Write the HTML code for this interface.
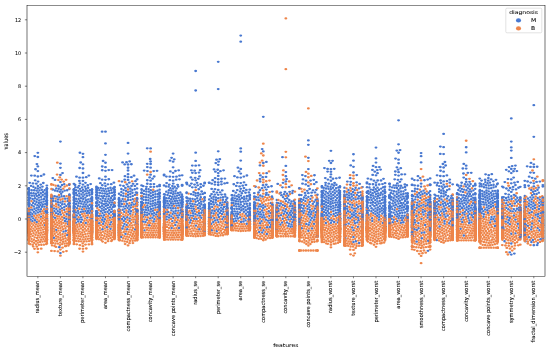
<!DOCTYPE html>
<html><head><meta charset="utf-8"><title>swarm plot</title>
<style>
html,body{margin:0;padding:0;background:#fff}
svg{display:block;filter:blur(0.3px)}
path{transform:scale(2.9,2.3)}
path.d{transform:scale(2.5,2.4)}
.m{stroke:#4878d0}
.b{stroke:#ee854a}
.t{font-family:"DejaVu Sans","Liberation Sans",sans-serif;fill:#000;stroke:#000;stroke-width:0.1}
</style></head><body>
<svg width="550" height="352" viewBox="0 0 550 352">
<rect width="550" height="352" fill="#fff"/>
<g fill="none" stroke-linecap="round" stroke-width="1">
<path class="m d" d="M11.53 83.54h.01M11.53 78.48h.01M18.75 80.21h.01M18.75 96.44h.01M18.75 79.03h.01M11.53 94.42h.01M11.53 83.03h.01M11.53 91.94h.01M11.53 93.34h.01M18.75 94.4h.01M12.89 87.41h.01M11.53 87.88h.01M17.08 81.23h.01M14.47 87.74h.01M11.53 91.9h.01M18.75 90.31h.01M18.75 90.04h.01M18.75 87.19h.01M11.53 79.97h.01"/>
<path class="b d" d="M11.53 92.28h.01M15.39 93.18h.01M11.53 100.2h.01"/>
<path class="m d" d="M11.53 88.74h.01"/>
<path class="m" d="M16.16 80.68h.01"/>
<path class="m d" d="M16.76 86.17h.01M17.14 85.21h.01M16.37 90.24h.01M15.49 82.33h.01M18.75 88.82h.01M16.48 84.37h.01M11.53 82.29h.01M11.53 95.61h.01M12.67 85.45h.01M18.75 81.03h.01M11.53 87.19h.01M13.47 86h.01M18.75 90.88h.01"/>
<path class="b d" d="M11.53 93.28h.01"/>
<path class="m d" d="M18.75 89.43h.01M11.53 92.4h.01M18.5 92.47h.01M11.53 97.36h.01M11.78 81.42h.01M18.75 92.79h.01M11.53 93h.01M18.75 82.25h.01"/>
<path class="b" d="M12.7 107.23h.01"/>
<path class="m d" d="M18.75 93h.01"/>
<path class="b d" d="M18.75 95.2h.01M18.75 92.38h.01M11.53 95.77h.01M16.93 92.08h.01M11.53 95.42h.01"/>
<path class="m d" d="M14.82 83.09h.01M11.53 89.22h.01"/>
<path class="b d" d="M18.75 96.24h.01"/>
<path class="m d" d="M11.53 81.15h.01M11.53 89.98h.01"/>
<path class="b d" d="M11.53 93.24h.01M17.51 101.94h.01M13.88 98.89h.01M13.09 101.98h.01"/>
<path class="m d" d="M11.53 90.88h.01"/>
<path class="b d" d="M16.04 100.85h.01"/>
<path class="m d" d="M11.53 93.97h.01M11.53 89.84h.01"/>
<path class="b d" d="M18.75 100.28h.01M11.53 96.65h.01M13.67 101.13h.01M18.75 93.77h.01"/>
<path class="m d" d="M14.72 81.68h.01"/>
<path class="b d" d="M18.75 101.41h.01"/>
<path class="m d" d="M11.53 85.09h.01M13.96 91.77h.01"/>
<path class="b d" d="M18.75 94.69h.01"/>
<path class="m d" d="M15.37 87.31h.01"/>
<path class="b d" d="M11.53 92.3h.01"/>
<path class="m d" d="M11.53 83.43h.01M17.83 79.25h.01"/>
<path class="b d" d="M11.53 93.61h.01M11.53 96.38h.01M18.75 92.67h.01"/>
<path class="m" d="M13.05 72.37h.01"/>
<path class="m d" d="M18.73 81.37h.01"/>
<path class="b d" d="M11.53 95.3h.01"/>
<path class="m d" d="M12.16 82.62h.01M18.75 90.43h.01M12.75 81.52h.01"/>
<path class="b d" d="M18.67 94.59h.01M18.75 90.12h.01M18.75 90.16h.01"/>
<path class="m d" d="M11.53 88.69h.01"/>
<path class="b d" d="M11.53 92.81h.01M18.75 92.45h.01"/>
<path class="m d" d="M18.75 89.29h.01M16.7 79.09h.01"/>
<path class="b d" d="M11.53 94.95h.01M11.53 99.64h.01M18.75 96.09h.01"/>
<path class="m d" d="M11.77 90.55h.01M12.97 92.14h.01"/>
<path class="b" d="M13.05 109.72h.01"/>
<path class="b d" d="M18.75 94.95h.01M11.53 99.47h.01M11.53 98.26h.01"/>
<path class="m d" d="M11.53 93.12h.01"/>
<path class="b d" d="M18.75 96.01h.01M18.75 94.59h.01"/>
<path class="m" d="M12.12 78.41h.01"/>
<path class="b d" d="M18.75 96.6h.01M18.75 99.66h.01M18.75 94.06h.01M11.53 90.86h.01M11.53 98.22h.01M12.13 101.73h.01M18.09 95.44h.01M11.53 101.29h.01"/>
<path class="m d" d="M11.53 89.67h.01M18.75 87.88h.01M18.32 83.62h.01"/>
<path class="b d" d="M11.53 96.46h.01"/>
<path class="m d" d="M11.53 82.23h.01"/>
<path class="m" d="M13.05 74.36h.01"/>
<path class="b d" d="M11.53 90.39h.01M11.53 92.61h.01M11.53 91.67h.01"/>
<path class="m d" d="M18.75 92.14h.01M13.73 81.56h.01"/>
<path class="b d" d="M18.75 89.22h.01"/>
<path class="m d" d="M17.16 80.01h.01"/>
<path class="b d" d="M18.75 94.93h.01"/>
<path class="m d" d="M12.23 88.51h.01M16.39 87.14h.01"/>
<path class="b d" d="M17.02 88.02h.01"/>
<path class="m d" d="M18.65 82.64h.01M18.04 93.79h.01"/>
<path class="b d" d="M18.75 95.87h.01M18.75 96.42h.01"/>
<path class="m d" d="M11.95 89.51h.01"/>
<path class="b d" d="M18.75 96.71h.01M11.53 99.74h.01"/>
<path class="m d" d="M18.75 87.23h.01"/>
<path class="b d" d="M11.53 96.42h.01M18.75 93.53h.01M17.14 97.75h.01M18.75 95.5h.01"/>
<path class="m d" d="M18.75 95.69h.01"/>
<path class="b d" d="M18.75 89.51h.01M11.53 90.51h.01M18.75 91.89h.01M18.75 93.34h.01"/>
<path class="b" d="M11.45 107.19h.01"/>
<path class="b d" d="M18.75 99.75h.01M16.49 96.97h.01M18.75 93.04h.01M11.53 94.81h.01"/>
<path class="m d" d="M14.6 84.15h.01"/>
<path class="b d" d="M18.7 85.8h.01M18.75 95.18h.01M18.05 97.46h.01M18.75 95.79h.01"/>
<path class="m d" d="M18.75 81.19h.01M18.75 80.4h.01"/>
<path class="b d" d="M17.46 94.63h.01"/>
<path class="m" d="M11.96 76.36h.01"/>
<path class="b d" d="M11.53 89.47h.01M18.75 97.66h.01"/>
<path class="m d" d="M11.63 85.92h.01M15.51 84.56h.01"/>
<path class="b d" d="M15.7 89.47h.01M18.75 94.67h.01"/>
<path class="m d" d="M14.67 92.49h.01M15.14 88.51h.01"/>
<path class="b d" d="M18.75 97.11h.01M11.53 97.93h.01M14.4 101.83h.01M18.75 99.41h.01"/>
<path class="m d" d="M14.7 86.55h.01"/>
<path class="b d" d="M11.53 93.32h.01M17 93.71h.01"/>
<path class="m" d="M13.05 68.27h.01"/>
<path class="m d" d="M15.14 77.46h.01M18.15 88.04h.01"/>
<path class="b d" d="M18.32 96.46h.01"/>
<path class="m d" d="M11.53 88.86h.01"/>
<path class="b d" d="M11.53 99.07h.01"/>
<path class="m d" d="M13.07 82.92h.01"/>
<path class="b d" d="M11.53 95.87h.01M17.13 95.67h.01M11.53 94.71h.01"/>
<path class="m d" d="M18.75 90.94h.01"/>
<path class="b d" d="M11.53 93.79h.01M11.53 99.78h.01"/>
<path class="m d" d="M11.53 94.63h.01M11.53 89.69h.01"/>
<path class="b d" d="M14.46 93.51h.01"/>
<path class="m d" d="M11.53 91.83h.01M18.75 83.37h.01M11.53 81.21h.01M11.53 90.49h.01"/>
<path class="b d" d="M11.54 94.85h.01"/>
<path class="m d" d="M18.75 84.43h.01"/>
<path class="m" d="M10.8 76.32h.01"/>
<path class="m d" d="M18.75 91.75h.01"/>
<path class="b d" d="M11.53 94.38h.01"/>
<path class="m d" d="M12.96 89.18h.01"/>
<path class="b d" d="M18.35 99.47h.01"/>
<path class="m d" d="M15.02 85.47h.01"/>
<path class="b d" d="M12.64 93.12h.01M17.57 88.88h.01"/>
<path class="m d" d="M18.75 78.46h.01"/>
<path class="b d" d="M11.53 95.61h.01"/>
<path class="m" d="M13.05 66.45h.01"/>
<path class="m d" d="M18.75 84.66h.01M13.3 91h.01M18.75 91.65h.01"/>
<path class="b d" d="M18.75 95.52h.01M18.75 98.83h.01"/>
<path class="m d" d="M11.53 79.99h.01M16.32 80.52h.01"/>
<path class="b d" d="M11.53 92.06h.01M18.75 92.24h.01M16.77 98.87h.01"/>
<path class="m d" d="M11.53 87.94h.01"/>
<path class="b d" d="M13.73 92.81h.01M14.3 90.71h.01M11.53 98.36h.01M18.75 89.41h.01M11.53 94.08h.01"/>
<path class="m d" d="M18.75 93.67h.01M11.53 85.39h.01"/>
<path class="b d" d="M18.75 96.63h.01M18.75 96.83h.01"/>
<path class="m d" d="M18.75 78.6h.01"/>
<path class="b d" d="M15.31 100.08h.01M18.75 91.32h.01"/>
<path class="m" d="M14.18 76.49h.01"/>
<path class="m d" d="M11.53 78.66h.01"/>
<path class="b d" d="M17.13 90.94h.01"/>
<path class="m d" d="M13.25 84.58h.01"/>
<path class="b d" d="M18.75 92.08h.01M14.08 94.48h.01M17.4 96.67h.01M18.75 91.87h.01"/>
<path class="m d" d="M11.53 80.78h.01"/>
<path class="b d" d="M13.09 98.28h.01M11.53 92.94h.01M18.75 93.55h.01M16.17 97.95h.01M12.99 96.24h.01"/>
<path class="m d" d="M16.97 77.75h.01"/>
<path class="b d" d="M18.75 96.28h.01"/>
<path class="m d" d="M18.75 80.13h.01M11.83 84.9h.01M17.92 80.68h.01M12.26 91.45h.01M11.53 80.48h.01M11.53 88.78h.01M16.05 88.12h.01M18.75 88.37h.01M18.75 78.99h.01M11.53 84.8h.01M18.75 84.92h.01M13.52 88.21h.01M14.1 85.11h.01M16.07 78.17h.01"/>
<path class="b d" d="M18.75 98.05h.01M18.75 92.18h.01M18.75 93.59h.01M14.19 97.83h.01M18.75 90.81h.01M11.53 96.69h.01"/>
<path class="m" d="M10.24 79.48h.01"/>
<path class="b d" d="M18.75 99.73h.01"/>
<path class="m d" d="M13.73 83.66h.01"/>
<path class="b d" d="M12.29 95.52h.01M11.53 96.62h.01"/>
<path class="m d" d="M17.9 81.93h.01"/>
<path class="b d" d="M15.66 92.18h.01M18.75 91.67h.01"/>
<path class="m d" d="M15.61 81.25h.01"/>
<path class="b d" d="M11.53 95.81h.01"/>
<path class="m d" d="M18.75 80.78h.01M13.8 86.98h.01"/>
<path class="b d" d="M11.53 93.55h.01M11.53 94.16h.01M11.53 95.42h.01M11.53 93.55h.01M18.75 96.75h.01M18.75 96.54h.01M18.05 90.57h.01M11.53 89.49h.01M11.53 93.44h.01M18.75 95.59h.01M18.75 93.89h.01M11.53 91.83h.01M18.75 97.44h.01"/>
<path class="m d" d="M18.75 95.77h.01"/>
<path class="b d" d="M18.75 90.86h.01M18.75 98.22h.01"/>
<path class="m d" d="M13.41 80.52h.01"/>
<path class="b d" d="M11.53 94.4h.01"/>
<path class="m d" d="M14.64 79.42h.01"/>
<path class="b d" d="M18.75 98.26h.01M18.75 96.36h.01M18.75 96.09h.01M18.75 92.94h.01M18.75 101.19h.01M18.75 92.36h.01M18.75 93.24h.01M11.53 95.89h.01M11.53 90.18h.01M11.53 93.81h.01M11.53 96.2h.01M16.52 101.98h.01M18.75 94.34h.01M11.53 94.95h.01"/>
<path class="m d" d="M16.6 83.09h.01"/>
<path class="b d" d="M15.08 101.11h.01M11.53 94.46h.01M11.53 98.73h.01"/>
<path class="m d" d="M13.66 79.28h.01"/>
<path class="b d" d="M11.53 93.61h.01"/>
<path class="m d" d="M11.53 78.93h.01"/>
<path class="b d" d="M18.75 94.91h.01M18.75 93.99h.01M18.75 91.16h.01M13.36 95.24h.01"/>
<path class="m d" d="M18.75 86.92h.01M11.53 86.94h.01M11.9 87.39h.01"/>
<path class="b d" d="M18.75 93.38h.01M11.53 96.83h.01M18.75 96.77h.01M18.75 94.71h.01"/>
<path class="m d" d="M16.14 85.37h.01"/>
<path class="b d" d="M18.75 93.36h.01"/>
<path class="m d" d="M16.43 82.01h.01"/>
<path class="b d" d="M18.75 99.13h.01"/>
<path class="m" d="M15.14 75.87h.01"/>
<path class="b d" d="M18.75 90.55h.01M18.75 100h.01M15.52 97.15h.01"/>
<path class="m d" d="M15.26 80.23h.01"/>
<path class="b d" d="M18.75 95.87h.01M18.75 98.72h.01M11.53 95.18h.01M17.29 89.88h.01M11.53 96.34h.01M18.75 95.4h.01M16.21 95.97h.01"/>
<path class="m d" d="M18.75 87.94h.01"/>
<path class="m" d="M12.73 71.32h.01"/>
<path class="m d" d="M11.53 89.26h.01"/>
<path class="b d" d="M18.75 96.99h.01M11.53 94.2h.01M18.75 93.24h.01M11.53 91.63h.01M11.53 101.43h.01M11.53 100.33h.01M18.75 94.24h.01M18.75 92.75h.01M13.35 93.81h.01M12.47 86.47h.01M18.75 92.55h.01"/>
<path class="m d" d="M11.53 78.74h.01M11.69 79.21h.01"/>
<path class="b d" d="M11.53 94.89h.01"/>
<path class="m" d="M14.93 79.56h.01M13.13 78.94h.01"/>
<path class="m d" d="M18.75 86.76h.01"/>
<path class="b d" d="M16.59 89.04h.01"/>
<path class="m" d="M14.04 80.25h.01"/>
<path class="m d" d="M14.17 78.34h.01"/>
<path class="b d" d="M11.53 91.98h.01M18.75 87.12h.01M15.14 98.11h.01M11.93 92.43h.01M18.75 92.04h.01"/>
<path class="m d" d="M11.53 97.11h.01"/>
<path class="b d" d="M18.75 96.73h.01M18.75 97.18h.01M11.53 95.2h.01M12.64 94.53h.01M11.53 92.79h.01"/>
<path class="m d" d="M12.7 90.2h.01"/>
<path class="b d" d="M18.75 94.89h.01M18.75 91.61h.01M11.53 96.73h.01"/>
<path class="m d" d="M12.43 80.48h.01"/>
<path class="b d" d="M18.75 98.72h.01M18.47 101.71h.01"/>
<path class="m d" d="M18.75 88.45h.01"/>
<path class="m" d="M11.36 79.76h.01"/>
<path class="b d" d="M18.75 95.1h.01M18.75 91.26h.01M11.53 92.34h.01M11.53 93.73h.01M11.53 97.15h.01M11.53 95.69h.01"/>
<path class="m d" d="M18.75 83.7h.01"/>
<path class="b d" d="M18.75 95.44h.01M11.53 93.42h.01M18.75 93.46h.01M18.75 94.63h.01M18.75 97.38h.01M17.59 87.17h.01M11.53 93.63h.01"/>
<path class="m d" d="M15.71 83.54h.01"/>
<path class="b d" d="M11.53 94.77h.01M12.08 96.56h.01M13.41 97.18h.01M14.38 100.41h.01M11.53 89.43h.01"/>
<path class="m d" d="M18.75 89.16h.01"/>
<path class="b d" d="M11.53 95.52h.01M11.85 100.39h.01"/>
<path class="m d" d="M18.75 88.43h.01"/>
<path class="b d" d="M16.08 93.93h.01M11.53 96.95h.01M15.25 96.14h.01M11.53 90.02h.01M13.97 96.07h.01M11.53 92.04h.01M11.53 99.73h.01M14.83 99.17h.01M18.65 98.28h.01M11.53 97.66h.01M18.75 97.01h.01M18.75 93.89h.01"/>
<path class="m d" d="M18.75 89.61h.01"/>
<path class="b d" d="M18.75 94.52h.01"/>
<path class="m d" d="M12.67 79.25h.01M18.75 81.91h.01"/>
<path class="b d" d="M11.53 89.69h.01"/>
<path class="m d" d="M18.75 91.41h.01"/>
<path class="b d" d="M11.53 93.59h.01M11.53 91.3h.01M17.83 91.67h.01M16.24 91.34h.01M11.53 97.32h.01"/>
<path class="m d" d="M18.1 84.96h.01"/>
<path class="b d" d="M11.53 91.81h.01M11.53 98.11h.01"/>
<path class="m d" d="M18.75 83.47h.01"/>
<path class="b d" d="M14.66 95.32h.01"/>
<path class="m d" d="M17.41 84.01h.01"/>
<path class="b d" d="M14.79 89.8h.01M11.53 90.33h.01"/>
<path class="m d" d="M12.4 77.44h.01"/>
<path class="b d" d="M11.53 95.56h.01"/>
<path class="m d" d="M11.53 80.4h.01"/>
<path class="b d" d="M18.75 95.3h.01M18.75 90.33h.01M18.75 94.08h.01M11.53 92.59h.01M11.53 96.03h.01M16.35 92.93h.01M18.75 93.34h.01M17.39 99.71h.01"/>
<path class="m d" d="M18.75 85.33h.01"/>
<path class="m" d="M11.98 67.86h.01"/>
<path class="b d" d="M15.44 90.59h.01M11.53 96.09h.01M18.75 93h.01M17.58 92.87h.01M18.75 93.06h.01M11.53 99.88h.01"/>
<path class="m d" d="M11.53 84.31h.01"/>
<path class="b d" d="M11.53 96.05h.01M13.53 99.88h.01M11.53 95.22h.01M18.75 89.57h.01M11.53 94.77h.01M11.53 97.5h.01M18.75 93.67h.01M11.53 90.98h.01M11.53 91.57h.01M11.53 96.3h.01"/>
<path class="m d" d="M11.53 86.96h.01"/>
<path class="b d" d="M18.75 94.99h.01M11.53 91.57h.01M18.75 92.42h.01M18.75 91.96h.01M11.53 87.98h.01M18.75 94.42h.01M18.75 90.12h.01"/>
<path class="m d" d="M14.38 80.7h.01"/>
<path class="b d" d="M18.75 95.93h.01"/>
<path class="m d" d="M17.75 86.1h.01"/>
<path class="b d" d="M11.53 94.81h.01M12.58 83.82h.01"/>
<path class="m d" d="M11.64 83.5h.01"/>
<path class="b d" d="M11.53 94.4h.01M11.53 93.02h.01M18.75 89.67h.01M11.53 94.02h.01M18.75 94.38h.01"/>
<path class="m d" d="M14 82.56h.01M11.53 78.44h.01"/>
<path class="b d" d="M18.75 89.33h.01"/>
<path class="m d" d="M11.53 91.73h.01"/>
<path class="b d" d="M15.14 94.24h.01"/>
<path class="m" d="M13.05 76.73h.01"/>
<path class="b d" d="M17.01 100.66h.01M16.35 99.86h.01M16.5 94.87h.01M18.75 97.15h.01M11.53 86.86h.01"/>
<path class="m d" d="M18.75 88.51h.01"/>
<path class="b d" d="M18.75 95.81h.01M18.7 89.79h.01"/>
<path class="m d" d="M11.53 92.55h.01"/>
<path class="b d" d="M11.53 90.24h.01"/>
<path class="m d" d="M11.53 89.31h.01"/>
<path class="b d" d="M11.53 96.6h.01"/>
<path class="m d" d="M17.57 82.92h.01M18.75 79.81h.01"/>
<path class="b d" d="M11.53 93.57h.01M11.91 93.83h.01M12.81 100.61h.01"/>
<path class="m" d="M12.24 73.58h.01"/>
<path class="b d" d="M11.53 96.75h.01M18.75 91.94h.01M12.6 99.53h.01M15.53 102.03h.01M11.53 92.43h.01M11.53 94.63h.01M14.95 91.49h.01M15.59 95.16h.01M11.53 95.79h.01M11.53 95.95h.01M18.75 92h.01"/>
<path class="m d" d="M18.75 78.68h.01"/>
<path class="b d" d="M11.53 97.34h.01"/>
<path class="m d" d="M15.14 78.52h.01M11.53 90.84h.01"/>
<path class="b d" d="M18.75 95.91h.01"/>
<path class="b" d="M11.9 108.19h.01M13.05 108.27h.01"/>
<path class="b d" d="M18.75 96.2h.01M18.75 90.45h.01M13.65 89.92h.01M11.53 92.93h.01M18.75 91.63h.01M11.53 92.12h.01M12.15 98.6h.01M11.53 98.72h.01M18.75 99.85h.01M18.75 97.62h.01M12.4 97.54h.01M11.53 97.01h.01M18.75 93.79h.01M17.99 100.53h.01M18.75 93.57h.01M17.73 98.66h.01M15.79 98.91h.01M18.75 100.36h.01M18.75 90.22h.01M11.53 96.26h.01M11.53 91.28h.01M14.57 96.87h.01"/>
<path class="m d" d="M14.19 88.98h.01M13.33 77.79h.01"/>
<path class="m" d="M12.51 79.86h.01"/>
<path class="m d" d="M15.79 79.34h.01M15.65 86.27h.01M18.75 78.42h.01"/>
<path class="b" d="M14.2 108.13h.01"/>
<path class="m" d="M20.83 110.04h.01"/>
<path class="m d" d="M27.76 93.57h.01M21.78 87.97h.01M24.28 89.37h.01M21.56 99.08h.01M20.55 96.9h.01M27.76 90.01h.01M27.76 88.65h.01M20.55 87.06h.01M27.76 83.49h.01M20.55 84.77h.01M27.22 93.38h.01M23.75 82.26h.01M20.55 83.63h.01M26.53 85.79h.01M24.16 77.86h.01M20.55 89.77h.01M20.55 88.89h.01M27.76 86.53h.01"/>
<path class="b d" d="M24.16 99.05h.01M27.76 96.88h.01M23.97 102.14h.01"/>
<path class="m d" d="M27.76 99.21h.01M27.27 85.09h.01M20.55 87.76h.01M22.48 95.77h.01M20.89 87.52h.01M20.55 89.58h.01M27.76 81.51h.01M26.89 97.94h.01M25.62 81.77h.01M25.98 92.07h.01M27.76 83.58h.01M22.97 79.58h.01M20.55 93.39h.01M27.76 87.43h.01M27.76 87.22h.01"/>
<path class="b d" d="M21.57 92.52h.01"/>
<path class="m d" d="M20.91 81.62h.01M27.76 88.66h.01M27.76 87.44h.01M27.76 87.81h.01M20.55 82.25h.01M20.55 89.53h.01M20.55 87.07h.01M20.55 93.84h.01"/>
<path class="b d" d="M20.55 95.06h.01"/>
<path class="m d" d="M27.76 92.14h.01"/>
<path class="b d" d="M25.05 98.62h.01M20.55 86.28h.01M27.76 87.41h.01M20.55 95.87h.01M27.76 92.81h.01"/>
<path class="m d" d="M20.55 92.07h.01M24.77 86.73h.01"/>
<path class="b d" d="M27.76 91.99h.01"/>
<path class="m d" d="M27.76 92.28h.01M25.71 87.43h.01"/>
<path class="b d" d="M23.05 91.09h.01"/>
<path class="b" d="M21.54 107.67h.01"/>
<path class="b d" d="M27.76 98.22h.01M20.55 88.41h.01"/>
<path class="m d" d="M27.76 86.53h.01"/>
<path class="b d" d="M27.76 99.86h.01"/>
<path class="m d" d="M27.04 83.81h.01M20.55 83.65h.01"/>
<path class="b d" d="M20.55 88.36h.01M27.76 91.53h.01M21.41 94.28h.01M20.55 95.63h.01"/>
<path class="m d" d="M27.76 87.88h.01"/>
<path class="b d" d="M20.55 98.6h.01"/>
<path class="m d" d="M21.26 82.71h.01M27.76 96.75h.01"/>
<path class="b d" d="M20.55 95.58h.01"/>
<path class="m d" d="M20.55 90.55h.01"/>
<path class="b" d="M17.72 109.1h.01"/>
<path class="m d" d="M26.34 96.17h.01M20.55 83.6h.01"/>
<path class="b d" d="M27.76 93.2h.01M25.99 88.42h.01M20.55 96.64h.01"/>
<path class="m d" d="M20.55 82.09h.01M24.99 79.87h.01"/>
<path class="b d" d="M27.26 96.98h.01"/>
<path class="m d" d="M26.93 92.36h.01M27.76 87.63h.01M20.55 82.6h.01"/>
<path class="b d" d="M26.64 87.09h.01M23.22 97.64h.01M20.55 83.52h.01"/>
<path class="m d" d="M20.55 85.54h.01"/>
<path class="b d" d="M20.55 98.41h.01M22.71 92.72h.01"/>
<path class="m d" d="M20.55 90.26h.01M24.87 85.11h.01"/>
<path class="b d" d="M24.57 93.46h.01M22.75 90.08h.01M25.83 101.5h.01"/>
<path class="m d" d="M21.11 90.35h.01M27.76 81.97h.01"/>
<path class="b d" d="M22.81 100.55h.01M20.55 89.15h.01M27.76 90.95h.01M24.16 91.12h.01"/>
<path class="m d" d="M20.55 97.12h.01"/>
<path class="b d" d="M20.55 92.67h.01M20.6 92.33h.01"/>
<path class="m d" d="M20.55 90.51h.01"/>
<path class="b d" d="M20.55 87.96h.01M27.76 94.82h.01M20.55 88.76h.01M20.55 90.55h.01M21.86 89.68h.01M27.76 96.69h.01M27.76 87.52h.01M22.63 96.8h.01"/>
<path class="m d" d="M20.55 95.34h.01M23.39 85.3h.01M20.55 89.97h.01"/>
<path class="b" d="M19.97 109.3h.01"/>
<path class="m d" d="M27.76 94.61h.01M20.55 89.66h.01"/>
<path class="b" d="M18.82 109.18h.01"/>
<path class="b d" d="M27.76 95.79h.01M27.76 94.47h.01"/>
<path class="m d" d="M27.76 82.44h.01M27.76 91.74h.01"/>
<path class="b d" d="M20.55 95.79h.01"/>
<path class="m d" d="M21.88 81.75h.01"/>
<path class="b d" d="M27.76 100.77h.01"/>
<path class="m d" d="M25.71 90.82h.01M20.55 87.51h.01"/>
<path class="b d" d="M23.44 99.74h.01"/>
<path class="m d" d="M20.55 86.91h.01M20.55 86.01h.01"/>
<path class="b d" d="M27.76 95.34h.01M21.85 97.4h.01"/>
<path class="m d" d="M27.76 93.89h.01"/>
<path class="b d" d="M27.76 100.61h.01"/>
<path class="b" d="M19.29 107.37h.01"/>
<path class="m d" d="M27.76 93.12h.01"/>
<path class="b d" d="M27.76 94.31h.01M27.76 96.54h.01M20.55 98.07h.01M27.76 98.59h.01"/>
<path class="m d" d="M27.76 95.48h.01"/>
<path class="b d" d="M20.55 91.96h.01M20.55 97.73h.01M20.97 93.34h.01M20.55 88.73h.01M21.26 88.86h.01M25.03 97.48h.01M20.55 101.11h.01M20.55 97.48h.01M27.76 93.3h.01"/>
<path class="m d" d="M22.38 88.79h.01"/>
<path class="b d" d="M20.55 90.85h.01M27.76 101.66h.01M20.55 101.3h.01M25.57 89.69h.01"/>
<path class="m d" d="M25.4 96.51h.01M20.55 92.96h.01"/>
<path class="b d" d="M27.39 86.41h.01"/>
<path class="m d" d="M27.76 86.7h.01"/>
<path class="b d" d="M24.82 90.37h.01"/>
<path class="b" d="M20.83 111.16h.01"/>
<path class="m d" d="M20.55 91.91h.01M20.55 82.46h.01"/>
<path class="b d" d="M20.55 94.89h.01M20.8 102.22h.01"/>
<path class="m d" d="M27.76 90.58h.01"/>
<path class="m" d="M20.44 107.5h.01"/>
<path class="b d" d="M27.76 98.49h.01M27.76 97.78h.01M27.76 98.91h.01M20.55 93.1h.01"/>
<path class="m d" d="M27.76 89.81h.01"/>
<path class="b d" d="M23.39 86.41h.01M27.76 101.14h.01"/>
<path class="m d" d="M27.76 86.98h.01M25.88 79.42h.01M20.55 89.48h.01"/>
<path class="b d" d="M20.55 98.15h.01"/>
<path class="m d" d="M27.76 86.11h.01"/>
<path class="b d" d="M20.55 97.85h.01"/>
<path class="m d" d="M20.55 92.27h.01"/>
<path class="b d" d="M24.92 94.5h.01M20.55 94.18h.01M27.76 96.58h.01"/>
<path class="m d" d="M20.82 84.97h.01"/>
<path class="b d" d="M20.55 87.72h.01M20.55 92.85h.01"/>
<path class="m d" d="M21.1 78.95h.01M20.55 84.82h.01"/>
<path class="b d" d="M20.83 95.88h.01"/>
<path class="m d" d="M20.76 86.3h.01M20.55 87.02h.01M27.76 85.98h.01M20.55 89.63h.01"/>
<path class="b d" d="M27.41 90.69h.01"/>
<path class="m d" d="M20.55 91.08h.01M26.86 79.26h.01M25.07 83.95h.01"/>
<path class="b d" d="M20.55 92.23h.01"/>
<path class="m d" d="M27.76 95.32h.01"/>
<path class="b d" d="M20.55 94.37h.01"/>
<path class="m d" d="M27.76 89.56h.01"/>
<path class="b d" d="M27.76 85.9h.01M20.55 101.38h.01"/>
<path class="m d" d="M20.55 86.54h.01"/>
<path class="b d" d="M20.55 91.69h.01"/>
<path class="m d" d="M20.55 92.44h.01M27.76 81.04h.01M22.26 83.86h.01M27.62 94.92h.01"/>
<path class="b d" d="M27.76 92.64h.01M20.55 94.04h.01"/>
<path class="m d" d="M27.76 87.47h.01"/>
<path class="m" d="M20.83 72.97h.01"/>
<path class="b d" d="M27.76 100.98h.01M27.76 99.79h.01M27.76 93.95h.01"/>
<path class="m d" d="M20.55 89.58h.01"/>
<path class="b d" d="M27.76 94.77h.01M20.55 100.48h.01M20.55 97.28h.01M20.55 97.2h.01M27.76 83.6h.01"/>
<path class="m d" d="M27.76 86.24h.01M20.55 91.46h.01"/>
<path class="b d" d="M25.28 78.6h.01"/>
<path class="b" d="M19.76 70.72h.01"/>
<path class="m d" d="M23.26 77.42h.01"/>
<path class="b d" d="M20.55 96.56h.01M27.76 87.97h.01"/>
<path class="m d" d="M27.73 78.77h.01M27.76 87.63h.01"/>
<path class="b d" d="M22.27 77.36h.01"/>
<path class="m" d="M20.83 61.54h.01"/>
<path class="b d" d="M27.76 97.06h.01M24.16 97.96h.01M27.76 92.89h.01M26.05 83.92h.01"/>
<path class="m d" d="M24.16 84.35h.01"/>
<path class="b d" d="M23.69 90.21h.01M23.81 94.12h.01M20.55 99.45h.01M27.58 81.59h.01M20.55 98.14h.01"/>
<path class="m d" d="M23.17 84.26h.01"/>
<path class="b d" d="M20.55 92.48h.01"/>
<path class="m d" d="M27.76 90.27h.01M27.76 94.68h.01M27.76 91.06h.01M20.55 94.73h.01"/>
<path class="m" d="M20.83 79.18h.01"/>
<path class="m d" d="M27.76 94.37h.01M27.76 84.84h.01"/>
<path class="m" d="M20.83 71.14h.01"/>
<path class="m d" d="M23.48 78.63h.01M25.82 85.06h.01M27.76 86.56h.01M27.76 90.98h.01M20.55 86.65h.01"/>
<path class="m" d="M21.56 75.23h.01"/>
<path class="b d" d="M20.55 91.67h.01M20.55 87.02h.01M23.38 96.08h.01M27.76 89.36h.01M24.14 95.1h.01M21.24 101.18h.01"/>
<path class="m d" d="M20.55 88.39h.01"/>
<path class="b d" d="M23.93 96.95h.01"/>
<path class="m d" d="M26.07 82.78h.01"/>
<path class="b d" d="M27.76 94.23h.01M22.51 99.37h.01"/>
<path class="m d" d="M20.55 90.01h.01"/>
<path class="b d" d="M22.01 93.46h.01M27.76 97.73h.01"/>
<path class="m d" d="M22 79.37h.01"/>
<path class="b d" d="M27.76 99.6h.01"/>
<path class="m d" d="M27.76 92.91h.01M27.76 91.96h.01"/>
<path class="b d" d="M27.76 96.9h.01M27.76 92.56h.01M27.76 88.76h.01M27.76 101.05h.01M27.76 90.05h.01M22.3 91.77h.01M20.55 90.42h.01M20.55 91.43h.01M20.55 96.38h.01M20.55 94.07h.01M20.92 99.99h.01M27.57 100.81h.01M27.35 102.28h.01"/>
<path class="m d" d="M27.76 92.97h.01"/>
<path class="b d" d="M20.55 92.93h.01M22.44 85.01h.01"/>
<path class="m d" d="M20.55 91.75h.01"/>
<path class="b d" d="M26.47 90.16h.01"/>
<path class="m d" d="M21.28 83.78h.01"/>
<path class="b d" d="M27.76 92.22h.01M27.76 92.94h.01M22.25 82.76h.01M20.55 96.7h.01M20.58 98.99h.01M24.87 101.71h.01M26.98 99.89h.01M27.76 91.41h.01M20.55 96.91h.01M20.55 100.64h.01"/>
<path class="b" d="M21.81 109.47h.01"/>
<path class="b d" d="M27.76 92.23h.01M20.55 95.05h.01M20.55 99.5h.01"/>
<path class="m d" d="M27.76 91.8h.01"/>
<path class="b d" d="M20.55 91.75h.01M20.55 94.81h.01M20.55 96.13h.01"/>
<path class="m d" d="M27.76 90.53h.01"/>
<path class="b d" d="M25.2 100.73h.01"/>
<path class="m d" d="M27.76 87.55h.01"/>
<path class="b d" d="M27.76 97.69h.01M26.81 94.32h.01M26.78 101.43h.01M20.55 93.31h.01"/>
<path class="m d" d="M20.55 88.84h.01M20.55 86.96h.01M27.76 97.2h.01"/>
<path class="b d" d="M20.55 91.03h.01M20.55 90.21h.01M27.76 98.38h.01M25.01 91.56h.01"/>
<path class="m d" d="M23.99 88.37h.01"/>
<path class="b d" d="M26.18 99.26h.01"/>
<path class="m d" d="M20.55 87.68h.01"/>
<path class="b d" d="M20.55 93.95h.01"/>
<path class="m d" d="M23.17 83.12h.01"/>
<path class="b d" d="M27.76 95.55h.01M27.76 95.06h.01M27.76 98.09h.01"/>
<path class="m d" d="M23.93 87.28h.01"/>
<path class="b d" d="M27.76 97.3h.01M20.55 98.49h.01M27.76 91.75h.01M20.55 98.44h.01M21.7 96.37h.01M20.55 98.09h.01M20.55 94.69h.01"/>
<path class="m d" d="M26.57 91.24h.01M27.76 94.07h.01M24.47 80.75h.01"/>
<path class="b d" d="M27.76 99.52h.01M20.55 91.48h.01M20.55 92.25h.01M24.47 96.08h.01M26.17 97.24h.01M20.55 92.68h.01M20.55 93.09h.01M20.55 87.46h.01M27.76 91.85h.01M27.76 92.73h.01M27.76 94.89h.01"/>
<path class="m d" d="M22.53 87.12h.01M24.4 79h.01"/>
<path class="b d" d="M20.55 93.17h.01"/>
<path class="m d" d="M27.76 94.41h.01M27.76 86.93h.01M27.76 84.69h.01"/>
<path class="b d" d="M27.76 100.9h.01"/>
<path class="m d" d="M27.76 97.86h.01M20.55 94.24h.01"/>
<path class="b d" d="M27.76 96.3h.01M20.55 96.3h.01M27.76 89.63h.01M20.55 76.78h.01M20.55 97.78h.01"/>
<path class="m d" d="M27.76 91.86h.01"/>
<path class="b d" d="M27.76 101.3h.01M27.76 98.14h.01M27.76 85.61h.01M20.55 94.04h.01M24.36 100.08h.01"/>
<path class="m d" d="M27.76 84.69h.01"/>
<path class="b d" d="M27.76 99.49h.01M27.76 96.16h.01M27.76 97.22h.01"/>
<path class="m d" d="M27.76 84.82h.01"/>
<path class="b d" d="M26.38 102.49h.01M20.55 95.06h.01"/>
<path class="m d" d="M27.76 90.03h.01M25.68 86.32h.01"/>
<path class="b d" d="M27.76 93.65h.01M27.76 94.52h.01M20.55 91.77h.01M25.82 94.07h.01M22.33 98.3h.01M20.55 94.39h.01"/>
<path class="m d" d="M27.76 88.34h.01"/>
<path class="b" d="M22.92 109.15h.01"/>
<path class="b d" d="M20.55 92.73h.01M27.76 96.14h.01M27.76 98.1h.01M27.76 92.25h.01M25.95 98.25h.01M24.8 87.78h.01"/>
<path class="m d" d="M20.55 88.92h.01"/>
<path class="b d" d="M20.55 93.33h.01M27.76 93.89h.01M26.16 95.08h.01M27.76 87.28h.01M20.55 86.59h.01"/>
<path class="m" d="M18.2 77.43h.01"/>
<path class="b d" d="M26.93 88.1h.01M20.55 87.25h.01"/>
<path class="m d" d="M27.76 88.25h.01"/>
<path class="b" d="M22.48 107.03h.01"/>
<path class="b d" d="M20.55 87.72h.01M21.29 91.53h.01M20.55 99.66h.01M20.55 96.38h.01M27.76 91.38h.01M27.76 91.4h.01M20.55 87.92h.01M27.76 98.06h.01M27.76 86.8h.01M20.55 95.42h.01M22.93 93.73h.01"/>
<path class="m d" d="M27.76 85.91h.01"/>
<path class="b d" d="M27.76 93.71h.01"/>
<path class="m d" d="M27.76 90.72h.01M21.62 86.81h.01"/>
<path class="b d" d="M27.76 94.9h.01"/>
<path class="m d" d="M20.55 90.59h.01"/>
<path class="b d" d="M20.55 90.72h.01M27.76 96.45h.01M27.76 90.63h.01M20.55 96.96h.01M20.55 94.49h.01"/>
<path class="m d" d="M27.76 81.27h.01"/>
<path class="b d" d="M20.55 96.75h.01M27.76 92.68h.01"/>
<path class="m d" d="M20.55 95.05h.01"/>
<path class="b d" d="M27.76 82.12h.01"/>
<path class="m d" d="M24.8 77.07h.01"/>
<path class="b d" d="M20.55 93.75h.01M27.76 91.04h.01"/>
<path class="m d" d="M23.31 89.15h.01"/>
<path class="b d" d="M27.71 87.51h.01"/>
<path class="m d" d="M22.85 81.94h.01"/>
<path class="b d" d="M27.76 76.75h.01M25.27 99.66h.01M22.35 94.57h.01"/>
<path class="b" d="M19.68 75.91h.01M20.13 78.31h.01"/>
<path class="b d" d="M20.55 81.54h.01M26.61 81.73h.01M27.76 76.8h.01"/>
<path class="m d" d="M22.52 78.48h.01M23.91 79.9h.01"/>
<path class="b d" d="M20.55 78.74h.01M20.55 92.62h.01M27.76 92.85h.01M27.76 89.77h.01M25.07 88.79h.01M23.67 93.04h.01"/>
<path class="m d" d="M20.55 84.63h.01"/>
<path class="b d" d="M20.55 92.91h.01M24.45 92.41h.01M20.55 76.89h.01M21.16 98.14h.01"/>
<path class="b" d="M20.6 77.16h.01"/>
<path class="b d" d="M20.97 97.03h.01M20.55 96.85h.01M27.76 89.13h.01M20.55 95.42h.01M23.25 98.68h.01"/>
<path class="m d" d="M22.02 90.77h.01"/>
<path class="b d" d="M26.29 93.15h.01M20.55 91.2h.01M20.55 99.54h.01M20.55 93.78h.01"/>
<path class="b" d="M20.83 108.53h.01"/>
<path class="b d" d="M27.76 95.76h.01M23.19 95.05h.01"/>
<path class="m d" d="M27.76 91.88h.01"/>
<path class="b d" d="M20.55 96.14h.01"/>
<path class="m d" d="M27.56 89.66h.01"/>
<path class="b d" d="M22.46 86.06h.01M20.55 100.87h.01"/>
<path class="m d" d="M27.76 89.08h.01"/>
<path class="b d" d="M23.18 101.51h.01M20.55 89.11h.01M27.76 89.64h.01M27.76 92.93h.01M20.55 94.31h.01"/>
<path class="m d" d="M27.76 93.97h.01M23.07 87.99h.01"/>
<path class="b d" d="M27.76 95.23h.01"/>
<path class="m d" d="M27.05 82.76h.01"/>
<path class="b d" d="M27.29 95.9h.01"/>
<path class="m d" d="M27.76 90.26h.01"/>
<path class="b d" d="M22.19 101.45h.01M20.55 101.01h.01M27.76 89.92h.01M20.55 94.61h.01M27.76 96.9h.01"/>
<path class="m d" d="M27.76 83.63h.01"/>
<path class="b d" d="M20.55 98.52h.01M27.76 98.51h.01"/>
<path class="m d" d="M26.7 89.15h.01"/>
<path class="b d" d="M21.89 100.18h.01"/>
<path class="m d" d="M27.76 91.48h.01"/>
<path class="b d" d="M20.55 92.22h.01"/>
<path class="m d" d="M27.76 89.05h.01M27.76 89.56h.01"/>
<path class="b d" d="M25.34 92.85h.01M21.64 95.29h.01M20.55 99.79h.01"/>
<path class="m d" d="M20.55 87.41h.01"/>
<path class="b d" d="M20.55 90.26h.01M27.76 92.11h.01M27.76 96.93h.01M24.08 101.08h.01M23.54 91.99h.01M21.77 102.41h.01M20.55 100.97h.01M26.2 100.53h.01M27.76 93.91h.01M20.55 89.95h.01M27.76 95.88h.01"/>
<path class="m d" d="M27.76 88.91h.01"/>
<path class="b d" d="M27.76 93.81h.01"/>
<path class="m d" d="M27.76 88.6h.01M24.21 85.88h.01"/>
<path class="b d" d="M25.08 82.84h.01M20.55 81.15h.01M23.6 81.23h.01M27.35 98.92h.01M20.55 81.96h.01M20.55 81.27h.01M21.34 77.02h.01M27.76 88.86h.01M20.55 84.79h.01M27.76 95.85h.01M25.25 95.48h.01M20.55 91.04h.01M24.16 83.21h.01M20.55 87.6h.01M20.55 86.06h.01"/>
<path class="b" d="M21.24 78.07h.01"/>
<path class="b d" d="M20.55 86.86h.01"/>
<path class="b" d="M21.95 78.93h.01"/>
<path class="b d" d="M25.84 77.74h.01M27.76 90.64h.01M26.74 77.31h.01M21.55 85.67h.01M27.76 83.66h.01M27.76 78.48h.01"/>
<path class="b" d="M22.79 78.17h.01"/>
<path class="m" d="M20.83 76.07h.01"/>
<path class="m d" d="M24.63 81.8h.01M20.55 86.14h.01M25.69 76.72h.01M27.68 76.99h.01"/>
<path class="m" d="M18.98 78.24h.01"/>
<path class="b d" d="M27.76 82.68h.01"/>
<path class="m d" d="M34.14 82.35h.01M35.01 79.47h.01M36.78 80.3h.01M36.78 95.22h.01M29.57 78.85h.01M36.78 93.8h.01M29.57 83.26h.01M36.78 91.63h.01M29.57 92.4h.01M29.57 93.4h.01M29.57 88.07h.01M31.17 87.81h.01M34.04 79.62h.01M36.19 87.79h.01M34.91 90.66h.01M36.53 89.77h.01M29.57 90.34h.01M36.78 86.53h.01M29.57 80.3h.01"/>
<path class="b d" d="M36.78 92.41h.01M29.57 92.93h.01M36.78 100.13h.01"/>
<path class="m d" d="M29.57 88.13h.01M35.25 78.25h.01M32.12 85.99h.01M33.86 84.28h.01M29.57 89.58h.01M29.57 82.55h.01M36.78 88.16h.01M29.57 84.57h.01M31.75 81.78h.01M29.57 95.12h.01M33.38 85.2h.01M29.57 80.9h.01M35.62 86.85h.01M35.09 85.96h.01M30.17 90.65h.01"/>
<path class="b d" d="M36.78 93.79h.01"/>
<path class="m d" d="M36.78 90.11h.01M36.78 92.14h.01M30.32 92.77h.01M36.78 96.84h.01M36.78 80.78h.01M32.37 92.45h.01M29.57 92.99h.01M29.57 82.09h.01"/>
<path class="b" d="M28.6 107.04h.01"/>
<path class="m d" d="M29.57 92.83h.01"/>
<path class="b d" d="M29.57 95.09h.01M36.78 92.57h.01M36.78 96.03h.01M29.57 92.48h.01M36.78 95.75h.01"/>
<path class="m d" d="M29.57 83.06h.01M36.78 89.62h.01"/>
<path class="b d" d="M36.78 96.43h.01"/>
<path class="m d" d="M34.8 81.58h.01M29.57 90.11h.01"/>
<path class="b d" d="M29.57 93.79h.01"/>
<path class="b" d="M30.63 106.26h.01"/>
<path class="b d" d="M29.57 98.93h.01"/>
<path class="b" d="M25.49 106.17h.01"/>
<path class="m d" d="M29.57 89.86h.01"/>
<path class="b d" d="M35.63 100.45h.01"/>
<path class="m d" d="M29.57 93.77h.01M29.57 89.58h.01"/>
<path class="b d" d="M36.78 100.19h.01M29.57 96.87h.01M34.65 100.57h.01M36.78 94.14h.01"/>
<path class="m d" d="M36.78 82.12h.01"/>
<path class="b d" d="M32.47 100.57h.01"/>
<path class="m d" d="M32.47 84.8h.01M36.78 91.56h.01"/>
<path class="b d" d="M36.78 94.76h.01"/>
<path class="m d" d="M36.78 87.67h.01"/>
<path class="b d" d="M36.78 92.28h.01"/>
<path class="m d" d="M36.78 83.09h.01"/>
<path class="m" d="M27.57 79.72h.01"/>
<path class="b d" d="M36.78 93.62h.01M29.57 96.29h.01M29.57 92.68h.01"/>
<path class="m" d="M28.6 71.46h.01"/>
<path class="m d" d="M29.57 80.56h.01"/>
<path class="b d" d="M29.57 95.4h.01"/>
<path class="m d" d="M30.45 82.83h.01M29.57 90.48h.01M32.38 82.58h.01"/>
<path class="b d" d="M33.17 94.59h.01M29.57 90.04h.01M36.78 90.38h.01"/>
<path class="m d" d="M34.75 88.78h.01"/>
<path class="b d" d="M29.57 93.18h.01M36.78 92.65h.01"/>
<path class="m d" d="M35.73 88.75h.01M32.38 79.62h.01"/>
<path class="b d" d="M32.36 95.16h.01M32.06 99.62h.01M29.57 96.14h.01"/>
<path class="m d" d="M36.78 90.41h.01M29.57 92.24h.01"/>
<path class="b" d="M28.6 109.4h.01"/>
<path class="b d" d="M35.29 95.32h.01M36.78 99.1h.01M29.59 98.12h.01"/>
<path class="m d" d="M36.78 92.48h.01"/>
<path class="b d" d="M29.57 95.91h.01M29.57 94.81h.01"/>
<path class="m" d="M29.74 77.02h.01"/>
<path class="b d" d="M36.78 96.67h.01M35.11 99.51h.01M36.78 93.92h.01M36.78 89.46h.01M36.78 97.77h.01M33.06 101.41h.01M29.57 95.52h.01M33.66 100.58h.01"/>
<path class="m d" d="M29.57 89.23h.01M32.7 87.22h.01M29.57 84.8h.01"/>
<path class="b d" d="M29.57 96.43h.01"/>
<path class="m d" d="M36.78 82.75h.01"/>
<path class="m" d="M27.46 73.04h.01"/>
<path class="b d" d="M36.78 90.47h.01M36.78 92.8h.01M29.57 92.13h.01"/>
<path class="m d" d="M31.28 92.32h.01M29.57 82.18h.01"/>
<path class="b d" d="M33.78 88.96h.01"/>
<path class="m d" d="M33.21 80.19h.01"/>
<path class="b d" d="M36.53 94.79h.01"/>
<path class="m d" d="M32.29 88.36h.01M29.57 87.07h.01"/>
<path class="b d" d="M29.57 88.27h.01"/>
<path class="m d" d="M35.3 83.09h.01M36.78 94.04h.01"/>
<path class="b d" d="M29.57 96.03h.01M29.57 96.51h.01"/>
<path class="m d" d="M29.57 89.74h.01"/>
<path class="b d" d="M31.87 96.52h.01M36.78 99.87h.01"/>
<path class="m d" d="M36.78 87.39h.01"/>
<path class="b d" d="M29.57 96.34h.01M29.58 93.47h.01M29.57 97.87h.01M29.57 95.07h.01"/>
<path class="m d" d="M29.57 94.82h.01"/>
<path class="b d" d="M36.78 89.45h.01M35.89 90.56h.01M29.57 92.22h.01M35.04 93.53h.01"/>
<path class="b" d="M27.55 106.58h.01"/>
<path class="b d" d="M29.57 99.15h.01M36.78 97.13h.01M29.57 93.02h.01M29.57 95.02h.01"/>
<path class="m d" d="M35.94 83.89h.01"/>
<path class="b d" d="M36.78 86.45h.01M36.78 95.43h.01M29.57 97.75h.01M36.78 95.64h.01"/>
<path class="m d" d="M35.77 81.35h.01M29.57 80.1h.01"/>
<path class="b d" d="M29.57 94.57h.01"/>
<path class="m" d="M27.44 77.23h.01"/>
<path class="b d" d="M33.33 90.12h.01M36.78 97.73h.01"/>
<path class="m d" d="M33.09 86.19h.01M35.01 84.26h.01"/>
<path class="b d" d="M29.57 89.91h.01M36.78 94.86h.01"/>
<path class="m d" d="M34.28 92.87h.01M36.78 88.13h.01"/>
<path class="b d" d="M31.23 97.32h.01M29.57 98.09h.01"/>
<path class="b" d="M26.45 106.24h.01"/>
<path class="b d" d="M36.78 98.92h.01"/>
<path class="m d" d="M29.93 86.19h.01"/>
<path class="b d" d="M36.78 93.96h.01M29.57 94.16h.01"/>
<path class="m" d="M28.6 68.32h.01M31.25 80.02h.01"/>
<path class="m d" d="M30.41 88.5h.01"/>
<path class="b d" d="M30.82 96.37h.01"/>
<path class="m d" d="M36.78 89.15h.01"/>
<path class="b d" d="M36.78 99.15h.01"/>
<path class="m d" d="M29.57 83.54h.01"/>
<path class="b d" d="M29.57 96.05h.01M29.57 95.88h.01M29.57 94.87h.01"/>
<path class="m d" d="M29.57 90.44h.01"/>
<path class="b d" d="M29.57 93.96h.01M29.57 100.02h.01"/>
<path class="m d" d="M36.78 94.2h.01M36.72 88.73h.01"/>
<path class="b d" d="M29.57 93.81h.01"/>
<path class="m d" d="M32.83 91.51h.01M32.95 83.89h.01M32.61 81.01h.01M29.57 90.41h.01"/>
<path class="b d" d="M36.78 94.95h.01"/>
<path class="m d" d="M36.78 84.54h.01"/>
<path class="m" d="M28.6 75.21h.01"/>
<path class="m d" d="M36.78 91.24h.01"/>
<path class="b d" d="M36.78 94.22h.01"/>
<path class="m d" d="M29.57 89.19h.01"/>
<path class="b d" d="M31.1 99.39h.01"/>
<path class="m d" d="M29.57 86.08h.01"/>
<path class="b d" d="M35.32 92.53h.01M29.57 89.36h.01"/>
<path class="m d" d="M36.78 78.96h.01"/>
<path class="b d" d="M29.57 95.81h.01"/>
<path class="m" d="M27.56 66.41h.01"/>
<path class="m d" d="M31.48 84.71h.01M36.78 90.87h.01M31.85 91.41h.01"/>
<path class="b d" d="M29.57 95.29h.01M33.46 98.79h.01"/>
<path class="m d" d="M36.78 80.38h.01M36.78 80.87h.01"/>
<path class="b d" d="M29.57 92.29h.01M29.57 92.09h.01M36.78 98.77h.01"/>
<path class="m d" d="M33.23 88.1h.01"/>
<path class="b d" d="M36.78 93.24h.01M33.96 90.97h.01M30.55 98.34h.01M36.78 89.56h.01M36.78 94.15h.01"/>
<path class="m d" d="M36.78 93.03h.01M36.78 85.02h.01"/>
<path class="b d" d="M29.57 96.88h.01M29.57 97.15h.01"/>
<path class="m d" d="M33.17 79.05h.01"/>
<path class="b d" d="M29.57 100.17h.01M36.78 91.75h.01"/>
<path class="m" d="M26.37 76.81h.01"/>
<path class="m d" d="M31.4 79.59h.01"/>
<path class="b d" d="M29.57 90.96h.01"/>
<path class="m d" d="M30.43 85.02h.01"/>
<path class="b d" d="M29.57 92.43h.01M36.78 94.93h.01M29.57 96.26h.01M36.78 92.1h.01"/>
<path class="m d" d="M34.61 80.56h.01"/>
<path class="b d" d="M36.38 98.31h.01M29.57 93.36h.01M29.57 93.12h.01M36.78 97.94h.01M36.78 96.28h.01"/>
<path class="m" d="M29.28 81.15h.01"/>
<path class="b d" d="M29.57 96.44h.01"/>
<path class="m d" d="M36.78 80.1h.01M34.49 85.14h.01M29.85 81.3h.01M36.64 91.28h.01M30.46 79.27h.01M34.18 87.93h.01M36.78 85.94h.01M36.78 87.79h.01M29.57 79.47h.01M31.17 85.71h.01M29.57 84.74h.01M31.34 88.84h.01M36.78 85.54h.01M31.96 78.68h.01"/>
<path class="b d" d="M34.11 97.58h.01M29.57 92.49h.01M29.57 93.85h.01M36.78 97.52h.01M35.74 91.6h.01M36.78 96.74h.01"/>
<path class="m" d="M27.36 78.65h.01"/>
<path class="b d" d="M29.57 99.8h.01"/>
<path class="m d" d="M36.78 84.51h.01"/>
<path class="b d" d="M36.78 95.61h.01M36.78 96.87h.01"/>
<path class="m d" d="M31.44 82.89h.01"/>
<path class="b d" d="M29.57 92.76h.01M29.57 91.97h.01"/>
<path class="m d" d="M30.83 81.38h.01"/>
<path class="b d" d="M36.78 96.17h.01"/>
<path class="m d" d="M33.77 81.1h.01M29.57 86.33h.01"/>
<path class="b d" d="M29.57 93.37h.01M36.78 94.58h.01M29.57 95.14h.01M36.78 93.99h.01M29.57 96.32h.01M29.57 96.76h.01M36.78 89.97h.01M35.24 89.68h.01M36.78 93.64h.01M36.28 95.8h.01M36.78 94.03h.01M29.57 92.24h.01M32.18 97.62h.01"/>
<path class="m d" d="M29.57 95.96h.01"/>
<path class="b d" d="M29.57 91.34h.01M36.78 98.28h.01"/>
<path class="m d" d="M30.42 80.44h.01"/>
<path class="b d" d="M34.5 94.41h.01"/>
<path class="m d" d="M36.78 78.96h.01"/>
<path class="b d" d="M29.57 98.27h.01M29.77 96.36h.01M29.57 96.17h.01M36.78 93.37h.01M29.57 101.26h.01M36.78 92.91h.01M33.77 93.76h.01M36.78 96.15h.01M29.57 90.92h.01M29.57 93.88h.01M36.78 96.32h.01"/>
<path class="b" d="M29.48 106.34h.01"/>
<path class="b d" d="M36.78 94.76h.01M36.78 95.31h.01"/>
<path class="m d" d="M36.78 83.52h.01"/>
<path class="b d" d="M29.57 100.21h.01M29.57 94.93h.01M35.4 98.37h.01"/>
<path class="m d" d="M29.57 79.99h.01"/>
<path class="b d" d="M29.57 93.73h.01"/>
<path class="m d" d="M34.33 78.62h.01"/>
<path class="b d" d="M36.78 95.1h.01M29.57 94.18h.01M29.57 91.68h.01M29.57 95.64h.01"/>
<path class="m d" d="M34.63 86.87h.01M30.79 86.7h.01M36.78 87.19h.01"/>
<path class="b d" d="M31.73 93.25h.01M32.81 96.83h.01M29.57 96.99h.01M36.78 95.14h.01"/>
<path class="m d" d="M36.78 85.48h.01"/>
<path class="b d" d="M29.57 93.37h.01"/>
<path class="m d" d="M36.78 82.32h.01"/>
<path class="b d" d="M36.78 98.97h.01"/>
<path class="m" d="M30.64 76.34h.01"/>
<path class="b d" d="M36.78 90.5h.01M36.78 99.76h.01M36.78 96.95h.01"/>
<path class="m d" d="M35.58 80.33h.01"/>
<path class="b d" d="M36.78 95.95h.01M31.53 98.46h.01M30.31 95.48h.01M29.57 90.3h.01M36.78 96.52h.01M29.57 95.32h.01M29.57 96.33h.01"/>
<path class="m d" d="M36.78 86.82h.01"/>
<path class="m" d="M27.82 70.66h.01"/>
<path class="m d" d="M29.78 89.41h.01"/>
<path class="b d" d="M29.57 97.03h.01M29.57 93.99h.01M36.78 93.08h.01M36.78 92.11h.01M36.78 101.15h.01M29.57 100.28h.01M30.96 94.7h.01M29.57 93.04h.01M29.57 94h.01M31.74 86.96h.01M36.78 92.97h.01"/>
<path class="m d" d="M36.78 79.22h.01M35.97 79.25h.01"/>
<path class="b d" d="M36.78 95.01h.01"/>
<path class="m" d="M30.25 80.55h.01M28.6 78.68h.01"/>
<path class="m d" d="M36.44 86.28h.01"/>
<path class="b d" d="M29.57 89.51h.01"/>
<path class="m" d="M25.88 80.43h.01"/>
<path class="m d" d="M29.57 78.93h.01"/>
<path class="b d" d="M36.78 92.3h.01M33.66 87.05h.01M35.07 97.34h.01M36.78 92.86h.01M29.57 92.18h.01"/>
<path class="m d" d="M36.78 96.44h.01"/>
<path class="b d" d="M36.78 96.48h.01M29.57 97.19h.01M36.78 94.89h.01M29.57 94.35h.01M33.23 92.88h.01"/>
<path class="m d" d="M32.43 90.56h.01"/>
<path class="b d" d="M36.78 94.88h.01M36.78 92.15h.01M35.51 96.42h.01"/>
<path class="m d" d="M31.7 80.61h.01"/>
<path class="b d" d="M34.43 98.59h.01M36.78 101.57h.01"/>
<path class="m d" d="M29.57 88.16h.01"/>
<path class="m" d="M29.47 79.51h.01"/>
<path class="b d" d="M36.78 95.08h.01M34.66 91.76h.01M36.78 92.23h.01M30.83 93.66h.01M36.05 97.29h.01M29.57 95.88h.01"/>
<path class="m d" d="M33.13 81.89h.01"/>
<path class="b d" d="M29.57 95.63h.01M36.78 93.34h.01M29.57 93.63h.01M29.57 95.02h.01M30.25 97.27h.01M29.57 87.62h.01M36.78 93.78h.01"/>
<path class="m d" d="M31.96 83.77h.01"/>
<path class="b d" d="M29.57 94.98h.01M36.78 96.67h.01M29.57 97.12h.01M29.57 100.3h.01M36.78 89.54h.01"/>
<path class="m d" d="M30.7 89.78h.01"/>
<path class="b d" d="M29.57 95.56h.01M36.61 100.34h.01"/>
<path class="m d" d="M29.57 88.01h.01"/>
<path class="b d" d="M31.83 94.28h.01M36.78 97.11h.01M29.57 96.18h.01M36.78 89.35h.01M33.11 95.82h.01M36.78 91.84h.01M34.14 99.68h.01M30.11 99.32h.01M36.78 98.09h.01M29.57 97.72h.01M29.57 97.24h.01M29.57 94.25h.01"/>
<path class="m d" d="M36.78 88.24h.01"/>
<path class="b d" d="M29.57 94.11h.01"/>
<path class="m d" d="M29.57 79.22h.01M29.57 82.09h.01"/>
<path class="b d" d="M36.78 90.29h.01"/>
<path class="m d" d="M30.88 91.37h.01"/>
<path class="b d" d="M29.57 93.77h.01M29.57 91.75h.01M29.57 92.06h.01M29.96 91.8h.01M29.57 96.89h.01"/>
<path class="m d" d="M35.86 85.31h.01"/>
<path class="b d" d="M29.57 92.15h.01M29.57 98.28h.01"/>
<path class="m d" d="M29.89 83.86h.01"/>
<path class="b d" d="M29.57 95.21h.01"/>
<path class="m d" d="M30.85 83.91h.01"/>
<path class="b d" d="M29.57 90.01h.01M36.78 90.48h.01"/>
<path class="m d" d="M30.17 77.99h.01"/>
<path class="b d" d="M29.57 95.43h.01"/>
<path class="m d" d="M36.68 80.95h.01"/>
<path class="b d" d="M36.78 95.45h.01M29.57 90.59h.01M35.66 94.36h.01M36.78 92.73h.01M36.78 95.99h.01M36.78 93.36h.01M29.57 93.79h.01M33.08 99.75h.01"/>
<path class="m d" d="M29.57 85.65h.01"/>
<path class="m" d="M28.6 66.89h.01"/>
<path class="b d" d="M29.57 91.05h.01M36.78 96.27h.01M29.57 93.31h.01M36.78 92.58h.01M29.57 92.83h.01M29.57 99.92h.01"/>
<path class="m d" d="M34.41 83.43h.01"/>
<path class="b d" d="M36.78 95.56h.01M36.78 99.8h.01M29.57 95.43h.01M36.78 89.85h.01M33.94 95.27h.01M29.57 97.26h.01M36.78 93.71h.01M36.78 91h.01M33.71 91.98h.01M36.78 96.24h.01"/>
<path class="m d" d="M34.03 86.05h.01"/>
<path class="b d" d="M36.78 95.02h.01M29.57 92.05h.01M36.78 92.45h.01M29.57 92.32h.01M36.78 88.04h.01M32.64 93.72h.01M31.41 90.49h.01"/>
<path class="m d" d="M29.57 80.84h.01"/>
<path class="b d" d="M36.78 95.82h.01"/>
<path class="m d" d="M29.57 86.82h.01"/>
<path class="b d" d="M36.78 95.05h.01M36.78 84.68h.01"/>
<path class="m d" d="M36.78 83.6h.01"/>
<path class="b d" d="M29.57 94.87h.01M35.99 93.38h.01M36.78 89.94h.01M36.78 93.77h.01M30.01 94.4h.01"/>
<path class="m d" d="M36.24 82.78h.01M32.81 78.08h.01"/>
<path class="b d" d="M32.86 89.2h.01"/>
<path class="m d" d="M36.78 91.02h.01"/>
<path class="b d" d="M36.78 94.18h.01"/>
<path class="m" d="M28.6 77.23h.01"/>
<path class="b d" d="M29.57 99.8h.01M29.57 99.05h.01M29.57 94.68h.01M29.57 97.02h.01M30.12 87.5h.01"/>
<path class="m d" d="M29.57 87.76h.01"/>
<path class="b d" d="M31.46 95.58h.01M29.57 90.36h.01"/>
<path class="m d" d="M36.78 92.07h.01"/>
<path class="b d" d="M36.78 90.46h.01"/>
<path class="m d" d="M32 89.62h.01"/>
<path class="b d" d="M33.77 96.59h.01"/>
<path class="m d" d="M33.31 82.92h.01M29.57 80.16h.01"/>
<path class="b d" d="M36.78 93.27h.01M36.78 93.82h.01M36.78 100.24h.01"/>
<path class="m" d="M28.6 73.25h.01"/>
<path class="b d" d="M36.78 97.01h.01M36.78 92.05h.01M36.09 99.37h.01"/>
<path class="b" d="M31.71 106.21h.01"/>
<path class="b d" d="M36.36 92.41h.01M29.57 94.83h.01M29.57 91.6h.01M36.78 95.15h.01M36.78 95.7h.01M36.78 95.9h.01M36.78 92.32h.01"/>
<path class="m d" d="M29.57 78.96h.01"/>
<path class="b d" d="M36.78 97.15h.01"/>
<path class="m d" d="M31.15 78.08h.01M29.57 90.61h.01"/>
<path class="b d" d="M36.78 95.57h.01"/>
<path class="b" d="M27.44 108.15h.01M29.75 108.05h.01"/>
<path class="b d" d="M34.59 96.05h.01M36.78 90.03h.01M36.78 90.35h.01M36.78 93.14h.01M36.78 91.75h.01M29.57 92.49h.01M29.57 98.71h.01M36.78 98.56h.01M36.78 99.93h.01M36.78 97.69h.01M33.14 97.8h.01M36.78 96.95h.01M29.57 94.15h.01M31.49 100.51h.01M36.78 93.82h.01M32.49 98.61h.01M29.57 98.88h.01M30.5 100.44h.01M34.27 89.87h.01M36.78 96.09h.01M29.57 91.29h.01M36.78 97.19h.01"/>
<path class="m d" d="M35.21 87.87h.01"/>
<path class="m" d="M25.49 79.93h.01M28.6 80.23h.01"/>
<path class="m d" d="M36.78 79.96h.01M29.57 86.48h.01"/>
<path class="m" d="M27.27 80.79h.01"/>
<path class="b" d="M28.6 108.17h.01"/>
<path class="m d" d="M45.8 84.32h.01M45.8 77.93h.01M39.99 80.35h.01M38.58 96.41h.01M43.22 78.5h.01M38.58 94.62h.01M39.04 83.56h.01M38.58 92.64h.01M38.58 93.78h.01M42.72 94.64h.01M44.34 88.32h.01M39.02 88.65h.01M42.61 81.92h.01M45.8 88.61h.01M45.8 92.63h.01M45.8 91.05h.01M45.8 90.54h.01M38.58 88.3h.01M44.5 79.23h.01"/>
<path class="b d" d="M45.8 92.87h.01M38.58 93.78h.01M45.8 98.61h.01"/>
<path class="m d" d="M38.58 90.15h.01"/>
<path class="m" d="M36.13 79.72h.01"/>
<path class="m d" d="M45.12 86.22h.01M45.8 86.06h.01M41.94 91.32h.01M39.36 82.49h.01M45.8 89.6h.01M45.42 85.22h.01M41.23 82.61h.01M44.2 95.34h.01M44.02 86.32h.01M38.58 81.16h.01M45.8 88.13h.01M40.68 86.91h.01M40.86 91.56h.01"/>
<path class="b d" d="M38.58 93.7h.01"/>
<path class="m d" d="M45.8 90.26h.01M38.58 93.01h.01M38.58 92.93h.01M45.8 96.7h.01M45.8 82.3h.01M41.25 93.28h.01M45.8 93.55h.01M45.8 82.85h.01"/>
<path class="b d" d="M40.55 100.03h.01"/>
<path class="m d" d="M44.07 93.49h.01"/>
<path class="b d" d="M38.58 95.17h.01M38.58 92.97h.01M45.8 95.59h.01M38.58 92.76h.01M38.58 95.4h.01"/>
<path class="m d" d="M40.96 83.69h.01M38.58 89.99h.01"/>
<path class="b d" d="M38.58 95.96h.01"/>
<path class="m d" d="M45.8 81.35h.01M45.8 91.09h.01"/>
<path class="b d" d="M45.8 93.63h.01M38.64 99.58h.01M45.8 97.87h.01M45.73 99.64h.01"/>
<path class="m d" d="M45.8 91.31h.01"/>
<path class="b d" d="M38.58 98.87h.01"/>
<path class="m d" d="M38.58 94.19h.01M38.58 90.86h.01"/>
<path class="b d" d="M39.21 98.7h.01M38.58 96.25h.01M45.8 99.07h.01M38.58 94.12h.01"/>
<path class="m d" d="M43.59 81.79h.01"/>
<path class="b d" d="M45.8 99.2h.01"/>
<path class="m d" d="M45.8 85.73h.01M45.8 92.52h.01"/>
<path class="b d" d="M38.58 94.74h.01"/>
<path class="m d" d="M38.58 87.93h.01"/>
<path class="b d" d="M45.8 93.01h.01"/>
<path class="m d" d="M39.8 84.22h.01M41.67 79.53h.01"/>
<path class="b d" d="M45.8 94.05h.01M38.58 96.11h.01M45.8 93.78h.01"/>
<path class="m" d="M35.54 70h.01"/>
<path class="m d" d="M40.68 81.75h.01"/>
<path class="b d" d="M38.58 95.28h.01"/>
<path class="m d" d="M42.19 82.87h.01M38.58 91.26h.01M38.58 82.85h.01"/>
<path class="b d" d="M38.58 94.84h.01M45.8 91.18h.01M45.8 90.97h.01"/>
<path class="m d" d="M38.63 89.68h.01"/>
<path class="b d" d="M45.8 93.15h.01M45.8 93.09h.01"/>
<path class="m d" d="M45.8 90.13h.01M38.73 79.15h.01"/>
<path class="b d" d="M38.58 95.13h.01M45.8 98.21h.01M38.58 95.89h.01"/>
<path class="m d" d="M38.58 91.37h.01M44.48 92.54h.01"/>
<path class="b" d="M36.37 105.58h.01"/>
<path class="b d" d="M38.58 94.98h.01M45.8 98.13h.01M38.58 97.39h.01"/>
<path class="m d" d="M38.58 93.58h.01"/>
<path class="b d" d="M45.8 95.89h.01M38.58 94.82h.01"/>
<path class="m" d="M34.22 77.57h.01"/>
<path class="b d" d="M45.8 96.2h.01M45.8 98.29h.01M45.8 94.55h.01M38.58 91.62h.01M38.58 97.43h.01M45.8 99.46h.01M45.8 95.38h.01M45.8 99.18h.01"/>
<path class="m d" d="M41.24 90.58h.01M45.8 88.61h.01M38.68 84.7h.01"/>
<path class="b d" d="M45.8 96.07h.01"/>
<path class="m d" d="M45.8 82.83h.01"/>
<path class="m" d="M35.25 72.4h.01"/>
<path class="b d" d="M45.8 91.4h.01M45.8 93.12h.01M38.58 92.43h.01"/>
<path class="m d" d="M38.58 92.74h.01M41.67 81.63h.01"/>
<path class="b d" d="M45.8 90.74h.01"/>
<path class="m d" d="M40.96 80.57h.01"/>
<path class="b d" d="M38.58 95.04h.01"/>
<path class="m d" d="M45.8 89.28h.01M38.58 88.08h.01"/>
<path class="b d" d="M39.94 89.03h.01"/>
<path class="m d" d="M43.39 82.87h.01M38.58 94.05h.01"/>
<path class="b d" d="M38.58 95.67h.01M38.58 96.14h.01"/>
<path class="m d" d="M44.01 90.67h.01"/>
<path class="b d" d="M38.58 96.43h.01M38.58 98.33h.01"/>
<path class="m d" d="M40.37 88.02h.01"/>
<path class="b d" d="M45.8 96.17h.01M38.58 93.93h.01M40.39 97.01h.01M45.8 95.49h.01"/>
<path class="m d" d="M38.58 95.51h.01"/>
<path class="b d" d="M38.58 90.44h.01M44.72 91.42h.01M45.8 92.5h.01M40.39 93.79h.01M44.8 99.99h.01M38.58 98.1h.01M38.58 96.49h.01M38.58 93.4h.01M38.58 94.95h.01"/>
<path class="m d" d="M41.6 85.06h.01"/>
<path class="b d" d="M38.91 86.7h.01M45.8 95.18h.01M45.8 96.79h.01M38.58 95.75h.01"/>
<path class="m d" d="M45.8 81.26h.01M45.73 80.14h.01"/>
<path class="b d" d="M45.8 94.87h.01"/>
<path class="m" d="M38.64 73.94h.01"/>
<path class="b d" d="M45.8 90.43h.01M44.66 96.97h.01"/>
<path class="m d" d="M43.09 86.58h.01M45.8 84.64h.01"/>
<path class="b d" d="M38.58 90.52h.01M38.58 94.87h.01"/>
<path class="m d" d="M45.8 92.88h.01M45.8 89.51h.01"/>
<path class="b d" d="M38.58 96.67h.01M45.8 97.13h.01M43.33 99.53h.01M44.46 98.05h.01"/>
<path class="m d" d="M41.39 87.63h.01"/>
<path class="b d" d="M43.02 93.65h.01M38.58 94h.01"/>
<path class="m" d="M36.37 62.37h.01"/>
<path class="m d" d="M44.17 78.23h.01M38.58 88.93h.01"/>
<path class="b d" d="M45.8 96.1h.01"/>
<path class="m d" d="M39.56 90.03h.01"/>
<path class="b d" d="M45.8 97.76h.01"/>
<path class="m d" d="M44.17 83.54h.01"/>
<path class="b d" d="M38.58 95.74h.01M38.58 95.57h.01M38.58 94.88h.01"/>
<path class="m d" d="M38.58 92.01h.01"/>
<path class="b d" d="M38.58 94.02h.01M41.73 98.33h.01"/>
<path class="m d" d="M38.58 94.61h.01M38.58 90.8h.01"/>
<path class="b d" d="M38.58 93.85h.01"/>
<path class="m d" d="M38.58 92.42h.01M41.93 83.87h.01M38.74 81.43h.01M38.58 91.36h.01"/>
<path class="b d" d="M45.8 94.94h.01"/>
<path class="m d" d="M39.49 85.29h.01"/>
<path class="m" d="M37.48 73.96h.01"/>
<path class="m d" d="M45.8 92.25h.01"/>
<path class="b d" d="M45.8 94.52h.01"/>
<path class="m d" d="M38.58 89.91h.01"/>
<path class="b d" d="M38.58 98.19h.01"/>
<path class="m d" d="M39.93 86.22h.01"/>
<path class="b d" d="M45.8 93.59h.01M44.45 89.74h.01"/>
<path class="m d" d="M38.58 78.64h.01"/>
<path class="b d" d="M38.58 95.58h.01"/>
<path class="m" d="M36.37 57.27h.01"/>
<path class="m d" d="M44.41 85.36h.01M45.8 91.99h.01M45.8 92.62h.01"/>
<path class="b d" d="M45.8 95.5h.01M38.86 97.68h.01"/>
<path class="m d" d="M42.61 79.82h.01M38.58 79.96h.01"/>
<path class="b d" d="M45.8 92.82h.01M45.8 92.96h.01M45.51 97.84h.01"/>
<path class="m d" d="M43.62 89.03h.01"/>
<path class="b d" d="M38.58 93.26h.01M38.58 91.39h.01M45.8 97.52h.01M45.8 90.54h.01M38.58 94.24h.01"/>
<path class="m d" d="M45.8 94.11h.01M41.56 86.41h.01"/>
<path class="b d" d="M45.8 96.22h.01M45.8 96.39h.01"/>
<path class="m d" d="M38.58 78.07h.01"/>
<path class="b d" d="M38.58 98.5h.01M45.8 92.14h.01"/>
<path class="m" d="M36.37 74.27h.01"/>
<path class="m d" d="M40.3 78.33h.01"/>
<path class="b d" d="M43.79 91.73h.01"/>
<path class="m d" d="M45.8 85.9h.01"/>
<path class="b d" d="M38.58 92.69h.01M38.58 94.63h.01M45.8 96.34h.01M45.8 92.4h.01"/>
<path class="m d" d="M38.58 81.3h.01"/>
<path class="b d" d="M43.74 97.36h.01M38.58 93.35h.01M45.8 93.93h.01M38.58 97.18h.01M40.12 96.01h.01"/>
<path class="m" d="M35.27 80.54h.01"/>
<path class="b d" d="M38.58 95.99h.01"/>
<path class="m d" d="M44.75 80.29h.01M42.33 85.75h.01M38.58 81.02h.01M45.8 92.16h.01M39.01 80.27h.01M38.58 89.98h.01M41.03 88.79h.01M38.58 89.36h.01M42.24 78.68h.01M45.8 85.66h.01M43.25 85.37h.01M45.23 89.09h.01M40.81 85.75h.01"/>
<path class="m" d="M39.27 79.42h.01"/>
<path class="b d" d="M45.8 97.19h.01M38.58 92.97h.01M38.58 93.93h.01M45.8 97.22h.01M45.8 91.56h.01M45.8 96.37h.01"/>
<path class="m" d="M37.5 77.94h.01"/>
<path class="b d" d="M38.58 98.3h.01"/>
<path class="m d" d="M44.78 84.36h.01"/>
<path class="b d" d="M45.8 95.43h.01M38.58 96.2h.01"/>
<path class="m d" d="M38.58 82.34h.01"/>
<path class="b d" d="M45.8 92.75h.01M38.58 92.45h.01"/>
<path class="m d" d="M44.92 81.63h.01"/>
<path class="b d" d="M45.8 95.6h.01"/>
<path class="m d" d="M39.73 81.49h.01M38.58 88.17h.01"/>
<path class="b d" d="M45.8 93.84h.01M44.66 94.39h.01M45.8 95.33h.01M45.8 93.86h.01M45.8 96.25h.01M38.58 96.21h.01M38.58 91.2h.01M45.8 90.49h.01M38.58 93.9h.01M38.58 95.49h.01M45.8 94.32h.01M40.55 92.54h.01M39.45 96.85h.01"/>
<path class="m d" d="M40.98 95.52h.01"/>
<path class="b d" d="M38.58 91.55h.01M45.8 97.43h.01"/>
<path class="m d" d="M45.8 80.08h.01"/>
<path class="b d" d="M45.8 94.73h.01"/>
<path class="m d" d="M43.55 79.49h.01"/>
<path class="b d" d="M45.8 97.43h.01M38.58 96.07h.01M45.8 95.8h.01M38.58 93.44h.01M44.21 99.16h.01M38.58 92.87h.01M38.58 93.57h.01M45.8 95.77h.01M45.8 90.93h.01M45.8 94.09h.01M45.8 95.96h.01M42.19 99.65h.01M38.58 94.53h.01M45.8 94.93h.01"/>
<path class="m d" d="M42.97 83.81h.01"/>
<path class="b d" d="M38.58 99.19h.01M45.8 94.62h.01M45.8 97.62h.01"/>
<path class="m d" d="M45.8 78.96h.01"/>
<path class="b d" d="M39.44 94.07h.01"/>
<path class="m d" d="M45.8 79.15h.01"/>
<path class="b d" d="M39.9 95h.01M45.8 94.37h.01M45.8 91.88h.01M45.8 95.23h.01"/>
<path class="m d" d="M45.28 88h.01M45.8 87.75h.01M42.04 88.41h.01"/>
<path class="b d" d="M38.58 93.89h.01M38.58 96.38h.01M43.9 96.33h.01M38.8 94.87h.01"/>
<path class="m d" d="M38.58 85.94h.01"/>
<path class="b d" d="M38.58 93.89h.01"/>
<path class="m d" d="M44.43 82.53h.01"/>
<path class="b d" d="M39.83 97.89h.01"/>
<path class="m" d="M36.37 72.69h.01"/>
<path class="b d" d="M45.8 91.39h.01M45.8 98.48h.01M45.8 96.65h.01"/>
<path class="m d" d="M43.79 80.53h.01"/>
<path class="b d" d="M38.58 95.74h.01M38.58 97.68h.01M45.8 95.24h.01M40.16 90.85h.01M38.58 96.08h.01M38.58 95.61h.01M38.58 95.72h.01"/>
<path class="m d" d="M38.58 89.09h.01"/>
<path class="m" d="M36.37 67.3h.01"/>
<path class="m d" d="M45.8 89.91h.01"/>
<path class="b d" d="M45.8 96.44h.01M43.68 94.45h.01M42 93.93h.01M38.98 92.33h.01M41.28 99.26h.01M38.58 98.52h.01M38.58 94.33h.01M38.58 93.26h.01M45.8 94.24h.01M39.51 87.52h.01M38.58 93.14h.01"/>
<path class="m d" d="M41.26 78.58h.01M45.8 79.74h.01"/>
<path class="b d" d="M45.8 94.99h.01"/>
<path class="m" d="M36.37 76.81h.01M35.22 78.12h.01"/>
<path class="m d" d="M43.71 87.48h.01"/>
<path class="b d" d="M43.27 90.01h.01"/>
<path class="m" d="M38.36 80.09h.01"/>
<path class="m d" d="M38.58 77.76h.01"/>
<path class="b d" d="M38.58 92.61h.01M45.8 88.5h.01M38.58 97.35h.01M42.32 92.95h.01M45.8 92.59h.01"/>
<path class="m d" d="M45.8 96.89h.01"/>
<path class="b d" d="M38.58 96.4h.01M43.01 96.67h.01M45.8 95.2h.01M45.8 94.9h.01M45.8 93.35h.01"/>
<path class="m d" d="M38.58 90.93h.01"/>
<path class="b d" d="M45.8 94.92h.01M38.58 92.27h.01M45.8 96.29h.01"/>
<path class="m d" d="M42.88 80.92h.01"/>
<path class="b d" d="M45.8 97.68h.01M38.58 99.39h.01"/>
<path class="m d" d="M45.8 89.36h.01"/>
<path class="m" d="M34.6 79.66h.01"/>
<path class="b d" d="M38.58 95.23h.01M45.8 92.02h.01M38.58 93.03h.01M45.8 94.01h.01M38.58 96.56h.01M45.8 95.51h.01"/>
<path class="m d" d="M38.58 84.46h.01"/>
<path class="b d" d="M38.58 95.3h.01M45.8 93.67h.01M45.8 94.02h.01M38.58 94.78h.01M38.58 96.72h.01M45.8 88.27h.01M45.8 93.88h.01"/>
<path class="m d" d="M43.8 84.51h.01"/>
<path class="b d" d="M45.8 94.84h.01M42.19 96.14h.01M45.8 96.66h.01M42.63 98.71h.01M42.32 90.36h.01"/>
<path class="m d" d="M40.54 89.86h.01"/>
<path class="b d" d="M45.8 95.47h.01M45.8 98.67h.01"/>
<path class="m d" d="M43.01 88.21h.01"/>
<path class="b d" d="M45.8 94.27h.01M41.26 96.52h.01M45.8 95.94h.01M39.16 91.1h.01M45.8 95.97h.01M43.4 92.69h.01M45.8 98.3h.01M40.81 97.96h.01M38.58 97.44h.01M45.8 96.92h.01M38.58 96.51h.01M45.8 94.14h.01"/>
<path class="m d" d="M45.22 90.53h.01"/>
<path class="b d" d="M38.58 94.8h.01"/>
<path class="m d" d="M40.68 79.43h.01M38.58 82.18h.01"/>
<path class="b d" d="M38.58 90.76h.01"/>
<path class="m d" d="M38.58 92.21h.01"/>
<path class="b d" d="M45.8 93.99h.01M42.69 91.98h.01M38.58 92.35h.01M38.58 92.08h.01M38.58 96.69h.01"/>
<path class="m d" d="M38.58 85.74h.01"/>
<path class="b d" d="M38.58 92.48h.01M41.9 97.3h.01"/>
<path class="m d" d="M38.58 84.54h.01"/>
<path class="b d" d="M38.58 95.32h.01"/>
<path class="m d" d="M40.67 84.7h.01"/>
<path class="b d" d="M45.8 90.73h.01M43.09 91.03h.01"/>
<path class="m" d="M37.2 80.13h.01"/>
<path class="b d" d="M38.58 95.51h.01"/>
<path class="m d" d="M41.94 80.59h.01"/>
<path class="b d" d="M45.8 95.3h.01M45.8 91.34h.01M38.58 94.31h.01M45.8 93.05h.01M45.8 95.84h.01M45.8 93.42h.01M38.58 93.77h.01M45.8 98.28h.01"/>
<path class="m d" d="M38.58 85.7h.01"/>
<path class="m" d="M35.21 57.23h.01"/>
<path class="b d" d="M45.8 91.3h.01M38.58 95.89h.01M45.8 93.44h.01M38.58 93.33h.01M45.07 93.44h.01M45.8 98.37h.01"/>
<path class="m d" d="M42.49 84.73h.01"/>
<path class="b d" d="M45.8 95.96h.01M38.58 98.31h.01M41.87 95.15h.01M38.58 90.5h.01M38.58 94.85h.01M38.58 96.94h.01M38.58 94.03h.01M39.85 91.84h.01M45.8 92.22h.01M45.8 96.04h.01"/>
<path class="m d" d="M38.58 87.96h.01"/>
<path class="b d" d="M45.42 95.05h.01M38.58 92.15h.01M45.8 93.26h.01M38.58 92.77h.01M42.53 89.31h.01M45.8 94.63h.01M38.58 90.91h.01"/>
<path class="m d" d="M45.8 81.06h.01"/>
<path class="b d" d="M45.8 95.73h.01"/>
<path class="m d" d="M42.26 87.14h.01"/>
<path class="b d" d="M45.8 94.83h.01M45.8 84.5h.01"/>
<path class="m d" d="M38.58 84.2h.01"/>
<path class="b d" d="M38.58 94.62h.01M45.8 93.41h.01M45.8 90.61h.01M41.14 94.45h.01M45.8 94.56h.01"/>
<path class="m d" d="M40.22 83.01h.01M45.8 78.05h.01"/>
<path class="b d" d="M38.58 90.45h.01"/>
<path class="m d" d="M41.56 92.28h.01"/>
<path class="b d" d="M45.8 94.64h.01"/>
<path class="m" d="M35.24 74.02h.01"/>
<path class="b d" d="M38.58 99.11h.01M38.58 98.64h.01M45.8 95.09h.01M45.8 96.79h.01M45.8 87.88h.01"/>
<path class="m d" d="M41.63 89.62h.01"/>
<path class="b d" d="M43.05 95.62h.01M38.58 90.62h.01"/>
<path class="m d" d="M39.69 93.05h.01"/>
<path class="b d" d="M38.58 91.05h.01"/>
<path class="m d" d="M45.8 90.2h.01"/>
<path class="b d" d="M38.58 96.31h.01"/>
<path class="m d" d="M45.13 83.32h.01M38.58 80.14h.01"/>
<path class="b d" d="M45.8 94.3h.01M38.58 94.29h.01M40.34 98.93h.01"/>
<path class="m" d="M36.37 70.76h.01"/>
<path class="b d" d="M38.58 96.37h.01M45.8 92.77h.01M38.58 98.23h.01M39.63 99.65h.01M38.58 93.16h.01M45.8 94.79h.01M45.8 92.32h.01M38.58 95.25h.01M45.8 95.68h.01M39.19 95.82h.01M38.58 92.69h.01"/>
<path class="m d" d="M45.17 78.47h.01"/>
<path class="b d" d="M45.64 96.81h.01"/>
<path class="m d" d="M39.28 78.29h.01M38.58 91.62h.01"/>
<path class="b d" d="M45.04 96.01h.01"/>
<path class="b" d="M37.24 104.85h.01M35.37 105.02h.01"/>
<path class="b d" d="M45.8 96.08h.01M45.8 91.1h.01M45.8 90.86h.01M45.8 93.41h.01M45.8 92.5h.01M45.8 92.73h.01M38.58 97.61h.01M42.81 97.69h.01M43.55 98.38h.01M38.58 96.89h.01M38.58 96.91h.01M45.8 96.56h.01M38.58 94.01h.01M45.14 98.81h.01M45.8 93.89h.01M38.58 97.68h.01M38.58 97.87h.01M45.8 98.66h.01M38.58 91.08h.01M38.58 96.07h.01M45.37 92.2h.01M45.8 96.41h.01"/>
<path class="m d" d="M38.58 89.91h.01M42.19 77.52h.01"/>
<path class="m" d="M36.37 78.19h.01"/>
<path class="m d" d="M39.72 79.21h.01M44.65 87.13h.01M38.58 79.13h.01"/>
<path class="b" d="M38.39 104.81h.01"/>
<path class="m" d="M45.3 71.41h.01"/>
<path class="m d" d="M54.82 94.49h.01M48.48 83.85h.01"/>
<path class="m" d="M43.62 70.55h.01"/>
<path class="m d" d="M49.07 87.4h.01M47.6 82.53h.01M50.89 90.51h.01M54.82 83.25h.01M50.4 79.49h.01"/>
<path class="m" d="M43.09 76.6h.01"/>
<path class="m d" d="M47.6 96.06h.01M47.6 87.87h.01"/>
<path class="m" d="M44.15 75.76h.01"/>
<path class="m d" d="M47.6 91.67h.01"/>
<path class="m" d="M47.26 78.01h.01"/>
<path class="m d" d="M49.46 83.9h.01M54.82 95.36h.01"/>
<path class="m" d="M43.24 81.71h.01"/>
<path class="m d" d="M54.82 91.34h.01"/>
<path class="b d" d="M54.82 94.14h.01M54.28 88.16h.01M47.6 96.29h.01"/>
<path class="m" d="M43.75 80.17h.01"/>
<path class="m d" d="M54.82 91.41h.01M51.5 85.71h.01"/>
<path class="m" d="M44.15 78.24h.01"/>
<path class="m d" d="M52.99 80.33h.01M47.6 90.83h.01M47.6 82.57h.01M54.82 89.64h.01M51.21 80.08h.01M50.84 84.94h.01M53.49 85.2h.01M51.21 82.28h.01M54.82 84.37h.01M51.72 87.29h.01M54.82 90.41h.01"/>
<path class="b d" d="M54.82 99.86h.01"/>
<path class="m d" d="M54.82 98.07h.01M47.6 88.35h.01M47.6 96.89h.01M47.6 88.84h.01"/>
<path class="m" d="M44.58 79.42h.01"/>
<path class="m d" d="M48.36 85.98h.01M47.6 91.08h.01M54.82 82.71h.01"/>
<path class="b d" d="M54.82 97.01h.01"/>
<path class="m d" d="M54.82 88.67h.01"/>
<path class="b d" d="M51.25 92.88h.01M47.6 94.71h.01M53.79 98.29h.01M54.82 96.85h.01M54.82 98.57h.01"/>
<path class="m d" d="M54.82 85.34h.01M47.6 95.52h.01"/>
<path class="b d" d="M51.11 97.62h.01"/>
<path class="m d" d="M47.6 88.2h.01M49.95 86.91h.01"/>
<path class="b d" d="M54.82 99.83h.01M48.96 97.89h.01M54.82 94.23h.01M47.92 93.05h.01"/>
<path class="m d" d="M54.82 78.49h.01"/>
<path class="b d" d="M47.6 93.33h.01"/>
<path class="m d" d="M51.37 88.26h.01M52.52 85.42h.01"/>
<path class="b d" d="M54.32 94.61h.01M54.82 98.63h.01M53.25 86.28h.01M54.82 97.94h.01"/>
<path class="m d" d="M54.82 91.31h.01"/>
<path class="b d" d="M47.6 84.74h.01"/>
<path class="m d" d="M52.12 80.82h.01M54.82 88.03h.01"/>
<path class="b d" d="M47.6 95.85h.01"/>
<path class="m d" d="M47.6 93.76h.01"/>
<path class="b d" d="M47.6 91.08h.01"/>
<path class="m" d="M47.26 80.02h.01M44.15 62.14h.01"/>
<path class="b d" d="M54.82 92.29h.01M54.82 92.53h.01M51.8 84.69h.01"/>
<path class="m" d="M44.15 72.93h.01"/>
<path class="m d" d="M48.4 81.33h.01"/>
<path class="b d" d="M54.82 95.41h.01"/>
<path class="m d" d="M54.82 91h.01M54.58 91.76h.01M47.6 89h.01"/>
<path class="b d" d="M50.37 92.42h.01M47.6 87.25h.01M47.6 93.52h.01"/>
<path class="m d" d="M48.85 91.22h.01"/>
<path class="b d" d="M54.82 98.17h.01M47.6 94.1h.01"/>
<path class="m d" d="M47.6 84.45h.01M47.6 87.59h.01"/>
<path class="b d" d="M54.82 95.55h.01M52.07 97.85h.01M48.05 94.93h.01"/>
<path class="m d" d="M47.6 89.85h.01M54.82 93.64h.01"/>
<path class="b d" d="M54.82 94.88h.01M50.24 99.5h.01M54.82 92.09h.01M47.6 93.56h.01"/>
<path class="m d" d="M49.34 81.67h.01"/>
<path class="b d" d="M47.6 91.47h.01M54.82 95.86h.01"/>
<path class="m" d="M44.15 71.52h.01"/>
<path class="b d" d="M47.6 96.18h.01M47.6 93.78h.01M54.82 88.96h.01"/>
<path class="b" d="M45.56 78.83h.01"/>
<path class="b d" d="M48.14 87.73h.01M47.6 94.05h.01M51.26 94.51h.01M53.38 88.51h.01"/>
<path class="m d" d="M47.6 83.19h.01M50.31 81.84h.01M54.82 95.99h.01"/>
<path class="b d" d="M54.82 96.04h.01"/>
<path class="m d" d="M49.44 90.38h.01"/>
<path class="m" d="M44.71 70.17h.01"/>
<path class="b d" d="M54.82 90.4h.01M47.6 95.2h.01M47.62 96.75h.01"/>
<path class="m d" d="M47.6 94.49h.01M49.37 94.28h.01"/>
<path class="b d" d="M54.82 81.12h.01"/>
<path class="m d" d="M50.45 83.98h.01"/>
<path class="b d" d="M54.82 92.34h.01"/>
<path class="m d" d="M54.82 88.77h.01M47.6 87.97h.01"/>
<path class="b d" d="M47.6 92.4h.01"/>
<path class="m d" d="M51.85 92.07h.01M54.82 97.25h.01"/>
<path class="b d" d="M54.82 96.81h.01M47.6 95.77h.01"/>
<path class="m d" d="M54.82 87.7h.01"/>
<path class="b d" d="M47.6 89.91h.01M54.82 99.42h.01"/>
<path class="m d" d="M54.82 89.9h.01"/>
<path class="b d" d="M54.82 92.37h.01M47.6 92.34h.01M47.6 98.06h.01M54.82 87.82h.01"/>
<path class="m d" d="M54.82 82.53h.01"/>
<path class="b d" d="M51.21 89.51h.01M53.67 91.42h.01M54.67 96.44h.01M47.6 94.85h.01M47.6 87.7h.01M53.63 83.85h.01M47.6 98.09h.01M53.82 93.66h.01M47.6 96.04h.01"/>
<path class="m d" d="M47.6 82.98h.01"/>
<path class="b d" d="M47.6 95.33h.01M47.6 97.93h.01M47.6 99.92h.01M54.82 89.85h.01"/>
<path class="m d" d="M47.6 89.27h.01M53.1 82.97h.01"/>
<path class="b d" d="M54.82 91.5h.01"/>
<path class="m d" d="M54.82 89.79h.01"/>
<path class="b d" d="M54.82 97.78h.01M54.82 97.28h.01"/>
<path class="m d" d="M54.3 92.76h.01M47.6 83.8h.01"/>
<path class="b d" d="M47.6 94.46h.01M49.85 95.65h.01"/>
<path class="m d" d="M47.6 96.55h.01M52.81 84.42h.01"/>
<path class="b d" d="M54.82 97.27h.01M54.82 99.16h.01M47.6 99.19h.01M47.6 87.84h.01"/>
<path class="m d" d="M54.82 84.41h.01"/>
<path class="b" d="M44.15 106.7h.01"/>
<path class="b d" d="M47.6 99.85h.01"/>
<path class="m d" d="M52.14 79.72h.01"/>
<path class="m" d="M42.26 70.64h.01"/>
<path class="m d" d="M49.74 93.27h.01"/>
<path class="b d" d="M54.82 94.11h.01"/>
<path class="m d" d="M51.83 91.01h.01"/>
<path class="b d" d="M47.6 98.64h.01"/>
<path class="m d" d="M50.64 93.7h.01"/>
<path class="b d" d="M47.6 96.75h.01M47.6 97.51h.01M47.6 95.29h.01"/>
<path class="m" d="M46.22 76.37h.01"/>
<path class="b d" d="M47.6 96.15h.01"/>
<path class="b" d="M43.15 106.14h.01"/>
<path class="m d" d="M54.14 87.07h.01M53.89 78.86h.01"/>
<path class="b d" d="M54.82 97.76h.01"/>
<path class="m d" d="M49.69 88.2h.01M54.82 93.47h.01M49.35 86.09h.01M47.6 89h.01"/>
<path class="b d" d="M54.82 94.2h.01"/>
<path class="m d" d="M47.6 89.1h.01"/>
<path class="m" d="M45.36 80.87h.01"/>
<path class="m d" d="M53.08 81.64h.01"/>
<path class="b d" d="M47.6 90.93h.01"/>
<path class="m d" d="M54.82 92.23h.01"/>
<path class="b d" d="M47.6 95.32h.01"/>
<path class="m d" d="M48.96 95.22h.01"/>
<path class="b d" d="M47.6 85.37h.01M54.82 96.63h.01"/>
<path class="m d" d="M47.6 87.14h.01"/>
<path class="b d" d="M54.82 95.75h.01"/>
<path class="m d" d="M54.44 84.94h.01M47.6 89.78h.01M54.82 87.69h.01M47.75 84.92h.01"/>
<path class="b d" d="M54.82 89.68h.01M47.6 97.05h.01"/>
<path class="m d" d="M47.6 87.69h.01M47.6 89.99h.01"/>
<path class="b d" d="M54.82 93.38h.01M54.82 89.18h.01M47.6 93.66h.01"/>
<path class="m d" d="M52.08 89.02h.01"/>
<path class="b d" d="M47.6 98.25h.01M54.82 94.81h.01M47.6 94.68h.01M54.82 90.44h.01M54.82 94.93h.01"/>
<path class="m d" d="M51.21 81.23h.01M54.82 84.2h.01"/>
<path class="b d" d="M47.6 99.8h.01M54.82 100.11h.01"/>
<path class="m d" d="M47.6 90.72h.01"/>
<path class="b d" d="M52.48 99.44h.01M51.85 95.69h.01"/>
<path class="m d" d="M47.6 82.76h.01M47.6 93.86h.01"/>
<path class="b d" d="M54.82 91.18h.01"/>
<path class="m d" d="M47.6 87.79h.01"/>
<path class="b d" d="M54.82 96.11h.01M52 100.35h.01M53.22 87.44h.01M47.6 95.88h.01"/>
<path class="m d" d="M47.6 84.39h.01"/>
<path class="b d" d="M47.6 96.97h.01M54.82 98.87h.01M54.82 87.16h.01M54.82 95.32h.01M47.6 94.56h.01"/>
<path class="m d" d="M54.6 83.76h.01"/>
<path class="b d" d="M48.55 96.94h.01"/>
<path class="m d" d="M49.36 80.57h.01M50.09 91.16h.01M54.33 89.23h.01M52.41 88.04h.01"/>
<path class="m" d="M44.24 81.15h.01M42.99 78.13h.01M44.15 66.79h.01"/>
<path class="m d" d="M51.21 83.32h.01M54.82 90.54h.01M47.6 96.55h.01M54.82 88.12h.01M50.17 97.44h.01M54.82 93.01h.01M54.82 89.82h.01"/>
<path class="b d" d="M50.2 89.77h.01M52.88 93.97h.01M49.52 96.65h.01M54.82 87.91h.01"/>
<path class="b" d="M45.82 105.69h.01"/>
<path class="b d" d="M47.6 94.83h.01"/>
<path class="m d" d="M52.93 79.11h.01"/>
<path class="b d" d="M54.82 98.65h.01"/>
<path class="m d" d="M53.98 95.59h.01"/>
<path class="b d" d="M47.6 95.35h.01M51.21 99.72h.01"/>
<path class="m d" d="M54.82 97.08h.01"/>
<path class="b d" d="M47.6 99.48h.01M52.21 94.72h.01"/>
<path class="m d" d="M54.82 85.76h.01"/>
<path class="b d" d="M54.82 99.11h.01"/>
<path class="m d" d="M47.6 85.9h.01M53.98 81.19h.01"/>
<path class="b d" d="M47.6 92.24h.01M53.46 99.27h.01M51 91.55h.01M54.82 99.91h.01M49.31 89.32h.01M47.6 98.23h.01M54.08 82.84h.01M47.6 91.93h.01M54.82 94.39h.01M47.6 97.4h.01M54.82 93.8h.01M47.6 96.64h.01M50.75 98.61h.01"/>
<path class="m d" d="M47.6 97.04h.01"/>
<path class="b d" d="M54.82 97.95h.01M54.82 95.89h.01"/>
<path class="m d" d="M52.2 83.29h.01"/>
<path class="b d" d="M54.82 91.51h.01"/>
<path class="m d" d="M47.61 80.72h.01"/>
<path class="b d" d="M54.82 96.04h.01M54.82 94.71h.01M54.2 97.34h.01M47.6 97.91h.01M50.85 100.71h.01M47.6 100.06h.01M47.6 99.9h.01M47.6 97.91h.01M54.02 100.19h.01M47.6 94.38h.01M54.82 96.97h.01M47.6 97.13h.01M54.82 99.77h.01M49.87 100.58h.01"/>
<path class="m d" d="M47.6 90.16h.01"/>
<path class="b d" d="M51.21 78.96h.01M48.93 100.27h.01M54.82 90.24h.01"/>
<path class="m d" d="M47.6 93.57h.01"/>
<path class="b d" d="M54.82 93.22h.01"/>
<path class="m d" d="M54.37 80.23h.01"/>
<path class="b d" d="M54.82 96.22h.01M54.82 94.75h.01M47.6 97.84h.01M54.82 99.69h.01"/>
<path class="m d" d="M47.6 87.52h.01M47.6 87.99h.01M47.6 86.83h.01"/>
<path class="b d" d="M52.22 90.06h.01M52.8 95.91h.01M47.6 98.95h.01M49.28 99.29h.01"/>
<path class="m d" d="M54.82 90.96h.01"/>
<path class="b d" d="M54.82 91.74h.01"/>
<path class="m d" d="M52.27 86.43h.01"/>
<path class="b d" d="M47.6 95.2h.01"/>
<path class="m d" d="M54.82 87.99h.01"/>
<path class="b d" d="M47.6 89.87h.01M47.6 92.7h.01M52.48 92.88h.01"/>
<path class="m d" d="M47.6 87.25h.01"/>
<path class="b d" d="M54.82 95.25h.01M48.87 92.79h.01M54.82 97.2h.01M54.82 94.6h.01M47.6 97.08h.01M54.82 89h.01M54.82 100.04h.01"/>
<path class="m" d="M45.3 77.04h.01M44.15 77.05h.01"/>
<path class="m d" d="M49.51 92h.01"/>
<path class="b d" d="M47.6 96.85h.01M47.6 91.2h.01M50.56 87.71h.01M54.82 97.6h.01M47.6 94.71h.01M47.6 96.99h.01"/>
<path class="b" d="M44.66 105.72h.01"/>
<path class="b d" d="M50.49 96.44h.01M47.6 94.38h.01M51.88 93.7h.01M54.82 97.33h.01"/>
<path class="m d" d="M54.82 89.98h.01M49.04 82.93h.01"/>
<path class="b d" d="M54.82 95.39h.01"/>
<path class="m d" d="M54.82 93.58h.01M49.45 79.2h.01M54.82 85.18h.01"/>
<path class="b d" d="M47.6 95.71h.01"/>
<path class="m d" d="M48.74 84.95h.01M54.82 90.7h.01"/>
<path class="b d" d="M54.82 96.44h.01M54.19 85.96h.01M54.82 83.05h.01M47.6 98.6h.01M47.6 94.9h.01"/>
<path class="m" d="M45.89 79.91h.01"/>
<path class="b d" d="M54.82 90.24h.01M54.82 95.52h.01M54.82 90.74h.01M54.82 87.8h.01M47.6 93.56h.01"/>
<path class="m d" d="M47.6 96.1h.01"/>
<path class="b d" d="M54.82 94.54h.01M52.83 98.46h.01M47.6 90.2h.01"/>
<path class="m d" d="M54.82 87.53h.01"/>
<path class="b d" d="M47.6 94.91h.01M54.82 95.06h.01"/>
<path class="m d" d="M47.6 84.33h.01"/>
<path class="m" d="M46.51 80.83h.01"/>
<path class="b d" d="M54.82 92.01h.01M47.6 97.77h.01M54.82 89.77h.01M47.6 93.14h.01M47.6 98.55h.01M47.6 96.63h.01"/>
<path class="m" d="M44.15 74.14h.01"/>
<path class="b d" d="M54.82 97.92h.01M54.82 94.45h.01M47.6 93.22h.01M51.68 98.8h.01M47.6 95.02h.01M54.82 93.66h.01M48.49 93.9h.01"/>
<path class="m d" d="M47.6 87.71h.01"/>
<path class="b d" d="M54.82 96.24h.01M54.82 97.83h.01M54.82 94.57h.01M52.39 96.86h.01M47.6 91.37h.01"/>
<path class="m d" d="M48.43 98.76h.01"/>
<path class="b d" d="M47.6 94.16h.01M54.82 96.72h.01"/>
<path class="m d" d="M54.82 84.22h.01"/>
<path class="b d" d="M47.6 97.2h.01M54.82 96.96h.01M50.26 94.68h.01M50.34 80.74h.01M53.05 89.49h.01M47.6 89.77h.01M47.6 93.88h.01M47.6 99.67h.01M52.69 91.52h.01M47.6 97.27h.01M47.6 99.77h.01M47.6 98.87h.01"/>
<path class="m" d="M42.05 78.94h.01"/>
<path class="b d" d="M47.6 87.56h.01"/>
<path class="m d" d="M47.6 85.29h.01M50.99 86.6h.01"/>
<path class="b d" d="M47.6 95.53h.01"/>
<path class="m d" d="M47.6 89.95h.01"/>
<path class="b d" d="M54.82 94.47h.01M54.82 97.07h.01M54.82 96.5h.01M53.16 97.48h.01M54.01 90.21h.01"/>
<path class="m d" d="M47.6 90.27h.01"/>
<path class="b d" d="M47.6 95.99h.01M54.82 98.95h.01"/>
<path class="m d" d="M54.82 88.66h.01"/>
<path class="b d" d="M54.82 92.72h.01"/>
<path class="m d" d="M54.82 87.58h.01"/>
<path class="b d" d="M54.82 93.15h.01M54.82 94.57h.01"/>
<path class="m d" d="M47.77 89.4h.01"/>
<path class="b d" d="M47.93 90.86h.01"/>
<path class="m d" d="M47.6 91.86h.01"/>
<path class="b d" d="M54.82 96.34h.01M54.82 92.69h.01M47.6 97.68h.01M54.82 95.06h.01M54.82 93.56h.01M54.82 97.97h.01M54.82 98.15h.01M47.6 98.73h.01"/>
<path class="m d" d="M47.6 90.25h.01M48.55 78.75h.01"/>
<path class="b d" d="M47.6 97.95h.01M54.82 97.12h.01M54.82 96.94h.01M50.51 88.77h.01M47.6 90.53h.01M54.82 97.68h.01"/>
<path class="m d" d="M52.1 78.54h.01"/>
<path class="b d" d="M54.82 85.37h.01M54.82 96.59h.01M47.6 96.93h.01M54.82 93.59h.01M53.05 100.34h.01M47.6 90.79h.01M47.6 93.96h.01M47.6 90.28h.01M47.6 97.82h.01M54.82 94.01h.01"/>
<path class="m d" d="M48.54 80h.01"/>
<path class="b d" d="M47.6 94.53h.01M48.01 97.81h.01M47.6 89.66h.01M54.82 94.37h.01M54.82 87.78h.01M49.72 85h.01M47.6 96.02h.01"/>
<path class="m d" d="M50.33 85.83h.01"/>
<path class="b d" d="M47.6 92.66h.01"/>
<path class="m d" d="M50.89 95.48h.01"/>
<path class="b d" d="M47.6 97.98h.01M51.46 96.65h.01"/>
<path class="m d" d="M54.82 87.91h.01"/>
<path class="b d" d="M54.82 99.5h.01M54.82 97.88h.01M54.82 93.86h.01M54.82 87.32h.01M47.6 94.8h.01"/>
<path class="m d" d="M47.6 87.54h.01M47.66 83.26h.01"/>
<path class="b d" d="M54.82 86.93h.01"/>
<path class="m d" d="M54.82 82.77h.01"/>
<path class="b d" d="M53.11 90.58h.01"/>
<path class="m d" d="M47.6 88.09h.01"/>
<path class="b" d="M41.04 78.75h.01M43.17 79.23h.01"/>
<path class="b d" d="M54.82 89.7h.01M54.82 90.76h.01M54.82 96h.01"/>
<path class="m d" d="M54.82 80.3h.01"/>
<path class="b d" d="M47.6 92.14h.01M54.82 98.22h.01"/>
<path class="m d" d="M47.6 85.55h.01"/>
<path class="b d" d="M54.82 93.11h.01"/>
<path class="m d" d="M54.82 93.53h.01"/>
<path class="b d" d="M54.81 93.66h.01"/>
<path class="m d" d="M47.6 88.45h.01M54.82 87.63h.01"/>
<path class="b d" d="M50.03 83.04h.01M47.6 90.16h.01M47.6 88.75h.01"/>
<path class="m" d="M41.45 80.57h.01"/>
<path class="b d" d="M54.82 99.01h.01M54.82 90.78h.01M54.82 93.76h.01M54.82 94.79h.01M54.82 89.89h.01M53.56 96.53h.01M47.6 92.01h.01M47.6 92.99h.01M47.6 92.07h.01M53.37 92.41h.01M54.82 95.29h.01"/>
<path class="m d" d="M54.82 87.59h.01"/>
<path class="b d" d="M48.22 92.02h.01"/>
<path class="m d" d="M52.16 82.02h.01M47.6 89.68h.01"/>
<path class="b d" d="M54.82 84.46h.01M49.8 98.4h.01M54.82 89.09h.01M54.82 90.12h.01M48.53 88.68h.01M54.82 95.34h.01M47.6 95.78h.01M54.82 91.46h.01M48.26 95.95h.01M54.82 98.25h.01M47.6 94.23h.01M47.6 98.2h.01M54.82 96.14h.01M54.44 99.25h.01M47.6 94.06h.01M47.6 99.25h.01M47.6 97.45h.01M47.6 97.16h.01M47.6 94.76h.01M53.19 94.96h.01M54.79 98.28h.01M47.6 87.37h.01M54.82 91.42h.01M48.55 90.04h.01M47.95 100.13h.01"/>
<path class="m" d="M42.58 80.83h.01M46.71 78.79h.01"/>
<path class="m d" d="M47.6 89.61h.01M47.6 91.25h.01M47.6 91.39h.01"/>
<path class="m" d="M42.99 71.49h.01"/>
<path class="b d" d="M47.6 99.08h.01"/>
<path class="m" d="M51.92 75.96h.01"/>
<path class="m d" d="M61.77 91.29h.01M56.62 81.7h.01"/>
<path class="m" d="M51.92 81.27h.01"/>
<path class="m d" d="M63.83 81.65h.01M62.83 85.14h.01M59.68 89.05h.01M63.83 90.7h.01M63.83 82.7h.01M56.65 79.11h.01M57.78 95.97h.01M56.62 90.19h.01M62.17 80.91h.01M63.21 90.21h.01M56.67 80.37h.01M59.31 84.61h.01M63.83 92.41h.01M60.23 83.89h.01M56.62 86h.01"/>
<path class="b d" d="M56.62 93.05h.01M56.62 94.87h.01M56.62 96.26h.01"/>
<path class="m d" d="M63.15 80.81h.01M63.83 89.31h.01M56.62 85.6h.01M57.57 79.49h.01M62.24 86.47h.01M63.83 85.9h.01M56.62 84.23h.01M57.26 90.26h.01M58.44 78.71h.01M56.67 88.26h.01"/>
<path class="m" d="M53.08 81.24h.01"/>
<path class="m d" d="M62.11 84.45h.01M60.36 87.08h.01M56.62 87.13h.01M58.4 87.39h.01"/>
<path class="b d" d="M63.83 96.61h.01"/>
<path class="m d" d="M63.83 96.75h.01M63.83 89.61h.01M56.62 96.13h.01M56.62 89.77h.01M60.23 80.55h.01M56.62 90.29h.01M63.83 91.66h.01M60.36 81.7h.01"/>
<path class="b d" d="M63.83 97.45h.01"/>
<path class="m d" d="M63.77 88.19h.01"/>
<path class="b d" d="M56.62 93.11h.01M56.62 94.71h.01M56.62 97.39h.01M56.62 97.22h.01M56.62 97.12h.01"/>
<path class="m d" d="M59.33 83.46h.01M56.62 94.27h.01"/>
<path class="b d" d="M56.62 96.2h.01"/>
<path class="m d" d="M57.41 87.35h.01M59.36 87.61h.01"/>
<path class="b d" d="M56.62 98.77h.01M56.62 97.04h.01M61.64 97.89h.01M63.83 96.23h.01"/>
<path class="m d" d="M56.62 80.31h.01"/>
<path class="b d" d="M56.62 93.63h.01"/>
<path class="m d" d="M60.76 89.04h.01M61.14 87.84h.01"/>
<path class="b d" d="M59.24 96.94h.01M56.62 95.61h.01"/>
<path class="b" d="M51.92 74.79h.01"/>
<path class="b d" d="M56.62 95.66h.01"/>
<path class="m d" d="M57.89 89.46h.01"/>
<path class="b d" d="M56.62 91.36h.01"/>
<path class="m d" d="M63.14 84.15h.01M56.62 92.07h.01"/>
<path class="b d" d="M63.83 95.9h.01"/>
<path class="m d" d="M63.83 90.35h.01"/>
<path class="b d" d="M56.62 92.86h.01"/>
<path class="m d" d="M63.83 84.22h.01"/>
<path class="m" d="M51.77 69.14h.01"/>
<path class="b d" d="M56.62 95.46h.01M63.83 94.85h.01M56.62 88.69h.01"/>
<path class="m" d="M51.92 72.9h.01"/>
<path class="m d" d="M57.39 82.02h.01"/>
<path class="b d" d="M63.83 95.23h.01"/>
<path class="m d" d="M63.83 87.25h.01M62.8 88.38h.01M60.05 86.09h.01"/>
<path class="b d" d="M56.62 93.61h.01M63.83 90.18h.01M63.83 96.14h.01"/>
<path class="m d" d="M56.62 89.09h.01"/>
<path class="b d" d="M59.67 96h.01M63.83 95.38h.01"/>
<path class="m d" d="M63.83 84.08h.01M56.62 86.12h.01"/>
<path class="b d" d="M63.83 96.67h.01M63.83 98.24h.01M63.83 95.19h.01"/>
<path class="m d" d="M60.97 90.68h.01M63.83 91.35h.01"/>
<path class="b d" d="M62.2 98.83h.01M56.62 96.76h.01M63.83 93.49h.01M63.83 96.23h.01"/>
<path class="m d" d="M57.54 80.86h.01"/>
<path class="b d" d="M63.83 92.7h.01M56.62 96.54h.01"/>
<path class="m" d="M51.92 64.52h.01"/>
<path class="b d" d="M63.83 94.38h.01M62.13 95.07h.01M56.62 89.59h.01"/>
<path class="b" d="M50.76 75.94h.01"/>
<path class="b d" d="M61.02 93.21h.01M56.62 95.24h.01M63.58 95.94h.01M63.83 90.79h.01"/>
<path class="m d" d="M63.83 84.17h.01M56.62 80.32h.01M58.18 92.5h.01"/>
<path class="b d" d="M56.62 95.78h.01"/>
<path class="m d" d="M63.83 86.19h.01"/>
<path class="m" d="M50.76 64.49h.01"/>
<path class="b d" d="M63.83 91.16h.01M56.62 91.81h.01M63.83 97.6h.01"/>
<path class="m d" d="M63.83 94.24h.01M56.62 90.79h.01"/>
<path class="b d" d="M63.83 88.96h.01"/>
<path class="m" d="M51.92 80.09h.01"/>
<path class="b d" d="M63.83 96.35h.01"/>
<path class="m d" d="M56.62 86.11h.01M61.46 89.78h.01"/>
<path class="b d" d="M56.62 92.64h.01"/>
<path class="m d" d="M63.83 88.83h.01M56.62 94.74h.01"/>
<path class="b d" d="M56.62 95.71h.01M63.83 95.79h.01"/>
<path class="m d" d="M61.93 85.48h.01"/>
<path class="b d" d="M56.62 94.81h.01M63.83 98.83h.01"/>
<path class="m d" d="M56.62 90.63h.01"/>
<path class="b d" d="M56.62 97.07h.01M56.62 94.58h.01M63.14 96.88h.01M63.83 95.61h.01"/>
<path class="m d" d="M63.83 84.44h.01"/>
<path class="b d" d="M63.83 90.98h.01M63.83 91.47h.01M56.62 96.33h.01M56.62 96.11h.01M63.02 87.37h.01"/>
<path class="b" d="M51.92 65.93h.01"/>
<path class="b d" d="M63.83 97.11h.01M56.62 90.77h.01M56.62 95.46h.01"/>
<path class="m d" d="M60.23 82.74h.01"/>
<path class="b d" d="M56.62 94.36h.01M63.83 97.12h.01M56.62 98.56h.01M63.83 92.89h.01"/>
<path class="m d" d="M63.83 88.48h.01"/>
<path class="m" d="M55.03 80.42h.01"/>
<path class="b d" d="M60.64 94.17h.01"/>
<path class="m d" d="M56.62 87.34h.01"/>
<path class="b d" d="M56.62 97.14h.01M56.62 96.63h.01"/>
<path class="m d" d="M63.83 91.52h.01M61.12 80.1h.01"/>
<path class="b d" d="M56.62 96.57h.01M56.62 95.37h.01"/>
<path class="m d" d="M63.83 93.75h.01M61.22 81.2h.01"/>
<path class="b d" d="M63.83 96.78h.01M63.83 98.83h.01M56.62 98.83h.01M62.07 87.49h.01"/>
<path class="m d" d="M62.11 83.27h.01"/>
<path class="b d" d="M63.83 98.69h.01M63.83 98.03h.01"/>
<path class="m" d="M51.59 77.13h.01M48.81 80.61h.01"/>
<path class="m d" d="M63.83 93.11h.01"/>
<path class="b d" d="M63.83 93.47h.01"/>
<path class="m d" d="M63.83 94.17h.01"/>
<path class="b d" d="M56.62 98.69h.01"/>
<path class="m d" d="M63.83 91.74h.01"/>
<path class="b d" d="M63.83 95.52h.01M56.62 96.79h.01M63.83 95.49h.01"/>
<path class="m d" d="M56.62 81.64h.01"/>
<path class="b d" d="M63.83 96.13h.01M56.62 98.83h.01"/>
<path class="m d" d="M63.83 89.42h.01M63.83 84.11h.01"/>
<path class="b d" d="M56.62 95.47h.01"/>
<path class="m d" d="M61.31 86.81h.01M56.62 89.26h.01M63.83 89.16h.01M58.83 88.59h.01"/>
<path class="b d" d="M56.62 95.2h.01"/>
<path class="m d" d="M63.83 89.84h.01"/>
<path class="m" d="M50.76 71.23h.01"/>
<path class="m d" d="M63.83 85.31h.01"/>
<path class="b d" d="M60.55 91.88h.01"/>
<path class="m d" d="M61.46 92.28h.01"/>
<path class="b d" d="M63.83 97.31h.01"/>
<path class="m d" d="M63.83 92.8h.01"/>
<path class="b d" d="M56.62 91.28h.01M63.83 93.72h.01"/>
<path class="m d" d="M57.17 84.6h.01"/>
<path class="b d" d="M63.83 96.51h.01"/>
<path class="m" d="M49.71 74.15h.01"/>
<path class="m d" d="M63.83 84.24h.01M63.83 89.16h.01M63.83 90.24h.01"/>
<path class="b d" d="M63.83 93.07h.01M56.62 93.82h.01"/>
<path class="m d" d="M63.83 87.79h.01M56.62 88.9h.01"/>
<path class="b d" d="M63.83 95.46h.01M59.6 92.01h.01M63.83 97.3h.01"/>
<path class="m d" d="M56.62 88.88h.01"/>
<path class="b d" d="M56.62 95.75h.01M58.7 93.86h.01M56.62 98.25h.01M61.98 93.19h.01M56.62 94.11h.01"/>
<path class="m d" d="M56.62 84.12h.01M59.35 82.26h.01"/>
<path class="b d" d="M56.62 97.41h.01M63.83 98.4h.01"/>
<path class="m d" d="M56.62 85.35h.01"/>
<path class="b d" d="M63.83 97.4h.01M63.83 97.56h.01"/>
<path class="m d" d="M63.83 81.91h.01M60.05 90.98h.01"/>
<path class="b d" d="M56.95 89.26h.01"/>
<path class="m d" d="M56.62 86.54h.01"/>
<path class="b d" d="M63.83 94.75h.01M59.75 97.92h.01M57.81 85.4h.01M56.62 94.75h.01"/>
<path class="m d" d="M58.51 81.05h.01"/>
<path class="b d" d="M56.62 94.64h.01M63.83 95.07h.01M56.62 86.91h.01M56.62 96.77h.01M61.18 95.07h.01"/>
<path class="m" d="M51.92 78.57h.01"/>
<path class="b d" d="M56.62 96.54h.01"/>
<path class="m" d="M50.49 81.24h.01"/>
<path class="m d" d="M56.62 87.85h.01M63.83 86.86h.01M56.62 90.34h.01M58.35 83.35h.01"/>
<path class="m" d="M49.37 80.96h.01M52.99 74.37h.01"/>
<path class="m d" d="M61.18 83.64h.01M56.62 85.65h.01M63.83 96.32h.01M56.62 90.42h.01M63.83 95.18h.01M56.62 90.97h.01M56.62 86.97h.01"/>
<path class="b d" d="M56.62 93.29h.01M56.62 95.3h.01M56.62 95.45h.01M56.62 91.5h.01M63.83 98.2h.01M61.64 96h.01"/>
<path class="m d" d="M58.51 79.79h.01"/>
<path class="b d" d="M62.59 97.87h.01"/>
<path class="m d" d="M59.69 93.88h.01"/>
<path class="b d" d="M56.62 93.69h.01M63.83 98.7h.01"/>
<path class="m d" d="M63.83 91.87h.01"/>
<path class="b d" d="M56.62 97.1h.01M56.62 94.94h.01"/>
<path class="m d" d="M58.37 82.16h.01"/>
<path class="b d" d="M58.26 96.88h.01"/>
<path class="m d" d="M61.16 84.72h.01M63.07 81.93h.01"/>
<path class="b d" d="M56.62 89.16h.01M63.83 98.67h.01M62.97 93.13h.01M57.28 96.87h.01M63.83 90.78h.01M63.83 96.75h.01M63.83 87.01h.01M63.83 93.68h.01M56.62 93.49h.01M56.62 96.5h.01M63.83 97.71h.01M58.78 97.91h.01M63.83 97.76h.01"/>
<path class="m d" d="M63.83 96.5h.01"/>
<path class="b d" d="M56.62 96.68h.01M56.62 96.66h.01"/>
<path class="m d" d="M62.05 79.77h.01"/>
<path class="b d" d="M59.09 92.9h.01"/>
<path class="m d" d="M63.83 79.02h.01"/>
<path class="b d" d="M63.83 96.84h.01M63.83 95.93h.01M63.83 97.12h.01M56.62 98.7h.01M63.83 98.51h.01M63.83 98.59h.01M56.62 98.43h.01M56.62 97.46h.01M56.62 97.57h.01M63.83 95.31h.01M56.62 97.64h.01M63.19 98.83h.01M56.62 98.44h.01M57.79 97.86h.01"/>
<path class="m d" d="M63.83 89.03h.01"/>
<path class="b d" d="M56.62 81.69h.01M56.62 97.67h.01M63.83 92.99h.01"/>
<path class="m d" d="M63.83 88.81h.01"/>
<path class="b d" d="M56.62 95.53h.01"/>
<path class="m" d="M50.78 79.9h.01"/>
<path class="b d" d="M63.83 97.1h.01M60.65 96.06h.01M56.62 97.3h.01M56.62 98.7h.01"/>
<path class="m d" d="M63.83 86.01h.01M57.37 83.22h.01M63.83 88.38h.01"/>
<path class="b d" d="M63.83 92.66h.01M63.83 98.4h.01M63.83 98.74h.01M63.83 98.16h.01"/>
<path class="m d" d="M60.98 85.75h.01"/>
<path class="b d" d="M56.62 95.59h.01"/>
<path class="m d" d="M58.86 89.63h.01"/>
<path class="b d" d="M63.83 96.65h.01"/>
<path class="m d" d="M59.42 78.8h.01"/>
<path class="b d" d="M63.83 91.88h.01M56.62 91.52h.01M62.58 94.15h.01"/>
<path class="m d" d="M56.62 82.67h.01"/>
<path class="b d" d="M56.62 95.35h.01M63.83 95.72h.01M56.62 98.18h.01M58.31 94.83h.01M63.83 96.58h.01M63.58 97.81h.01M56.62 98.11h.01"/>
<path class="m" d="M53.17 76.74h.01M50.79 72.63h.01"/>
<path class="m d" d="M60.23 88.11h.01"/>
<path class="b d" d="M63.83 94.92h.01M56.62 89.89h.01M63.83 90.5h.01M63.83 97.53h.01M63.83 94.73h.01M56.62 96.48h.01M63.83 98.73h.01M56.62 95.93h.01M63.83 96.5h.01M56.62 93.74h.01M61.21 96.94h.01"/>
<path class="m d" d="M63.83 90.33h.01M56.62 84.59h.01"/>
<path class="b d" d="M57.37 95.02h.01"/>
<path class="m d" d="M61.69 88.7h.01"/>
<path class="m" d="M55.03 80.96h.01"/>
<path class="m d" d="M63.27 83.12h.01"/>
<path class="b d" d="M56.62 95.89h.01"/>
<path class="m d" d="M62.1 82.07h.01M58.93 85.58h.01"/>
<path class="b d" d="M56.62 96.61h.01M56.62 93.06h.01M61.28 79.05h.01M56.62 97.73h.01M56.62 95.14h.01"/>
<path class="m d" d="M56.62 84.18h.01"/>
<path class="b d" d="M63.83 91.98h.01M58.75 95.75h.01M56.62 91.94h.01M56.62 93.72h.01M63.83 94.42h.01"/>
<path class="m d" d="M58.71 91.55h.01"/>
<path class="b d" d="M56.62 92.9h.01M56.62 97.06h.01M63.83 90.09h.01"/>
<path class="m d" d="M56.62 82.73h.01"/>
<path class="b d" d="M63.83 97.16h.01M63.83 98.83h.01"/>
<path class="m d" d="M61.17 82.42h.01"/>
<path class="m" d="M52.59 77.69h.01"/>
<path class="b d" d="M63.83 94.68h.01M56.62 96.5h.01M57.74 91.39h.01M56.62 92.42h.01M63.83 96.48h.01M56.62 96.35h.01"/>
<path class="m" d="M54.14 74.25h.01"/>
<path class="b d" d="M63.83 96.57h.01M63.83 95.31h.01M62.62 95.97h.01M60.23 97h.01M63.83 94.54h.01M63.56 94.06h.01M57.8 93.51h.01"/>
<path class="m d" d="M57.86 88.41h.01"/>
<path class="b d" d="M63.83 96.04h.01M56.62 96.41h.01M56.62 96.19h.01M56.62 95.59h.01M63.83 92.88h.01"/>
<path class="m d" d="M63.83 94.76h.01"/>
<path class="b d" d="M63.83 96.61h.01M63.83 97.05h.01"/>
<path class="m d" d="M56.62 85.62h.01"/>
<path class="b d" d="M63.83 96.78h.01M56.62 98.05h.01M56.97 94.07h.01M57.24 86.25h.01M56.62 92.67h.01M58.19 90.45h.01M63.83 98.05h.01M56.62 98.62h.01M63.83 93.33h.01M56.62 95.69h.01M63.83 97.64h.01M56.62 97.61h.01"/>
<path class="m" d="M50.78 78.38h.01"/>
<path class="b d" d="M63.43 92.11h.01"/>
<path class="m d" d="M63.83 80.32h.01M60.23 85h.01"/>
<path class="b d" d="M56.62 95.93h.01"/>
<path class="m d" d="M56.62 89.06h.01"/>
<path class="b d" d="M56.62 97.27h.01M63.83 95.76h.01M63.83 97.67h.01M63.83 97.02h.01M59.16 90.62h.01"/>
<path class="m d" d="M56.62 88.38h.01"/>
<path class="b d" d="M60.7 97.91h.01M56.62 97.1h.01"/>
<path class="m d" d="M62.49 89.37h.01"/>
<path class="b d" d="M63.83 94.11h.01"/>
<path class="m d" d="M56.62 84.1h.01"/>
<path class="b d" d="M63.83 95.3h.01M56.8 91.18h.01"/>
<path class="m d" d="M63.83 85.19h.01"/>
<path class="b d" d="M62.91 91.21h.01"/>
<path class="m d" d="M58.33 84.47h.01"/>
<path class="b d" d="M56.62 95.31h.01M56.62 92.85h.01M63.83 96.26h.01M63.83 96.38h.01M63.83 92.62h.01M63.83 96.42h.01M56.81 97.78h.01M56.62 97.49h.01"/>
<path class="m d" d="M56.62 90.09h.01"/>
<path class="m" d="M51.92 70.22h.01"/>
<path class="b d" d="M56.62 95.81h.01M63.83 95.91h.01M63.83 94.61h.01M56.62 90.07h.01M56.62 89.42h.01M56.62 97.55h.01"/>
<path class="m d" d="M63.83 80.3h.01"/>
<path class="b d" d="M63.83 89.98h.01M63.83 96.27h.01M56.62 96.78h.01M63.83 94.02h.01M57.27 98.83h.01M56.62 94.39h.01M56.62 93.77h.01M56.62 94.44h.01M62.2 96.9h.01M56.62 94.22h.01"/>
<path class="m d" d="M62.99 79.43h.01"/>
<path class="b d" d="M56.62 96.3h.01M56.62 96.23h.01M63.83 93.81h.01M59.29 94.88h.01M56.62 88.5h.01M63.77 85.43h.01M63.83 94.32h.01"/>
<path class="m d" d="M60.31 79.26h.01"/>
<path class="b d" d="M60.23 95.12h.01"/>
<path class="m d" d="M63.83 95.66h.01"/>
<path class="b d" d="M63.83 97.34h.01M63.83 94.97h.01"/>
<path class="m d" d="M56.62 88.68h.01"/>
<path class="b d" d="M56.62 98.21h.01M63.83 97.27h.01M60.08 92.91h.01M56.62 91.87h.01M63.83 95.7h.01"/>
<path class="m d" d="M63.83 85.89h.01M59.5 79.85h.01"/>
<path class="b d" d="M62.44 92.13h.01"/>
<path class="m d" d="M63.83 87.06h.01"/>
<path class="b d" d="M63.83 93.69h.01"/>
<path class="m d" d="M56.62 84.29h.01"/>
<path class="b d" d="M62.27 90.39h.01M63.83 88.52h.01M56.62 91.74h.01M56.62 95.3h.01M56.62 94.03h.01"/>
<path class="m d" d="M59.48 81.22h.01"/>
<path class="b d" d="M63.83 92.99h.01M63.83 95.87h.01"/>
<path class="m d" d="M63.21 86.29h.01"/>
<path class="b d" d="M63.83 91.7h.01"/>
<path class="m d" d="M57.24 92.33h.01"/>
<path class="b d" d="M56.62 95.1h.01"/>
<path class="m d" d="M63.83 85.22h.01M59.18 86.59h.01"/>
<path class="b d" d="M63.83 94.64h.01M63.83 95.46h.01M56.84 95.94h.01"/>
<path class="m d" d="M56.62 78.79h.01"/>
<path class="b d" d="M63.83 98.39h.01M61.63 94.16h.01M56.62 96.81h.01M56.62 96.6h.01M63.83 95.18h.01M56.62 96.26h.01M63.83 90.07h.01M63.83 95.55h.01M56.62 94.25h.01M56.62 95.19h.01M56.62 97.31h.01"/>
<path class="m d" d="M63.83 85.62h.01"/>
<path class="b d" d="M63.83 94.26h.01"/>
<path class="m d" d="M63.83 80.74h.01M63.83 86.14h.01"/>
<path class="b d" d="M56.62 94.91h.01M56.62 98.83h.01M56.62 90.8h.01M56.62 92.98h.01M56.62 90.08h.01M63.83 95.27h.01M63.83 96.24h.01M63.83 95.63h.01M56.62 96.25h.01M56.62 97.95h.01M63.07 95.05h.01M63.83 96.8h.01M63.83 97.49h.01M58.25 98.83h.01M56.62 94.64h.01M63.83 97.1h.01M63.83 95.36h.01M56.62 93.45h.01M63.83 93.62h.01M56.62 98.39h.01M61.21 98.83h.01M60.23 89.9h.01M63.46 89.18h.01M56.62 94.96h.01M59.24 98.83h.01"/>
<path class="m" d="M53.08 80.04h.01M50.84 74.39h.01M54.22 81.04h.01"/>
<path class="m d" d="M58.22 86.34h.01M63.83 90.8h.01"/>
<path class="m" d="M51.92 71.31h.01"/>
<path class="b d" d="M60.23 98.83h.01"/>
<path class="m" d="M58.53 76.83h.01"/>
<path class="m d" d="M72.85 87.34h.01"/>
<path class="m" d="M62.8 80.4h.01"/>
<path class="m d" d="M66.03 81.09h.01M71.76 81.25h.01M65.7 85.43h.01M68.24 86.65h.01M65.64 89.18h.01M65.64 83.17h.01M65.64 84.62h.01M65.64 93.92h.01M72.85 88.07h.01M69.36 79.92h.01M66.68 90.28h.01M67.76 85.54h.01M70.23 86.72h.01M65.64 90.47h.01M70.81 81.52h.01M72.85 82.91h.01"/>
<path class="b d" d="M65.64 91.32h.01M65.64 94.3h.01M65.64 96.14h.01"/>
<path class="m d" d="M72.85 82.45h.01M72.85 84.46h.01M71.85 83.5h.01"/>
<path class="m" d="M60.75 78.13h.01"/>
<path class="m d" d="M72.85 84.19h.01M72.85 86.06h.01M72.85 84.25h.01M65.64 85.67h.01M66.43 77.67h.01M67.62 90.61h.01M68.15 78.4h.01M72.85 86.31h.01M65.64 86.03h.01M72.85 89.12h.01M72.85 89.87h.01"/>
<path class="b d" d="M65.64 94.63h.01"/>
<path class="m d" d="M72.85 94.68h.01M68.55 90.15h.01M65.64 96.22h.01M70.71 89.74h.01M65.73 82.09h.01M65.64 88.87h.01M65.64 90.48h.01M69.87 81.86h.01"/>
<path class="b d" d="M65.64 98.79h.01"/>
<path class="m d" d="M69.24 86.76h.01"/>
<path class="b d" d="M72.53 94.94h.01M65.64 93.81h.01M66.29 97.86h.01M65.64 96.77h.01M72.85 97.44h.01"/>
<path class="m d" d="M69.24 80.95h.01M65.64 93.9h.01"/>
<path class="b d" d="M72.85 95.78h.01"/>
<path class="m d" d="M67.87 83.81h.01M72.85 85.37h.01"/>
<path class="b d" d="M72.85 99.1h.01M65.64 98.45h.01M65.64 97.55h.01M65.64 98.19h.01"/>
<path class="m d" d="M72.85 84.42h.01"/>
<path class="b d" d="M65.64 95.96h.01"/>
<path class="m d" d="M65.65 87.59h.01M69.92 83.75h.01"/>
<path class="b d" d="M72.85 97.16h.01M66.29 95.87h.01M72.85 92.05h.01M72.85 94.74h.01"/>
<path class="m d" d="M66.66 85.67h.01"/>
<path class="b d" d="M65.64 94.73h.01"/>
<path class="m d" d="M68.72 85.68h.01M69.31 90.81h.01"/>
<path class="b d" d="M65.64 95.8h.01"/>
<path class="m d" d="M72.85 88.01h.01"/>
<path class="b d" d="M65.64 88.16h.01"/>
<path class="m d" d="M70.17 80.59h.01"/>
<path class="m" d="M60.5 74.35h.01"/>
<path class="b d" d="M72.85 95.72h.01M72.85 95.86h.01M66.85 87.39h.01"/>
<path class="m" d="M58.62 69.87h.01M59.69 76.86h.01"/>
<path class="b d" d="M65.64 96.52h.01"/>
<path class="m d" d="M65.64 84.17h.01M65.71 91.04h.01M65.64 85.1h.01"/>
<path class="b d" d="M72.85 93.17h.01M72.85 87.25h.01M72.85 94.57h.01"/>
<path class="m d" d="M72.19 86.51h.01"/>
<path class="b d" d="M72.85 95.12h.01M65.64 94.89h.01"/>
<path class="m d" d="M65.64 84.13h.01M72.85 84.37h.01"/>
<path class="b d" d="M72.85 94.6h.01M65.64 98.43h.01M72.85 93.87h.01"/>
<path class="m d" d="M65.64 89.44h.01M65.64 91.84h.01"/>
<path class="b d" d="M71.22 99.84h.01M65.64 96.69h.01M72.85 94.45h.01M72.85 97.7h.01"/>
<path class="m d" d="M70.44 82.73h.01"/>
<path class="b d" d="M66.29 93.63h.01M65.64 96.42h.01"/>
<path class="m" d="M59.69 70.28h.01"/>
<path class="b d" d="M65.64 96.46h.01M72.85 96.68h.01M65.64 89.11h.01M72.85 85.94h.01M65.64 94.38h.01M65.64 96.42h.01M72.85 96.27h.01M65.64 95.73h.01"/>
<path class="m d" d="M72.85 83.94h.01M65.64 82.95h.01M72.85 89.87h.01"/>
<path class="b d" d="M65.64 95.17h.01"/>
<path class="m d" d="M65.64 84.4h.01"/>
<path class="m" d="M59.69 66.76h.01"/>
<path class="b d" d="M65.64 89.55h.01M72.85 94.85h.01M72.85 97.81h.01"/>
<path class="m d" d="M65.64 94.35h.01M72.85 89.81h.01"/>
<path class="b d" d="M65.64 84.63h.01"/>
<path class="m d" d="M68.53 79.36h.01"/>
<path class="b d" d="M65.64 94.71h.01"/>
<path class="m d" d="M72.63 85.43h.01M65.64 89.84h.01"/>
<path class="b d" d="M72.85 89.27h.01"/>
<path class="m d" d="M68.56 87.64h.01M68.64 95.02h.01"/>
<path class="b d" d="M72.85 95.21h.01M72.85 94.72h.01"/>
<path class="m d" d="M72.22 84.47h.01"/>
<path class="b d" d="M72.85 91.3h.01M72.2 99.84h.01"/>
<path class="m d" d="M72.85 89.25h.01"/>
<path class="b d" d="M72.85 96.53h.01M65.64 94.34h.01M65.64 98.44h.01M72.85 94.49h.01"/>
<path class="m d" d="M66.18 86.63h.01"/>
<path class="b d" d="M72.85 93.5h.01M72.85 89.98h.01M65.64 97.48h.01M72.85 95.13h.01M65.64 95.98h.01M69.7 85.84h.01M65.64 96.66h.01M67.36 93.64h.01M65.64 95.69h.01"/>
<path class="m d" d="M72.73 81.06h.01"/>
<path class="b d" d="M65.64 94.91h.01M65.64 96.35h.01M72.85 98.67h.01M65.64 93.18h.01"/>
<path class="m d" d="M66.58 82.61h.01"/>
<path class="m" d="M58.37 80.27h.01"/>
<path class="b d" d="M72.85 94.81h.01"/>
<path class="m d" d="M71.41 82.55h.01"/>
<path class="b d" d="M72.85 96.39h.01M65.72 96.82h.01"/>
<path class="m d" d="M72.85 88.12h.01M67 81.25h.01"/>
<path class="b d" d="M72.45 93.11h.01M65.64 93.25h.01"/>
<path class="m d" d="M70.12 93.72h.01M67.4 80.29h.01"/>
<path class="b d" d="M72.85 95.24h.01M65.64 99.84h.01M65.64 99.84h.01M65.64 93.22h.01"/>
<path class="m d" d="M65.64 84.04h.01"/>
<path class="b d" d="M65.64 99.51h.01M65.64 97.47h.01"/>
<path class="m" d="M60.08 69.25h.01M61.9 76.36h.01"/>
<path class="m d" d="M71.27 90.6h.01"/>
<path class="b d" d="M72.85 95.64h.01"/>
<path class="m d" d="M72.85 94.03h.01"/>
<path class="b d" d="M72.85 99.42h.01"/>
<path class="m d" d="M72.85 89.48h.01"/>
<path class="b d" d="M68.26 94.07h.01M72.85 97.08h.01M71.57 96.9h.01"/>
<path class="m d" d="M72.85 88.05h.01"/>
<path class="b d" d="M72.85 94.74h.01M72.85 99.84h.01"/>
<path class="m d" d="M65.64 91.71h.01M72.85 84.02h.01"/>
<path class="b d" d="M72.85 95.61h.01"/>
<path class="m d" d="M69.39 88.21h.01M67.75 89.55h.01M71.35 87.77h.01M69.04 89.19h.01"/>
<path class="b d" d="M72.85 92.52h.01"/>
<path class="m d" d="M65.64 86.5h.01"/>
<path class="m" d="M61.61 74.05h.01"/>
<path class="m d" d="M72.85 83.49h.01"/>
<path class="b d" d="M65.64 93.03h.01"/>
<path class="m d" d="M70.62 92.57h.01"/>
<path class="b d" d="M65.64 96.37h.01"/>
<path class="m d" d="M65.64 90.24h.01"/>
<path class="b d" d="M72.85 90.75h.01M72.85 94.22h.01"/>
<path class="m d" d="M69.45 82.8h.01"/>
<path class="b d" d="M72.85 97.36h.01"/>
<path class="m" d="M58.74 74.52h.01"/>
<path class="m d" d="M65.64 88.09h.01M65.64 88.33h.01M65.64 89.86h.01"/>
<path class="b d" d="M72.85 94.24h.01M68.26 97.94h.01"/>
<path class="m d" d="M65.64 84.35h.01M65.64 88.01h.01"/>
<path class="b d" d="M65.64 95.28h.01M65.64 91.91h.01M72.85 96.43h.01"/>
<path class="m d" d="M67.28 88.33h.01"/>
<path class="b d" d="M65.64 95.47h.01M71.06 91.64h.01M65.64 97.68h.01M71.47 93.11h.01M72.85 96.22h.01"/>
<path class="m d" d="M72.33 87.62h.01M71.14 80.42h.01"/>
<path class="b d" d="M72.85 99.29h.01M72.85 98.7h.01"/>
<path class="m d" d="M65.64 84.98h.01"/>
<path class="b d" d="M66.71 96.87h.01M72.85 96.47h.01"/>
<path class="m d" d="M69.89 77.8h.01M72.85 89.11h.01"/>
<path class="b d" d="M65.64 91.99h.01"/>
<path class="m d" d="M72.85 84.14h.01"/>
<path class="b d" d="M72.85 93.19h.01M71.21 97.87h.01M72.85 94.76h.01M72.85 95.67h.01"/>
<path class="m d" d="M65.64 84.01h.01"/>
<path class="b d" d="M72.85 94.37h.01M67.27 97.88h.01M67.88 92.75h.01M70.61 96.97h.01M65.64 94.62h.01"/>
<path class="m" d="M59.74 79.82h.01"/>
<path class="b d" d="M72.85 96.16h.01"/>
<path class="m d" d="M65.64 82.48h.01M72.85 84.96h.01M66.2 84.53h.01M65.64 90.49h.01M70.25 79.45h.01M67.42 77.71h.01"/>
<path class="m" d="M59.69 78.57h.01"/>
<path class="m d" d="M69.33 84.87h.01M72.8 83.21h.01M65.64 94.79h.01M67.3 86.46h.01M72.85 94.77h.01M72.85 88.21h.01M65.64 84.43h.01"/>
<path class="b d" d="M65.64 95.14h.01M70.18 96.03h.01M68.68 96.97h.01M72.85 94.73h.01M72.85 98.73h.01M65.86 94.93h.01"/>
<path class="m d" d="M68.38 80.45h.01"/>
<path class="b d" d="M65.64 97.34h.01"/>
<path class="m d" d="M66.63 91.39h.01"/>
<path class="b d" d="M71.21 86.65h.01M72.85 99.25h.01"/>
<path class="m d" d="M65.64 89.43h.01"/>
<path class="b d" d="M65.64 97.64h.01M65.64 93.23h.01"/>
<path class="m d" d="M67.57 82.62h.01"/>
<path class="b d" d="M65.64 94.92h.01"/>
<path class="m d" d="M72.85 82.98h.01M66.89 83.71h.01"/>
<path class="b d" d="M72.85 93.8h.01M72.85 99.32h.01M65.64 93.09h.01M72.85 97.76h.01M69.77 89.88h.01M72.85 95.97h.01M72.85 88.08h.01M65.64 91.25h.01M72.85 93.84h.01M72.85 95.78h.01M72.85 96.42h.01M65.64 96.43h.01M72.85 97.4h.01"/>
<path class="m d" d="M65.64 93.58h.01"/>
<path class="b d" d="M72.85 97.4h.01M72.85 96.5h.01"/>
<path class="m d" d="M65.64 80.91h.01"/>
<path class="b d" d="M72.85 94.32h.01"/>
<path class="m" d="M61.24 80.38h.01"/>
<path class="b d" d="M72.85 96.67h.01M65.64 97.17h.01M72.85 97.5h.01M65.64 99.26h.01M65.64 99.23h.01M65.64 99.06h.01M72.85 98.27h.01M65.64 97.8h.01M65.64 96.5h.01M65.64 95.3h.01M72.85 98.26h.01M72.85 99.84h.01M65.64 98.7h.01M68.75 98.94h.01"/>
<path class="m d" d="M70.67 85.67h.01"/>
<path class="b d" d="M72.85 91.1h.01M72.85 96.82h.01M69.69 92.78h.01"/>
<path class="m d" d="M65.64 86.07h.01"/>
<path class="b d" d="M72.85 93.78h.01"/>
<path class="m" d="M62.8 76.21h.01"/>
<path class="b d" d="M72.55 96.83h.01M65.64 96.09h.01M70.59 94.97h.01M71.69 98.85h.01"/>
<path class="m d" d="M68.36 84.71h.01M71.66 85.62h.01M65.64 87.29h.01"/>
<path class="b d" d="M65.64 94.59h.01M72.85 98.49h.01M65.64 99.32h.01M65.64 98.32h.01"/>
<path class="m d" d="M72.32 82.14h.01"/>
<path class="b d" d="M69.24 96.11h.01"/>
<path class="m d" d="M65.64 88.99h.01"/>
<path class="b d" d="M72.85 96.68h.01"/>
<path class="m" d="M61.89 77.96h.01"/>
<path class="b d" d="M65.64 92.32h.01M72.85 95.76h.01M72.85 93.89h.01"/>
<path class="m d" d="M72.11 80.18h.01"/>
<path class="b d" d="M71.05 94.05h.01M65.64 96.21h.01M65.64 98.33h.01M65.64 93.56h.01M72.85 95.71h.01M72.85 96.66h.01M65.64 97.77h.01"/>
<path class="m d" d="M71.28 77.71h.01"/>
<path class="m" d="M59.16 68.6h.01"/>
<path class="m d" d="M72.85 88.16h.01"/>
<path class="b d" d="M72.85 97.22h.01M72.85 92.02h.01M72.85 89.86h.01M72.85 96.12h.01M65.64 95.6h.01M72.85 97.34h.01M70.7 98.87h.01M65.64 95.52h.01M72.85 96.67h.01M68.41 91.23h.01M72.85 97.22h.01"/>
<path class="m d" d="M65.64 85.97h.01"/>
<path class="m" d="M56.58 80.66h.01"/>
<path class="b d" d="M65.64 96.23h.01"/>
<path class="m d" d="M67.13 84.76h.01"/>
<path class="m" d="M56.58 76.27h.01"/>
<path class="m d" d="M65.64 84.21h.01"/>
<path class="b d" d="M65.64 95.11h.01"/>
<path class="m d" d="M68.95 77.47h.01M68.96 83.91h.01"/>
<path class="b d" d="M72.85 96.22h.01M72.85 90.22h.01M66.83 89.25h.01M72.85 97.85h.01M72.85 95.44h.01"/>
<path class="m d" d="M72.85 88.5h.01"/>
<path class="b d" d="M65.78 89.95h.01M72.85 96.15h.01M66.77 94.54h.01M72.85 94.71h.01M65.64 94.74h.01"/>
<path class="m d" d="M72.85 90.45h.01"/>
<path class="b d" d="M65.64 95.33h.01M72.85 98.33h.01M72.85 94.93h.01"/>
<path class="m d" d="M67.92 81.65h.01"/>
<path class="b d" d="M65.64 96.34h.01M66.28 99.84h.01"/>
<path class="m d" d="M65.64 83.6h.01"/>
<path class="m" d="M59.69 75.13h.01"/>
<path class="b d" d="M72.85 93.92h.01M72.04 94.05h.01M72.67 90.25h.01M66.91 92.57h.01M65.64 98.55h.01M67.7 96.93h.01"/>
<path class="m d" d="M70.63 78.49h.01"/>
<path class="b d" d="M65.64 96.64h.01M72.85 96.49h.01M65.64 95.58h.01M72.85 96.18h.01M65.64 94.62h.01M69.95 91.77h.01M72.85 96.52h.01"/>
<path class="m d" d="M72.85 84.12h.01"/>
<path class="b d" d="M72.85 95.12h.01M72.85 96.1h.01M72.85 95.42h.01M69.72 98.93h.01M72.85 92.94h.01"/>
<path class="m d" d="M71.58 94.96h.01"/>
<path class="b d" d="M71.13 95.96h.01M65.64 97.6h.01"/>
<path class="m d" d="M70.26 84.73h.01"/>
<path class="b d" d="M65.64 95.56h.01M70.23 97.93h.01M65.64 97.3h.01M68.21 88.62h.01M72.85 91.83h.01M65.64 91.27h.01M72.85 96.34h.01M67.79 98.93h.01M72.12 95.89h.01M65.64 97.34h.01M65.64 97.4h.01M65.64 96.57h.01"/>
<path class="m d" d="M65.64 82.53h.01"/>
<path class="b d" d="M65.64 94.86h.01"/>
<path class="m" d="M62.8 80.77h.01"/>
<path class="m d" d="M72.85 84.26h.01"/>
<path class="b d" d="M65.64 94.72h.01"/>
<path class="m d" d="M65.64 88.32h.01"/>
<path class="b d" d="M65.64 96.12h.01M72.85 94.6h.01M65.64 95.76h.01M65.64 95.12h.01M65.64 93.4h.01"/>
<path class="m d" d="M71.69 89.62h.01"/>
<path class="b d" d="M65.64 98.07h.01M72.2 97.86h.01"/>
<path class="m d" d="M72.14 88.7h.01"/>
<path class="b d" d="M72.85 92.23h.01"/>
<path class="m d" d="M72.85 85.06h.01"/>
<path class="b d" d="M72.85 95.82h.01M72.85 94.63h.01"/>
<path class="m d" d="M67.55 79.26h.01"/>
<path class="b d" d="M72.85 95.59h.01"/>
<path class="m d" d="M70.88 83.69h.01"/>
<path class="b d" d="M72.85 96.38h.01M65.64 88.27h.01M65.64 95.8h.01M65.64 94.03h.01M65.64 96.25h.01M65.64 96.16h.01M65.64 96.7h.01M69.24 97.99h.01"/>
<path class="m d" d="M66.3 88.38h.01"/>
<path class="m" d="M59.69 72.77h.01"/>
<path class="b d" d="M72.85 96.75h.01M65.64 96.68h.01M72.85 94.73h.01M65.64 94.8h.01M72.85 93.59h.01M72.68 98.82h.01"/>
<path class="m d" d="M68.84 81.98h.01"/>
<path class="b d" d="M65.64 89.93h.01M72.85 97.15h.01M65.64 95.61h.01M69.24 94.1h.01M67.27 99.84h.01M69.67 97.04h.01M65.64 94.36h.01M65.64 94.39h.01M72.85 97.46h.01M72.85 96.34h.01"/>
<path class="m d" d="M65.64 83.46h.01"/>
<path class="b d" d="M65.64 97.12h.01M65.64 96.16h.01M65.64 90.46h.01M65.64 94.21h.01M71.08 88.77h.01M72.27 91.21h.01M72.85 94.87h.01"/>
<path class="m d" d="M69.24 78.56h.01"/>
<path class="b d" d="M65.64 94.26h.01"/>
<path class="m d" d="M65.64 95.73h.01"/>
<path class="b d" d="M72.85 97.6h.01M65.64 92.4h.01"/>
<path class="m d" d="M72.85 86.01h.01"/>
<path class="b d" d="M72.85 97.8h.01M72.85 97.61h.01M72.85 91.02h.01M70.3 90.8h.01M65.64 95.62h.01"/>
<path class="m d" d="M65.97 83.48h.01M66.5 79.86h.01"/>
<path class="b d" d="M72.85 88.9h.01"/>
<path class="m d" d="M70.29 87.8h.01"/>
<path class="b d" d="M65.64 94h.01"/>
<path class="m d" d="M72.85 81.97h.01"/>
<path class="b d" d="M72.85 90.48h.01M65.64 87.3h.01M67.27 95.98h.01M65.64 92.24h.01M72.85 91.71h.01"/>
<path class="m d" d="M71.25 84.66h.01"/>
<path class="b d" d="M69.62 95.14h.01M72.85 95.32h.01"/>
<path class="m d" d="M72.85 85.28h.01"/>
<path class="b d" d="M72.85 92.09h.01"/>
<path class="m d" d="M68.92 92.12h.01"/>
<path class="b d" d="M65.64 95.22h.01"/>
<path class="m d" d="M68.48 83h.01M72.85 83.03h.01"/>
<path class="b d" d="M65.64 90.39h.01M65.64 94.51h.01M65.64 95.53h.01"/>
<path class="m" d="M60.85 76.83h.01"/>
<path class="b d" d="M65.82 98.84h.01M72.85 93.1h.01M72.85 95.54h.01M65.64 97.15h.01M65.64 94.23h.01M65.64 95.13h.01M65.64 88.05h.01M65.64 94.86h.01M72.85 91.93h.01M68.26 96h.01M65.64 96.49h.01"/>
<path class="m d" d="M72.85 81.75h.01"/>
<path class="b d" d="M72.85 94.88h.01"/>
<path class="m" d="M57.45 79.6h.01"/>
<path class="m d" d="M70.1 88.9h.01"/>
<path class="b d" d="M67.55 91.77h.01M65.64 99.84h.01M65.64 97.41h.01M72.85 95.22h.01M72.85 92.91h.01M72.85 94.45h.01M72.85 94.01h.01M72.85 95.62h.01M72.85 95.49h.01M66.81 98.87h.01M72.85 95.5h.01M72.85 98.13h.01M72.85 98.39h.01M72.85 99.84h.01M65.64 95.82h.01M65.64 97.17h.01M65.64 97.56h.01M72.85 95.67h.01M67.65 94.96h.01M65.64 97.86h.01M70.23 99.84h.01M68.78 93.19h.01M65.94 92.53h.01M71.9 92.17h.01M68.26 99.84h.01"/>
<path class="m d" d="M72.85 83.04h.01"/>
<path class="m" d="M57.38 76.77h.01M58.56 78.35h.01"/>
<path class="m d" d="M65.64 82.39h.01M72.85 90.39h.01"/>
<path class="m" d="M56.58 75.91h.01"/>
<path class="b d" d="M69.24 99.84h.01"/>
<path class="m" d="M65.82 77.13h.01"/>
<path class="m d" d="M80.95 87.67h.01M78.87 82.63h.01M79.57 88.87h.01M74.65 82.34h.01M81.87 92.89h.01M81.87 90.09h.01M79.26 86.68h.01M81.87 93.59h.01M74.65 93.81h.01M76.3 91.77h.01M80.53 88.62h.01"/>
<path class="m" d="M70.14 80.76h.01"/>
<path class="m d" d="M77.66 91.17h.01M81.87 95.94h.01M81.87 92h.01M74.65 89.44h.01M77.5 87.03h.01M74.65 82.32h.01"/>
<path class="b d" d="M74.65 94.5h.01M81.87 96.61h.01M74.65 94.31h.01"/>
<path class="m d" d="M81.87 90.29h.01M81.45 83.98h.01M77.37 81.11h.01"/>
<path class="m" d="M67.47 78.41h.01"/>
<path class="m d" d="M74.65 94.88h.01M77.42 79.96h.01M74.65 90.28h.01M81.87 86.26h.01M78.26 80.51h.01M78.15 89.2h.01M74.65 86.24h.01M74.65 87.37h.01M74.65 92.9h.01M79 89.72h.01M74.65 94.1h.01"/>
<path class="b d" d="M81.87 96.64h.01"/>
<path class="m" d="M65.99 74.04h.01"/>
<path class="m d" d="M74.65 95.92h.01M74.65 95.28h.01M81.87 95.33h.01"/>
<path class="m" d="M64.49 80.1h.01"/>
<path class="m d" d="M74.65 91.99h.01M81.87 96.4h.01M81.44 85.54h.01"/>
<path class="b d" d="M74.86 97.33h.01"/>
<path class="m d" d="M81.87 94.07h.01"/>
<path class="b d" d="M81.87 94.66h.01M80.66 95.4h.01M81.87 91.1h.01M81.87 96.56h.01M76 95.56h.01"/>
<path class="m d" d="M74.65 80.44h.01M74.65 93.49h.01"/>
<path class="b d" d="M74.65 93.13h.01"/>
<path class="m d" d="M77.99 83.09h.01M74.65 90.69h.01"/>
<path class="b d" d="M81.87 91.15h.01M75.85 97.34h.01M78.74 88.37h.01M74.65 92.3h.01"/>
<path class="m d" d="M79.17 83.68h.01"/>
<path class="b d" d="M74.65 91.01h.01"/>
<path class="m d" d="M74.65 90.62h.01M74.65 92.31h.01"/>
<path class="b d" d="M81.87 95.37h.01M81.87 94.43h.01M78.72 93.06h.01M81.87 95.32h.01"/>
<path class="m d" d="M78.26 81.56h.01"/>
<path class="b d" d="M74.65 88.11h.01"/>
<path class="m d" d="M74.65 86.5h.01M81.87 94.28h.01"/>
<path class="b d" d="M81.87 94.98h.01"/>
<path class="m d" d="M75.05 82.59h.01"/>
<path class="b d" d="M81.87 91h.01"/>
<path class="m" d="M69.21 80.11h.01M69.19 81.38h.01"/>
<path class="b d" d="M79.12 94.61h.01M74.65 93.12h.01M74.65 94.1h.01"/>
<path class="m" d="M68.53 82.28h.01"/>
<path class="m d" d="M81.87 88.29h.01"/>
<path class="b d" d="M78.73 95.57h.01"/>
<path class="m d" d="M74.65 83.78h.01M75.78 90.75h.01M81.87 87.53h.01"/>
<path class="b d" d="M74.65 93.8h.01M74.65 88.47h.01M81.87 91.95h.01"/>
<path class="m d" d="M81.87 93.43h.01"/>
<path class="b d" d="M74.65 91.11h.01M74.65 93.87h.01"/>
<path class="m d" d="M74.65 89.34h.01M81.87 82.33h.01"/>
<path class="b d" d="M77.21 92.1h.01M74.65 92.88h.01M74.65 95.46h.01"/>
<path class="m d" d="M78.31 94.01h.01M76.3 89.84h.01"/>
<path class="b d" d="M74.65 95.64h.01M81.87 96.43h.01M74.65 96.73h.01M81.87 92.38h.01"/>
<path class="m d" d="M81.87 91.48h.01"/>
<path class="b d" d="M75.37 93.6h.01M81.21 98.24h.01"/>
<path class="m" d="M69.01 74.01h.01"/>
<path class="b d" d="M81.87 95.38h.01M74.65 91.18h.01M81.87 92.69h.01M78.2 92.18h.01M74.65 92.91h.01M81.87 97.08h.01M74.65 93.45h.01M81.87 93.42h.01"/>
<path class="m d" d="M81.87 90.59h.01M81.87 87.46h.01M74.65 87.5h.01"/>
<path class="b d" d="M81.87 97.72h.01"/>
<path class="m d" d="M81.87 83.45h.01"/>
<path class="m" d="M67.47 66.36h.01"/>
<path class="b d" d="M81.87 93.93h.01M81.74 97.14h.01M74.65 95.78h.01"/>
<path class="m d" d="M81.87 95.47h.01M80.46 84.03h.01"/>
<path class="b d" d="M74.82 90.48h.01"/>
<path class="m d" d="M77.19 88.88h.01"/>
<path class="b d" d="M74.65 96.23h.01"/>
<path class="m d" d="M81.87 89.4h.01M81.87 90.43h.01"/>
<path class="b d" d="M74.65 93.46h.01"/>
<path class="m d" d="M81.87 86.37h.01M74.65 95.33h.01"/>
<path class="b d" d="M74.65 90.03h.01M81.87 96.84h.01"/>
<path class="m" d="M68.62 71.9h.01"/>
<path class="b d" d="M74.65 92.79h.01M81.2 96.27h.01"/>
<path class="m d" d="M75.35 83.65h.01"/>
<path class="b d" d="M74.65 94.14h.01M74.65 95.89h.01M81.87 94.93h.01M74.65 91.35h.01"/>
<path class="m d" d="M74.65 93.26h.01"/>
<path class="b d" d="M74.65 90.71h.01M74.65 95.23h.01M74.65 95h.01M79.49 90.75h.01M81.87 96.4h.01M75.44 80.67h.01M74.65 95.62h.01M74.65 94.47h.01M81.87 95.74h.01"/>
<path class="m d" d="M80.12 81h.01"/>
<path class="b d" d="M74.65 89.29h.01M81.87 96.69h.01M81.87 94.2h.01M81.87 88.71h.01"/>
<path class="m" d="M64.36 79.61h.01"/>
<path class="m d" d="M77.01 82.86h.01"/>
<path class="b d" d="M74.65 93.88h.01"/>
<path class="m d" d="M74.89 84.66h.01"/>
<path class="b d" d="M81.87 96.64h.01M81.87 96.92h.01"/>
<path class="m d" d="M74.65 86.29h.01"/>
<path class="m" d="M67.3 77.32h.01"/>
<path class="b d" d="M74.65 94.46h.01M74.65 95.34h.01"/>
<path class="m d" d="M74.65 89.52h.01M74.65 90.73h.01"/>
<path class="b d" d="M81.87 96.06h.01M81.87 92.98h.01M81.87 95.73h.01M74.65 90.48h.01"/>
<path class="m d" d="M74.65 93.66h.01"/>
<path class="b d" d="M74.65 96.91h.01M76.44 94.03h.01"/>
<path class="m d" d="M81.87 80.38h.01M74.65 85.52h.01M74.65 92h.01"/>
<path class="b d" d="M74.65 92.89h.01"/>
<path class="m d" d="M81.87 96.11h.01"/>
<path class="b d" d="M81.87 90.64h.01"/>
<path class="m d" d="M81.87 94.8h.01"/>
<path class="b d" d="M74.65 95.12h.01M74.65 96.59h.01M81.62 95.29h.01"/>
<path class="m d" d="M81.87 94.1h.01"/>
<path class="b d" d="M80.96 83h.01M74.65 92.4h.01"/>
<path class="m d" d="M81.87 91.12h.01M74.65 94.26h.01"/>
<path class="b d" d="M74.65 96.39h.01"/>
<path class="m d" d="M76.34 85.79h.01M81.87 85.36h.01M81.87 90.36h.01M81.87 96.01h.01"/>
<path class="b d" d="M81.87 92.42h.01"/>
<path class="m d" d="M81.87 91.33h.01M81.87 87.42h.01M81.87 87.14h.01"/>
<path class="b d" d="M81.87 91.35h.01"/>
<path class="m d" d="M74.65 94.47h.01"/>
<path class="b d" d="M74.65 95.9h.01"/>
<path class="m d" d="M75.56 86.62h.01"/>
<path class="b d" d="M80.24 96.41h.01M81.87 95.91h.01"/>
<path class="m" d="M69.54 83.25h.01"/>
<path class="b d" d="M81.87 95.69h.01"/>
<path class="m" d="M67.47 30.86h.01"/>
<path class="m d" d="M77.81 88.02h.01M81.87 90.74h.01M81.87 94.84h.01"/>
<path class="b d" d="M81.87 93.84h.01M81.87 92.33h.01"/>
<path class="m" d="M65.41 80.77h.01"/>
<path class="m d" d="M76.02 82.79h.01"/>
<path class="b d" d="M81.87 95.99h.01M81.87 94.82h.01M81.87 95.08h.01"/>
<path class="m d" d="M74.65 92.57h.01"/>
<path class="b d" d="M81.87 93.93h.01M74.65 88.21h.01M74.65 96.46h.01M75.04 95.45h.01M74.65 95.12h.01"/>
<path class="m d" d="M74.65 93.6h.01M74.65 93.85h.01"/>
<path class="b d" d="M74.65 98.21h.01M74.65 95.65h.01"/>
<path class="m d" d="M74.65 88.16h.01"/>
<path class="b d" d="M74.65 95.86h.01M74.65 94.77h.01"/>
<path class="m" d="M66.36 78.1h.01"/>
<path class="m d" d="M78.26 84.09h.01"/>
<path class="b d" d="M81.87 92.87h.01"/>
<path class="m d" d="M76.84 87.85h.01"/>
<path class="b d" d="M81.87 93.14h.01M79.24 98.35h.01M81.87 95.17h.01M81.87 90.39h.01"/>
<path class="m d" d="M81.87 88.15h.01"/>
<path class="b d" d="M81.87 91.95h.01M81.87 97.17h.01M81.87 96.18h.01M74.65 95h.01M74.65 94.84h.01"/>
<path class="m" d="M67.94 79.5h.01"/>
<path class="b d" d="M74.65 91.44h.01"/>
<path class="m d" d="M81.87 82.12h.01M74.65 93.52h.01M74.65 86.37h.01M74.65 90.63h.01M74.65 80.21h.01M75.96 84.79h.01"/>
<path class="m" d="M66.31 72.01h.01"/>
<path class="m d" d="M81.87 95.2h.01M74.65 91.31h.01M78.61 91.24h.01M79.24 80.41h.01M79.71 95.5h.01M80.52 90.75h.01"/>
<path class="m" d="M66.32 75.13h.01"/>
<path class="b d" d="M81.87 89.99h.01M74.65 92.8h.01M74.65 95.38h.01M81.87 93.25h.01M74.65 97.98h.01M79.27 96.48h.01"/>
<path class="m" d="M67.47 75.26h.01"/>
<path class="b d" d="M81.87 94.54h.01"/>
<path class="m d" d="M81.87 90.73h.01"/>
<path class="b d" d="M74.65 85.24h.01M81.87 95.31h.01"/>
<path class="m d" d="M81.87 93.04h.01"/>
<path class="b d" d="M74.65 94.8h.01M74.65 95.05h.01"/>
<path class="m d" d="M78.95 85.37h.01"/>
<path class="b d" d="M78.44 87.22h.01"/>
<path class="m d" d="M81.87 89.49h.01M74.65 94.06h.01"/>
<path class="b d" d="M81.87 93.97h.01M81.06 94.45h.01M74.65 94.39h.01M78.83 97.41h.01M81.87 89.09h.01M75.62 94.61h.01"/>
<path class="b" d="M67.47 82.7h.01"/>
<path class="b d" d="M74.65 94.05h.01M74.65 96.01h.01M74.65 96.07h.01M74.65 96.72h.01M74.65 95.77h.01M74.65 96.86h.01"/>
<path class="m d" d="M77.9 85.14h.01"/>
<path class="b d" d="M74.65 95.49h.01M74.65 94.08h.01"/>
<path class="m" d="M68.79 76.72h.01"/>
<path class="b d" d="M79.19 92.15h.01"/>
<path class="m" d="M68.37 77.73h.01"/>
<path class="b d" d="M81.87 97.53h.01M76.8 93.05h.01M74.65 94.97h.01M78.26 96.48h.01M81.87 96.88h.01M74.65 95.63h.01M81.87 91.32h.01M74.65 97.24h.01M81.87 93.35h.01M81.87 93.09h.01M81.87 97.96h.01M81.87 92.83h.01M74.65 96.95h.01M74.65 95.96h.01"/>
<path class="m d" d="M74.65 91.15h.01"/>
<path class="b d" d="M80.94 89.63h.01M74.65 91.81h.01M74.65 92.06h.01"/>
<path class="m d" d="M81.87 86.45h.01"/>
<path class="b d" d="M74.65 95.71h.01"/>
<path class="m d" d="M80.19 87.01h.01"/>
<path class="b d" d="M74.65 94.81h.01M74.65 95.99h.01M74.65 94.82h.01M74.65 95.41h.01"/>
<path class="m d" d="M74.65 90.32h.01M74.65 87h.01M74.65 92.82h.01"/>
<path class="b d" d="M80.09 94.54h.01M81.87 93.81h.01M81.87 95.88h.01M74.65 96.64h.01"/>
<path class="m d" d="M76.41 80.88h.01"/>
<path class="b d" d="M74.65 96.71h.01"/>
<path class="m d" d="M81.87 85.21h.01"/>
<path class="b d" d="M74.65 94.7h.01"/>
<path class="m" d="M64.36 79.37h.01"/>
<path class="b d" d="M74.65 92.52h.01M81.87 96.63h.01M81.87 97.24h.01"/>
<path class="m d" d="M81.87 85.7h.01"/>
<path class="b d" d="M74.65 92.64h.01M81.87 92.8h.01M81.87 95.17h.01M81.87 92.68h.01M81.87 96.97h.01M81.87 92.23h.01M74.65 92.42h.01"/>
<path class="m d" d="M81.87 88.25h.01"/>
<path class="m" d="M70.54 79.74h.01"/>
<path class="m d" d="M76.93 84.93h.01"/>
<path class="b d" d="M81.87 90.7h.01M81.87 92.25h.01M81.87 93.48h.01M81.87 94.89h.01M75.85 87.81h.01M75.1 88.56h.01M80.92 92.47h.01M81.87 94.69h.01M81.87 95.71h.01M81.87 92.78h.01M80.8 97.28h.01"/>
<path class="m d" d="M76.53 86.81h.01"/>
<path class="m" d="M67.07 80.23h.01"/>
<path class="b d" d="M81.87 94.93h.01"/>
<path class="m" d="M67.13 74.22h.01M70.58 79.4h.01"/>
<path class="m d" d="M74.65 90.48h.01"/>
<path class="b d" d="M81.87 96.78h.01"/>
<path class="m d" d="M75.9 92.72h.01M79.94 85.92h.01"/>
<path class="b d" d="M74.65 96.98h.01M74.65 96.88h.01M78.26 98.45h.01M81.87 97.02h.01M81.87 97.73h.01"/>
<path class="m d" d="M81.87 95.96h.01"/>
<path class="b d" d="M74.65 94.84h.01M74.65 97.14h.01M75.31 98.25h.01M81.87 94.73h.01M74.65 96.66h.01"/>
<path class="m d" d="M74.65 90.86h.01"/>
<path class="b d" d="M74.65 94.58h.01M74.65 94.89h.01M81.87 92.99h.01"/>
<path class="m d" d="M77.28 86h.01"/>
<path class="b d" d="M76.5 96.46h.01M74.65 88.34h.01"/>
<path class="m d" d="M80.53 85.09h.01M75.17 85.66h.01"/>
<path class="b d" d="M81.87 94.14h.01M74.65 97.48h.01M81.87 95.9h.01M74.65 92.15h.01M81.87 96.6h.01M74.95 92.66h.01"/>
<path class="m d" d="M81.87 91.18h.01"/>
<path class="b d" d="M74.65 94.94h.01M81.87 95.35h.01M74.65 97.59h.01M80.06 91.67h.01M74.65 91.76h.01M74.65 95.28h.01M76.21 88.78h.01"/>
<path class="m d" d="M77.28 89.91h.01"/>
<path class="b d" d="M81.87 92.9h.01M74.65 96.45h.01M74.65 96.32h.01M76.29 98.27h.01M81.87 93.28h.01"/>
<path class="m d" d="M81.87 89.56h.01"/>
<path class="b d" d="M74.65 94.38h.01M81.51 90.5h.01"/>
<path class="m" d="M67.47 69.98h.01"/>
<path class="b d" d="M74.65 95.61h.01M81.87 94.08h.01M81.87 94.09h.01M74.65 87.61h.01M81.87 95.11h.01M81.87 95.63h.01M77.3 83.86h.01M74.65 96.61h.01M74.65 93.06h.01M81.87 93.56h.01M74.65 97.7h.01M81.87 93.86h.01"/>
<path class="m d" d="M74.65 94.92h.01"/>
<path class="b d" d="M81.87 96.82h.01"/>
<path class="m d" d="M74.65 90.43h.01M81.09 80.8h.01"/>
<path class="b d" d="M81.87 93.68h.01"/>
<path class="m d" d="M81.87 95.72h.01"/>
<path class="b d" d="M81.87 92.09h.01M81.33 91.52h.01M81.87 92.7h.01M81.87 95.89h.01M81.87 94.81h.01"/>
<path class="m d" d="M74.65 88.51h.01"/>
<path class="b d" d="M74.65 92.34h.01M74.65 96.7h.01"/>
<path class="m d" d="M81.87 93.78h.01"/>
<path class="b d" d="M81.87 94.69h.01"/>
<path class="m d" d="M81.87 91.51h.01"/>
<path class="b d" d="M81.87 95.73h.01M81.87 94.91h.01"/>
<path class="m d" d="M79.68 84.66h.01"/>
<path class="b d" d="M81.87 94.85h.01"/>
<path class="m d" d="M75.34 89.57h.01"/>
<path class="b d" d="M74.65 96.46h.01M80.52 93.6h.01M74.65 97.01h.01M79.96 92.73h.01M74.65 93.41h.01M77.39 96.03h.01M74.65 94.69h.01M74.65 96.79h.01"/>
<path class="m" d="M66.31 81.45h.01M67.47 39.34h.01"/>
<path class="b d" d="M74.65 95.46h.01M81.87 96.7h.01M74.65 96.18h.01M77.39 94.22h.01M81.46 93.37h.01M74.65 92.71h.01"/>
<path class="m" d="M67.47 81.46h.01"/>
<path class="b d" d="M74.65 91h.01M74.65 91.81h.01M78.26 86.11h.01M77.87 95.13h.01M81.87 90.12h.01M81.87 97.53h.01M77.87 97.49h.01M81.87 92.56h.01M79.81 97.35h.01M74.65 96.16h.01"/>
<path class="m d" d="M74.65 93.38h.01"/>
<path class="b d" d="M81.87 95.76h.01M74.65 92.96h.01M74.65 97.27h.01M81.87 95.17h.01M74.65 97.17h.01M74.65 91.45h.01M74.65 95.73h.01"/>
<path class="m d" d="M81.87 87.12h.01"/>
<path class="b d" d="M81.87 91.97h.01"/>
<path class="m d" d="M81.87 95.06h.01"/>
<path class="b d" d="M81.87 95.65h.01M81.87 89.17h.01"/>
<path class="m d" d="M81.77 82.4h.01"/>
<path class="b d" d="M74.65 93.06h.01M77.74 93.16h.01M81.87 95.44h.01M81.87 95.43h.01M76.91 97.41h.01"/>
<path class="m d" d="M79.24 81.47h.01M81.06 86.51h.01"/>
<path class="b d" d="M74.65 91.95h.01"/>
<path class="m d" d="M74.65 89.38h.01"/>
<path class="b d" d="M81.87 94.8h.01"/>
<path class="m" d="M67.47 72.03h.01"/>
<path class="b d" d="M81.87 91.06h.01M81.87 94.39h.01M81.87 96.71h.01M81.87 96.79h.01M81.87 96.08h.01"/>
<path class="m d" d="M81.87 92.92h.01"/>
<path class="b d" d="M75.37 96.43h.01M74.65 95.79h.01"/>
<path class="m d" d="M74.65 91.49h.01"/>
<path class="b d" d="M76.76 90.84h.01"/>
<path class="m d" d="M74.65 91.6h.01"/>
<path class="b d" d="M74.65 95.17h.01"/>
<path class="m d" d="M74.65 87.64h.01M81.51 88.56h.01"/>
<path class="b d" d="M74.65 90.19h.01M75.32 91.67h.01M81.87 92.41h.01"/>
<path class="m" d="M66 79.83h.01"/>
<path class="b d" d="M74.65 97.88h.01M74.65 93.27h.01M81.87 95h.01M81.87 98.07h.01M81.87 96.25h.01M80.23 98.32h.01M81.87 87.61h.01M74.65 94.96h.01M78.2 90.3h.01M74.65 96.08h.01M74.65 96.13h.01"/>
<path class="m d" d="M81.87 80.44h.01"/>
<path class="b d" d="M81.87 97.47h.01"/>
<path class="m d" d="M76.31 83.81h.01M81.87 96.18h.01"/>
<path class="b d" d="M81.87 93.86h.01M81.87 91.81h.01M81.87 95.75h.01M74.65 94.29h.01M81.87 94.89h.01M79.54 93.67h.01M74.65 95.37h.01M81.87 94.45h.01M81.87 92.6h.01M81.87 95.98h.01M77.28 98.38h.01M74.65 93.86h.01M81.87 88.27h.01M74.65 93.34h.01M81.87 94.25h.01M74.65 95.22h.01M74.65 93.72h.01M74.65 95.95h.01M74.65 95.75h.01M76.88 95.14h.01M79.58 87.82h.01M81.87 95.61h.01M81.87 95.27h.01M81.87 92.14h.01M81.87 93.4h.01"/>
<path class="m d" d="M74.65 94.74h.01"/>
<path class="m" d="M68.17 80.59h.01M68.6 75.03h.01"/>
<path class="m d" d="M80.3 82.14h.01M79.98 89.85h.01M79.98 83.12h.01"/>
<path class="b d" d="M81.87 91.61h.01"/>
<path class="m" d="M74.28 74.66h.01"/>
<path class="m d" d="M83.67 89.31h.01M86.81 85.24h.01M88.84 89.14h.01M88.23 82.33h.01M83.67 93.35h.01M90.89 90.05h.01M83.67 87.74h.01M90.89 92.7h.01M90.87 93.95h.01M90.89 92.49h.01M87.94 88.74h.01"/>
<path class="m" d="M75.24 65.8h.01"/>
<path class="m d" d="M90.89 91h.01M90.89 93.88h.01M90.89 91.08h.01M83.67 90h.01M83.67 87.75h.01"/>
<path class="m" d="M72.95 84.38h.01"/>
<path class="b d" d="M90.89 93.89h.01M83.67 96.2h.01M86.11 94.4h.01"/>
<path class="m d" d="M83.67 89.35h.01M84.9 86.21h.01M86.35 82.27h.01"/>
<path class="m" d="M75.24 79.34h.01"/>
<path class="m d" d="M90.89 93.71h.01M84.1 81.66h.01M85.45 88.96h.01M84.54 85.01h.01M90.15 81.86h.01M83.67 89.04h.01M86.6 87.25h.01M90.89 88.86h.01M90.89 93.46h.01M90.89 90.64h.01M86.09 91.84h.01"/>
<path class="b d" d="M83.67 96.93h.01"/>
<path class="m" d="M75.24 76.49h.01"/>
<path class="m d" d="M83.67 95.64h.01M83.67 95.55h.01M90.89 94.7h.01"/>
<path class="m" d="M75.07 73.8h.01"/>
<path class="m d" d="M90.27 92.63h.01M86.69 96.37h.01M89.58 86.24h.01"/>
<path class="b d" d="M83.67 97.19h.01"/>
<path class="m d" d="M90.89 94.44h.01"/>
<path class="b d" d="M83.67 94.61h.01M90.89 94.99h.01M83.67 91.92h.01M90.89 95.97h.01M90.89 95.73h.01"/>
<path class="m d" d="M90.89 84.25h.01M90.89 93.76h.01"/>
<path class="b d" d="M90.89 93.46h.01"/>
<path class="m d" d="M86.26 84.38h.01M87.01 91.57h.01"/>
<path class="b d" d="M83.67 92.05h.01M90.89 97.35h.01M83.67 89.6h.01M83.67 92.4h.01"/>
<path class="m d" d="M84.61 82.55h.01"/>
<path class="b d" d="M90.89 92.01h.01"/>
<path class="m d" d="M83.67 90.92h.01M87.36 92.55h.01"/>
<path class="b d" d="M90.89 95.25h.01M90.89 94.67h.01M83.67 94.48h.01M90.89 95.9h.01"/>
<path class="m d" d="M89.2 82.16h.01"/>
<path class="b d" d="M90.89 90.09h.01"/>
<path class="m d" d="M89.36 88.26h.01M83.67 94.23h.01"/>
<path class="b d" d="M90.89 94.98h.01"/>
<path class="m d" d="M84.35 83.73h.01"/>
<path class="b d" d="M90.89 91.86h.01"/>
<path class="m" d="M76.63 82.79h.01M76 74.44h.01"/>
<path class="b d" d="M83.67 94.85h.01M90.89 93.82h.01M90.89 95.68h.01"/>
<path class="m" d="M76.33 78.97h.01M76.39 84.61h.01"/>
<path class="b d" d="M90.89 96h.01"/>
<path class="m d" d="M88.07 84.57h.01M84.18 89.64h.01M83.67 90.48h.01"/>
<path class="b d" d="M90.89 93.39h.01M83.67 87.88h.01M90.89 93.13h.01"/>
<path class="m d" d="M90.89 93.83h.01"/>
<path class="b d" d="M90.89 91.69h.01M86.85 93.75h.01"/>
<path class="m d" d="M83.67 88.25h.01M90.89 85.35h.01"/>
<path class="b d" d="M83.67 92.69h.01M83.67 93.64h.01M83.67 95.88h.01"/>
<path class="m d" d="M90.89 92.8h.01M90.89 91.14h.01"/>
<path class="b d" d="M90.89 95.62h.01M90.89 96.88h.01M90.89 95.7h.01M90.89 93.05h.01"/>
<path class="m d" d="M90.89 92.69h.01"/>
<path class="b d" d="M83.67 93.56h.01M89.21 98.03h.01"/>
<path class="m" d="M74.66 69.44h.01"/>
<path class="b d" d="M83.67 95.47h.01M84.95 91.53h.01M90.89 91.66h.01M90.89 89.3h.01M83.67 93.95h.01M83.67 96.3h.01M90.89 94.09h.01M86.14 89.71h.01"/>
<path class="m d" d="M83.67 90.7h.01M90.89 88.62h.01M87.22 89.45h.01"/>
<path class="b d" d="M83.67 97.16h.01"/>
<path class="m d" d="M85.23 84.18h.01"/>
<path class="m" d="M75.36 70.31h.01"/>
<path class="b d" d="M90.89 94.33h.01M89.58 96.75h.01M90.89 95.82h.01"/>
<path class="m d" d="M83.67 94.94h.01M83.67 83.09h.01"/>
<path class="b d" d="M87.98 91.36h.01"/>
<path class="m d" d="M83.67 91.47h.01"/>
<path class="b d" d="M90.89 94.18h.01"/>
<path class="m d" d="M83.67 90.35h.01M83.67 91.2h.01"/>
<path class="b d" d="M83.67 94.18h.01"/>
<path class="m d" d="M90.89 88.05h.01M84.71 95.95h.01"/>
<path class="b d" d="M90.89 89.78h.01M90.89 97.02h.01"/>
<path class="m" d="M75.24 75.26h.01"/>
<path class="b d" d="M90.89 94.6h.01M84.06 96.76h.01"/>
<path class="m d" d="M88.73 85.42h.01"/>
<path class="b d" d="M90.89 94.3h.01M90.89 95.15h.01M83.67 94.75h.01M83.67 90.59h.01"/>
<path class="m d" d="M83.67 93.13h.01"/>
<path class="b d" d="M90.89 89.74h.01M90.89 93.68h.01M90.89 95.55h.01M83.67 91.1h.01M83.67 96.68h.01M83.67 87h.01M85.75 96.04h.01M90.89 94.71h.01M90.89 95.85h.01"/>
<path class="m d" d="M85.44 81.98h.01"/>
<path class="b d" d="M90.89 89.03h.01M90.89 96.92h.01M90.89 94.74h.01M90.89 87.5h.01"/>
<path class="m" d="M75.24 80.43h.01"/>
<path class="m d" d="M83.69 84.54h.01"/>
<path class="b d" d="M83.67 94.24h.01"/>
<path class="m d" d="M85.51 85.18h.01"/>
<path class="b d" d="M83.67 96.53h.01M90.89 97.08h.01"/>
<path class="m d" d="M90.89 86.8h.01"/>
<path class="m" d="M74.1 79.13h.01"/>
<path class="b d" d="M83.67 94.45h.01M83.67 95.22h.01"/>
<path class="m d" d="M90.89 90.18h.01M83.71 91.33h.01"/>
<path class="b d" d="M83.67 96.22h.01M90.89 93.56h.01M90.89 96.02h.01M83.67 90.22h.01"/>
<path class="m d" d="M83.67 92.44h.01"/>
<path class="b d" d="M83.67 97.16h.01M83.67 94.85h.01"/>
<path class="m" d="M77.55 84.54h.01"/>
<path class="m d" d="M90.89 85.83h.01M90.89 92.7h.01"/>
<path class="b d" d="M83.67 94.42h.01"/>
<path class="m d" d="M83.67 96.33h.01"/>
<path class="b d" d="M83.67 91.76h.01"/>
<path class="m d" d="M90.89 94.71h.01"/>
<path class="b d" d="M83.67 94.97h.01M90.89 97.47h.01M83.67 95.16h.01"/>
<path class="m d" d="M83.67 93.7h.01"/>
<path class="b d" d="M88.19 83.42h.01M90.89 93.3h.01"/>
<path class="m d" d="M90.89 91.89h.01M84.51 88.65h.01"/>
<path class="b d" d="M83.67 95.82h.01"/>
<path class="m d" d="M90 84.15h.01M83.77 86.18h.01M88.4 87.82h.01M83.67 95.98h.01"/>
<path class="b d" d="M83.67 93.03h.01"/>
<path class="m d" d="M89.4 90.37h.01M90.74 84.96h.01M90.89 87.56h.01"/>
<path class="b d" d="M83.67 92.39h.01"/>
<path class="m d" d="M83.67 94.18h.01"/>
<path class="b d" d="M83.67 95.74h.01"/>
<path class="m d" d="M83.67 86.88h.01"/>
<path class="b d" d="M83.67 95.83h.01M90.89 95.71h.01"/>
<path class="m" d="M74.1 80.23h.01"/>
<path class="b d" d="M90.89 95.99h.01"/>
<path class="m" d="M75.24 26.86h.01"/>
<path class="m d" d="M87.23 88.04h.01M83.67 88.84h.01M90.89 94.32h.01"/>
<path class="b d" d="M90.89 93.79h.01M83.67 91.53h.01"/>
<path class="m" d="M72.98 82.16h.01"/>
<path class="m d" d="M83.67 84.78h.01"/>
<path class="b d" d="M90.89 96.17h.01M83.91 94.05h.01M86.58 95.32h.01"/>
<path class="m d" d="M83.67 93.25h.01"/>
<path class="b d" d="M83.67 93.94h.01M90.33 88.06h.01M83.67 96.8h.01M83.67 93.14h.01M83.67 95.99h.01"/>
<path class="m d" d="M84.53 93.21h.01M90.89 93.56h.01"/>
<path class="b d" d="M90.89 97.31h.01M90.89 95.84h.01"/>
<path class="m d" d="M90.89 88.04h.01"/>
<path class="b d" d="M90.89 96.77h.01M90.89 95.23h.01"/>
<path class="m" d="M72.13 79.45h.01"/>
<path class="m d" d="M86.4 83.33h.01"/>
<path class="b d" d="M90.89 93.73h.01"/>
<path class="m d" d="M90.89 90.66h.01"/>
<path class="b d" d="M88.6 94.1h.01M87.28 98.34h.01M86.41 92.83h.01M89.92 91.25h.01"/>
<path class="m d" d="M87.67 87.12h.01"/>
<path class="b d" d="M84.03 92.32h.01M85.36 97.94h.01M83.67 92.74h.01M83.67 95.81h.01M90.89 95.16h.01"/>
<path class="m" d="M75.24 82.57h.01"/>
<path class="b d" d="M90.8 91.75h.01"/>
<path class="m d" d="M90.89 86.85h.01M83.67 93.43h.01M85.86 87.94h.01M83.67 92.16h.01"/>
<path class="m" d="M77.44 79.77h.01"/>
<path class="m d" d="M90.53 87.04h.01"/>
<path class="m" d="M75.79 69.19h.01"/>
<path class="m d" d="M90.89 94.42h.01M90.89 92.08h.01M90.89 92.11h.01"/>
<path class="m" d="M73.67 83.38h.01"/>
<path class="m d" d="M83.67 95.68h.01M88.93 91.29h.01"/>
<path class="m" d="M77.53 77.66h.01"/>
<path class="b d" d="M83.67 89.2h.01M90.89 92.07h.01M83.67 95.64h.01M90.89 93.3h.01M88.22 98.04h.01M87.73 96.95h.01"/>
<path class="m" d="M73.81 73.67h.01"/>
<path class="b d" d="M90.89 94.94h.01"/>
<path class="m d" d="M90.89 91.47h.01"/>
<path class="b d" d="M84.06 87.17h.01M90.89 95.58h.01"/>
<path class="m d" d="M83.67 92.85h.01"/>
<path class="b d" d="M83.67 95.17h.01M87.32 94.67h.01"/>
<path class="m d" d="M83.67 86.15h.01"/>
<path class="b d" d="M83.67 88.21h.01"/>
<path class="m d" d="M83.67 91h.01M85.31 92.5h.01"/>
<path class="b d" d="M90.89 92.9h.01M90.89 95.04h.01M85.22 89.99h.01M85.96 97.12h.01M83.67 91.09h.01M83.67 94.25h.01M86.11 86.01h.01M87.79 93.5h.01M83.67 96.72h.01M90.89 96.71h.01M90.89 96.35h.01M83.67 95.87h.01M90.89 96.6h.01"/>
<path class="m d" d="M83.67 86.77h.01"/>
<path class="b d" d="M83.67 95.25h.01M90.89 93.1h.01"/>
<path class="m" d="M72.13 79.48h.01"/>
<path class="b d" d="M83.67 92.11h.01"/>
<path class="m" d="M74.19 77.46h.01"/>
<path class="b d" d="M86.88 97.39h.01M90.89 92.46h.01M90.89 94.22h.01M90.89 96.81h.01M83.67 97.02h.01M90.89 95.77h.01M90.89 92.15h.01M88.7 97.14h.01M83.67 94.25h.01M83.67 92.9h.01M90.89 97.14h.01M83.67 93.33h.01M83.67 97.35h.01M90.89 96.01h.01"/>
<path class="m d" d="M83.67 92.22h.01"/>
<path class="b d" d="M90.89 88.04h.01M90.89 92.42h.01M90.89 95.47h.01"/>
<path class="m d" d="M84.92 87.7h.01"/>
<path class="b d" d="M83.67 95.41h.01"/>
<path class="m d" d="M89.2 87.2h.01"/>
<path class="b d" d="M83.67 94.23h.01M90.89 95.57h.01M90.89 95.6h.01M90.89 95.91h.01"/>
<path class="m d" d="M90.89 89.74h.01M90.89 90.8h.01M83.67 91.94h.01"/>
<path class="b d" d="M83.67 92.5h.01M90.89 94.23h.01M83.67 95.7h.01M83.67 96.83h.01"/>
<path class="m" d="M75.9 83.63h.01"/>
<path class="b d" d="M84.39 97.78h.01"/>
<path class="m d" d="M90.53 85.98h.01"/>
<path class="b d" d="M90.89 94.85h.01"/>
<path class="m" d="M74.13 82.25h.01"/>
<path class="b d" d="M83.67 91.77h.01M83.67 96.04h.01M90.89 96.29h.01"/>
<path class="m d" d="M90.47 83.23h.01"/>
<path class="b d" d="M83.67 92.87h.01M90.89 92.74h.01M90.89 95.6h.01M90.89 92.25h.01M90.89 97.2h.01M83.67 92.53h.01M90.89 93.32h.01"/>
<path class="m d" d="M90.89 89.04h.01"/>
<path class="m" d="M78.35 79.54h.01"/>
<path class="m d" d="M90.89 86.65h.01"/>
<path class="b d" d="M83.67 89.54h.01M83.67 89.94h.01M83.67 92.07h.01M83.67 94.99h.01M87.06 86.3h.01M83.67 89.75h.01M83.67 92.96h.01M83.67 93.99h.01M90.89 95.68h.01M90.89 92.91h.01M83.67 97.39h.01"/>
<path class="m d" d="M88.46 86.5h.01"/>
<path class="m" d="M73.01 79.87h.01"/>
<path class="b d" d="M89.47 94.52h.01"/>
<path class="m" d="M76.38 77.71h.01M73.32 78.33h.01"/>
<path class="m d" d="M83.67 90.76h.01"/>
<path class="b d" d="M83.67 96.35h.01"/>
<path class="m d" d="M83.67 92.7h.01M83.67 86.84h.01"/>
<path class="b d" d="M83.67 96.24h.01M90.89 96.31h.01M90.89 92.85h.01M88.35 96.14h.01M90.89 97.16h.01"/>
<path class="m d" d="M90.89 95.05h.01"/>
<path class="b d" d="M83.67 94.74h.01M90.89 96.55h.01M90.89 94.85h.01M90.89 93.69h.01M89.09 95.48h.01"/>
<path class="m d" d="M90.89 90.96h.01"/>
<path class="b d" d="M83.67 93.76h.01M85.36 95.08h.01M83.67 92.14h.01"/>
<path class="m d" d="M90.89 82.51h.01"/>
<path class="b d" d="M83.67 96.32h.01M88.44 90.1h.01"/>
<path class="m d" d="M83.67 84.94h.01M83.67 86.71h.01"/>
<path class="b d" d="M90.89 94.54h.01M83.67 96.7h.01M83.67 95.75h.01M90.89 91.8h.01M83.67 96.61h.01M83.67 93.32h.01"/>
<path class="m d" d="M90.37 90.25h.01"/>
<path class="b d" d="M90.89 95.29h.01M83.67 92.73h.01M83.67 97.52h.01M90.89 92.03h.01M83.67 90.61h.01M83.67 95.01h.01M89.41 92.2h.01"/>
<path class="m d" d="M90.89 90.46h.01"/>
<path class="b d" d="M83.67 93.82h.01M90.89 96.28h.01M83.67 96.34h.01M83.67 96.91h.01M90.89 93.03h.01"/>
<path class="m d" d="M83.67 90.52h.01"/>
<path class="b d" d="M83.67 94.33h.01M90.89 91.49h.01"/>
<path class="m" d="M75.24 71.68h.01"/>
<path class="b d" d="M83.67 95.71h.01M84.84 94.2h.01M90.89 93.38h.01M90.89 84.53h.01M83.67 95.23h.01M83.67 94.76h.01M89.69 85.17h.01M83.67 96.88h.01M83.67 92.16h.01M90.89 93.27h.01M90.12 97.62h.01M90.89 93.71h.01"/>
<path class="m d" d="M90.71 89.07h.01"/>
<path class="b d" d="M83.67 93.39h.01"/>
<path class="m d" d="M84.44 90.64h.01M87.75 85.56h.01"/>
<path class="b d" d="M90.89 95.42h.01"/>
<path class="m d" d="M90.89 95.45h.01"/>
<path class="b d" d="M83.67 92.05h.01M83.67 91.88h.01M90.89 92.96h.01M83.67 95.44h.01M83.67 91.33h.01"/>
<path class="m d" d="M90.89 89.7h.01"/>
<path class="b d" d="M83.67 93.28h.01M83.67 96.56h.01"/>
<path class="m d" d="M83.67 94.36h.01"/>
<path class="b d" d="M83.67 94.55h.01"/>
<path class="m d" d="M90.89 91.1h.01"/>
<path class="b d" d="M83.67 95.86h.01M90.89 94.11h.01"/>
<path class="m d" d="M83.67 85.39h.01"/>
<path class="b d" d="M90.89 94.24h.01"/>
<path class="m d" d="M90.89 90.95h.01"/>
<path class="b d" d="M87.48 95.74h.01M89.93 93.6h.01M83.67 97.11h.01M83.67 93.11h.01M83.67 93.57h.01M90.89 96.43h.01M83.67 95.26h.01M90.89 96.68h.01"/>
<path class="m" d="M74.78 83.72h.01M75.24 38.74h.01"/>
<path class="b d" d="M84.27 95.02h.01M83.67 96.47h.01M90.57 96.7h.01M89.78 89.4h.01M83.67 93.02h.01M89 93.15h.01"/>
<path class="m" d="M74.09 84.61h.01"/>
<path class="b d" d="M90.89 90.57h.01M90.89 92.14h.01M90.89 86.91h.01M83.67 94.68h.01M83.67 91.06h.01M90.89 96.48h.01M90.89 96.84h.01M83.67 91.53h.01M90.89 96.17h.01M90.89 95.57h.01"/>
<path class="m d" d="M87.55 90.43h.01"/>
<path class="b d" d="M90.89 95.19h.01M83.67 93.9h.01M90.89 97.16h.01M83.67 95.58h.01M83.67 97.02h.01M87.28 83.81h.01M83.67 95.9h.01"/>
<path class="m d" d="M90.89 88.51h.01"/>
<path class="b d" d="M83.67 92.19h.01"/>
<path class="m d" d="M90.38 94.86h.01"/>
<path class="b d" d="M83.67 95.53h.01M83.67 90.11h.01"/>
<path class="m d" d="M87.28 82.62h.01"/>
<path class="b d" d="M83.67 93.72h.01M90.89 92.97h.01M83.67 95.47h.01M83.67 95.13h.01M90.89 96.64h.01"/>
<path class="m d" d="M89.03 84.33h.01M90.89 86.54h.01"/>
<path class="b d" d="M83.67 93.05h.01"/>
<path class="m d" d="M90.89 90.76h.01"/>
<path class="b d" d="M83.67 95.57h.01"/>
<path class="m" d="M74.4 70.92h.01"/>
<path class="b d" d="M86.62 90.62h.01M90.89 94.82h.01M83.67 97.56h.01M90.89 96.42h.01M90.89 97.01h.01"/>
<path class="m d" d="M85.7 90.88h.01"/>
<path class="b d" d="M90.89 96.33h.01M90.89 95.19h.01"/>
<path class="m d" d="M83.67 90.35h.01"/>
<path class="b d" d="M90.89 92.17h.01"/>
<path class="m d" d="M90.89 91.93h.01"/>
<path class="b d" d="M90.03 95.83h.01"/>
<path class="m d" d="M90.89 89.92h.01M83.67 88.43h.01"/>
<path class="b d" d="M83.67 90.06h.01M90.89 92.39h.01M83.67 92.76h.01"/>
<path class="m" d="M76.36 80.15h.01"/>
<path class="b d" d="M90.89 97.57h.01M90.89 93.12h.01M90.89 94.17h.01M83.67 97.27h.01M83.67 95.99h.01M86.29 98.29h.01M85.6 86.93h.01M88.23 95.07h.01M90.89 90.16h.01M83.67 96.16h.01M90.89 96.23h.01"/>
<path class="m d" d="M89.17 83.25h.01"/>
<path class="b d" d="M84.99 96.94h.01"/>
<path class="m d" d="M90.89 84.83h.01M90.89 94.45h.01"/>
<path class="b d" d="M83.67 93.55h.01M88.31 92.4h.01M90.89 95.99h.01M90.89 95.36h.01M90.89 91.98h.01M85.64 93.48h.01M83.67 95.66h.01M83.67 93.83h.01M83.67 93.86h.01M83.67 96.29h.01M90.89 97.55h.01M90.89 93.9h.01M86.5 88.74h.01M83.67 93.69h.01M83.67 94.11h.01M90.89 95.88h.01M83.67 93.67h.01M90.89 95.79h.01M83.67 96.01h.01M83.67 95.29h.01M83.67 88.55h.01M83.67 93.32h.01M83.67 94.31h.01M90.89 91.05h.01M90.89 93.95h.01"/>
<path class="m d" d="M90.89 92.85h.01"/>
<path class="m" d="M77.08 74.05h.01M75.24 77.93h.01"/>
<path class="m d" d="M85.43 83.13h.01M90.89 89.21h.01"/>
<path class="m" d="M75.24 84.71h.01"/>
<path class="b d" d="M90.89 92.21h.01"/>
<path class="m" d="M81.86 77.15h.01"/>
<path class="m d" d="M95.61 85.99h.01M99.9 82.96h.01M99.9 93.12h.01M92.69 82.9h.01M92.69 93.12h.01M93.23 89.06h.01M92.69 89.51h.01M99.9 93.56h.01M99.9 93.62h.01M97.48 91.1h.01M94.3 89.02h.01"/>
<path class="m" d="M80.43 83.05h.01"/>
<path class="m d" d="M99.9 91.7h.01M99.9 94.34h.01M93.54 92.31h.01M92.69 90.36h.01M99.9 89.02h.01"/>
<path class="m" d="M85.81 83.65h.01"/>
<path class="b d" d="M99.9 93.68h.01M92.69 95.03h.01M99.9 94.87h.01"/>
<path class="m d" d="M92.69 90.43h.01M99.9 82.97h.01M99.74 81.66h.01"/>
<path class="m" d="M84.66 83.81h.01"/>
<path class="m d" d="M92.69 94.06h.01M97.64 83.04h.01M99.9 90.64h.01M99.9 87.97h.01M92.69 81.29h.01M99.9 91.02h.01M99.9 86.95h.01M92.69 86.89h.01M99.9 91.93h.01M99.87 90.39h.01M99.9 93.47h.01"/>
<path class="b d" d="M99.9 95.11h.01"/>
<path class="m d" d="M99.9 81.14h.01M92.69 94.44h.01M99.9 94.14h.01M99.9 94.68h.01M92.8 81.31h.01M92.69 92.49h.01M99.9 95.05h.01M98.11 86.38h.01"/>
<path class="b d" d="M94.33 96.01h.01"/>
<path class="m d" d="M99.9 93.57h.01"/>
<path class="b d" d="M92.69 94.24h.01M92.69 94.19h.01M99.9 92.93h.01M99.66 95.05h.01M92.69 94.6h.01"/>
<path class="m d" d="M99.9 82.23h.01M99.9 92.71h.01"/>
<path class="b d" d="M99.9 93.69h.01"/>
<path class="m d" d="M98.75 81.67h.01M92.69 91.16h.01"/>
<path class="b d" d="M99.9 92.25h.01M99.24 95.99h.01M99.9 91.99h.01M99.9 94.46h.01"/>
<path class="m d" d="M92.91 88.02h.01"/>
<path class="b d" d="M92.69 93.68h.01"/>
<path class="m d" d="M92.69 91.71h.01M99.9 91.9h.01"/>
<path class="b d" d="M92.69 95.1h.01M99.9 94.5h.01M99.9 94.57h.01M99.9 94.47h.01"/>
<path class="m d" d="M93.99 82.65h.01"/>
<path class="b d" d="M92.69 93.39h.01"/>
<path class="m d" d="M92.69 86.7h.01M99.9 93.71h.01"/>
<path class="b d" d="M92.69 94.27h.01"/>
<path class="m d" d="M96.3 85.21h.01"/>
<path class="b d" d="M99.09 92.29h.01"/>
<path class="m" d="M80.61 80.1h.01M83.9 83.02h.01"/>
<path class="b d" d="M99.9 94.16h.01M92.69 93.51h.01M99.9 95.29h.01"/>
<path class="m" d="M86.1 82.45h.01"/>
<path class="m d" d="M97.36 87.06h.01"/>
<path class="b d" d="M92.69 94.8h.01"/>
<path class="m d" d="M95.3 85h.01M93.16 91.35h.01M92.69 88.49h.01"/>
<path class="b d" d="M92.69 94.07h.01M98.41 90.76h.01M92.69 92.13h.01"/>
<path class="m d" d="M92.69 92.78h.01"/>
<path class="b d" d="M99.9 91.73h.01M99.9 93.42h.01"/>
<path class="m d" d="M94.76 90.09h.01M98.25 83.9h.01"/>
<path class="b d" d="M92.69 93.54h.01M99.9 94.21h.01M92.69 94.86h.01"/>
<path class="m d" d="M92.69 93.18h.01M99.9 90.7h.01"/>
<path class="b d" d="M99.9 95.76h.01M99.9 95.03h.01M99.9 95.47h.01M99.9 93.74h.01"/>
<path class="m d" d="M99.9 91.99h.01"/>
<path class="b d" d="M99.9 94.12h.01M92.69 95.86h.01"/>
<path class="m" d="M82.42 74.52h.01"/>
<path class="b d" d="M99.9 94.76h.01M99.9 93.78h.01M99.16 94.14h.01M92.69 92.81h.01M95.35 94.23h.01M92.69 95.89h.01M92.69 93.49h.01M99.9 94.68h.01"/>
<path class="m d" d="M92.69 91h.01M92.69 88.34h.01M98.35 89.04h.01"/>
<path class="b d" d="M99.9 95.66h.01"/>
<path class="m d" d="M93.42 83.5h.01"/>
<path class="m" d="M83.01 64.52h.01"/>
<path class="b d" d="M92.69 93.58h.01M92.89 95.03h.01M92.69 94.53h.01"/>
<path class="m d" d="M99.9 94.24h.01M94.32 84.91h.01"/>
<path class="b d" d="M92.69 91.2h.01"/>
<path class="m d" d="M96.54 87.63h.01"/>
<path class="b d" d="M92.69 94.94h.01"/>
<path class="m d" d="M93.78 89.91h.01M99.9 90.62h.01"/>
<path class="b d" d="M99.9 93.01h.01"/>
<path class="m d" d="M99.9 86.87h.01M92.69 94.24h.01"/>
<path class="b d" d="M95.47 92.03h.01M99.9 95.33h.01"/>
<path class="m d" d="M94.72 81.76h.01"/>
<path class="b d" d="M93.96 93.25h.01M99.9 95.39h.01"/>
<path class="m d" d="M94.53 85.99h.01"/>
<path class="b d" d="M99.9 94.01h.01M99.9 94.73h.01M99.9 94.56h.01M96.76 93.45h.01"/>
<path class="m d" d="M99.9 93.5h.01"/>
<path class="b d" d="M99.9 91.26h.01M92.69 94.03h.01M92.69 93.99h.01M99.9 91.97h.01M92.69 95.71h.01M99.9 89.68h.01M99.9 94.9h.01M99.9 93.79h.01M92.69 94.75h.01"/>
<path class="m d" d="M94.91 82.98h.01"/>
<path class="b d" d="M96.89 90.17h.01M99.9 95.24h.01M99.9 94.44h.01M96.54 91.43h.01"/>
<path class="m" d="M84.95 82.56h.01"/>
<path class="m d" d="M96.79 82.5h.01"/>
<path class="b d" d="M92.69 93.98h.01"/>
<path class="m d" d="M93.04 82.38h.01"/>
<path class="b d" d="M92.69 94.73h.01M92.69 95.51h.01"/>
<path class="m d" d="M94.71 87.02h.01"/>
<path class="m" d="M83.01 82.08h.01"/>
<path class="b d" d="M92.69 93.57h.01M99.9 94.61h.01"/>
<path class="m d" d="M92.69 90.66h.01M92.69 90.47h.01"/>
<path class="b d" d="M97.27 94.36h.01M99.9 93.92h.01M99.9 95.53h.01M92.69 93.08h.01"/>
<path class="m d" d="M96.37 92.45h.01"/>
<path class="b d" d="M93.91 95.08h.01M92.69 93.94h.01"/>
<path class="m" d="M82.6 81.07h.01"/>
<path class="m d" d="M98.72 84.87h.01M94.12 91.03h.01"/>
<path class="b d" d="M92.69 93.8h.01"/>
<path class="m d" d="M92.69 94.29h.01"/>
<path class="b d" d="M92.99 93.24h.01"/>
<path class="m d" d="M92.69 92.86h.01"/>
<path class="b d" d="M99.9 94.54h.01M92.69 95.06h.01M92.69 94.47h.01"/>
<path class="m d" d="M99.9 92.44h.01"/>
<path class="b d" d="M97.03 89.1h.01M92.69 93.96h.01"/>
<path class="m d" d="M94.46 92.02h.01M92.69 93.43h.01"/>
<path class="b d" d="M99.9 94.86h.01"/>
<path class="m d" d="M99.9 89.7h.01M93.6 85.65h.01M92.69 89.01h.01M99.9 94.31h.01"/>
<path class="b d" d="M99.9 93.12h.01"/>
<path class="m d" d="M95.11 91.07h.01M93.37 84.61h.01M92.69 89.24h.01"/>
<path class="b d" d="M92.69 92.65h.01"/>
<path class="m d" d="M98.67 93.24h.01"/>
<path class="b d" d="M99.9 95.38h.01"/>
<path class="m d" d="M92.69 86.85h.01"/>
<path class="b d" d="M99.9 94.96h.01M92.69 94.22h.01"/>
<path class="m" d="M81.3 83.76h.01"/>
<path class="b d" d="M92.69 94.66h.01"/>
<path class="m" d="M83.01 18.1h.01"/>
<path class="m d" d="M99.9 88.36h.01M92.69 92.54h.01M92.69 93.81h.01"/>
<path class="b d" d="M99.9 94h.01M92.69 93.79h.01"/>
<path class="m" d="M84.12 81.75h.01"/>
<path class="m d" d="M96.74 80.55h.01"/>
<path class="b d" d="M99.9 94.61h.01M92.69 94.06h.01M92.69 94.97h.01"/>
<path class="m d" d="M92.69 92.36h.01"/>
<path class="b d" d="M99.9 93.51h.01M97.83 89.92h.01M92.69 95.45h.01M99.9 94.24h.01M92.69 94.44h.01"/>
<path class="m d" d="M92.69 93.44h.01M92.69 92.4h.01"/>
<path class="b d" d="M93.35 95.95h.01M92.69 94.91h.01"/>
<path class="m d" d="M92.69 86.61h.01"/>
<path class="b d" d="M99.9 95.34h.01M99.9 93.9h.01"/>
<path class="m" d="M84.08 76.77h.01"/>
<path class="m d" d="M92.69 84.56h.01"/>
<path class="b d" d="M92.69 92.7h.01"/>
<path class="m d" d="M92.69 89.81h.01"/>
<path class="b d" d="M99.9 93.12h.01M99.9 95.89h.01M92.69 94.77h.01M99.9 91.19h.01"/>
<path class="m d" d="M93.89 88.07h.01"/>
<path class="b d" d="M92.69 93.73h.01M99.9 95.2h.01M92.69 94.77h.01M99.9 94.73h.01M99.9 94.43h.01"/>
<path class="m" d="M83.01 79.61h.01"/>
<path class="b d" d="M92.69 93.15h.01"/>
<path class="m d" d="M96.03 83.15h.01M99.9 92.14h.01M96.49 86.46h.01M98.21 91.82h.01M95.46 81.08h.01M97.55 88.22h.01"/>
<path class="m" d="M81.86 79.51h.01"/>
<path class="m d" d="M92.69 93.76h.01M99.76 89.3h.01M92.69 90.51h.01M92.69 83.43h.01M92.69 93.89h.01M99.9 90.35h.01"/>
<path class="m" d="M83.01 69.8h.01"/>
<path class="b d" d="M99.9 93.14h.01M92.69 93.19h.01M92.69 94.48h.01M92.69 94.1h.01M92.69 95.62h.01M96.78 95.26h.01"/>
<path class="m" d="M80.85 76.61h.01"/>
<path class="b d" d="M99.9 94.77h.01"/>
<path class="m d" d="M92.69 90.29h.01"/>
<path class="b d" d="M99.9 89.83h.01M92.69 94.66h.01"/>
<path class="m d" d="M92.69 91.67h.01"/>
<path class="b d" d="M99.9 93.88h.01M92.69 94.31h.01"/>
<path class="m d" d="M99.9 86.67h.01"/>
<path class="b d" d="M92.69 91.51h.01"/>
<path class="m d" d="M95.23 89.18h.01M92.69 92.99h.01"/>
<path class="b d" d="M99.9 93.72h.01M99.9 93.84h.01M92.69 93.93h.01M92.69 95.33h.01M92.69 91.99h.01M99.9 94.6h.01M92.69 85.53h.01M99.9 93.48h.01M92.69 94.57h.01M92.69 95.15h.01M99.9 95.22h.01M92.69 94.56h.01M92.69 95.57h.01"/>
<path class="m d" d="M99.9 89.79h.01"/>
<path class="b d" d="M99.9 94.13h.01M92.69 94.13h.01"/>
<path class="m" d="M84.8 80.39h.01"/>
<path class="b d" d="M99.9 92.95h.01"/>
<path class="m" d="M83.7 80.73h.01"/>
<path class="b d" d="M92.69 95.73h.01M99.9 93.77h.01M99.9 94.49h.01M92.69 94.9h.01M92.69 95.77h.01M92.69 94.16h.01M99.9 92.24h.01M99.9 95.54h.01M99.9 92.86h.01M99.9 93.43h.01M92.69 95.82h.01M92.69 94.55h.01M99.9 95.33h.01M92.69 94.85h.01"/>
<path class="m d" d="M99.9 89.82h.01"/>
<path class="b d" d="M92.69 93.58h.01M92.69 92.52h.01M99.9 93.81h.01"/>
<path class="m d" d="M98.98 85.88h.01"/>
<path class="b d" d="M99.9 94.74h.01"/>
<path class="m d" d="M99.9 86.76h.01"/>
<path class="b d" d="M96.29 94.37h.01M99.9 94.58h.01M92.69 93.62h.01M92.69 94.68h.01"/>
<path class="m d" d="M99.9 90.51h.01M95.97 88.48h.01M92.69 92.2h.01"/>
<path class="b d" d="M99.9 94.12h.01M99.9 94.27h.01M99.9 94.97h.01M92.69 95.24h.01"/>
<path class="m d" d="M97.27 84h.01"/>
<path class="b d" d="M92.69 95.07h.01"/>
<path class="m d" d="M94.35 83.84h.01"/>
<path class="b d" d="M99.9 94.7h.01"/>
<path class="m" d="M83.01 75.45h.01"/>
<path class="b d" d="M99.9 92.37h.01M99.9 95.42h.01M99.9 95.62h.01"/>
<path class="m d" d="M99.13 86.97h.01"/>
<path class="b d" d="M99.9 93.53h.01M92.69 94.32h.01M92.69 94.52h.01M92.69 92.84h.01M92.69 95.4h.01M99.9 93.21h.01M95.8 93.3h.01"/>
<path class="m d" d="M92.69 89.47h.01"/>
<path class="m" d="M83.01 77.2h.01"/>
<path class="m d" d="M98.36 87.62h.01"/>
<path class="b d" d="M99.9 92.87h.01M92.69 93.08h.01M99.9 93.98h.01M92.69 94.1h.01M92.69 92.67h.01M99.9 92.62h.01M94.9 92.96h.01M99.9 94.07h.01M99.9 94.63h.01M92.69 92.15h.01M97.76 95.25h.01"/>
<path class="m d" d="M92.69 86.24h.01M96.35 81.51h.01"/>
<path class="b d" d="M92.69 94.43h.01"/>
<path class="m" d="M83.01 65.93h.01M81.47 80.83h.01"/>
<path class="m d" d="M92.69 90.34h.01"/>
<path class="b d" d="M99.9 94.56h.01"/>
<path class="m d" d="M92.69 91.32h.01M99.9 85.55h.01"/>
<path class="b d" d="M92.69 95.13h.01M92.69 94.99h.01M95.31 96.16h.01M99.9 94.99h.01M99.9 95.53h.01"/>
<path class="m d" d="M99.9 95.13h.01"/>
<path class="b d" d="M92.69 94.82h.01M99.9 95.48h.01M99.9 95.81h.01M92.69 94.34h.01M99.9 94.94h.01"/>
<path class="m d" d="M99.9 92.24h.01"/>
<path class="b d" d="M99.9 94.22h.01M92.69 93.74h.01M99.9 93.77h.01"/>
<path class="m d" d="M99.9 86.6h.01"/>
<path class="b d" d="M99.9 95.45h.01M92.69 92.87h.01"/>
<path class="m d" d="M95.7 87.08h.01M97.77 84.94h.01"/>
<path class="b d" d="M92.69 93.88h.01M92.69 95.33h.01M99.9 94.33h.01M92.69 92.61h.01M99.9 95.28h.01M92.69 93.45h.01"/>
<path class="m d" d="M92.69 90.95h.01"/>
<path class="b d" d="M92.69 94.38h.01M92.69 94.19h.01M92.69 95.53h.01M99.9 92.67h.01M99.9 93.34h.01M99.9 93.94h.01M99.9 90.99h.01"/>
<path class="m d" d="M92.69 89.68h.01"/>
<path class="b d" d="M92.69 93.34h.01M92.69 95.18h.01M92.69 95.2h.01M96.3 96.22h.01M99.9 92.92h.01"/>
<path class="m d" d="M99.9 90.36h.01"/>
<path class="b d" d="M92.69 94.29h.01M99.9 93.43h.01"/>
<path class="m" d="M83.01 73.48h.01"/>
<path class="b d" d="M92.69 94.62h.01M99.9 94.37h.01M93.42 94.17h.01M92.69 89.74h.01M99.9 94.84h.01M99.9 94.31h.01M92.69 90.64h.01M99.9 95.49h.01M99.9 94.1h.01M99.9 94.19h.01M99.9 95.78h.01M92.69 93.72h.01"/>
<path class="m d" d="M99.9 93.58h.01"/>
<path class="b d" d="M92.69 94.91h.01"/>
<path class="m d" d="M99.9 89.28h.01M93.77 81.46h.01"/>
<path class="b d" d="M99.9 93.62h.01"/>
<path class="m d" d="M99.9 94.39h.01"/>
<path class="b d" d="M99.9 93.23h.01M92.69 92.28h.01M99.9 92.75h.01M92.69 94.33h.01M92.69 94.5h.01"/>
<path class="m d" d="M99.11 88.38h.01"/>
<path class="b d" d="M99.9 92.8h.01M99.9 95.26h.01"/>
<path class="m d" d="M92.69 91.82h.01"/>
<path class="b d" d="M99.9 94.31h.01"/>
<path class="m d" d="M95.98 90.58h.01"/>
<path class="b d" d="M99.9 94.26h.01M99.9 93.75h.01"/>
<path class="m d" d="M99.9 84.81h.01"/>
<path class="b d" d="M94.41 94.18h.01"/>
<path class="m d" d="M99.9 88.72h.01"/>
<path class="b d" d="M94.89 95.15h.01M92.69 93.35h.01M92.69 95.23h.01M99.9 92.86h.01M92.69 93.74h.01M92.69 94.59h.01M99.9 94.04h.01M92.69 95.54h.01"/>
<path class="m" d="M82.8 83.21h.01M83.01 15.46h.01"/>
<path class="b d" d="M99.9 94.14h.01M95.84 95.3h.01M92.69 94.69h.01M92.69 93.64h.01M92.69 93.09h.01M99.9 94.07h.01"/>
<path class="m d" d="M99.9 81.31h.01"/>
<path class="b d" d="M92.69 93.02h.01M99.9 93.8h.01M92.72 90.42h.01M92.69 93.71h.01M92.69 91.92h.01M92.69 95.8h.01M92.69 95.49h.01M99.9 92.54h.01M98.7 95.12h.01M99.9 95.08h.01"/>
<path class="m d" d="M99.9 92.22h.01"/>
<path class="b d" d="M99.9 94.79h.01M92.69 92.94h.01M92.69 95.31h.01M92.69 94.12h.01M99.9 95.15h.01M99.9 92.67h.01M98.21 94.22h.01"/>
<path class="m d" d="M92.74 86.96h.01"/>
<path class="b d" d="M99.9 93.07h.01"/>
<path class="m d" d="M92.69 93.77h.01"/>
<path class="b d" d="M99.9 94.52h.01M96.12 89.51h.01"/>
<path class="m d" d="M99.2 83.61h.01"/>
<path class="b d" d="M92.69 93.52h.01M97.73 93.29h.01M99.9 93.94h.01M92.69 94.46h.01M92.69 95.45h.01"/>
<path class="m d" d="M98.57 82.7h.01M97.26 85.84h.01"/>
<path class="b d" d="M92.69 91.96h.01"/>
<path class="m d" d="M99.44 91.32h.01"/>
<path class="b d" d="M99.9 94.45h.01"/>
<path class="m" d="M82.04 72.9h.01"/>
<path class="b d" d="M92.69 94.21h.01M92.69 94.57h.01M92.69 95.35h.01M92.69 95.39h.01M92.69 94.12h.01"/>
<path class="m d" d="M97.35 92.31h.01"/>
<path class="b d" d="M92.69 95.28h.01M99.9 94.11h.01"/>
<path class="m d" d="M99.9 92.14h.01"/>
<path class="b d" d="M99.9 91.62h.01"/>
<path class="m d" d="M99.9 91.41h.01"/>
<path class="b d" d="M92.69 94.49h.01"/>
<path class="m d" d="M93.72 87.02h.01M94.93 88.18h.01"/>
<path class="b d" d="M92.69 92.03h.01M92.69 92.91h.01M92.69 94.27h.01"/>
<path class="m" d="M84.12 79.29h.01"/>
<path class="b d" d="M99.9 95.84h.01M99.64 93.24h.01M92.69 94.94h.01M97.28 96.16h.01M99.9 94.81h.01M99.9 95.9h.01M99.9 90.46h.01M99.9 94.44h.01M99.9 92.6h.01M99.9 94.93h.01M92.69 94.64h.01"/>
<path class="m d" d="M97.65 81.99h.01"/>
<path class="b d" d="M99.9 95.72h.01"/>
<path class="m d" d="M95.33 83.91h.01M92.69 94.44h.01"/>
<path class="b d" d="M92.69 94.07h.01M92.69 94.35h.01M92.69 95.47h.01M99.9 94.09h.01M92.69 93.74h.01M99.9 93.09h.01M99.9 94.54h.01M99.9 93.74h.01M99.9 92.51h.01M92.69 95.29h.01M98.27 96.14h.01M99.9 94.48h.01M92.69 92.24h.01M92.69 94.12h.01M99.9 94.54h.01M92.69 94.41h.01M92.69 94.54h.01M92.69 94.7h.01M99.9 95.06h.01M92.69 94.7h.01M92.69 92.83h.01M99.9 94.29h.01M99.9 94.68h.01M92.69 92.72h.01M92.69 93.79h.01"/>
<path class="m d" d="M92.69 93.81h.01"/>
<path class="m" d="M81.81 82.64h.01M85.13 76.31h.01"/>
<path class="m d" d="M95.61 82.2h.01M98.94 89.88h.01M96.3 84.15h.01"/>
<path class="b d" d="M99.9 94.35h.01"/>
<path class="m d" d="M102.33 82.02h.01M105.39 95.91h.01M108.92 85.49h.01"/>
<path class="m" d="M91.94 75.3h.01"/>
<path class="m d" d="M108.92 91.46h.01M101.71 88.05h.01M108.92 95.63h.01M103.48 89.27h.01M101.71 87.44h.01"/>
<path class="m" d="M89.76 76.27h.01"/>
<path class="m d" d="M101.71 97.39h.01M108.92 85.28h.01"/>
<path class="m" d="M89.64 71.92h.01"/>
<path class="m d" d="M101.71 88.89h.01"/>
<path class="m" d="M91.36 81.43h.01"/>
<path class="m d" d="M108.34 84.59h.01M101.71 96.48h.01M108.92 91.31h.01M108.38 93.65h.01"/>
<path class="b d" d="M108.63 95.33h.01M101.71 93.63h.01M101.71 95.43h.01"/>
<path class="m" d="M91.89 83.88h.01"/>
<path class="m d" d="M108.92 96.1h.01M108.92 93.7h.01M108.92 86.29h.01M108.92 89.17h.01M101.71 90.45h.01M108.92 89.16h.01M101.71 89.25h.01M108.92 87.93h.01M108.92 87.78h.01M101.71 89.06h.01M103.17 88.15h.01M108.92 89.89h.01M101.71 91.31h.01M104.46 89.4h.01"/>
<path class="b d" d="M108.92 99.07h.01"/>
<path class="m d" d="M108.92 96.74h.01M108.92 92.32h.01M101.71 96.71h.01M108.92 94.15h.01"/>
<path class="m" d="M90.4 64.81h.01"/>
<path class="m d" d="M108.71 92.67h.01M101.71 95.62h.01M105.31 85.54h.01"/>
<path class="b d" d="M101.71 94.61h.01"/>
<path class="m d" d="M107.24 91.94h.01"/>
<path class="b d" d="M101.71 95.45h.01M101.71 95.63h.01M108.92 97.2h.01M108.92 96.42h.01M101.71 97.73h.01"/>
<path class="m d" d="M101.71 89.53h.01M101.75 96.99h.01"/>
<path class="b d" d="M108.92 97.6h.01"/>
<path class="m d" d="M108.92 92.06h.01M107.74 89.94h.01"/>
<path class="b d" d="M101.71 97.65h.01M108.92 96.89h.01M108.92 96.72h.01M108.92 88.75h.01"/>
<path class="m" d="M91.72 76.92h.01"/>
<path class="b d" d="M108.92 85.76h.01"/>
<path class="m d" d="M101.71 90.74h.01M101.71 92.04h.01"/>
<path class="b d" d="M101.71 94.19h.01M101.71 97.41h.01"/>
<path class="b" d="M89.65 70.67h.01"/>
<path class="b d" d="M101.71 98.8h.01"/>
<path class="m d" d="M107.93 94.58h.01"/>
<path class="b" d="M90.79 67.6h.01"/>
<path class="m" d="M89.66 82.72h.01"/>
<path class="m d" d="M101.71 92.99h.01"/>
<path class="b d" d="M104.39 93.94h.01"/>
<path class="m d" d="M101.71 92.46h.01"/>
<path class="b d" d="M101.71 90h.01"/>
<path class="m" d="M90.32 81.82h.01M89.67 77.81h.01"/>
<path class="b d" d="M108.92 94.55h.01M101.71 94.38h.01M103.98 87.16h.01"/>
<path class="m" d="M91.86 82.41h.01M93.62 80.97h.01"/>
<path class="b d" d="M108.92 93.97h.01"/>
<path class="m d" d="M108.92 94.6h.01M101.71 89.44h.01M108.92 93.85h.01"/>
<path class="b d" d="M108.92 91.34h.01M105.61 83.92h.01M101.71 93.94h.01"/>
<path class="m d" d="M106.38 91.53h.01"/>
<path class="b d" d="M101.71 96.96h.01M101.71 95.21h.01"/>
<path class="m d" d="M101.71 86.62h.01M101.71 87.52h.01"/>
<path class="b d" d="M101.71 96.41h.01M101.96 95.31h.01M108.92 95.83h.01"/>
<path class="m d" d="M101.71 89.78h.01M101.71 95.22h.01"/>
<path class="b d" d="M108.92 96.78h.01M104.02 98.61h.01M108.92 92.48h.01M101.71 92.39h.01"/>
<path class="m d" d="M101.71 89.72h.01"/>
<path class="b d" d="M101.71 92.04h.01M101.71 96.92h.01"/>
<path class="m" d="M91.84 70.42h.01"/>
<path class="b d" d="M101.71 94.95h.01M108.69 89.64h.01M101.71 85.35h.01"/>
<path class="b" d="M90.79 75.35h.01"/>
<path class="b d" d="M108.92 86.49h.01M101.71 92.42h.01M104.08 91.28h.01"/>
<path class="b" d="M90.79 78.11h.01"/>
<path class="m d" d="M101.71 91.07h.01M101.71 85.61h.01M101.71 97.71h.01"/>
<path class="b d" d="M108.92 95.06h.01"/>
<path class="m d" d="M107.75 92.85h.01"/>
<path class="m" d="M90.79 65.83h.01"/>
<path class="b d" d="M101.71 96.04h.01M101.71 88.34h.01M108.92 97.42h.01"/>
<path class="m d" d="M108.92 96.43h.01M108.92 90.42h.01"/>
<path class="b d" d="M107.38 84.8h.01"/>
<path class="m d" d="M101.71 88.69h.01"/>
<path class="b d" d="M105.31 91.48h.01"/>
<path class="m d" d="M101.71 95.23h.01M108.92 93.43h.01"/>
<path class="b d" d="M108.92 95.11h.01"/>
<path class="m d" d="M108.92 95.47h.01M108.92 96.32h.01"/>
<path class="b d" d="M101.71 95.64h.01M101.71 95.09h.01"/>
<path class="m d" d="M101.71 87.52h.01"/>
<path class="b d" d="M101.71 87.46h.01M108.92 98.78h.01"/>
<path class="m d" d="M101.71 93.48h.01"/>
<path class="b d" d="M108.92 94.26h.01M101.71 94.93h.01M105.33 94.09h.01M104.21 82.65h.01"/>
<path class="m d" d="M108.92 86.93h.01"/>
<path class="b d" d="M105.95 82.13h.01M108.92 92.09h.01M102.83 94.82h.01M107.23 96.55h.01"/>
<path class="b" d="M92.98 83.53h.01M90.1 66.72h.01"/>
<path class="b d" d="M101.71 97.5h.01M101.71 93.18h.01M108.92 94.93h.01"/>
<path class="m d" d="M108.78 81.83h.01"/>
<path class="b d" d="M108.51 90.69h.01M101.71 97.18h.01M101.71 98.6h.01M101.71 91.68h.01"/>
<path class="m d" d="M101.71 89.17h.01M104.6 92.17h.01"/>
<path class="b d" d="M101.71 88.7h.01"/>
<path class="m d" d="M103.1 91.14h.01"/>
<path class="b d" d="M101.71 97.88h.01M102.85 97.17h.01"/>
<path class="m d" d="M101.71 91.43h.01M101.71 86.93h.01"/>
<path class="b d" d="M101.71 95.67h.01M101.71 96.41h.01"/>
<path class="m d" d="M104.89 96.86h.01M108.92 92h.01"/>
<path class="b d" d="M108.92 92.77h.01M108.83 97.04h.01M108.92 97.87h.01"/>
<path class="b" d="M90.39 69.86h.01"/>
<path class="m d" d="M104.01 85.15h.01"/>
<path class="b" d="M90.79 104.45h.01"/>
<path class="b d" d="M101.71 98.51h.01"/>
<path class="m d" d="M101.71 91.17h.01M101.71 82.58h.01M101.71 92.23h.01"/>
<path class="b d" d="M108.92 86.57h.01"/>
<path class="m d" d="M101.71 95.58h.01"/>
<path class="b d" d="M108.92 96.33h.01"/>
<path class="m d" d="M108.92 97.42h.01"/>
<path class="b d" d="M101.71 97.6h.01M104.17 97.58h.01M108.92 92.42h.01"/>
<path class="m" d="M90.79 50.79h.01"/>
<path class="b d" d="M108.92 94.05h.01M106.25 98.36h.01"/>
<path class="m d" d="M106.1 86.11h.01M107.33 81.18h.01"/>
<path class="b d" d="M108.92 94.84h.01"/>
<path class="m d" d="M108.92 88.03h.01"/>
<path class="m" d="M87.68 84.01h.01"/>
<path class="m d" d="M105.28 86.68h.01M108.92 94.8h.01"/>
<path class="b d" d="M101.71 94.09h.01"/>
<path class="m d" d="M108.92 91.04h.01M106.37 81.19h.01M102.55 88.96h.01"/>
<path class="b d" d="M108.92 93.58h.01"/>
<path class="m d" d="M101.71 93.55h.01"/>
<path class="b d" d="M101.71 96.14h.01"/>
<path class="m d" d="M101.71 95.16h.01"/>
<path class="b d" d="M108.92 89.22h.01M101.71 96.19h.01"/>
<path class="m d" d="M103 87.02h.01"/>
<path class="b d" d="M108.92 94.3h.01"/>
<path class="m d" d="M103.9 90.26h.01"/>
<path class="m" d="M90.79 70.88h.01"/>
<path class="m d" d="M102.08 86.64h.01M104.83 87.69h.01"/>
<path class="b d" d="M103.09 84.77h.01M108.92 88.92h.01"/>
<path class="m d" d="M108.21 88.73h.01M108.92 90.75h.01"/>
<path class="b d" d="M108.92 94.42h.01M101.71 92.03h.01M108.92 95.56h.01"/>
<path class="m d" d="M108.17 91.8h.01"/>
<path class="b d" d="M108.92 96.7h.01M108.92 95.45h.01M108.92 97.85h.01M108.92 88.58h.01M103.47 92.11h.01"/>
<path class="m d" d="M103.49 86.06h.01M101.71 93.21h.01"/>
<path class="b d" d="M101.71 94.6h.01M108.92 98.33h.01"/>
<path class="m d" d="M103.97 93h.01"/>
<path class="b d" d="M108.92 96.95h.01M108.92 95.62h.01"/>
<path class="m d" d="M108.92 89.91h.01M101.71 88.86h.01"/>
<path class="b d" d="M108.92 89.98h.01"/>
<path class="m d" d="M108.92 90.21h.01"/>
<path class="b d" d="M108.92 96.15h.01M101.71 99.06h.01"/>
<path class="b" d="M89.21 81.52h.01"/>
<path class="b d" d="M101.71 90.66h.01"/>
<path class="m d" d="M101.71 88.41h.01"/>
<path class="b d" d="M101.71 95.61h.01M108.92 94.91h.01"/>
<path class="b" d="M90.79 82.82h.01"/>
<path class="b d" d="M108.92 96.97h.01M102.45 96.22h.01"/>
<path class="m d" d="M108.92 85.87h.01"/>
<path class="b d" d="M101.71 96.85h.01"/>
<path class="m d" d="M104.1 81.43h.01M108.92 95.16h.01M108.92 94.01h.01M101.71 90.62h.01M108.92 82.56h.01M102.53 83.25h.01"/>
<path class="m" d="M88.1 81.19h.01"/>
<path class="m d" d="M108.92 91.09h.01M103.95 94.87h.01M101.71 96.69h.01"/>
<path class="m" d="M92.5 81.25h.01"/>
<path class="m d" d="M106.72 97.45h.01M101.71 96.31h.01M108.92 95.26h.01"/>
<path class="b d" d="M106.71 87.13h.01M101.71 91.67h.01M101.71 92.55h.01M106.91 82.48h.01M104.48 99.53h.01M106.11 96.63h.01"/>
<path class="m d" d="M101.71 81.81h.01"/>
<path class="b d" d="M101.71 96.84h.01"/>
<path class="m d" d="M108.92 96.45h.01"/>
<path class="b d" d="M108.92 95.21h.01M108.92 97.49h.01"/>
<path class="m d" d="M108.92 96.66h.01"/>
<path class="b d" d="M108.92 98.93h.01M104.89 95.01h.01"/>
<path class="m d" d="M108.92 91.51h.01"/>
<path class="b d" d="M108.92 95.4h.01"/>
<path class="m d" d="M108.92 92.47h.01M108.92 87.52h.01"/>
<path class="b d" d="M102.58 85.67h.01M101.71 97.87h.01M103.18 81.05h.01M108.92 95.77h.01"/>
<path class="b" d="M90.79 72.06h.01"/>
<path class="b d" d="M101.71 95.58h.01"/>
<path class="b" d="M90.79 62.47h.01"/>
<path class="b d" d="M101.71 92.8h.01M108.92 93.23h.01M101.71 95.17h.01M108.92 96.41h.01M101.71 97.82h.01M108.17 96.25h.01"/>
<path class="m d" d="M108.92 97.08h.01"/>
<path class="b d" d="M108.92 95.65h.01M101.71 95.39h.01"/>
<path class="m d" d="M105.31 88.59h.01"/>
<path class="b d" d="M108.92 87.95h.01"/>
<path class="m d" d="M108.92 82.69h.01"/>
<path class="b d" d="M101.71 97.35h.01M108.92 90.72h.01M102.49 91.94h.01M102.17 97.93h.01M105.53 99.08h.01M103.5 99.52h.01M102.57 99.15h.01M101.71 97.45h.01M108.92 98.64h.01M106.79 90.27h.01M108.92 95.79h.01M101.71 95.55h.01M106.26 99.8h.01M108.92 98.74h.01"/>
<path class="m d" d="M101.71 94.56h.01"/>
<path class="b" d="M91.79 78.8h.01"/>
<path class="b d" d="M108.92 96.8h.01M108.92 84.49h.01"/>
<path class="m d" d="M101.71 95.65h.01"/>
<path class="b d" d="M108.92 93.18h.01"/>
<path class="m d" d="M108.92 91.58h.01"/>
<path class="b d" d="M108.92 95.49h.01M107.89 97.29h.01M101.71 96.59h.01M101.71 98.31h.01"/>
<path class="m d" d="M108.92 92.92h.01M101.71 86.46h.01M104.09 88.43h.01"/>
<path class="b d" d="M108.92 88.39h.01M108.92 96.7h.01M107.44 98.21h.01M108.92 97.71h.01"/>
<path class="m d" d="M108.92 94.02h.01"/>
<path class="b d" d="M101.71 92.06h.01"/>
<path class="m d" d="M101.71 85.91h.01"/>
<path class="b d" d="M101.71 95.37h.01"/>
<path class="m d" d="M108.92 93.35h.01"/>
<path class="b d" d="M101.71 89.17h.01M105.81 87.56h.01M107.21 93.72h.01"/>
<path class="m d" d="M101.71 87.96h.01"/>
<path class="b d" d="M101.71 96.73h.01M105.31 82.92h.01M108.92 96.73h.01M108.92 95.15h.01M108.92 97.66h.01M108.92 91.63h.01M104.91 98.27h.01"/>
<path class="m" d="M89.71 78.92h.01"/>
<path class="m d" d="M102.12 84.58h.01M101.71 91.58h.01"/>
<path class="b d" d="M102.22 87.88h.01M104.87 84.61h.01M107.04 85.78h.01M108.92 97.9h.01M108.92 89.77h.01M108.92 97.5h.01M108.03 99.15h.01M102.99 93.07h.01M108.92 94.61h.01M103.44 93.99h.01M108.92 96.14h.01"/>
<path class="m d" d="M101.71 93.6h.01M101.71 82.91h.01"/>
<path class="b d" d="M108.92 95.6h.01"/>
<path class="m d" d="M103.69 96.67h.01M101.71 90.07h.01M101.71 85.84h.01"/>
<path class="b d" d="M108.92 95.23h.01"/>
<path class="m d" d="M105.87 90.63h.01M108.92 93.65h.01"/>
<path class="b d" d="M101.71 94.84h.01M101.71 93.97h.01"/>
<path class="b" d="M92.79 74.55h.01"/>
<path class="b d" d="M108.92 96.32h.01M108.92 89.44h.01"/>
<path class="m d" d="M103.5 83.4h.01"/>
<path class="b d" d="M101.71 94.1h.01M108.92 93.62h.01M107.46 83.35h.01M107.59 86.66h.01M108.92 92.96h.01"/>
<path class="m d" d="M108.92 94.24h.01"/>
<path class="b d" d="M106.34 89.28h.01M107.48 95.5h.01"/>
<path class="b" d="M88.66 78.48h.01"/>
<path class="m d" d="M101.71 85.14h.01"/>
<path class="b d" d="M103.34 95.69h.01M101.71 93.37h.01"/>
<path class="m d" d="M105.42 89.66h.01M108.92 86.57h.01"/>
<path class="b d" d="M101.71 94.67h.01M101.71 96.05h.01M101.71 93.41h.01M108.38 87.54h.01M108.92 95.29h.01M108.92 93.38h.01"/>
<path class="m d" d="M101.71 86.61h.01"/>
<path class="b d" d="M101.71 96.32h.01M108.85 86.62h.01M108.92 96h.01M108.92 97.69h.01M101.71 92.72h.01M101.71 96.15h.01M104.46 83.66h.01"/>
<path class="m d" d="M101.71 90.26h.01"/>
<path class="b d" d="M108.92 92.04h.01M108.92 97.12h.01M108.92 97.35h.01M101.71 90.64h.01M102.9 90.12h.01"/>
<path class="m d" d="M101.71 95.45h.01"/>
<path class="b d" d="M101.71 89.17h.01M101.71 94.5h.01"/>
<path class="m d" d="M101.71 85.94h.01"/>
<path class="b d" d="M101.71 96.09h.01M108.92 97.32h.01M101.71 93.06h.01"/>
<path class="b" d="M90.79 84.22h.01"/>
<path class="b d" d="M101.71 93.22h.01M101.71 90.12h.01M101.71 93.68h.01M101.71 98.77h.01M108.92 86.03h.01M108.92 92.67h.01M108.92 98.55h.01M101.71 96.43h.01"/>
<path class="m" d="M91.83 80.32h.01"/>
<path class="b d" d="M108.92 88.24h.01"/>
<path class="m d" d="M108.92 90.48h.01M108.92 85.18h.01"/>
<path class="b d" d="M101.71 94.53h.01"/>
<path class="m d" d="M101.71 94.05h.01"/>
<path class="b d" d="M106.56 95.7h.01M104.41 95.96h.01M101.71 96.74h.01M108.92 97.4h.01M108.41 83.05h.01"/>
<path class="m d" d="M101.71 84.33h.01"/>
<path class="b d" d="M101.71 96.5h.01M101.71 95.82h.01"/>
<path class="m d" d="M108.92 94.94h.01"/>
<path class="b d" d="M108.92 93.14h.01"/>
<path class="m d" d="M108.92 93.18h.01"/>
<path class="b d" d="M108.92 96.44h.01M108.92 93.06h.01"/>
<path class="m d" d="M101.71 92.95h.01"/>
<path class="b" d="M87.68 80.92h.01"/>
<path class="m d" d="M108.92 93.52h.01"/>
<path class="b d" d="M107.58 90.97h.01M101.71 96.13h.01M101.71 97.67h.01M108.92 96.15h.01M101.71 91.63h.01M108.92 97.84h.01M101.71 97.5h.01M108.92 96.06h.01"/>
<path class="m d" d="M108.92 92.39h.01"/>
<path class="m" d="M89.14 83.7h.01"/>
<path class="b d" d="M108.92 94.48h.01M101.71 94.4h.01M108.92 95.2h.01"/>
<path class="b" d="M92.92 78.53h.01"/>
<path class="b d" d="M101.71 88.69h.01M108.92 96.11h.01"/>
<path class="m" d="M90.57 77.04h.01"/>
<path class="b d" d="M101.71 88.58h.01M101.71 93.28h.01M105.87 94.96h.01M108.92 94.13h.01M108.92 97.78h.01M107.28 89.02h.01M101.71 94.03h.01M106.57 88.27h.01M101.71 95.89h.01M106.68 92.8h.01"/>
<path class="m" d="M93.9 83.31h.01"/>
<path class="b d" d="M108.92 94.53h.01M101.71 96.79h.01M101.71 95.36h.01M101.71 97.8h.01M101.71 93.94h.01"/>
<path class="b" d="M89.37 75.25h.01"/>
<path class="b d" d="M108.92 95.59h.01"/>
<path class="m d" d="M108.92 90.02h.01"/>
<path class="b d" d="M101.71 95.98h.01"/>
<path class="m d" d="M108.92 95.38h.01"/>
<path class="b d" d="M108.92 96.31h.01M108.92 97.77h.01"/>
<path class="m d" d="M104.89 90.54h.01"/>
<path class="b d" d="M101.71 97.09h.01M108.92 93.04h.01M101.71 95.67h.01M101.71 91.3h.01M108.92 95.67h.01"/>
<path class="m d" d="M101.71 88.55h.01M101.71 90.19h.01"/>
<path class="b d" d="M108.92 93.94h.01"/>
<path class="m d" d="M104.48 86.07h.01"/>
<path class="b d" d="M101.71 94.91h.01"/>
<path class="m d" d="M107.49 88h.01"/>
<path class="b d" d="M106.48 83.42h.01M107.82 82.09h.01M101.71 92.48h.01M101.71 91.9h.01M101.71 96.32h.01"/>
<path class="m d" d="M104.99 81.89h.01"/>
<path class="b d" d="M108.2 85.84h.01M101.71 96.34h.01"/>
<path class="m d" d="M101.71 92.22h.01"/>
<path class="b d" d="M108.92 93.97h.01"/>
<path class="m d" d="M106.82 94.67h.01"/>
<path class="b d" d="M108.92 94.63h.01"/>
<path class="m d" d="M101.71 93.72h.01M108.92 92.07h.01"/>
<path class="b d" d="M108.92 91.97h.01M101.71 94.94h.01M108.92 91.16h.01"/>
<path class="m d" d="M108.92 88.56h.01"/>
<path class="b d" d="M101.71 98.69h.01M108.92 92.27h.01M105.08 93.08h.01M101.71 94.16h.01M108.92 95.39h.01M101.71 97.42h.01M108.92 88.42h.01M108.92 96.51h.01M101.71 93.96h.01M101.71 94.3h.01M103.13 98.17h.01"/>
<path class="m d" d="M108.92 89.03h.01"/>
<path class="b d" d="M101.71 87.92h.01"/>
<path class="m d" d="M102.15 90.86h.01M101.71 90.99h.01"/>
<path class="b d" d="M108.92 87.47h.01M101.71 97.22h.01"/>
<path class="b" d="M90.79 79.33h.01"/>
<path class="b d" d="M106.24 85.08h.01M108.92 82.99h.01M101.71 96.44h.01M108.92 95.67h.01M108.92 92.58h.01M102.03 92.86h.01M108.43 98.17h.01M108.92 89.05h.01M101.71 96.63h.01M106.26 93.74h.01M101.71 96.7h.01M108.92 89.18h.01M108.92 96.2h.01M102.4 93.88h.01M101.71 92.65h.01M108.92 90.4h.01M105.81 92.38h.01M108.92 96.62h.01M101.71 83.05h.01M108.92 89.45h.01M108.92 90.62h.01M105.62 97.54h.01"/>
<path class="m d" d="M103.3 82.26h.01M101.71 84.32h.01M101.96 89.8h.01M108.92 91.61h.01M101.71 86.56h.01"/>
<path class="m" d="M90.7 80.54h.01"/>
<path class="b d" d="M107.04 99.17h.01"/>
<path class="m d" d="M110.72 86.12h.01M115.36 94.17h.01M112.39 89.65h.01M113.13 85.46h.01M110.72 85.4h.01M110.72 90.02h.01M117.94 93.27h.01M112.83 92.73h.01M110.72 90.29h.01M114.78 80.69h.01M117.94 95.91h.01M117.94 92.04h.01"/>
<path class="m" d="M97.4 81.46h.01"/>
<path class="m d" d="M111.29 86.86h.01M116.92 85.83h.01M110.72 87.57h.01M117.94 93.85h.01M110.72 91.13h.01M117.94 90.66h.01"/>
<path class="b d" d="M117.94 92.96h.01M110.72 94.54h.01M117.94 93.88h.01"/>
<path class="m d" d="M117.55 83.66h.01M116.26 94.5h.01M110.72 92.15h.01M117.94 89.88h.01M110.72 92.29h.01M117.89 86.79h.01M110.72 90.24h.01M110.72 90.63h.01M117.94 86.53h.01M110.72 88.8h.01M116.92 86.88h.01M117.03 90.42h.01M117.94 92.33h.01M117.94 89.97h.01M110.72 87.4h.01"/>
<path class="b d" d="M110.72 95.36h.01"/>
<path class="m d" d="M117.94 94.27h.01M117.94 91.45h.01M110.72 95.25h.01M117.94 92.49h.01"/>
<path class="m" d="M97.59 79.47h.01"/>
<path class="m d" d="M117.94 93.43h.01M117.94 95.11h.01M117.94 85.71h.01"/>
<path class="b d" d="M110.72 94.79h.01"/>
<path class="m d" d="M117.94 91.78h.01"/>
<path class="b d" d="M117.94 93.11h.01M110.72 93.63h.01M110.72 95.76h.01M117.94 95.96h.01M117.94 95.43h.01"/>
<path class="m d" d="M110.72 91.98h.01M117.94 94.76h.01"/>
<path class="b d" d="M110.72 95.34h.01"/>
<path class="m d" d="M117.94 91.68h.01M116.92 92.54h.01"/>
<path class="b d" d="M110.72 98.27h.01M110.72 93.89h.01M110.72 96.68h.01M117.94 91.56h.01"/>
<path class="m d" d="M114.87 82.62h.01"/>
<path class="b d" d="M117.94 88.55h.01"/>
<path class="m d" d="M110.72 91.62h.01M117.94 93.13h.01"/>
<path class="b d" d="M112.51 94.51h.01M117.94 93.71h.01"/>
<path class="b" d="M98.56 30.08h.01"/>
<path class="b d" d="M110.72 94.8h.01"/>
<path class="m d" d="M117.94 93.23h.01"/>
<path class="b d" d="M117.94 85.44h.01"/>
<path class="m d" d="M116.99 88.69h.01M117.22 94.4h.01"/>
<path class="b d" d="M110.72 94.25h.01"/>
<path class="m d" d="M117.94 90.41h.01"/>
<path class="b d" d="M110.72 95.77h.01"/>
<path class="m d" d="M117.94 87.76h.01"/>
<path class="m" d="M98.56 76.63h.01"/>
<path class="b d" d="M117.94 93.69h.01M117.94 92.51h.01M110.72 89.31h.01"/>
<path class="m d" d="M117.94 85.3h.01M112.13 93.54h.01"/>
<path class="b d" d="M110.72 93.83h.01"/>
<path class="m d" d="M110.72 92h.01M117.94 86.13h.01M117.94 89.93h.01"/>
<path class="b d" d="M117.94 92.24h.01M110.72 88.27h.01M110.72 95.86h.01"/>
<path class="m d" d="M117.94 88.05h.01"/>
<path class="b d" d="M117.94 95.32h.01M110.72 94.14h.01"/>
<path class="m d" d="M117.94 87.28h.01M114.79 88.74h.01"/>
<path class="b d" d="M110.72 95.84h.01M111.98 97.22h.01M117.94 94.55h.01"/>
<path class="m d" d="M110.72 90.82h.01M117.94 92.37h.01"/>
<path class="b d" d="M117.29 98.43h.01M117.94 95.98h.01M110.72 91.49h.01M112.33 91.83h.01"/>
<path class="m d" d="M115.93 85.89h.01"/>
<path class="b d" d="M111.27 91.68h.01M110.72 95.76h.01"/>
<path class="m" d="M98.84 77.85h.01"/>
<path class="b d" d="M110.72 92.84h.01M110.72 92.2h.01M113.51 86.74h.01"/>
<path class="b" d="M98.56 68.4h.01"/>
<path class="b d" d="M110.72 87.91h.01M117.94 90.97h.01M117.94 94.23h.01"/>
<path class="b" d="M100.56 80.57h.01"/>
<path class="m d" d="M110.72 91.53h.01M112.37 84.8h.01M115.66 93.18h.01"/>
<path class="b d" d="M117.94 94.96h.01"/>
<path class="m d" d="M110.79 90.78h.01"/>
<path class="m" d="M98.56 72.16h.01"/>
<path class="b d" d="M110.72 91.83h.01M117.94 87.07h.01M115.34 96.34h.01"/>
<path class="m d" d="M117.94 94.32h.01M117.94 89.18h.01"/>
<path class="b d" d="M110.72 91.09h.01"/>
<path class="m d" d="M110.72 87.54h.01"/>
<path class="b d" d="M110.72 96.1h.01"/>
<path class="m d" d="M117.94 91.99h.01M117.94 93.35h.01"/>
<path class="b d" d="M113.68 94.59h.01"/>
<path class="m d" d="M117.94 91.89h.01M110.72 93.09h.01"/>
<path class="b d" d="M117.94 92.33h.01M117.94 95.15h.01"/>
<path class="m d" d="M115.71 83.36h.01"/>
<path class="b d" d="M117.94 93.42h.01M116.3 98.43h.01"/>
<path class="m d" d="M115.4 91.41h.01"/>
<path class="b d" d="M110.72 95.78h.01M117.94 94.97h.01M117.94 93.81h.01M113.57 92.04h.01"/>
<path class="m d" d="M110.72 87.78h.01"/>
<path class="b d" d="M114.89 86.28h.01M117.94 91.3h.01M117.94 94.35h.01M110.72 93.97h.01M111.81 80.67h.01"/>
<path class="b" d="M98.56 8.03h.01"/>
<path class="b d" d="M110.72 95.69h.01M110.72 91.45h.01M110.72 93.86h.01"/>
<path class="m d" d="M117.94 86.5h.01"/>
<path class="b d" d="M117.94 91.43h.01M117.94 96.52h.01M117.94 98.01h.01M117.94 88.88h.01"/>
<path class="m d" d="M110.72 88.48h.01M110.72 89.2h.01"/>
<path class="b d" d="M110.72 91.27h.01"/>
<path class="m d" d="M117.94 91.97h.01"/>
<path class="b d" d="M114.37 96.54h.01M110.72 95.91h.01"/>
<path class="m d" d="M117.94 92.42h.01M117.49 87.79h.01"/>
<path class="b d" d="M117.94 96.77h.01M117.94 94.58h.01"/>
<path class="m d" d="M110.72 93.5h.01M110.72 88.57h.01"/>
<path class="b d" d="M110.72 95.1h.01M110.72 98.43h.01M117.94 98.43h.01"/>
<path class="b" d="M97.71 74.09h.01"/>
<path class="m d" d="M110.72 86.13h.01"/>
<path class="b d" d="M117.94 98.07h.01M117.94 97.02h.01"/>
<path class="m d" d="M116.51 91.31h.01M115.43 89.56h.01M110.72 93.96h.01"/>
<path class="b d" d="M117.33 84.88h.01"/>
<path class="m d" d="M110.72 94.37h.01"/>
<path class="b d" d="M110.72 98.07h.01"/>
<path class="m d" d="M117.94 95.2h.01"/>
<path class="b d" d="M110.72 93.9h.01M110.72 94.87h.01M117.94 93.58h.01"/>
<path class="m" d="M98.56 74.83h.01"/>
<path class="b d" d="M117.61 93.45h.01M117.94 98.43h.01"/>
<path class="m d" d="M110.72 89.81h.01M110.82 85.71h.01"/>
<path class="b d" d="M110.72 93.11h.01"/>
<path class="m d" d="M117.94 87.74h.01M117.94 84.43h.01M110.72 92.23h.01M110.72 93.85h.01"/>
<path class="b d" d="M110.72 95.22h.01"/>
<path class="m d" d="M110.72 92.22h.01"/>
<path class="m" d="M99.7 81.29h.01"/>
<path class="m d" d="M110.72 91.3h.01"/>
<path class="b d" d="M117.94 92.24h.01"/>
<path class="m d" d="M110.72 93.76h.01"/>
<path class="b d" d="M110.72 96.61h.01"/>
<path class="m d" d="M110.72 93.97h.01"/>
<path class="b d" d="M111.65 92.65h.01M117.94 94.21h.01"/>
<path class="m d" d="M114.02 85.86h.01"/>
<path class="b d" d="M117.94 93.75h.01"/>
<path class="m d" d="M114.33 83.79h.01"/>
<path class="m" d="M97.4 68.33h.01"/>
<path class="m d" d="M111.44 89.98h.01M110.72 89.48h.01"/>
<path class="b d" d="M113.9 84.81h.01M114.79 85.2h.01"/>
<path class="m d" d="M110.72 90.54h.01M110.72 92.33h.01"/>
<path class="b d" d="M110.72 94.65h.01M117.94 92.6h.01M110.72 96.48h.01"/>
<path class="m d" d="M110.72 92.97h.01"/>
<path class="b d" d="M110.72 93.26h.01M113.89 93.03h.01M110.72 97.79h.01M113.29 90.08h.01M117.94 91.52h.01"/>
<path class="m d" d="M113.1 87.7h.01M117.94 91.43h.01"/>
<path class="b d" d="M110.72 94.69h.01M117.94 97.69h.01"/>
<path class="m d" d="M117.94 90.51h.01"/>
<path class="b d" d="M117.94 95.72h.01M110.72 96.76h.01"/>
<path class="m d" d="M110.72 88.13h.01M117.94 88.68h.01"/>
<path class="b d" d="M117.94 89.61h.01"/>
<path class="m d" d="M110.72 92.47h.01"/>
<path class="b d" d="M117.94 94.29h.01M117.94 96.95h.01"/>
<path class="b" d="M98.56 81.48h.01"/>
<path class="b d" d="M110.72 90.71h.01"/>
<path class="m d" d="M110.72 89.46h.01"/>
<path class="b d" d="M117.94 94.16h.01M110.72 91.38h.01"/>
<path class="b" d="M95.45 83.21h.01"/>
<path class="b d" d="M117.94 95.96h.01M117.94 93.61h.01"/>
<path class="m" d="M95.76 79.96h.01"/>
<path class="b d" d="M117.94 95.58h.01"/>
<path class="m d" d="M113.91 82.85h.01M110.72 93.09h.01M117.94 92.13h.01M110.72 91.29h.01M110.72 89.58h.01M110.72 87.02h.01"/>
<path class="m" d="M100.96 83.03h.01"/>
<path class="m d" d="M117.94 91.81h.01M110.72 93.58h.01M110.72 95.58h.01M116.47 87.81h.01M110.72 95.43h.01M117.94 93.74h.01M116.6 93.52h.01"/>
<path class="b d" d="M117.93 90.75h.01M117.94 91.33h.01M110.72 92.5h.01M114.33 81.62h.01M112.96 97.33h.01M110.72 95.5h.01"/>
<path class="m d" d="M116.6 83.93h.01"/>
<path class="b d" d="M110.72 96.52h.01"/>
<path class="m d" d="M110.72 94.72h.01"/>
<path class="b d" d="M117.94 95.53h.01M110.72 98.09h.01"/>
<path class="m d" d="M110.72 92.42h.01"/>
<path class="b d" d="M110.72 95.99h.01M117.94 95.09h.01"/>
<path class="m d" d="M117.94 89.3h.01"/>
<path class="b d" d="M117.94 94.96h.01"/>
<path class="m d" d="M110.72 91.42h.01M116.45 89.56h.01"/>
<path class="b" d="M95.45 83.76h.01"/>
<path class="b d" d="M110.72 98.01h.01M110.72 88.38h.01M117.94 94.65h.01"/>
<path class="b" d="M101.67 83.35h.01"/>
<path class="b d" d="M111 95.28h.01"/>
<path class="b" d="M99.72 78.9h.01"/>
<path class="b d" d="M117.94 94.91h.01M117.94 93.08h.01M110.72 95.2h.01M110.72 96.93h.01M114.93 97.45h.01M110.72 95.98h.01"/>
<path class="m d" d="M110.72 95.52h.01"/>
<path class="b d" d="M110.72 95.96h.01M110.72 94.17h.01"/>
<path class="m d" d="M110.72 85.51h.01"/>
<path class="b d" d="M117.94 87.64h.01"/>
<path class="m d" d="M113.61 80.91h.01"/>
<path class="b d" d="M110.72 94.29h.01M110.72 93.34h.01M117.94 94.78h.01M110.72 98.17h.01M117.94 97.59h.01M117.94 97.97h.01M110.72 97.78h.01M110.72 96.05h.01M116.88 97.21h.01M117.94 91.25h.01M110.72 96.13h.01M112.36 98.43h.01M117.94 97.83h.01M117.94 95.86h.01"/>
<path class="m d" d="M110.72 92.92h.01"/>
<path class="b" d="M97.73 78.16h.01"/>
<path class="b d" d="M117.94 96.15h.01M117.94 89.26h.01"/>
<path class="m d" d="M110.72 92.37h.01"/>
<path class="b d" d="M110.72 94.07h.01"/>
<path class="m d" d="M117.94 91.12h.01"/>
<path class="b d" d="M117.94 96.02h.01M116.8 95.39h.01M110.72 97.12h.01M117.94 98.16h.01"/>
<path class="m d" d="M110.72 90.99h.01M117.94 85.05h.01M110.72 89.92h.01"/>
<path class="b d" d="M117.94 88.37h.01M110.72 97.68h.01M117.94 98.21h.01M110.72 96.83h.01"/>
<path class="m d" d="M117.94 88.12h.01"/>
<path class="b d" d="M117.94 91.3h.01"/>
<path class="m d" d="M110.72 89.46h.01"/>
<path class="b d" d="M110.72 94.56h.01"/>
<path class="m d" d="M110.72 90.23h.01"/>
<path class="b d" d="M117.68 89.63h.01M115.73 86.91h.01M117.94 92.11h.01"/>
<path class="m d" d="M110.72 88.48h.01"/>
<path class="b d" d="M117.94 94.65h.01M117.94 92.45h.01M110.72 97.1h.01M110.72 94.18h.01M111.46 96.28h.01M110.72 96.64h.01M117.94 97.07h.01"/>
<path class="m" d="M98.56 78.92h.01"/>
<path class="m d" d="M115.92 88.66h.01M117.94 87.18h.01"/>
<path class="b d" d="M110.72 88.11h.01M113.21 84.06h.01M110.72 86.72h.01M115.89 97.23h.01M117.94 91.07h.01M110.72 93.05h.01M117.94 98.25h.01M110.72 94.32h.01M110.72 94.93h.01M117.94 94.24h.01M110.72 95.11h.01"/>
<path class="m d" d="M117.94 92.99h.01M116.25 84.9h.01"/>
<path class="b d" d="M117.94 93.85h.01"/>
<path class="m d" d="M110.72 93.63h.01M117.94 90.24h.01M110.72 84.52h.01"/>
<path class="b d" d="M110.72 94.88h.01"/>
<path class="m d" d="M117.94 90.56h.01M110.72 92.29h.01"/>
<path class="b d" d="M117.94 95.75h.01M117.94 93.96h.01"/>
<path class="b" d="M98.56 66.01h.01"/>
<path class="b d" d="M117.94 96.71h.01M117.94 92.84h.01"/>
<path class="m d" d="M111.39 87.92h.01"/>
<path class="b d" d="M110.72 93.62h.01M117.94 94.48h.01M117.94 88.57h.01M117.94 87.53h.01M110.72 91.95h.01"/>
<path class="m d" d="M117.94 90.67h.01"/>
<path class="b d" d="M110.72 88.48h.01M110.72 93.88h.01"/>
<path class="b" d="M98.56 80.07h.01"/>
<path class="m d" d="M112.58 81.32h.01"/>
<path class="b d" d="M117.94 96.49h.01M111.37 98.43h.01"/>
<path class="m d" d="M117.94 87.04h.01M110.72 87.62h.01"/>
<path class="b d" d="M110.72 94.21h.01M117.94 95.84h.01M111.97 90.86h.01M117.94 88.02h.01M117.94 93.99h.01M110.72 93.67h.01"/>
<path class="m d" d="M115.3 84.31h.01"/>
<path class="b d" d="M117.75 95.28h.01M110.72 90.52h.01M117.94 94.74h.01M115.83 95.44h.01M117.94 93.87h.01M110.72 94.24h.01M117.94 86.58h.01"/>
<path class="m d" d="M114.8 92.68h.01"/>
<path class="b d" d="M113.16 93.72h.01M117.94 95.77h.01M110.72 96.01h.01M110.72 89.87h.01M110.72 90.84h.01"/>
<path class="m d" d="M110.72 92.73h.01"/>
<path class="b d" d="M117.94 94.7h.01M110.72 95.3h.01"/>
<path class="m d" d="M114 88.14h.01"/>
<path class="b d" d="M113.4 96.35h.01M117.94 96.84h.01M117.94 88.24h.01M112.6 86.34h.01M110.72 92.4h.01M117.94 90.03h.01M110.72 97.05h.01M110.72 97.96h.01M110.72 86.37h.01M110.72 91.58h.01M112.41 96.28h.01M110.99 97.2h.01"/>
<path class="m" d="M96.79 83.76h.01"/>
<path class="b d" d="M112.19 87.29h.01"/>
<path class="m d" d="M111.8 85.73h.01M117.94 86.24h.01"/>
<path class="b d" d="M110.72 95.09h.01"/>
<path class="m d" d="M110.72 93.43h.01"/>
<path class="b d" d="M117.94 96.81h.01M110.72 94.75h.01M117.94 97.1h.01M116.36 96.32h.01M112.29 83.7h.01"/>
<path class="m d" d="M110.72 87.11h.01"/>
<path class="b d" d="M117.94 96.66h.01M117.94 93.87h.01"/>
<path class="m d" d="M117.94 91.62h.01"/>
<path class="b d" d="M117.94 93.08h.01"/>
<path class="m d" d="M110.72 89.96h.01"/>
<path class="b d" d="M111.55 94.4h.01M110.72 90.69h.01"/>
<path class="m d" d="M113.08 91.14h.01"/>
<path class="b d" d="M117.94 83.17h.01"/>
<path class="m d" d="M114.4 87.19h.01"/>
<path class="b d" d="M114.49 91.69h.01M110.72 94.73h.01M114.04 95.56h.01M117.94 96.61h.01M112.65 88.64h.01M110.72 94.97h.01M117.86 97.13h.01M114.94 95.11h.01"/>
<path class="m d" d="M117.94 92.2h.01"/>
<path class="m" d="M98.25 83.45h.01"/>
<path class="b d" d="M114.4 93.92h.01M110.72 93.67h.01M117.94 94.85h.01M116.01 80.83h.01M115.32 87.86h.01M117.94 96.07h.01"/>
<path class="m d" d="M110.72 83.33h.01"/>
<path class="b d" d="M110.72 87.07h.01M116.02 92.21h.01M117.94 95.08h.01M110.72 93.14h.01M115.32 98.43h.01M110.72 92.12h.01M117.94 90.83h.01M110.72 91.97h.01M110.72 96.16h.01M111.7 88.91h.01"/>
<path class="m" d="M99.87 83.4h.01"/>
<path class="b d" d="M117.94 95.23h.01M117.94 94.93h.01M117.94 95.38h.01M110.72 94.54h.01M114.01 90.79h.01"/>
<path class="b" d="M97.56 76.08h.01"/>
<path class="b d" d="M117.94 94.31h.01"/>
<path class="m d" d="M117.94 88.68h.01"/>
<path class="b d" d="M117.94 94.19h.01"/>
<path class="m d" d="M110.72 95.17h.01"/>
<path class="b d" d="M117.31 96.28h.01M117.94 95.79h.01"/>
<path class="m d" d="M117.94 89.87h.01"/>
<path class="b d" d="M110.72 96.96h.01M111.95 95.36h.01M111.08 93.5h.01M117.94 92.39h.01M117.94 95.35h.01"/>
<path class="m d" d="M110.72 88.27h.01M110.72 89.13h.01"/>
<path class="b d" d="M117.94 93.86h.01"/>
<path class="m d" d="M114.95 90.47h.01"/>
<path class="b d" d="M110.72 92.53h.01"/>
<path class="m d" d="M117.94 89.32h.01"/>
<path class="b d" d="M115.94 90.45h.01M110.72 86.54h.01M110.72 89.35h.01M110.72 94.31h.01M117.94 92.77h.01"/>
<path class="m d" d="M111.4 84.64h.01"/>
<path class="b d" d="M117.94 89.23h.01M110.72 95.04h.01"/>
<path class="m d" d="M117.94 90.52h.01"/>
<path class="b d" d="M117.94 91.48h.01"/>
<path class="m d" d="M117.41 91.63h.01"/>
<path class="b d" d="M117.94 93.62h.01"/>
<path class="m d" d="M110.72 91.76h.01M110.72 91.44h.01"/>
<path class="b d" d="M117.94 95.21h.01M117.94 93.9h.01M110.72 93.4h.01"/>
<path class="m d" d="M117.94 90.25h.01"/>
<path class="b d" d="M110.72 97.55h.01M117.94 93.65h.01M117.94 96h.01M110.72 94.31h.01M110.72 94.98h.01M117.94 96.43h.01M117.94 87.52h.01M117.94 94.31h.01M110.72 94.45h.01M110.72 94.22h.01M110.72 96.81h.01"/>
<path class="m d" d="M113.53 89.05h.01"/>
<path class="b d" d="M117.94 88.35h.01"/>
<path class="m d" d="M110.72 89.26h.01M110.72 87.79h.01"/>
<path class="b d" d="M117.94 94.16h.01M113.34 98.43h.01"/>
<path class="b" d="M96.7 80.59h.01"/>
<path class="b d" d="M117.9 85.71h.01M114.33 89.66h.01M117.94 93.97h.01M117.94 95h.01M117.94 92.44h.01M110.72 93.8h.01M117.94 96.11h.01M110.72 92.45h.01M110.72 93.08h.01M117.94 95.51h.01M110.72 98.43h.01M110.72 90.54h.01M113.02 95.39h.01M110.72 89.28h.01M117.94 89.5h.01M110.72 87.43h.01M113.94 97.48h.01M117.94 98.43h.01M111.35 83.36h.01M110.72 85.29h.01M110.72 93.69h.01M114.33 98.43h.01"/>
<path class="m d" d="M115.32 81.57h.01M116.93 80.46h.01M110.72 86.52h.01M117.94 89.38h.01M117.94 87.59h.01M113.2 82.13h.01"/>
<path class="b d" d="M110.72 98.43h.01"/>
<path class="m d" d="M119.74 86.56h.01M119.74 89.33h.01"/>
<path class="m" d="M103.89 84.81h.01"/>
<path class="m d" d="M119.74 83.42h.01M126.28 83.22h.01M119.74 91.6h.01M126.95 92.7h.01M126.95 88.12h.01M120.46 90.61h.01M119.74 88.3h.01M126.95 95.84h.01M119.74 89.98h.01"/>
<path class="m" d="M106.33 61.04h.01"/>
<path class="m d" d="M123.35 82.02h.01M119.74 86.1h.01M126.95 92.13h.01M119.74 91.92h.01M119.74 89.81h.01M119.74 87.3h.01"/>
<path class="b d" d="M126.95 89.61h.01M119.74 97.07h.01M126.95 88.42h.01"/>
<path class="m" d="M109.06 82.54h.01"/>
<path class="m d" d="M119.74 92.71h.01M126.95 91.68h.01"/>
<path class="m" d="M106.33 80.85h.01"/>
<path class="m d" d="M126.95 89.19h.01M126.95 82.93h.01M119.74 92.21h.01M126.95 89.17h.01M126.95 91.37h.01M126.95 92.65h.01M126.95 91.88h.01M119.74 93.54h.01M126.95 94.18h.01M126.95 90.95h.01M119.74 91.33h.01"/>
<path class="b d" d="M126.95 91.3h.01"/>
<path class="m d" d="M124.17 82.86h.01M123.89 90.2h.01M119.74 96.63h.01M126.95 92.72h.01"/>
<path class="m" d="M104.5 78.03h.01"/>
<path class="m d" d="M119.74 93.63h.01M119.74 96.67h.01M120.68 85.35h.01"/>
<path class="b d" d="M119.74 97.72h.01"/>
<path class="m d" d="M119.74 90.73h.01"/>
<path class="b d" d="M126.95 98h.01M119.74 91.08h.01M126.95 96h.01M126.95 95.43h.01M126.95 95.38h.01"/>
<path class="m d" d="M126.95 94.01h.01M119.74 94.01h.01"/>
<path class="b d" d="M126.95 94.63h.01"/>
<path class="m d" d="M123.03 87.11h.01M126.95 90.09h.01"/>
<path class="b d" d="M125.65 99.68h.01M119.74 97.91h.01M121.65 95.16h.01M119.74 93.97h.01"/>
<path class="m d" d="M126.95 83.63h.01"/>
<path class="b d" d="M119.74 86.86h.01"/>
<path class="m d" d="M119.74 89.89h.01M126.95 91.08h.01"/>
<path class="b d" d="M126.95 93.89h.01M124.2 94.3h.01"/>
<path class="b" d="M106.33 70.03h.01"/>
<path class="b d" d="M119.74 94.64h.01"/>
<path class="m d" d="M126.95 88.99h.01"/>
<path class="b d" d="M126.95 84.55h.01"/>
<path class="m d" d="M124.24 91.71h.01M126.95 94.03h.01"/>
<path class="b d" d="M119.74 95.42h.01"/>
<path class="m d" d="M125.71 84.07h.01"/>
<path class="b d" d="M119.74 95.11h.01"/>
<path class="m" d="M109.44 84.67h.01M105.52 78.55h.01"/>
<path class="b d" d="M123.68 95.18h.01M119.74 95.93h.01M125.37 88.85h.01"/>
<path class="m" d="M107.39 85.14h.01"/>
<path class="m d" d="M119.74 83.69h.01"/>
<path class="b d" d="M119.74 96.47h.01"/>
<path class="m d" d="M123.64 88.43h.01M119.74 84.61h.01M119.74 90.9h.01"/>
<path class="b d" d="M125.13 89.85h.01M126.95 86.15h.01M126.95 94.7h.01"/>
<path class="m d" d="M126.95 84.59h.01"/>
<path class="b d" d="M119.74 92.22h.01M119.74 93.85h.01"/>
<path class="m d" d="M119.74 83.6h.01M119.74 90.12h.01"/>
<path class="b d" d="M126.95 87.32h.01M119.74 98.46h.01M126.95 96.63h.01"/>
<path class="m d" d="M119.74 88.39h.01M126.95 93.23h.01"/>
<path class="b d" d="M120.39 104.35h.01M119.74 96.73h.01M119.74 91.88h.01M119.74 94.69h.01"/>
<path class="m d" d="M119.74 88.79h.01"/>
<path class="b d" d="M126.95 88.68h.01M122.03 98.12h.01"/>
<path class="m" d="M104.31 79.88h.01"/>
<path class="b d" d="M126.95 97.13h.01M126.95 92.88h.01"/>
<path class="b" d="M103.22 82.04h.01M103.88 82.08h.01"/>
<path class="b d" d="M119.74 87.04h.01M119.74 92.69h.01M119.74 95.7h.01"/>
<path class="b" d="M109.44 81.89h.01"/>
<path class="m d" d="M119.74 90.1h.01M126.95 88.77h.01M122.52 93.29h.01"/>
<path class="b d" d="M119.74 97.11h.01"/>
<path class="m d" d="M123.75 86.4h.01M126.95 83.92h.01"/>
<path class="b d" d="M121.41 90.9h.01M119.74 92.71h.01M121.33 98.95h.01"/>
<path class="m d" d="M126.95 96.64h.01M119.74 89.09h.01"/>
<path class="b" d="M104.96 82.47h.01"/>
<path class="m d" d="M123.82 92.66h.01"/>
<path class="b d" d="M126.95 95.27h.01"/>
<path class="m d" d="M119.74 92.1h.01M119.74 94h.01"/>
<path class="b d" d="M126.95 90.13h.01"/>
<path class="m d" d="M126.95 94.09h.01M126.95 94.35h.01"/>
<path class="b d" d="M119.74 89.7h.01M119.74 94.71h.01"/>
<path class="m" d="M104.25 76.12h.01"/>
<path class="b d" d="M125.01 82.32h.01M119.74 104.35h.01"/>
<path class="m d" d="M119.74 91.27h.01"/>
<path class="b d" d="M126.95 93.68h.01M119.74 95.85h.01M126.95 98.06h.01M126.95 91.91h.01"/>
<path class="m d" d="M126.95 83.69h.01"/>
<path class="b d" d="M119.74 87.23h.01M126.9 87.61h.01M125.5 97.82h.01M119.74 91.42h.01M119.74 92.89h.01"/>
<path class="b" d="M106.33 47.14h.01"/>
<path class="b d" d="M126.95 95.12h.01M119.74 93.66h.01M119.74 95.47h.01"/>
<path class="m d" d="M119.74 83.71h.01"/>
<path class="b d" d="M126.95 91.91h.01M126.95 97.32h.01M119.74 100.34h.01M126.52 91.43h.01"/>
<path class="m" d="M108.43 76.2h.01"/>
<path class="m d" d="M119.74 89.74h.01"/>
<path class="b d" d="M119.74 91.63h.01"/>
<path class="m d" d="M126.95 86.15h.01"/>
<path class="b d" d="M123.7 97.14h.01M126.95 98.36h.01"/>
<path class="m d" d="M126.95 86.37h.01M126.95 86.76h.01"/>
<path class="b d" d="M119.74 94.18h.01M119.74 90.44h.01"/>
<path class="m d" d="M120.18 93.76h.01M126.15 89.55h.01"/>
<path class="b d" d="M126.95 86.6h.01M119.74 104.35h.01M126.95 104.35h.01"/>
<path class="b" d="M107.19 80.11h.01"/>
<path class="m d" d="M120.63 84.02h.01"/>
<path class="b d" d="M123.35 102.27h.01M126.95 96.04h.01"/>
<path class="m d" d="M126.8 90.44h.01M119.74 86.78h.01M119.74 93.4h.01"/>
<path class="b d" d="M126.95 85.16h.01"/>
<path class="m d" d="M119.74 97.61h.01"/>
<path class="b d" d="M124.14 101.65h.01"/>
<path class="m d" d="M119.74 96.82h.01"/>
<path class="b d" d="M119.74 91.06h.01M122.77 97.35h.01M119.74 97.14h.01"/>
<path class="m d" d="M126.95 85.67h.01"/>
<path class="b d" d="M121.42 84.65h.01M126.95 104.35h.01"/>
<path class="m d" d="M126.95 89.54h.01M121.29 83.24h.01"/>
<path class="b d" d="M126.95 94.91h.01"/>
<path class="m" d="M103.22 84.79h.01"/>
<path class="m d" d="M119.74 88.16h.01M126.95 90.66h.01M123.35 96.16h.01"/>
<path class="b d" d="M126.95 91.57h.01"/>
<path class="m d" d="M124.34 89.27h.01"/>
<path class="m" d="M108.34 80.05h.01"/>
<path class="m d" d="M126.95 89.88h.01"/>
<path class="b d" d="M126.95 92.72h.01"/>
<path class="m d" d="M120.69 95.09h.01"/>
<path class="b d" d="M126.95 95.91h.01"/>
<path class="m d" d="M126.95 91.76h.01"/>
<path class="b d" d="M126.85 95.04h.01M125.3 96.08h.01"/>
<path class="m" d="M105.31 76.54h.01"/>
<path class="b d" d="M126.95 96.78h.01"/>
<path class="m d" d="M119.74 88.58h.01"/>
<path class="m" d="M106.33 62.95h.01"/>
<path class="m d" d="M119.74 86.11h.01M124.58 88.26h.01"/>
<path class="b d" d="M122.97 84.34h.01M122.11 92.34h.01"/>
<path class="m d" d="M123.58 85.16h.01M126.95 92.26h.01"/>
<path class="b d" d="M120.55 96.88h.01M126.95 94.98h.01M126.95 95.8h.01"/>
<path class="m d" d="M126.95 94.67h.01"/>
<path class="b d" d="M122.01 94.2h.01M119.74 89.93h.01M126.14 98.77h.01M126.95 91.4h.01M126.95 94.61h.01"/>
<path class="m d" d="M119.74 87.54h.01M119.74 88.83h.01"/>
<path class="b d" d="M124.76 100.85h.01M119.87 100.52h.01"/>
<path class="m d" d="M119.74 92.12h.01"/>
<path class="b d" d="M126.95 93.56h.01M126.95 93.09h.01"/>
<path class="m d" d="M119.74 85.11h.01M126.95 85.62h.01"/>
<path class="b d" d="M126.95 93.02h.01"/>
<path class="m d" d="M126.95 88.95h.01"/>
<path class="b d" d="M126.95 91.98h.01M123.77 100.13h.01M120.87 89.62h.01M126.95 93.06h.01"/>
<path class="m d" d="M125.97 86.87h.01"/>
<path class="b d" d="M120.31 91.65h.01M119.74 98.31h.01M119.74 88.99h.01M119.74 97.35h.01M119.74 93.07h.01"/>
<path class="m d" d="M126.95 83.45h.01"/>
<path class="b d" d="M126.95 94.06h.01"/>
<path class="m d" d="M121.62 82.25h.01M126.95 90.2h.01M119.74 90.15h.01M119.74 89.3h.01M126.95 87.32h.01"/>
<path class="m" d="M106.33 84.01h.01M106.33 73.51h.01"/>
<path class="m d" d="M119.74 92.89h.01M124.79 95.17h.01M126.95 95.75h.01"/>
<path class="m" d="M107.46 83.75h.01"/>
<path class="m d" d="M126.95 98.55h.01M125.61 93.28h.01M119.74 93.95h.01"/>
<path class="b d" d="M119.74 89.05h.01M121.57 93.23h.01M126.95 97.25h.01M119.74 84.79h.01M126.95 100.3h.01M119.74 94.43h.01"/>
<path class="m d" d="M126.95 86.85h.01"/>
<path class="b d" d="M126.95 93.73h.01"/>
<path class="m d" d="M126.95 94.8h.01"/>
<path class="b d" d="M119.74 82.94h.01M120.85 100.61h.01"/>
<path class="m d" d="M119.74 87.95h.01"/>
<path class="b d" d="M126.95 98.69h.01M126.95 92.66h.01"/>
<path class="m d" d="M126.95 89.85h.01"/>
<path class="b d" d="M124.8 83.66h.01"/>
<path class="m d" d="M126.95 87.54h.01M124.7 90.8h.01"/>
<path class="b d" d="M119.74 84.46h.01M123.35 101.07h.01M125.33 86.04h.01M126.95 97.73h.01"/>
<path class="b" d="M105.33 68.1h.01"/>
<path class="b d" d="M119.74 93.22h.01"/>
<path class="b" d="M107.31 76.47h.01"/>
<path class="b d" d="M119.74 91.04h.01M119.74 91.66h.01M126.95 94.73h.01M126.95 95.4h.01M119.74 96.69h.01M119.74 93.82h.01"/>
<path class="m d" d="M126.95 88.3h.01"/>
<path class="b d" d="M126.95 98.47h.01M122.7 90.34h.01"/>
<path class="m d" d="M125.14 84.92h.01"/>
<path class="b d" d="M119.74 88.62h.01"/>
<path class="m d" d="M122.53 82.65h.01"/>
<path class="b d" d="M119.74 94.04h.01M126.95 95.6h.01M122.2 96.5h.01M122.54 101.67h.01M122.56 100.46h.01M125.74 100.71h.01M120.35 98.94h.01M119.74 95.79h.01M121.47 97.26h.01M126.95 92.36h.01M122.31 99.12h.01M126.31 104.35h.01M126.72 100.55h.01M119.74 98.69h.01"/>
<path class="m d" d="M125.55 91.54h.01"/>
<path class="b" d="M106.33 79.33h.01"/>
<path class="b d" d="M119.74 91.79h.01M126.95 87.04h.01"/>
<path class="m d" d="M119.74 90.37h.01"/>
<path class="b d" d="M119.74 93.02h.01"/>
<path class="m d" d="M119.74 89h.01"/>
<path class="b d" d="M126.95 98.58h.01M126.95 97.09h.01M126 96.92h.01M126.95 99.92h.01"/>
<path class="m d" d="M121.41 88.74h.01M126.95 91.05h.01M126.95 87.99h.01"/>
<path class="b d" d="M124.6 93.35h.01M125.13 98.78h.01M121.75 101.05h.01M126.95 97.04h.01"/>
<path class="m d" d="M126.95 84.8h.01"/>
<path class="b d" d="M126.95 96.15h.01"/>
<path class="m d" d="M119.74 83.99h.01"/>
<path class="b d" d="M119.74 95.33h.01"/>
<path class="m d" d="M126.95 89.76h.01"/>
<path class="b d" d="M119.74 90.41h.01M119.74 94.81h.01M126.95 93.03h.01"/>
<path class="m d" d="M123.93 84.1h.01"/>
<path class="b d" d="M119.74 91.78h.01M119.81 89.82h.01M126.95 98.19h.01M126.12 92.39h.01M119.74 97.27h.01M126.95 92.56h.01M126.95 97.29h.01"/>
<path class="m" d="M106.75 82.18h.01"/>
<path class="m d" d="M123.96 87.44h.01M126.95 84.78h.01"/>
<path class="b d" d="M126.95 87.86h.01M126.76 82.31h.01M123.28 83.32h.01M126.95 97.58h.01M119.91 87.47h.01M124.81 96.99h.01M119.74 100.29h.01M119.74 97.17h.01M126.95 93.14h.01M119.74 92.77h.01M123.35 98.2h.01"/>
<path class="m d" d="M120.77 87.97h.01"/>
<path class="m" d="M109.09 79.22h.01"/>
<path class="b d" d="M126.95 96.4h.01"/>
<path class="m d" d="M126.95 90.93h.01M126.95 87.86h.01M121.58 85.78h.01"/>
<path class="b d" d="M119.74 94.09h.01"/>
<path class="m d" d="M119.74 89.29h.01M125.84 90.54h.01"/>
<path class="b d" d="M119.74 97.25h.01M126.95 90.94h.01"/>
<path class="b" d="M105.52 74.74h.01"/>
<path class="b d" d="M119.74 98.54h.01M119.75 94.98h.01"/>
<path class="m d" d="M126.95 89.34h.01"/>
<path class="b d" d="M119.74 91.3h.01M126.95 96.55h.01M124.45 85.66h.01M126.95 92.57h.01M119.74 94.86h.01"/>
<path class="m d" d="M119.74 86.68h.01"/>
<path class="b d" d="M126.95 92.16h.01M126.95 96.48h.01"/>
<path class="b" d="M108.83 84.94h.01"/>
<path class="m" d="M106.33 68.64h.01"/>
<path class="b d" d="M119.74 96.58h.01M126.95 104.35h.01"/>
<path class="m d" d="M119.74 85.98h.01M126.95 89.91h.01"/>
<path class="b d" d="M126.95 95.93h.01M119.74 94.09h.01M126.95 89.02h.01M120.22 88.83h.01M119.74 99.68h.01M126.95 98.3h.01"/>
<path class="m d" d="M126.95 92.57h.01"/>
<path class="b d" d="M126.52 97.81h.01M125.03 92.41h.01M121.27 96.16h.01M120.67 92.8h.01M119.74 91.4h.01M126.95 94.54h.01M126.95 89.32h.01"/>
<path class="m d" d="M125.45 87.76h.01"/>
<path class="b d" d="M126.95 92.3h.01M119.9 97.77h.01M126.39 95.96h.01M119.74 98.6h.01M119.74 90.94h.01"/>
<path class="m d" d="M126.95 94.16h.01"/>
<path class="b d" d="M126.95 93.95h.01M119.74 94.62h.01"/>
<path class="m" d="M105.18 83.87h.01"/>
<path class="b d" d="M125.78 95.12h.01M119.74 97.44h.01M119.74 94.48h.01M126.95 86.64h.01M126.95 89.73h.01M119.74 90.07h.01M119.74 92.56h.01M126.95 100.39h.01M126.95 90.18h.01M119.74 92.63h.01M126.95 97.41h.01M120.85 98.04h.01"/>
<path class="m" d="M107.93 82.75h.01"/>
<path class="b d" d="M119.74 91.27h.01"/>
<path class="m d" d="M120.35 82.94h.01M122.13 83.79h.01"/>
<path class="b d" d="M126.95 95.07h.01"/>
<path class="m d" d="M123.45 93.62h.01"/>
<path class="b d" d="M119.74 97.06h.01M125.16 94.21h.01M126.95 96.46h.01M119.74 92.29h.01M119.74 84.53h.01"/>
<path class="m d" d="M126.79 84.82h.01"/>
<path class="b d" d="M119.74 98.01h.01M126.95 91.89h.01"/>
<path class="m d" d="M126.95 93.42h.01"/>
<path class="b d" d="M119.74 85.68h.01"/>
<path class="m d" d="M119.74 91.91h.01"/>
<path class="b d" d="M119.74 96.62h.01M126.95 94.43h.01"/>
<path class="m d" d="M119.74 87.91h.01"/>
<path class="b d" d="M124.82 86.94h.01"/>
<path class="m d" d="M119.74 87.54h.01"/>
<path class="b d" d="M126.95 94.07h.01M126.95 91.61h.01M126.95 96.63h.01M119.74 94.12h.01M119.74 94.02h.01M126.95 97.12h.01M126.95 97.25h.01M119.74 97.51h.01"/>
<path class="m d" d="M119.74 88h.01"/>
<path class="m" d="M107.08 78.5h.01"/>
<path class="b d" d="M126.95 97.21h.01M120.12 95.94h.01M126.95 94.86h.01M126.95 89.01h.01M126.95 90.29h.01M121.7 99.94h.01"/>
<path class="m" d="M103.22 81.85h.01"/>
<path class="b d" d="M126.95 83.71h.01M126.68 93.27h.01M123.39 91.09h.01M119.74 94.93h.01M119.74 104.35h.01M126.95 96.85h.01M119.74 94.98h.01M126.95 89.22h.01M124.15 98.93h.01M119.74 95.34h.01"/>
<path class="m" d="M105.96 82.98h.01"/>
<path class="b d" d="M119.74 98.56h.01M119.74 97.31h.01M122.93 94.49h.01M126.95 94h.01M119.74 92.39h.01"/>
<path class="b" d="M106.33 77.06h.01"/>
<path class="b d" d="M126.95 97.46h.01"/>
<path class="m d" d="M126.95 91.17h.01"/>
<path class="b d" d="M126.95 91.27h.01"/>
<path class="m d" d="M126.95 98.41h.01"/>
<path class="b d" d="M123.25 99.25h.01M119.74 96.01h.01"/>
<path class="m d" d="M122.9 85.87h.01"/>
<path class="b d" d="M122.59 95.5h.01M119.74 98.11h.01M126.95 91.09h.01M119.74 92.78h.01M119.74 96.39h.01"/>
<path class="m d" d="M119.74 86.72h.01M121.77 87.77h.01"/>
<path class="b d" d="M119.74 93.09h.01"/>
<path class="m d" d="M126.95 86.23h.01"/>
<path class="b d" d="M126.95 91.33h.01"/>
<path class="m" d="M108.61 83.67h.01"/>
<path class="b" d="M104.2 83.29h.01"/>
<path class="b d" d="M122.71 88.09h.01M119.74 93.26h.01M121.81 89.94h.01M126.95 88.31h.01"/>
<path class="m" d="M105.35 85.01h.01"/>
<path class="b d" d="M126.95 87.22h.01M119.76 92.51h.01"/>
<path class="m d" d="M123.27 89.39h.01"/>
<path class="b d" d="M119.74 94.65h.01"/>
<path class="m d" d="M119.74 93.79h.01"/>
<path class="b d" d="M121.22 91.94h.01"/>
<path class="m d" d="M119.74 92.62h.01M119.74 91.14h.01"/>
<path class="b d" d="M126.95 90.4h.01M126.95 94.04h.01M122.15 86.64h.01"/>
<path class="m d" d="M120.34 86.45h.01"/>
<path class="b d" d="M124.71 99.79h.01M119.74 89.19h.01M126.95 96.72h.01M119.74 96.14h.01M124.32 96.09h.01M124.36 97.91h.01"/>
<path class="b" d="M106.33 75.51h.01"/>
<path class="b d" d="M119.74 95.4h.01M119.74 89.6h.01M119.74 98.41h.01M126.95 98.66h.01"/>
<path class="m d" d="M119.74 85.3h.01"/>
<path class="b d" d="M126.95 89.26h.01"/>
<path class="m d" d="M126.27 88.42h.01M126.95 90.04h.01"/>
<path class="b d" d="M119.74 84.55h.01M125.32 104.35h.01M122.33 89.06h.01M119.74 87.6h.01M122.31 91.32h.01M126.95 90.12h.01M121.07 94.13h.01M126.22 94.19h.01M119.74 94.19h.01M119.74 98.19h.01M123.01 92.05h.01M126.95 93.57h.01M126.95 97.72h.01M121.37 104.35h.01M126.95 92.87h.01M126.95 93.92h.01M126.95 89.98h.01M119.74 95.81h.01M122.29 85.06h.01M119.74 96.41h.01M122.36 104.35h.01M119.74 86.35h.01M119.74 90.15h.01M126.95 86.12h.01M123.35 104.35h.01"/>
<path class="m d" d="M119.74 86.32h.01"/>
<path class="m" d="M108.19 78.19h.01M105.42 80.18h.01"/>
<path class="m d" d="M119.74 85.54h.01M121.23 86.89h.01M126.26 85.7h.01"/>
<path class="b d" d="M124.33 104.35h.01"/>
<path class="m d" d="M128.76 78.09h.01M131.39 78.64h.01M132.36 80.68h.01M128.76 93.07h.01M128.76 82.15h.01M135.97 92.27h.01M135.97 81.66h.01M135.97 89.99h.01M135.97 92.24h.01M132.36 92.81h.01M131.43 86.95h.01M128.76 85.18h.01M133.99 84.41h.01M128.76 90.31h.01M130.32 92.9h.01M132.36 89.42h.01M129.28 87.12h.01M135.97 84.41h.01"/>
<path class="m" d="M114.11 78.58h.01"/>
<path class="b d" d="M128.76 92.78h.01M128.76 93.66h.01M129.66 99.77h.01"/>
<path class="m d" d="M135.34 88.55h.01"/>
<path class="m" d="M114.11 75.82h.01M113.36 79.87h.01"/>
<path class="m d" d="M133.31 82.57h.01M128.76 89.19h.01M135.97 83.91h.01M134.39 85.4h.01M133.29 85.77h.01M133.31 81.28h.01M135.97 90.34h.01M128.76 84.53h.01M130.35 79.85h.01M130.5 85.49h.01M135.97 85.77h.01M131.88 91.67h.01"/>
<path class="b d" d="M135.97 95.37h.01"/>
<path class="m d" d="M128.76 92.96h.01M135.97 92.18h.01M135.38 91.61h.01M135.97 96.03h.01M133.06 79.93h.01M135.03 89.54h.01M128.76 91.18h.01M128.76 81.75h.01"/>
<path class="b" d="M115.17 106h.01"/>
<path class="m d" d="M128.76 91.98h.01"/>
<path class="b d" d="M128.76 94.72h.01M128.76 92.73h.01M132.91 95.83h.01M128.76 93.41h.01M129.04 95.66h.01"/>
<path class="m d" d="M128.76 84.93h.01M135.97 88.5h.01"/>
<path class="b d" d="M128.76 96.03h.01"/>
<path class="m d" d="M134.56 77h.01M131.55 88.83h.01"/>
<path class="b d" d="M128.76 94.04h.01M135.97 100.8h.01M128.76 98.64h.01M128.76 100.72h.01"/>
<path class="m d" d="M133.47 89.12h.01"/>
<path class="b d" d="M135.97 100.08h.01"/>
<path class="m d" d="M134.15 89.95h.01M129.81 89.64h.01"/>
<path class="b d" d="M131.12 99.51h.01M135.97 96.76h.01M135.97 99.65h.01M135.97 95.15h.01"/>
<path class="m d" d="M132.36 78.83h.01"/>
<path class="b d" d="M131.48 100.48h.01"/>
<path class="m d" d="M130.05 81.03h.01M135.97 90.69h.01"/>
<path class="b d" d="M128.76 94.21h.01"/>
<path class="m d" d="M129.64 86.12h.01"/>
<path class="b d" d="M128.76 94.26h.01"/>
<path class="m d" d="M129.79 82.37h.01M135.97 80.96h.01"/>
<path class="b d" d="M135.97 94.03h.01M135.97 95.65h.01M128.76 92.18h.01"/>
<path class="m" d="M112.96 74.58h.01"/>
<path class="m d" d="M135.38 85.31h.01"/>
<path class="b d" d="M128.76 94.84h.01"/>
<path class="m d" d="M129.13 81.59h.01M129.51 91.21h.01M133.78 79.26h.01"/>
<path class="b d" d="M128.76 94.62h.01M128.76 91.02h.01M128.76 91.35h.01"/>
<path class="m d" d="M128.76 90.89h.01"/>
<path class="b d" d="M128.76 91h.01M128.76 92.8h.01"/>
<path class="m d" d="M129.56 88.32h.01M134.65 79.75h.01"/>
<path class="b d" d="M135.97 96.05h.01M135.61 98.78h.01M135.97 95.72h.01"/>
<path class="m d" d="M131.11 91.04h.01M128.76 90.09h.01"/>
<path class="b" d="M114.11 107.54h.01"/>
<path class="b d" d="M128.76 95.32h.01M128.76 99.01h.01M128.76 97.89h.01"/>
<path class="m d" d="M135.97 91.07h.01"/>
<path class="b d" d="M135.97 95.6h.01M135.97 95.39h.01"/>
<path class="m" d="M113.97 76.97h.01"/>
<path class="b d" d="M128.76 95.79h.01M132.89 98.59h.01M133.75 95.33h.01M135.97 92.51h.01M135.97 98.44h.01M135.97 100.63h.01M135.97 94.84h.01M132.36 100.94h.01"/>
<path class="m d" d="M135.23 87.49h.01M135.97 85.51h.01M129.65 84.96h.01"/>
<path class="b d" d="M128.76 96.06h.01"/>
<path class="m d" d="M134.86 82.57h.01M130.21 77.17h.01"/>
<path class="b d" d="M135.97 91.94h.01M135.97 94h.01M135.97 92.24h.01"/>
<path class="m d" d="M131.74 90.24h.01M131.46 82.47h.01"/>
<path class="b d" d="M128.76 91.35h.01"/>
<path class="m d" d="M135.7 82.02h.01"/>
<path class="b d" d="M128.76 95.32h.01"/>
<path class="m d" d="M133.28 86.84h.01M130.54 86.54h.01"/>
<path class="b d" d="M135.97 89.36h.01"/>
<path class="m d" d="M135.97 82.18h.01M135.97 93.67h.01"/>
<path class="b d" d="M128.76 95.33h.01M128.76 96.78h.01"/>
<path class="m d" d="M135.97 87.86h.01"/>
<path class="b d" d="M128.76 97.35h.01M128.76 99.21h.01"/>
<path class="m d" d="M131.4 85.9h.01"/>
<path class="b d" d="M128.76 96.12h.01M129.66 93.69h.01M135.97 97.31h.01M128.76 95.59h.01"/>
<path class="m d" d="M128.76 94.74h.01"/>
<path class="b d" d="M128.76 91.15h.01M130.37 91.72h.01M135.97 92.45h.01M135.09 94.14h.01M130.48 101.4h.01M133.96 98.64h.01M128.76 97.25h.01M135.97 93.27h.01M135.97 94.96h.01"/>
<path class="m d" d="M132.15 85.11h.01"/>
<path class="b d" d="M132.41 88.33h.01M128.76 95.6h.01M135.97 96.72h.01M135.97 95.35h.01"/>
<path class="m d" d="M132.36 82.88h.01"/>
<path class="m" d="M112.28 79.47h.01"/>
<path class="b d" d="M135.97 94.97h.01"/>
<path class="m" d="M115.95 77.55h.01"/>
<path class="b d" d="M128.76 91.54h.01M135.97 97.81h.01"/>
<path class="m d" d="M128.76 85.71h.01M134.85 81.29h.01"/>
<path class="b d" d="M135.97 91.35h.01M134.68 95.09h.01"/>
<path class="m d" d="M134.36 88.68h.01M130.19 87.52h.01"/>
<path class="b d" d="M134.81 98.16h.01M132.17 97.89h.01M135.2 101.15h.01M135.97 98.29h.01"/>
<path class="m d" d="M135.97 88.95h.01"/>
<path class="b d" d="M131.5 94.37h.01M130.41 94.9h.01"/>
<path class="m" d="M113.53 69.92h.01M115.37 79.54h.01"/>
<path class="m d" d="M128.76 85.63h.01"/>
<path class="b d" d="M135.97 96.7h.01"/>
<path class="m d" d="M135.97 88.93h.01"/>
<path class="b d" d="M130.66 97.42h.01"/>
<path class="m d" d="M128.76 83.91h.01"/>
<path class="b d" d="M128.76 95.79h.01M135.97 96.42h.01M128.76 95.3h.01"/>
<path class="m d" d="M132.81 91.88h.01"/>
<path class="b d" d="M129.49 94.73h.01M128.76 100.14h.01"/>
<path class="m d" d="M128.76 92.01h.01M135.97 91.4h.01"/>
<path class="b d" d="M128.76 94.54h.01"/>
<path class="m d" d="M135.97 90.95h.01M132.36 86.13h.01M128.76 80.98h.01M135.97 88.18h.01"/>
<path class="b d" d="M135.97 93.74h.01"/>
<path class="m d" d="M135.97 85.18h.01M134.41 78.46h.01M128.76 86.93h.01"/>
<path class="b d" d="M128.76 92.98h.01"/>
<path class="m d" d="M128.76 88.98h.01"/>
<path class="b d" d="M133.41 99.5h.01"/>
<path class="m d" d="M135.97 86.07h.01"/>
<path class="b d" d="M128.76 93.59h.01M135.97 89.54h.01"/>
<path class="m d" d="M135.97 81.15h.01"/>
<path class="b d" d="M128.76 95.37h.01"/>
<path class="m" d="M112.17 77.41h.01"/>
<path class="m d" d="M128.76 88.55h.01M129.07 90.28h.01M128.76 91.87h.01"/>
<path class="b d" d="M128.76 95.45h.01M129.86 97.98h.01"/>
<path class="m d" d="M135.97 77.59h.01"/>
<path class="m" d="M114.81 77.72h.01"/>
<path class="b d" d="M128.76 92.45h.01M135.97 92.97h.01M128.76 98.42h.01"/>
<path class="m d" d="M134.17 86.42h.01"/>
<path class="b d" d="M128.76 92.74h.01M128.76 90.41h.01M135.97 97.92h.01M128.76 90.92h.01M135.97 94.09h.01"/>
<path class="m d" d="M135.09 92.66h.01M135.16 86.37h.01"/>
<path class="b d" d="M128.76 97.12h.01M128.76 96.72h.01"/>
<path class="m d" d="M129.46 79.39h.01"/>
<path class="b d" d="M135.97 99.37h.01M135.97 92.47h.01"/>
<path class="m" d="M111.87 73.07h.01"/>
<path class="m d" d="M128.76 79.75h.01"/>
<path class="b d" d="M134.43 91.87h.01"/>
<path class="m d" d="M128.76 82.19h.01"/>
<path class="b d" d="M128.76 93.16h.01M128.76 95.52h.01M128.76 96.4h.01M128.76 92.93h.01"/>
<path class="m d" d="M134.3 83.42h.01"/>
<path class="b d" d="M128.76 97.98h.01M135.97 94.46h.01M135.97 93.81h.01M129.82 96.88h.01M135.97 96.3h.01"/>
<path class="m d" d="M132.22 77.8h.01"/>
<path class="b d" d="M130 95.85h.01"/>
<path class="m d" d="M133.17 78.23h.01M135.97 86h.01M128.76 77.63h.01M128.76 90.95h.01M130.41 78.56h.01M135.97 89.03h.01M135.97 86h.01M133.33 87.95h.01M135.97 79.59h.01M128.76 86h.01M135.97 85.23h.01M130.45 88.78h.01M135.54 83.52h.01"/>
<path class="m" d="M114.11 70.86h.01"/>
<path class="b d" d="M135.97 97.41h.01M128.76 93.23h.01M135.97 94.52h.01M128.76 97.68h.01M128.76 93.07h.01M128.76 96.78h.01"/>
<path class="m" d="M117.08 77.29h.01"/>
<path class="b d" d="M128.76 99.02h.01"/>
<path class="m d" d="M135.95 84.47h.01"/>
<path class="b d" d="M128.77 96.66h.01M132.57 96.95h.01"/>
<path class="m d" d="M128.76 85.84h.01"/>
<path class="b d" d="M128.76 92.23h.01M135.97 92.97h.01"/>
<path class="m d" d="M135.45 80.46h.01"/>
<path class="b d" d="M135.97 95.36h.01"/>
<path class="m d" d="M135.97 80.36h.01M128.76 87.86h.01"/>
<path class="b d" d="M128.76 94.52h.01M128.76 95.09h.01M135.97 95.46h.01M128.76 94.92h.01M128.76 97.43h.01M135.97 96.72h.01M128.76 91.84h.01M135.97 91.15h.01M128.76 94.74h.01M135.97 95.72h.01M132.22 95.09h.01M135.79 93.41h.01M128.76 98.14h.01"/>
<path class="m d" d="M135.97 95.29h.01"/>
<path class="b d" d="M135.97 91.2h.01M135.97 98.77h.01"/>
<path class="m d" d="M133.61 77.3h.01"/>
<path class="b d" d="M135.97 95.15h.01"/>
<path class="m d" d="M131.1 80.52h.01"/>
<path class="b d" d="M135.97 98.58h.01M128.76 96.26h.01M135.97 96.6h.01M128.76 93.79h.01M133.27 100.53h.01M135.97 92.98h.01M134.33 93.33h.01M130.86 96.36h.01M128.76 90.85h.01M128.76 94.1h.01M128.76 96.75h.01"/>
<path class="b" d="M113.03 106.01h.01"/>
<path class="b d" d="M135.97 95.32h.01M128.76 96.02h.01"/>
<path class="m d" d="M130.44 83.15h.01"/>
<path class="b d" d="M128.76 100.01h.01M135.97 95.95h.01M128.76 98.26h.01"/>
<path class="m d" d="M131.62 81.41h.01"/>
<path class="b d" d="M134.02 94.32h.01"/>
<path class="m d" d="M129.48 78.2h.01"/>
<path class="b d" d="M135.97 94.73h.01M135.97 94.79h.01M135.97 92.18h.01M128.76 95.7h.01"/>
<path class="m d" d="M135.97 86.82h.01M128.76 89.03h.01M134.25 87.56h.01"/>
<path class="b d" d="M128.76 93.77h.01M134.31 97.26h.01M134.37 96.15h.01M135.97 95.3h.01"/>
<path class="m d" d="M134.96 84.37h.01"/>
<path class="b d" d="M128.76 94.77h.01"/>
<path class="m d" d="M135.54 79.29h.01"/>
<path class="b d" d="M135.97 98.44h.01"/>
<path class="m" d="M114.11 73.58h.01"/>
<path class="b d" d="M130.28 90.55h.01M135.97 99.02h.01M135.97 97.35h.01"/>
<path class="m d" d="M132.51 81.85h.01"/>
<path class="b d" d="M128.76 95.72h.01M129.24 98.84h.01M135.78 94.89h.01M135.97 89.69h.01M135.97 96.5h.01M135.97 96.08h.01M131.26 95.4h.01"/>
<path class="m d" d="M128.76 89.56h.01"/>
<path class="m" d="M114.66 69.91h.01"/>
<path class="m d" d="M131.08 87.92h.01"/>
<path class="b d" d="M131.59 97.06h.01M128.76 95.27h.01M128.76 94.1h.01M135.97 92.78h.01M135.36 100.12h.01M128.76 97.21h.01M135.97 94.77h.01M128.76 94.09h.01M135.97 94.73h.01M128.76 88.46h.01M131.53 93.33h.01"/>
<path class="m d" d="M128.76 79.62h.01M131.85 79.79h.01"/>
<path class="b d" d="M135.97 93.96h.01"/>
<path class="m" d="M112.96 73.46h.01M113.08 78.08h.01"/>
<path class="m d" d="M128.76 86.67h.01"/>
<path class="b d" d="M133.57 91.22h.01"/>
<path class="m d" d="M134.08 81.94h.01M135.33 78.1h.01"/>
<path class="b d" d="M128.76 93.17h.01M133.2 90.12h.01M128.76 98.88h.01M135.97 93.38h.01M128.76 93.6h.01"/>
<path class="m d" d="M128.76 95.46h.01"/>
<path class="b d" d="M128.76 96.03h.01M135.97 97.11h.01M135.97 96.42h.01M135.97 94.11h.01M128.76 94.03h.01"/>
<path class="m d" d="M135.97 91.81h.01"/>
<path class="b d" d="M135.97 95.62h.01M128.76 92.21h.01M135.97 97.18h.01"/>
<path class="m d" d="M131.28 84.61h.01"/>
<path class="b d" d="M135.97 98.12h.01M132.36 99.85h.01"/>
<path class="m d" d="M132.2 84.07h.01"/>
<path class="m" d="M114.46 80.21h.01"/>
<path class="b d" d="M135.97 95h.01M135.97 93.06h.01M135.97 93.23h.01M135.97 94.74h.01M135.97 96.26h.01M128.76 95.16h.01"/>
<path class="m d" d="M133.03 84.64h.01"/>
<path class="b d" d="M135.97 94.66h.01M128.76 94.19h.01M133.08 94.57h.01M128.76 95.55h.01M135.97 96.66h.01M135.97 89.06h.01M135.97 93.8h.01"/>
<path class="m d" d="M130.36 84.24h.01"/>
<path class="b d" d="M135.97 94.23h.01M135.97 95.73h.01M128.76 96.65h.01M134.19 100.15h.01M135.97 90.42h.01"/>
<path class="m d" d="M130.89 89.71h.01"/>
<path class="b d" d="M135.97 95.73h.01M135.97 98.88h.01"/>
<path class="m d" d="M135.97 81.25h.01"/>
<path class="b d" d="M135.97 94.87h.01M135.97 96.72h.01M135.97 95.7h.01M128.76 90.85h.01M128.76 96.32h.01M135.97 92.74h.01M128.76 98.37h.01M128.76 98.51h.01M128.76 97.05h.01M128.76 96.15h.01M128.92 97.69h.01M135.97 94.63h.01"/>
<path class="m d" d="M135.97 91.01h.01"/>
<path class="b d" d="M128.76 95.98h.01"/>
<path class="m d" d="M135.97 82.88h.01M135.97 81.98h.01"/>
<path class="b d" d="M128.76 91.07h.01"/>
<path class="m d" d="M128.76 90.02h.01"/>
<path class="b d" d="M128.76 93.73h.01M135.97 92h.01M128.76 92.04h.01M128.76 93.07h.01M128.76 96.72h.01"/>
<path class="m d" d="M135.97 85.24h.01"/>
<path class="b d" d="M128.76 92.55h.01M135.97 98.75h.01"/>
<path class="m d" d="M128.76 85.24h.01"/>
<path class="b d" d="M135.97 95.83h.01"/>
<path class="m d" d="M133.08 83.6h.01"/>
<path class="b d" d="M135.97 90.89h.01M135.97 91.08h.01"/>
<path class="m d" d="M131.08 77.66h.01"/>
<path class="b d" d="M131.99 96.1h.01"/>
<path class="m d" d="M129.51 83.73h.01"/>
<path class="b d" d="M128.76 95.67h.01M128.76 91.8h.01M132.36 93.89h.01M135.97 92.87h.01M135.97 95.63h.01M128.76 93.87h.01M130.63 93.89h.01M135.97 99.14h.01"/>
<path class="m d" d="M128.76 81.55h.01"/>
<path class="m" d="M114.11 65.56h.01"/>
<path class="b d" d="M131.15 92.37h.01M135.97 96.13h.01M128.86 93.08h.01M129.52 92.31h.01M135.97 93.23h.01M135.97 98.45h.01"/>
<path class="m d" d="M131.35 83.54h.01"/>
<path class="b d" d="M128.76 95.29h.01M128.76 98.47h.01M135.97 94.94h.01M135.97 89.82h.01M128.76 95.16h.01M135.97 97.32h.01M135.97 94.24h.01M132.51 90.87h.01M128.76 92.74h.01M133.51 96.66h.01"/>
<path class="m d" d="M135.97 89.52h.01"/>
<path class="b d" d="M135.97 95.32h.01M128.76 90.92h.01M135.97 93.18h.01M135.97 93h.01M135.97 90.06h.01M128.76 94.69h.01M134.64 90.85h.01"/>
<path class="m d" d="M128.76 80.12h.01"/>
<path class="b d" d="M128.76 95.35h.01"/>
<path class="m d" d="M135.97 86.96h.01"/>
<path class="b d" d="M128.76 94.13h.01M128.76 86.04h.01"/>
<path class="m d" d="M128.76 83.6h.01"/>
<path class="b d" d="M135.97 95.53h.01M135.97 93.66h.01M135.97 91.5h.01M135.97 93.83h.01M135.97 94.29h.01"/>
<path class="m d" d="M130.66 81.85h.01M135.97 80.26h.01"/>
<path class="b d" d="M135.97 90.42h.01"/>
<path class="m d" d="M135.97 91.5h.01"/>
<path class="b d" d="M128.76 94.99h.01"/>
<path class="m" d="M115.25 73.4h.01"/>
<path class="b d" d="M128.76 99.7h.01M135.97 99.24h.01M135.97 95.57h.01M128.76 97.68h.01M128.76 89.62h.01"/>
<path class="m d" d="M128.76 89.92h.01"/>
<path class="b d" d="M128.76 96.59h.01M128.76 92.07h.01"/>
<path class="m d" d="M135.97 90.92h.01"/>
<path class="b d" d="M135.54 90.42h.01"/>
<path class="m d" d="M128.92 89.25h.01"/>
<path class="b d" d="M135.97 96.56h.01"/>
<path class="m d" d="M128.76 83.12h.01M129.23 80.45h.01"/>
<path class="b d" d="M135.97 92.87h.01M135.97 93.73h.01M134.74 99.28h.01"/>
<path class="m" d="M114.11 74.7h.01"/>
<path class="b d" d="M128.76 97.33h.01M128.76 92.78h.01M131.15 98.32h.01M128.76 100.85h.01M128.76 92.44h.01M128.76 94.93h.01M133.28 93.49h.01M128.76 95.16h.01M128.76 95.09h.01M135.97 95.3h.01M128.76 91.72h.01"/>
<path class="m d" d="M128.76 81.16h.01"/>
<path class="b d" d="M135.88 97.78h.01"/>
<path class="m d" d="M135.97 79.63h.01M133.66 92.53h.01"/>
<path class="b d" d="M135.37 95.83h.01M134.25 101.42h.01"/>
<path class="b" d="M114.11 106.42h.01"/>
<path class="b d" d="M135.23 96.86h.01M135.97 91.2h.01M128.76 90.78h.01M128.76 93.84h.01M135.97 92.87h.01M135.97 92.44h.01M135.97 98.31h.01M131.95 98.91h.01M128.76 98.77h.01M128.76 95.76h.01M133.43 97.72h.01M135.97 97.21h.01M128.76 94.56h.01M130.5 100.32h.01M135.97 94.53h.01M130.33 98.89h.01M128.76 99.17h.01M128.76 99.4h.01M135.97 92.25h.01M128.76 96.55h.01M135.97 92.51h.01M135.97 97.35h.01"/>
<path class="m d" d="M128.76 89.34h.01M128.76 79.65h.01M135.97 77.99h.01M133.97 80.51h.01M132.36 87.25h.01M128.76 77.57h.01"/>
<path class="b d" d="M129.63 100.88h.01"/>
<path class="m d" d="M142.32 100.52h.01M144.99 93.68h.01M144.99 91.29h.01M137.77 90.2h.01M143.65 101.26h.01M137.77 93.29h.01M144.78 88.89h.01M137.77 88.35h.01M141.04 85.44h.01"/>
<path class="m" d="M120.74 77.47h.01"/>
<path class="m d" d="M140.7 81.89h.01M137.77 89.32h.01M144.99 86.33h.01M144.99 88.89h.01M137.77 84h.01M142.23 78.24h.01M137.77 85.27h.01M144.99 84.59h.01M144.99 85.27h.01"/>
<path class="b d" d="M137.77 98.35h.01M137.77 96.96h.01M138.29 102.4h.01"/>
<path class="m d" d="M144.99 98.55h.01M141.19 79.97h.01M137.77 84.5h.01M144.99 95.94h.01M144.99 82.65h.01M144.99 89.34h.01M141 78.71h.01M144.99 98.05h.01M143.55 81.75h.01M140.13 88.38h.01M144.99 83.91h.01M140.07 85.25h.01M137.77 89.34h.01M144.99 87.36h.01M144.21 85.86h.01"/>
<path class="b d" d="M137.77 94.35h.01"/>
<path class="m d" d="M137.77 91.66h.01M143.22 90.74h.01M138.79 85.98h.01M143.19 80.25h.01M144.17 82.69h.01M144.99 88.51h.01M137.77 86.38h.01M137.77 96.03h.01"/>
<path class="b d" d="M144.99 95.31h.01"/>
<path class="m d" d="M141.45 88.57h.01"/>
<path class="b d" d="M144.99 96.73h.01M142.6 84.21h.01M144.99 91.08h.01M137.77 93.92h.01M144.99 96.02h.01"/>
<path class="m d" d="M144.99 92.87h.01M137.77 84.36h.01"/>
<path class="b d" d="M144.99 94.73h.01"/>
<path class="m d" d="M137.77 88.35h.01M137.93 85.47h.01"/>
<path class="b d" d="M141.84 94.98h.01M140.23 102.69h.01M144.99 100.38h.01M144.99 89.59h.01"/>
<path class="m d" d="M142.51 86.81h.01"/>
<path class="b d" d="M137.77 98.38h.01"/>
<path class="m d" d="M137.77 82.36h.01M144.99 82.45h.01"/>
<path class="b d" d="M144.99 84.5h.01M137.77 93.19h.01M139.94 94.53h.01M137.77 97.78h.01"/>
<path class="m d" d="M144.99 90.11h.01"/>
<path class="b d" d="M144.59 102.39h.01"/>
<path class="m d" d="M137.77 81.96h.01M137.77 96.55h.01"/>
<path class="b d" d="M144.99 93.9h.01"/>
<path class="m d" d="M144.99 92.38h.01"/>
<path class="b" d="M120.88 110.57h.01"/>
<path class="m d" d="M141.38 98.74h.01M137.77 84.32h.01"/>
<path class="b d" d="M144.99 92.09h.01M143.65 83.83h.01M137.77 93.92h.01"/>
<path class="m d" d="M144.99 82.19h.01M140.58 83.2h.01"/>
<path class="b d" d="M144.99 92h.01"/>
<path class="m d" d="M137.77 88.87h.01M137.77 87.1h.01M137.77 85.8h.01"/>
<path class="b d" d="M137.77 85.7h.01M137.77 99.49h.01M143.4 87.26h.01"/>
<path class="m d" d="M144.99 90.94h.01"/>
<path class="b d" d="M137.77 94.87h.01M137.77 90.83h.01"/>
<path class="m d" d="M137.77 92.75h.01M144.99 84.47h.01"/>
<path class="b d" d="M137.77 96.48h.01M144.99 90.44h.01M140.42 100.71h.01"/>
<path class="m d" d="M142.64 85.29h.01M139.65 80.33h.01"/>
<path class="b d" d="M137.77 98.03h.01M144.99 83.06h.01M138.64 89.83h.01M141.32 93.79h.01"/>
<path class="m d" d="M140.89 94.81h.01"/>
<path class="b d" d="M144.99 87.09h.01M139.33 89.08h.01"/>
<path class="m d" d="M144.99 88.5h.01"/>
<path class="b d" d="M137.77 87.22h.01M137.77 95.86h.01M137.77 91.36h.01M144.99 93.32h.01M144.99 94.42h.01M144.99 97.94h.01M144.99 90.59h.01M144.99 100.81h.01"/>
<path class="m d" d="M140.7 89.22h.01M144.99 85.7h.01M137.77 88.7h.01"/>
<path class="b d" d="M144.99 102.05h.01"/>
<path class="m d" d="M137.77 92h.01M141.99 93.02h.01"/>
<path class="b d" d="M137.77 102.04h.01M137.77 94.42h.01M144.67 93.49h.01"/>
<path class="m d" d="M137.77 79.91h.01M137.77 91.07h.01"/>
<path class="b d" d="M137.77 99.39h.01"/>
<path class="m d" d="M138.96 82.23h.01"/>
<path class="b d" d="M144.99 99.98h.01"/>
<path class="m d" d="M137.77 90.76h.01M144.99 84.37h.01"/>
<path class="b d" d="M144.99 98.36h.01"/>
<path class="m d" d="M144.99 84.7h.01M139.87 82.47h.01"/>
<path class="b d" d="M144.99 91.35h.01M137.77 95.24h.01"/>
<path class="m d" d="M141.38 95.9h.01"/>
<path class="b d" d="M137.77 102.27h.01"/>
<path class="b" d="M121.88 108.68h.01"/>
<path class="m d" d="M144.99 91.58h.01"/>
<path class="b d" d="M139.93 89.91h.01M139.24 95.47h.01M144.99 96.7h.01M138.86 101.44h.01"/>
<path class="m d" d="M137.77 90.33h.01"/>
<path class="b d" d="M137.77 91.36h.01M144.77 97.68h.01M144.99 94.75h.01M137.77 92.89h.01M144.99 86.58h.01M137.77 98.09h.01M140.79 101.68h.01M141.49 96.95h.01M137.77 91.64h.01"/>
<path class="m d" d="M143.4 91.76h.01"/>
<path class="b d" d="M137.77 88.43h.01M144.99 99.3h.01M144.99 99.54h.01M137.77 90.53h.01"/>
<path class="m d" d="M137.77 99.98h.01M142.35 90.32h.01"/>
<path class="b d" d="M144.99 87.75h.01"/>
<path class="m d" d="M144.99 88.26h.01"/>
<path class="b d" d="M141.57 90.96h.01"/>
<path class="b" d="M121.88 111.12h.01"/>
<path class="m d" d="M144.99 90.42h.01M144.8 83.64h.01"/>
<path class="b d" d="M144.99 94.14h.01M139.28 102.42h.01"/>
<path class="m d" d="M140.68 86.41h.01M141.38 100.84h.01"/>
<path class="b d" d="M144.63 101.09h.01M139.49 98.41h.01M144.99 100.84h.01M137.77 92.57h.01"/>
<path class="m d" d="M139.2 88h.01"/>
<path class="b d" d="M137.77 87.36h.01M141.76 101.85h.01"/>
<path class="m d" d="M137.77 83.05h.01M137.77 82.34h.01M138.06 83.09h.01"/>
<path class="b d" d="M144.25 100.1h.01"/>
<path class="m d" d="M144.99 88.48h.01"/>
<path class="b d" d="M144.29 96.19h.01"/>
<path class="m d" d="M144.99 90.36h.01"/>
<path class="b d" d="M144.99 95.95h.01M137.77 90.22h.01M137.77 97.98h.01"/>
<path class="m d" d="M137.77 78.18h.01"/>
<path class="b d" d="M140.35 93.58h.01M140.59 96.58h.01"/>
<path class="m" d="M120.93 79.04h.01"/>
<path class="m d" d="M144.99 88.76h.01"/>
<path class="b d" d="M137.77 95.26h.01"/>
<path class="m d" d="M144.99 81.75h.01M137.77 92.22h.01M144.99 83.94h.01M143.25 86.13h.01"/>
<path class="b d" d="M144.99 88.11h.01"/>
<path class="m d" d="M140.11 90.94h.01M139.19 83.24h.01"/>
<path class="m" d="M123 76.1h.01"/>
<path class="b d" d="M144.99 92.29h.01"/>
<path class="m d" d="M144.99 97.24h.01"/>
<path class="b d" d="M137.77 93.89h.01"/>
<path class="m d" d="M144.99 91.83h.01"/>
<path class="b d" d="M144.99 87.21h.01M137.77 102.11h.01"/>
<path class="m d" d="M137.77 88.69h.01"/>
<path class="b d" d="M144.99 91.9h.01"/>
<path class="m d" d="M138.15 99.24h.01M144.99 88.43h.01M140.53 80.8h.01M144.99 89.72h.01"/>
<path class="b d" d="M137.77 89.52h.01M138.72 92.48h.01"/>
<path class="m d" d="M142.11 87.79h.01"/>
<path class="m" d="M120.94 71.92h.01"/>
<path class="b d" d="M137.77 101.62h.01M137.77 100.74h.01M144.99 94.32h.01"/>
<path class="m d" d="M144.99 85.93h.01"/>
<path class="b d" d="M137.77 93.46h.01M144.99 101h.01M144.99 97.74h.01M144.99 98.29h.01M141.78 84.79h.01"/>
<path class="m d" d="M137.77 86.09h.01M141.72 92.01h.01"/>
<path class="b d" d="M142.19 82.04h.01"/>
<path class="b" d="M120.74 76.18h.01"/>
<path class="m" d="M124.99 81.34h.01"/>
<path class="b d" d="M144.99 98.46h.01M141.87 85.95h.01"/>
<path class="m d" d="M142.75 81.19h.01M137.77 90.57h.01"/>
<path class="b" d="M121.88 77.63h.01"/>
<path class="m" d="M121.88 72.55h.01"/>
<path class="b d" d="M137.77 98.58h.01M144.99 97.1h.01M137.77 88.56h.01M137.77 90.38h.01"/>
<path class="m d" d="M137.77 85.66h.01"/>
<path class="b d" d="M144.99 86.87h.01M137.77 88.71h.01M137.77 100.1h.01M142.08 80.42h.01M144.99 96.17h.01"/>
<path class="m d" d="M141.61 89.64h.01"/>
<path class="b d" d="M137.77 94.75h.01"/>
<path class="m d" d="M144.99 91.22h.01M144.99 91.79h.01M137.77 92.37h.01M137.77 95.18h.01M141.86 79.2h.01M143.13 94.52h.01M137.77 84.41h.01"/>
<path class="m" d="M121.88 67.07h.01M122.95 79.25h.01"/>
<path class="m d" d="M137.77 84.61h.01M144.99 89.37h.01M137.77 84.38h.01M138.9 87.01h.01"/>
<path class="m" d="M121.88 69.86h.01"/>
<path class="b d" d="M137.77 94.21h.01M139.71 86.22h.01M137.77 93.42h.01M140.83 91.65h.01M137.77 96.78h.01M144.99 101.81h.01"/>
<path class="m d" d="M137.77 88.31h.01"/>
<path class="b d" d="M144.99 96.52h.01"/>
<path class="m d" d="M137.77 80.98h.01"/>
<path class="b d" d="M142.6 98.65h.01M144.41 98.65h.01"/>
<path class="m d" d="M142.92 92.67h.01"/>
<path class="b d" d="M137.82 90.65h.01M144.99 95.56h.01"/>
<path class="m d" d="M137.77 79.62h.01"/>
<path class="b d" d="M144.99 99.47h.01"/>
<path class="m d" d="M138.06 87.78h.01M137.77 91.79h.01"/>
<path class="b d" d="M137.77 97.86h.01M142.28 94.05h.01M144.99 89.31h.01M142.62 102.53h.01M138.42 94.89h.01M144.99 90.6h.01M137.77 95.12h.01M144.99 90.55h.01M144.99 97.59h.01M137.77 91.04h.01M137.77 100.35h.01M144.99 100.97h.01"/>
<path class="b" d="M122.61 107.84h.01"/>
<path class="m d" d="M144.99 93.7h.01"/>
<path class="b d" d="M137.77 91.59h.01M141.03 92.76h.01"/>
<path class="m d" d="M137.77 90.49h.01"/>
<path class="b d" d="M144.99 94.06h.01"/>
<path class="m d" d="M137.77 86.9h.01"/>
<path class="b d" d="M140.15 92.4h.01M137.77 95.7h.01M140.77 84.44h.01M144.99 97.01h.01M140.02 97.44h.01M137.77 100.96h.01M137.77 100.44h.01M144.02 90.14h.01M137.77 95.54h.01M139.84 101.57h.01"/>
<path class="b" d="M122.34 110.13h.01"/>
<path class="b d" d="M137.77 94.77h.01M144.99 97.84h.01M142.69 101.49h.01"/>
<path class="m d" d="M137.77 91.89h.01"/>
<path class="b d" d="M137.77 93.69h.01M137.77 97.28h.01M144.99 96.83h.01"/>
<path class="m d" d="M137.77 94.1h.01"/>
<path class="b d" d="M144.99 96.3h.01"/>
<path class="m d" d="M137.77 84.17h.01"/>
<path class="b d" d="M137.77 95.96h.01M137.77 96.28h.01M140.01 99.76h.01M144.99 94.98h.01"/>
<path class="m d" d="M137.77 85.83h.01M144.99 91.65h.01M144.99 95.29h.01"/>
<path class="b d" d="M143.74 95.32h.01M144.99 91.01h.01M144.99 95.2h.01M144.27 87.99h.01"/>
<path class="m d" d="M143.18 82.72h.01"/>
<path class="b d" d="M137.77 100.99h.01"/>
<path class="m d" d="M144.45 81.34h.01"/>
<path class="b d" d="M137.77 89.82h.01"/>
<path class="m d" d="M144.99 85.44h.01"/>
<path class="b d" d="M144.99 95.81h.01M137.77 94.06h.01M137.77 97.63h.01"/>
<path class="m d" d="M138.75 81.02h.01"/>
<path class="b d" d="M137.77 99.58h.01M143.43 98.1h.01M137.77 89.57h.01M141.11 99.84h.01M137.77 96.62h.01M144.99 100.08h.01M140.94 97.81h.01"/>
<path class="m d" d="M144.99 92.82h.01M138.29 93.49h.01M141.38 82.64h.01"/>
<path class="b d" d="M144.99 102.22h.01M144.99 94.78h.01M144.75 92.06h.01M144.99 91.23h.01M137.77 100.1h.01M137.77 91.86h.01M142.33 96.41h.01M144.99 87.16h.01M144.99 90.77h.01M137.77 91.38h.01M140.25 95.6h.01"/>
<path class="m d" d="M144.99 90.35h.01M138 81.97h.01"/>
<path class="b d" d="M144.99 92.97h.01"/>
<path class="m d" d="M140.86 90.27h.01M144.99 90.99h.01M137.77 85.1h.01"/>
<path class="b d" d="M137.77 102.32h.01"/>
<path class="m d" d="M137.77 95.44h.01M144.99 93.95h.01"/>
<path class="b d" d="M138.06 97.28h.01M137.77 98.48h.01M137.77 94.34h.01M138.74 79.92h.01M137.77 97.92h.01"/>
<path class="m d" d="M142.26 83.09h.01"/>
<path class="b d" d="M144.99 96.92h.01M144.99 96.58h.01M140.89 87.71h.01M137.77 93.99h.01M137.77 100.47h.01"/>
<path class="m d" d="M144.99 84.34h.01"/>
<path class="b d" d="M137.77 98.31h.01M137.77 97.55h.01M140.4 98.72h.01"/>
<path class="m d" d="M144.99 85.77h.01"/>
<path class="b d" d="M143.6 102.41h.01M144.99 94.36h.01"/>
<path class="m d" d="M141.53 86.92h.01M137.77 87.68h.01"/>
<path class="b d" d="M137.77 90.99h.01M138.38 91.5h.01M137.77 89.41h.01M138.63 96.32h.01M137.77 97.12h.01M137.77 92.46h.01"/>
<path class="m d" d="M138.39 88.76h.01"/>
<path class="b d" d="M142.74 97.36h.01M144.99 92.33h.01M139.08 94.12h.01M137.94 101.06h.01M144.99 91.23h.01M144.99 97.99h.01M137.77 89.63h.01"/>
<path class="m d" d="M144.99 91.43h.01"/>
<path class="b d" d="M144.99 87.52h.01M142.85 79.15h.01M137.77 90.27h.01M137.77 88.52h.01M137.77 84.52h.01"/>
<path class="m d" d="M143.61 78.48h.01"/>
<path class="b d" d="M144.99 89.4h.01M143.54 84.86h.01"/>
<path class="m d" d="M143.79 88.9h.01"/>
<path class="b d" d="M144.99 100.98h.01M137.77 87.48h.01M143.11 89.66h.01M139.13 99.38h.01M141.93 97.89h.01M137.77 91.32h.01M144.99 93.95h.01M144.99 87.45h.01M137.82 95.75h.01M139.9 83.96h.01M143.9 97.19h.01M139.61 96.43h.01"/>
<path class="m d" d="M142.35 88.99h.01"/>
<path class="b d" d="M137.77 94.24h.01"/>
<path class="m d" d="M137.77 91.81h.01M137.77 85.21h.01"/>
<path class="b d" d="M137.77 96.91h.01"/>
<path class="m d" d="M137.77 85.36h.01"/>
<path class="b d" d="M144.99 92.58h.01M137.77 95.74h.01M137.77 88.5h.01M137.77 98.29h.01M144.99 89.78h.01"/>
<path class="m d" d="M144.17 80.12h.01"/>
<path class="b d" d="M144.99 100.33h.01M144.99 93.79h.01"/>
<path class="m d" d="M144.99 95.24h.01"/>
<path class="b d" d="M137.77 85.86h.01"/>
<path class="m" d="M123.99 79.98h.01"/>
<path class="b d" d="M144.25 94.43h.01M137.77 88.07h.01"/>
<path class="m d" d="M137.77 83.93h.01"/>
<path class="b d" d="M144.99 88.31h.01"/>
<path class="m d" d="M144.99 85.18h.01"/>
<path class="b" d="M121.88 80.76h.01"/>
<path class="b d" d="M137.77 100.97h.01M137.77 95.09h.01"/>
<path class="b" d="M121.88 76.38h.01M121.88 79.67h.01"/>
<path class="b d" d="M144.99 81.5h.01M144.99 84.14h.01M138.63 78.47h.01"/>
<path class="m d" d="M141.44 81.21h.01M139.22 84.72h.01"/>
<path class="b d" d="M138.48 84.03h.01M137.77 92.99h.01M144.99 93.14h.01M144.99 91.32h.01M144.99 91.37h.01M137.77 92.31h.01"/>
<path class="m d" d="M137.77 87.53h.01"/>
<path class="b d" d="M137.77 91.44h.01M144.2 91.19h.01M137.77 82.51h.01M142.05 99.52h.01"/>
<path class="b" d="M123 80.56h.01"/>
<path class="b d" d="M138.52 98.25h.01M144.99 98.25h.01M144.99 89.34h.01M142.76 95.49h.01M137.77 95.38h.01"/>
<path class="m d" d="M137.77 94.08h.01"/>
<path class="b d" d="M144.99 88.66h.01M144.99 90.29h.01M137.77 99.4h.01M143.47 93.54h.01"/>
<path class="b" d="M120.73 108.56h.01"/>
<path class="b d" d="M143.31 96.35h.01M142.47 91.39h.01"/>
<path class="m d" d="M144.99 85.82h.01"/>
<path class="b d" d="M144.99 95.72h.01"/>
<path class="m d" d="M144.99 90.13h.01"/>
<path class="b d" d="M144.99 84.02h.01M144.99 99.29h.01"/>
<path class="m d" d="M139.19 90.69h.01"/>
<path class="b d" d="M144.99 101.61h.01M137.77 87.99h.01M144.99 87.97h.01M144.99 95.09h.01M143.94 92.63h.01"/>
<path class="m d" d="M144.99 94.27h.01M144.99 85.41h.01"/>
<path class="b d" d="M137.77 97.03h.01"/>
<path class="m d" d="M144.99 82.95h.01"/>
<path class="b d" d="M137.77 95.94h.01"/>
<path class="m d" d="M139.47 93.16h.01"/>
<path class="b d" d="M137.77 101.59h.01M144.99 99.72h.01M144.99 92.82h.01M137.77 96.68h.01M137.77 100.03h.01"/>
<path class="m d" d="M139.39 79.14h.01"/>
<path class="b d" d="M138.53 100.21h.01M143.27 100.24h.01"/>
<path class="m d" d="M137.98 86.64h.01"/>
<path class="b d" d="M139.44 100.62h.01"/>
<path class="m d" d="M144.99 88.44h.01"/>
<path class="b d" d="M144.99 94.1h.01"/>
<path class="m d" d="M137.77 90.54h.01M144.99 91.63h.01"/>
<path class="b d" d="M137.78 92.6h.01M144.99 95.56h.01M144.99 99.94h.01"/>
<path class="m d" d="M137.77 89.72h.01"/>
<path class="b d" d="M137.77 90.28h.01M137.77 91.18h.01M144.99 94.15h.01M143.61 99.26h.01M139.42 91.71h.01M144.99 98.34h.01M141.22 102.71h.01M144.99 102.27h.01M144.99 88.53h.01M144.99 87.6h.01M139.05 97.29h.01"/>
<path class="m d" d="M144.99 89.47h.01"/>
<path class="b d" d="M144.99 90.19h.01"/>
<path class="m d" d="M137.77 91.35h.01M139.64 81.46h.01"/>
<path class="b d" d="M137.77 83.8h.01M144.99 85.23h.01M137.77 84.13h.01M144.99 97.87h.01M144.99 84.31h.01M141.45 83.68h.01M144.56 78.19h.01M137.77 92.17h.01M139.99 87.28h.01M144.99 95.52h.01M144.99 95.22h.01M137.77 91.22h.01M144.49 84.63h.01M144.99 92.15h.01M143.01 88.22h.01M140.31 79.51h.01M144.99 91.83h.01M144.99 79.8h.01M144.99 80.73h.01M137.77 94.27h.01M137.77 81.49h.01M137.77 89.33h.01M140.13 78.2h.01M137.77 82.69h.01"/>
<path class="b" d="M119.66 80.26h.01"/>
<path class="m" d="M121.88 74.99h.01"/>
<path class="m d" d="M144.33 86.92h.01M144.99 90.31h.01"/>
<path class="m" d="M120.82 80.32h.01"/>
<path class="m d" d="M137.77 81.62h.01"/>
<path class="m" d="M119.78 78.95h.01"/>
<path class="b d" d="M144.99 85.84h.01"/>
<path class="m" d="M131.39 78.48h.01"/>
<path class="m d" d="M153.87 80.52h.01M146.79 81.81h.01M153.12 92.85h.01M146.79 81.87h.01M146.79 91.92h.01M151.15 81.67h.01M146.79 90.44h.01M154.01 91.34h.01M154.01 93.1h.01M152.73 87.72h.01M146.79 85.11h.01M154.01 81.98h.01M154.01 90.15h.01M154.01 90.81h.01M147.63 87.66h.01M146.79 87.8h.01M154.01 85.04h.01"/>
<path class="m" d="M127.95 78h.01"/>
<path class="b d" d="M154.01 92.68h.01M154.01 93.42h.01M150.06 99.8h.01"/>
<path class="m d" d="M154.01 87.45h.01"/>
<path class="m" d="M132.24 77.75h.01M127.44 80.11h.01"/>
<path class="m d" d="M154.01 81.83h.01M148.56 88.01h.01M147.32 84.41h.01M151.8 82.47h.01M150.65 85.44h.01M154.01 80.17h.01M150.98 88.63h.01M149.03 85.19h.01M149.88 79.98h.01M149.76 85.89h.01M146.91 85.72h.01M146.79 89.29h.01"/>
<path class="b d" d="M154.01 95.82h.01"/>
<path class="m d" d="M154.01 93.54h.01M154.01 91.12h.01M146.79 92.11h.01M146.79 95.25h.01"/>
<path class="m" d="M131.89 80.02h.01"/>
<path class="m d" d="M150.87 89.92h.01M146.79 91.49h.01M147.36 82.2h.01"/>
<path class="b" d="M128 105.83h.01"/>
<path class="m d" d="M148.92 92.04h.01"/>
<path class="b d" d="M146.79 94.7h.01M146.79 92.83h.01M154.01 96.12h.01M154.01 93.43h.01M146.79 95.98h.01"/>
<path class="m d" d="M154.01 85.39h.01M152.92 88.98h.01"/>
<path class="b d" d="M154.01 96.36h.01"/>
<path class="m d" d="M151 78.19h.01M146.79 89.39h.01"/>
<path class="b d" d="M146.79 94.63h.01M149.95 100.87h.01M146.79 98.82h.01M150.84 100.43h.01"/>
<path class="m d" d="M149.31 88.69h.01"/>
<path class="b d" d="M146.79 99.7h.01"/>
<path class="m d" d="M146.79 90.19h.01M147.39 89.61h.01"/>
<path class="b d" d="M146.79 99.41h.01M154.01 97.15h.01M154.01 99.72h.01M150.65 95.57h.01"/>
<path class="m d" d="M151.6 79.05h.01"/>
<path class="b d" d="M149.11 100.33h.01"/>
<path class="m d" d="M154.01 82h.01M151.69 90.5h.01"/>
<path class="b d" d="M146.79 94.74h.01"/>
<path class="m d" d="M146.79 86.69h.01"/>
<path class="b d" d="M154.01 94.4h.01"/>
<path class="m d" d="M148.34 82.31h.01M147.76 78.15h.01"/>
<path class="b d" d="M146.79 94.29h.01M146.79 95.8h.01M154.01 93.31h.01"/>
<path class="m" d="M130.81 72.65h.01"/>
<path class="m d" d="M154.01 84.12h.01"/>
<path class="b d" d="M154.01 95.13h.01"/>
<path class="m d" d="M154.01 81.87h.01M146.79 90.89h.01M154.01 81.73h.01"/>
<path class="b d" d="M154.01 94.38h.01M154.01 90.68h.01M146.79 92.02h.01"/>
<path class="m d" d="M154.01 91.08h.01"/>
<path class="b d" d="M146.79 91.69h.01M146.79 93.12h.01"/>
<path class="m d" d="M154.01 87.78h.01M153.03 81.07h.01"/>
<path class="b d" d="M146.79 96.3h.01M146.79 99.04h.01M146.79 96.13h.01"/>
<path class="m d" d="M154.01 90.66h.01M146.79 90.85h.01"/>
<path class="b" d="M129.65 107.3h.01"/>
<path class="b d" d="M146.79 95.79h.01M149.72 98.34h.01M154.01 97.93h.01"/>
<path class="m d" d="M146.79 91.3h.01"/>
<path class="b d" d="M153.84 95.6h.01M146.79 95.59h.01"/>
<path class="m" d="M131.24 73.71h.01"/>
<path class="b d" d="M146.79 95.92h.01M147.42 98.45h.01M154.01 94.88h.01M152.47 91.18h.01M146.79 98.26h.01M154.01 99.93h.01M149.74 95.18h.01M146.79 100.17h.01"/>
<path class="m d" d="M154.01 87.04h.01M146.79 86.38h.01M146.79 86.61h.01"/>
<path class="b d" d="M146.79 95.97h.01"/>
<path class="m d" d="M152.78 83.27h.01"/>
<path class="m" d="M126.54 79.27h.01"/>
<path class="b d" d="M146.79 92.04h.01M154.01 94.27h.01M151.38 92.56h.01"/>
<path class="m d" d="M154.01 89.9h.01M150.84 82.7h.01"/>
<path class="b d" d="M146.79 91.41h.01"/>
<path class="m d" d="M149.44 82.6h.01"/>
<path class="b d" d="M147.16 94.39h.01"/>
<path class="m d" d="M150.96 87.49h.01M154.01 86.51h.01"/>
<path class="b d" d="M146.79 89.68h.01"/>
<path class="m d" d="M153.77 83.23h.01M154.01 94.26h.01"/>
<path class="b d" d="M146.79 95.47h.01M146.79 96.75h.01"/>
<path class="m d" d="M153.6 88.21h.01"/>
<path class="b d" d="M154.01 97.45h.01M147.31 99.51h.01"/>
<path class="m d" d="M146.79 86.65h.01"/>
<path class="b d" d="M149.48 96.19h.01M154.01 93.2h.01M154.01 97.19h.01M146.79 95.45h.01"/>
<path class="m d" d="M154.01 94.28h.01"/>
<path class="b d" d="M154.01 91.16h.01M146.79 90.85h.01M146.79 93.2h.01M146.79 94.51h.01M152.66 101.25h.01M153.04 98.58h.01M153.14 97.51h.01M154.01 93.1h.01M154.01 95.38h.01"/>
<path class="m d" d="M148.12 85.85h.01"/>
<path class="b d" d="M146.79 88.44h.01M152.54 95.9h.01M154.01 97.13h.01M146.79 94.9h.01"/>
<path class="m d" d="M154.01 83.03h.01M150.4 77.2h.01"/>
<path class="b d" d="M154.01 95.22h.01"/>
<path class="m" d="M128.94 78.56h.01"/>
<path class="b d" d="M154.01 92.15h.01M154.01 98.04h.01"/>
<path class="m d" d="M146.79 86.3h.01M148.32 81.24h.01"/>
<path class="b d" d="M146.79 91.67h.01M154.01 95.3h.01"/>
<path class="m d" d="M150.15 89.2h.01M146.79 87.47h.01"/>
<path class="b d" d="M154.01 98.38h.01M146.79 98.14h.01M148.03 101.19h.01M154.01 98.16h.01"/>
<path class="m d" d="M146.79 87.78h.01"/>
<path class="b d" d="M146.79 95.05h.01M154.01 95.36h.01"/>
<path class="m" d="M129.65 70.7h.01M130.75 80.22h.01"/>
<path class="m d" d="M154.01 86.59h.01"/>
<path class="b d" d="M148.71 96.92h.01"/>
<path class="m d" d="M146.79 89.78h.01"/>
<path class="b d" d="M146.79 97.69h.01"/>
<path class="m d" d="M150.13 84.55h.01"/>
<path class="b d" d="M146.79 95.83h.01M146.79 96.82h.01M154.01 95.37h.01"/>
<path class="m d" d="M154.01 91.3h.01"/>
<path class="b d" d="M146.79 94.88h.01M151.83 100.39h.01"/>
<path class="m d" d="M146.79 92.27h.01M146.79 88.79h.01"/>
<path class="b d" d="M154.01 94.51h.01"/>
<path class="m d" d="M146.79 90.23h.01M152.67 86.63h.01M153.88 78.95h.01M154.01 88.94h.01"/>
<path class="b d" d="M146.79 94.24h.01"/>
<path class="m d" d="M148.3 84.49h.01"/>
<path class="m" d="M128.6 80.11h.01"/>
<path class="m d" d="M148.61 86.75h.01"/>
<path class="b d" d="M146.79 93.43h.01"/>
<path class="m d" d="M146.79 88.98h.01"/>
<path class="b d" d="M154.01 99.4h.01"/>
<path class="m d" d="M151.14 86.44h.01"/>
<path class="b d" d="M146.79 92.73h.01M154.01 89.8h.01"/>
<path class="m d" d="M151.32 80.62h.01"/>
<path class="b d" d="M147.19 95.66h.01"/>
<path class="m" d="M126.86 77.64h.01"/>
<path class="m d" d="M154.01 88.42h.01M154.01 89.53h.01M146.79 91.71h.01"/>
<path class="b d" d="M154.01 95.46h.01M146.79 97.68h.01"/>
<path class="m d" d="M149.54 78.15h.01"/>
<path class="m" d="M129.65 79.42h.01"/>
<path class="b d" d="M146.79 92.68h.01M154.01 92.39h.01M146.79 98.4h.01"/>
<path class="m d" d="M146.79 87.29h.01"/>
<path class="b d" d="M154.01 92.86h.01M154.01 90.48h.01M148.76 98.08h.01M154.01 89.7h.01M150.5 94.54h.01"/>
<path class="m d" d="M151.54 91.53h.01M146.79 85.72h.01"/>
<path class="b d" d="M146.79 96.77h.01M154.01 97.06h.01"/>
<path class="m d" d="M150.83 79.71h.01"/>
<path class="b d" d="M154.01 99.67h.01M154.01 92.98h.01"/>
<path class="m" d="M128.42 73.88h.01"/>
<path class="m d" d="M146.79 79.92h.01"/>
<path class="b d" d="M154.01 92.11h.01"/>
<path class="m d" d="M149.23 84.14h.01"/>
<path class="b d" d="M146.79 93.83h.01M146.79 95.94h.01M154.01 95.26h.01M146.79 93.03h.01"/>
<path class="m d" d="M150.09 83.38h.01"/>
<path class="b d" d="M154.01 98.04h.01M154.01 95.03h.01M148.04 91.59h.01M146.79 97.15h.01M154.01 96.56h.01"/>
<path class="m d" d="M149.26 79.18h.01"/>
<path class="b d" d="M154.01 96.09h.01"/>
<path class="m d" d="M152.38 80.31h.01M154.01 86.26h.01M153.13 79.63h.01M148.85 90.95h.01"/>
<path class="m" d="M126.54 79.76h.01"/>
<path class="m d" d="M154.01 88.54h.01M146.79 83.62h.01M151.87 87.21h.01M154.01 79.8h.01M150.21 86.82h.01M151.45 84.82h.01M151.69 89.35h.01M154.01 84.28h.01"/>
<path class="m" d="M128.65 72.16h.01"/>
<path class="b d" d="M146.79 97.09h.01M146.79 93.1h.01M154.01 94.83h.01M154.01 97.45h.01M154.01 93.76h.01M146.79 97.09h.01"/>
<path class="m" d="M128.51 76.05h.01"/>
<path class="b d" d="M146.79 99.19h.01"/>
<path class="m d" d="M154.01 85.39h.01"/>
<path class="b d" d="M146.79 96.85h.01M149.63 97.28h.01"/>
<path class="m d" d="M154.01 86.65h.01"/>
<path class="b d" d="M146.79 92.84h.01M146.79 92.96h.01"/>
<path class="m d" d="M146.79 80.31h.01"/>
<path class="b d" d="M154.01 95.77h.01"/>
<path class="m d" d="M146.79 81.83h.01M154.01 87.08h.01"/>
<path class="b d" d="M146.79 94.24h.01M154.01 95.59h.01M154.01 94.23h.01M154.01 95.21h.01M154.01 97.09h.01M154.01 96.88h.01M154.01 92.27h.01M147.46 90.75h.01M154.01 94.92h.01M154.01 95.84h.01M153 94.98h.01M149.81 93.82h.01M153.99 98.3h.01"/>
<path class="m d" d="M154.01 95.69h.01"/>
<path class="b d" d="M149.73 91.43h.01M154.01 98.77h.01"/>
<path class="m d" d="M146.79 77.98h.01"/>
<path class="b d" d="M146.79 95.06h.01"/>
<path class="m d" d="M149.04 80.52h.01"/>
<path class="b d" d="M146.79 98.64h.01M154.01 96.18h.01M146.79 96.45h.01M146.79 94.27h.01M147.17 100.67h.01M154.01 93.55h.01M154.01 93.86h.01M146.79 96.55h.01M153.41 91.86h.01M154.01 94.26h.01M153.32 96.48h.01"/>
<path class="b" d="M130.02 105.96h.01"/>
<path class="b d" d="M154.01 95.81h.01M146.79 96.41h.01"/>
<path class="m d" d="M146.79 84.2h.01"/>
<path class="b d" d="M146.79 99.08h.01M154.01 96.37h.01M151.43 98.48h.01"/>
<path class="m d" d="M153.1 82.29h.01"/>
<path class="b d" d="M146.79 94.1h.01"/>
<path class="m d" d="M153.29 77.98h.01"/>
<path class="b d" d="M154.01 94.45h.01M146.79 94.95h.01M154.01 92.95h.01M148.02 96.17h.01"/>
<path class="m d" d="M154.01 86.49h.01M146.79 89.8h.01M154.01 87.62h.01"/>
<path class="b d" d="M146.79 92.78h.01M151.43 97.37h.01M146.79 96.31h.01M154.01 95.8h.01"/>
<path class="m d" d="M151.89 83.73h.01"/>
<path class="b d" d="M146.79 95.22h.01"/>
<path class="m d" d="M148.16 80.04h.01"/>
<path class="b d" d="M146.79 98.39h.01"/>
<path class="m" d="M129.23 74.65h.01"/>
<path class="b d" d="M149.97 90.27h.01M146.79 98.54h.01M154.01 96.79h.01"/>
<path class="m d" d="M147.45 80.76h.01"/>
<path class="b d" d="M146.79 95.88h.01M146.79 98.61h.01M154.01 95.39h.01M146.79 89.7h.01M146.79 96.8h.01M146.79 96.1h.01M146.79 95.99h.01"/>
<path class="m d" d="M147.08 88.63h.01"/>
<path class="m" d="M129.65 68.87h.01"/>
<path class="m d" d="M151.9 88.26h.01"/>
<path class="b d" d="M154.01 96.81h.01M146.79 94.88h.01M146.79 93.81h.01M149 93.29h.01M146.79 99.77h.01M154.01 97.6h.01M151.68 95.33h.01M146.79 94.07h.01M146.79 95.13h.01M148.38 89.08h.01M148.2 93.9h.01"/>
<path class="m d" d="M154.01 80.02h.01M154.01 80.27h.01"/>
<path class="b d" d="M152.99 93.89h.01"/>
<path class="m" d="M130.18 75.28h.01M129.65 76.24h.01"/>
<path class="m d" d="M146.79 86.59h.01"/>
<path class="b d" d="M154.01 91.69h.01"/>
<path class="m d" d="M146.79 81.9h.01M150.25 78.87h.01"/>
<path class="b d" d="M154.01 92.79h.01M152.51 89.92h.01M146.79 97.45h.01M146.79 93.21h.01M146.79 93.04h.01"/>
<path class="m d" d="M154.01 94.32h.01"/>
<path class="b d" d="M154.01 95.72h.01M154.01 96.79h.01M146.79 95.22h.01M154.01 93.6h.01M154.01 93.32h.01"/>
<path class="m d" d="M146.79 92.17h.01"/>
<path class="b d" d="M146.79 95.16h.01M154.01 92.69h.01M147.26 96.79h.01"/>
<path class="m d" d="M146.79 83.97h.01"/>
<path class="b d" d="M146.79 98.13h.01M148.17 100.03h.01"/>
<path class="m d" d="M154.01 83.95h.01M154.01 77.8h.01"/>
<path class="b d" d="M154.01 95.02h.01M152.09 93.36h.01M150.58 93.17h.01M153.9 94.53h.01M146.79 96.57h.01M148.77 95.5h.01"/>
<path class="m d" d="M146.79 82.41h.01"/>
<path class="b d" d="M146.79 95.16h.01M147.38 93.38h.01M154.01 94.74h.01M154.01 95.89h.01M154.01 96.17h.01M154.01 89.35h.01M146.79 94.34h.01"/>
<path class="m d" d="M152.43 84.78h.01"/>
<path class="b d" d="M154.01 94.88h.01M146.79 95.69h.01M154.01 96.75h.01M153.54 99.49h.01M146.79 90.52h.01"/>
<path class="m d" d="M154.01 90.54h.01"/>
<path class="b d" d="M146.79 95.69h.01M154.01 99.06h.01"/>
<path class="m d" d="M150.4 80.87h.01"/>
<path class="b d" d="M146.79 95.06h.01M146.79 96.89h.01M154.01 95.41h.01M149.16 89.72h.01M154.01 96.34h.01M147.31 92.33h.01M154.01 98.43h.01M154.01 98.81h.01M154.01 96.45h.01M154.01 95.98h.01M154.01 97.9h.01M154.01 94.91h.01"/>
<path class="m d" d="M149.39 87.39h.01"/>
<path class="b d" d="M154.01 94.76h.01"/>
<path class="m d" d="M146.79 83.15h.01M148.65 83.3h.01"/>
<path class="b d" d="M154.01 92.15h.01"/>
<path class="m d" d="M154.01 89.76h.01"/>
<path class="b d" d="M154.01 93.62h.01M146.79 92.37h.01M154.01 92.43h.01M146.79 93.33h.01M146.79 94.65h.01"/>
<path class="m d" d="M151.96 85.87h.01"/>
<path class="b d" d="M146.79 93.05h.01M154.01 98.93h.01"/>
<path class="m d" d="M153.22 85.77h.01"/>
<path class="b d" d="M146.79 95.81h.01"/>
<path class="m d" d="M147.67 83.27h.01"/>
<path class="b d" d="M154.01 91.41h.01M150.71 90.95h.01"/>
<path class="m d" d="M152.48 78.58h.01"/>
<path class="b d" d="M154.01 96.01h.01"/>
<path class="m d" d="M153.36 84.43h.01"/>
<path class="b d" d="M146.79 95.69h.01M150.56 91.98h.01M146.79 94.34h.01M146.79 93.3h.01M146.79 95.49h.01M152.14 94.41h.01M149.03 94.46h.01M154.01 99.2h.01"/>
<path class="m d" d="M154.01 81.9h.01"/>
<path class="m" d="M129.65 64.17h.01"/>
<path class="b d" d="M154.01 92.54h.01M146.79 96.18h.01M146.79 93.63h.01M146.79 89.53h.01M154.01 92.43h.01M154.01 98.57h.01"/>
<path class="m d" d="M154.01 83.65h.01"/>
<path class="b d" d="M154.01 95.06h.01M154.01 98.61h.01M154.01 95.25h.01M154.01 90.15h.01M154.01 95.69h.01M150.4 96.58h.01M146.79 94.02h.01M148.25 90.13h.01M154.01 92.37h.01M151.36 96.32h.01"/>
<path class="m d" d="M150.14 88.07h.01"/>
<path class="b d" d="M146.79 94.92h.01M154.01 91.71h.01M146.79 93.66h.01M153.88 93.49h.01M146.79 90.05h.01M146.79 93.07h.01M146.79 91.38h.01"/>
<path class="m d" d="M149.27 81.52h.01"/>
<path class="b d" d="M146.79 95.38h.01"/>
<path class="m d" d="M154.01 87h.01"/>
<path class="b d" d="M154.01 94.11h.01M146.79 87.04h.01"/>
<path class="m d" d="M146.79 83.69h.01"/>
<path class="b d" d="M146.79 96.07h.01M146.79 93.59h.01M154.01 91.82h.01M146.79 93.59h.01M154.01 94.1h.01"/>
<path class="m d" d="M154.01 83.07h.01M147.29 79.61h.01"/>
<path class="b d" d="M146.79 90.62h.01"/>
<path class="m d" d="M154.01 91.38h.01"/>
<path class="b d" d="M146.79 95.36h.01"/>
<path class="m" d="M129.65 72.7h.01"/>
<path class="b d" d="M148.27 98.99h.01M146.79 98.9h.01M146.79 95.68h.01M147.92 97.54h.01M153.29 90.6h.01"/>
<path class="m d" d="M154.01 88.98h.01"/>
<path class="b d" d="M154.01 96.48h.01M152.3 92.27h.01"/>
<path class="m d" d="M154.01 89.88h.01"/>
<path class="b d" d="M146.79 90.87h.01"/>
<path class="m d" d="M154.01 89.78h.01"/>
<path class="b d" d="M152.32 96.91h.01"/>
<path class="m d" d="M150.93 83.93h.01M146.79 80.17h.01"/>
<path class="b d" d="M148.17 92.76h.01M151.27 93.93h.01M149.23 99.24h.01"/>
<path class="m" d="M130.11 73.94h.01"/>
<path class="b d" d="M146.79 97.48h.01M146.79 92.74h.01M146.79 97.91h.01M152.8 100.17h.01M146.79 92.23h.01M146.79 95.25h.01M154.01 93.75h.01M154.01 95.31h.01M147.93 94.98h.01M154.01 95.3h.01M146.79 92.29h.01"/>
<path class="m d" d="M150.19 81.92h.01"/>
<path class="b d" d="M146.79 97.47h.01"/>
<path class="m d" d="M146.79 80.23h.01M154.01 91.73h.01"/>
<path class="b d" d="M154.01 95.48h.01"/>
<path class="b" d="M131.17 105.85h.01M128.97 106.42h.01"/>
<path class="b d" d="M154.01 96.99h.01M146.79 89.84h.01M146.79 91.1h.01M146.79 94.17h.01M154.01 92.79h.01M154.01 93.12h.01M154.01 98.56h.01M146.79 98.57h.01M154.01 98.98h.01M154.01 95.93h.01M152.25 97.95h.01M146.79 97.19h.01M146.79 95.07h.01M154.01 100.26h.01M146.79 94.92h.01M150.53 98.88h.01M152.27 99.23h.01M151.32 99.52h.01M154.01 91.41h.01M154.01 96.27h.01M149.77 92.58h.01M150.52 97.73h.01"/>
<path class="m d" d="M147.22 86.71h.01"/>
<path class="m" d="M132.76 79.66h.01"/>
<path class="m d" d="M148.31 79.01h.01M152.07 81.3h.01M153.54 87.12h.01"/>
<path class="m" d="M130.23 78.48h.01"/>
<path class="b d" d="M153.62 101.03h.01"/>
<path class="m d" d="M158.44 77.3h.01M156.85 78.06h.01M160.37 81.06h.01M163.02 94.93h.01M161.66 82.69h.01M160.35 92.81h.01M155.81 82.31h.01M163.02 90.93h.01M155.81 92.84h.01M155.81 93.18h.01M159.52 87.85h.01M163.02 86.04h.01M157.47 85.64h.01M156.58 91.17h.01M155.81 93.35h.01M163.02 90.36h.01M155.81 88h.01M155.81 85.85h.01"/>
<path class="m" d="M138.47 75.85h.01"/>
<path class="b d" d="M163.02 93.18h.01M155.81 94.16h.01M160.64 98h.01"/>
<path class="m d" d="M159.7 89.91h.01"/>
<path class="m" d="M138.19 73.1h.01M137.22 78.17h.01"/>
<path class="m d" d="M163.02 84.07h.01M159.42 90.93h.01M159.42 84.78h.01M155.81 86.41h.01M163.02 86.92h.01M159.49 81.54h.01M155.81 91.03h.01M160.9 85.5h.01M160.39 79.8h.01M158.03 86.5h.01M163.02 86.89h.01M158.91 92.11h.01"/>
<path class="b d" d="M155.81 95.19h.01"/>
<path class="m d" d="M163.02 93.33h.01M155.81 92.83h.01M155.81 92.25h.01M163.02 95.58h.01M163.02 81.77h.01M155.81 90.8h.01M163.02 92.82h.01M159.42 82.79h.01"/>
<path class="b d" d="M161.16 98.88h.01"/>
<path class="m d" d="M155.81 92.6h.01"/>
<path class="b d" d="M156.08 94.74h.01M163.02 93.33h.01M155.81 95.55h.01M163.02 93.84h.01M163.02 95.42h.01"/>
<path class="m d" d="M155.81 85.77h.01M155.81 89.31h.01"/>
<path class="b d" d="M155.81 95.67h.01"/>
<path class="m" d="M137.89 79.06h.01"/>
<path class="m d" d="M160.83 89.85h.01"/>
<path class="b d" d="M163.02 94.24h.01M155.81 98.48h.01M163.02 97.34h.01M163.02 98.5h.01"/>
<path class="m d" d="M158.74 90.17h.01"/>
<path class="b d" d="M158.42 98.06h.01"/>
<path class="m d" d="M155.81 91.03h.01M163.02 90.58h.01"/>
<path class="b d" d="M163.02 97.81h.01M163.02 96.15h.01M161.62 97.88h.01M155.81 95.08h.01"/>
<path class="m d" d="M159.42 79.15h.01"/>
<path class="b d" d="M155.81 98.37h.01"/>
<path class="m d" d="M155.81 81.4h.01M163.02 91.95h.01"/>
<path class="b d" d="M155.81 94.4h.01"/>
<path class="m d" d="M163.02 86.97h.01"/>
<path class="b d" d="M155.81 94.47h.01"/>
<path class="m d" d="M160.23 82.26h.01M158.67 82.11h.01"/>
<path class="b d" d="M155.81 94.27h.01M155.81 95.44h.01M158.05 94.35h.01"/>
<path class="m" d="M137.28 73.77h.01"/>
<path class="m d" d="M162.73 86.05h.01"/>
<path class="b d" d="M163.02 94.92h.01"/>
<path class="m d" d="M163.02 82.35h.01M163.02 92h.01M163.02 82.11h.01"/>
<path class="b d" d="M155.81 94.84h.01M156.06 92.06h.01M163.02 92.06h.01"/>
<path class="m d" d="M163.02 91.73h.01"/>
<path class="b d" d="M155.81 91.73h.01M155.81 93.33h.01"/>
<path class="m d" d="M156.06 89.37h.01M163.02 80.56h.01"/>
<path class="b d" d="M163.02 95.81h.01M155.81 97.38h.01M160.46 95.6h.01"/>
<path class="m d" d="M163.02 91.78h.01M161.33 90.81h.01"/>
<path class="b" d="M137.43 103.9h.01"/>
<path class="b d" d="M155.81 95.17h.01M155.81 97.43h.01M155.81 96.93h.01"/>
<path class="m d" d="M155.81 91.77h.01"/>
<path class="b d" d="M155.81 95.48h.01M163.02 95.21h.01"/>
<path class="m" d="M137.43 76.33h.01"/>
<path class="b d" d="M163.02 95.53h.01M155.81 97.36h.01M155.81 95.42h.01M155.81 93.21h.01M155.81 97.27h.01M163.02 98.37h.01M155.81 94.74h.01M155.81 98.54h.01"/>
<path class="m d" d="M161.92 88.52h.01M163.02 86.37h.01M155.81 86.5h.01"/>
<path class="b d" d="M163.02 95.62h.01"/>
<path class="m d" d="M162.65 83h.01"/>
<path class="m" d="M134.32 79.97h.01"/>
<path class="b d" d="M163.02 92.77h.01M163.02 94.14h.01M163.02 93h.01"/>
<path class="m d" d="M163.02 91.51h.01M160.77 83.14h.01"/>
<path class="b d" d="M163.02 92.56h.01"/>
<path class="m d" d="M157.45 82.52h.01"/>
<path class="b d" d="M163.02 95.2h.01"/>
<path class="m d" d="M155.81 87.78h.01M157.83 87.55h.01"/>
<path class="b d" d="M163.02 90.61h.01"/>
<path class="m d" d="M155.81 82.51h.01M155.81 93.88h.01"/>
<path class="b d" d="M155.81 95.18h.01M155.81 96.21h.01"/>
<path class="m d" d="M156.83 90.02h.01"/>
<path class="b d" d="M156.04 96.55h.01M162.58 97.66h.01"/>
<path class="m d" d="M159.77 86.84h.01"/>
<path class="b d" d="M155.81 95.71h.01M155.81 94h.01M163.02 96.46h.01M163.02 95.63h.01"/>
<path class="m d" d="M155.81 94.63h.01"/>
<path class="b d" d="M163.02 91.99h.01M155.81 92.51h.01M159.42 93h.01M163.02 94.33h.01M162.14 98.79h.01M163.02 97.2h.01M155.81 96.47h.01M161 93.59h.01M155.81 94.97h.01"/>
<path class="m d" d="M163.02 86.01h.01"/>
<path class="b d" d="M163.02 89.29h.01M155.81 95.35h.01M155.81 96.11h.01M155.81 95.22h.01"/>
<path class="m d" d="M157.28 83.66h.01"/>
<path class="m" d="M136.08 77.96h.01"/>
<path class="b d" d="M155.81 95.1h.01"/>
<path class="m" d="M139.62 75.79h.01"/>
<path class="b d" d="M163.02 92.32h.01M163.02 96.79h.01"/>
<path class="m d" d="M160.71 86.52h.01M155.81 81.66h.01"/>
<path class="b d" d="M162.76 92.18h.01M155.81 95.15h.01"/>
<path class="m d" d="M155.81 89.75h.01M156.5 88.44h.01"/>
<path class="b d" d="M163.02 97.01h.01M161.94 96.86h.01M156.61 98.67h.01M155.81 97.08h.01"/>
<path class="m d" d="M161.82 89.9h.01"/>
<path class="b d" d="M163.02 94.43h.01M157.2 94.89h.01"/>
<path class="m" d="M136.82 65.48h.01M137.01 79.77h.01"/>
<path class="m d" d="M163.02 86.41h.01"/>
<path class="b d" d="M155.81 96.15h.01"/>
<path class="m d" d="M163.02 90h.01"/>
<path class="b d" d="M155.81 96.51h.01"/>
<path class="m d" d="M162.88 84.69h.01"/>
<path class="b d" d="M163.02 95.49h.01M163.02 95.88h.01M163.02 95.18h.01"/>
<path class="m d" d="M157.06 92.56h.01"/>
<path class="b d" d="M163.02 94.78h.01M163.02 98.13h.01"/>
<path class="m d" d="M155.81 92.48h.01M163.02 92.29h.01"/>
<path class="b d" d="M163.02 94.53h.01"/>
<path class="m d" d="M155.81 92.02h.01M155.81 86.9h.01M163.02 81.32h.01M159.03 89.14h.01"/>
<path class="b d" d="M155.81 94.07h.01"/>
<path class="m d" d="M155.81 86.77h.01M155.93 77.7h.01M163.02 87.82h.01"/>
<path class="b d" d="M155.81 93.59h.01"/>
<path class="m d" d="M163.02 89.8h.01"/>
<path class="b d" d="M155.81 97.79h.01"/>
<path class="m d" d="M156.93 87.12h.01"/>
<path class="b d" d="M163.02 94.06h.01M155.81 90.49h.01"/>
<path class="m d" d="M155.81 81.71h.01"/>
<path class="b d" d="M163.02 95.19h.01"/>
<path class="m" d="M136.31 74.57h.01"/>
<path class="m d" d="M158.05 89.42h.01M155.81 91.97h.01M155.81 92.71h.01"/>
<path class="b d" d="M163.02 95.37h.01M163.02 96.92h.01"/>
<path class="m d" d="M159.42 77.42h.01"/>
<path class="m" d="M137.43 74.85h.01"/>
<path class="b d" d="M163.02 93.24h.01M155.81 93.48h.01M155.81 97.26h.01"/>
<path class="m d" d="M157.44 88.61h.01"/>
<path class="b d" d="M163.02 93.21h.01M158.41 91.21h.01M155.81 97.02h.01M163.02 92h.01M163.02 94.24h.01"/>
<path class="m d" d="M163.02 93.25h.01M161.44 87.38h.01"/>
<path class="b d" d="M155.81 96.33h.01M155.81 96.1h.01"/>
<path class="m d" d="M162.15 79.08h.01"/>
<path class="b d" d="M163.02 97.74h.01M162.36 93.13h.01"/>
<path class="m" d="M136.39 68.93h.01"/>
<path class="m d" d="M163.02 80.56h.01"/>
<path class="b d" d="M163.02 92.54h.01"/>
<path class="m d" d="M157.01 84.72h.01"/>
<path class="b d" d="M163.02 93.52h.01M158.6 95.22h.01M163.02 96.08h.01M155.81 93.25h.01"/>
<path class="m d" d="M160.39 84.61h.01"/>
<path class="b d" d="M163.02 96.93h.01M155.81 94.51h.01M161.91 94.06h.01M155.81 96.29h.01M163.02 95.85h.01"/>
<path class="m d" d="M160.4 77.4h.01"/>
<path class="b d" d="M155.81 95.64h.01"/>
<path class="m d" d="M158.8 78.34h.01M155.95 86.98h.01M162.02 77.87h.01M163.02 91.79h.01M160.12 78.43h.01M155.81 90.54h.01M155.81 86.93h.01M155.81 89.25h.01M156.64 79.42h.01M162.37 87.03h.01M159.09 86.09h.01M162.75 89.81h.01M158 84.38h.01"/>
<path class="m" d="M137.43 62.74h.01"/>
<path class="b d" d="M162.88 96.66h.01M163.02 93.79h.01M155.81 94.56h.01M156.99 96.84h.01M155.81 93.51h.01M155.81 96.26h.01"/>
<path class="m" d="M136.32 76.03h.01"/>
<path class="b d" d="M163.02 97.51h.01"/>
<path class="m d" d="M160 85.79h.01"/>
<path class="b d" d="M155.81 96.08h.01M155.81 96.26h.01"/>
<path class="m d" d="M163.02 86.81h.01"/>
<path class="b d" d="M163.02 92.84h.01M163.02 93.68h.01"/>
<path class="m d" d="M158.73 80.88h.01"/>
<path class="b d" d="M155.81 95.34h.01"/>
<path class="m d" d="M156.57 82.05h.01M163.02 89.3h.01"/>
<path class="b d" d="M160.7 94.59h.01M163.02 94.97h.01M163.02 95.19h.01M155.81 94.81h.01M155.81 96.51h.01M158.41 96.24h.01M163.02 92.5h.01M155.81 91.98h.01M155.81 94.71h.01M163.02 95.53h.01M163.02 95.1h.01M155.81 93.79h.01M163.02 97.06h.01"/>
<path class="m d" d="M155.81 95.1h.01"/>
<path class="b d" d="M155.81 91.86h.01M163.02 97.42h.01"/>
<path class="m" d="M139.59 80.22h.01"/>
<path class="b d" d="M163.02 95.13h.01"/>
<path class="m d" d="M155.81 81.22h.01"/>
<path class="b d" d="M163.02 97.26h.01M162.25 95.87h.01M163.02 96.03h.01M155.81 94.09h.01M163.02 98.35h.01M158.49 93.33h.01M155.81 93.65h.01M155.81 95.95h.01M155.81 91.61h.01M163.02 94.31h.01M163.02 96.14h.01M160.17 98.91h.01M163.02 95.21h.01M163.02 95.59h.01"/>
<path class="m d" d="M162 83.78h.01"/>
<path class="b d" d="M163.02 98.21h.01M163.02 95.56h.01M155.81 97.08h.01"/>
<path class="m d" d="M163.02 81.69h.01"/>
<path class="b d" d="M155.81 94.54h.01"/>
<path class="m d" d="M157.82 78.28h.01"/>
<path class="b d" d="M163.02 94.74h.01M162.53 94.84h.01M163.02 92.71h.01M155.81 95.46h.01"/>
<path class="m d" d="M158.6 88.2h.01M155.81 89.98h.01M159.97 88.82h.01"/>
<path class="b d" d="M163.02 94.12h.01M163.02 96.52h.01M155.81 95.84h.01M155.81 95.21h.01"/>
<path class="m d" d="M162.06 85.28h.01"/>
<path class="b d" d="M163.02 94.83h.01"/>
<path class="m d" d="M155.81 79.07h.01"/>
<path class="b d" d="M157.93 97.16h.01"/>
<path class="m" d="M137.43 69.41h.01"/>
<path class="b d" d="M155.81 91.35h.01M163.02 97.53h.01M155.81 96.48h.01"/>
<path class="m d" d="M156.44 83.11h.01"/>
<path class="b d" d="M163.02 95.55h.01M155.81 97.48h.01M163.02 94.99h.01M163.02 91.12h.01M155.81 96.04h.01M155.81 95.79h.01M163.02 95.23h.01"/>
<path class="m d" d="M155.81 90.7h.01"/>
<path class="m" d="M137.95 65.25h.01"/>
<path class="m d" d="M155.81 89.07h.01"/>
<path class="b d" d="M163.02 96.31h.01M163.02 95.17h.01M163.02 94.64h.01M155.81 93.39h.01M155.81 98.15h.01M163.02 96.48h.01M163.02 94.71h.01M155.81 94.28h.01M155.81 94.78h.01M163.02 89.56h.01M163.02 93.76h.01"/>
<path class="m d" d="M159.48 80.2h.01M157.85 81.52h.01"/>
<path class="b d" d="M155.81 94.23h.01"/>
<path class="m" d="M137.43 66.41h.01M138.37 78.02h.01"/>
<path class="m d" d="M160.5 87.67h.01"/>
<path class="b d" d="M159.87 91.87h.01"/>
<path class="m d" d="M158.21 83.18h.01M161.08 78.18h.01"/>
<path class="b d" d="M155.81 93.68h.01M155.81 91.36h.01M159.77 97.55h.01M163.02 93.55h.01M155.81 93.84h.01"/>
<path class="m d" d="M155.81 95.65h.01"/>
<path class="b d" d="M163.02 96.04h.01M155.81 96.39h.01M157.48 95.89h.01M163.02 94.53h.01M163.02 94.25h.01"/>
<path class="m d" d="M161.32 92.61h.01"/>
<path class="b d" d="M155.81 95.39h.01M155.81 92.77h.01M163.02 96.36h.01"/>
<path class="m d" d="M163.02 85.87h.01"/>
<path class="b d" d="M161 97.03h.01M155.81 97.97h.01"/>
<path class="m d" d="M158.43 85.31h.01"/>
<path class="m" d="M134.32 79.87h.01"/>
<path class="b d" d="M163.02 95.03h.01M163.02 93.51h.01M155.81 93.62h.01M163.02 94.64h.01M163.02 95.79h.01M155.81 95h.01"/>
<path class="m d" d="M155.81 85.98h.01"/>
<path class="b d" d="M155.81 94.66h.01M163.02 94.27h.01M155.81 94.77h.01M163.02 95.35h.01M163.02 96.08h.01M163.02 90.31h.01M156.73 93.98h.01"/>
<path class="m d" d="M155.9 85.43h.01"/>
<path class="b d" d="M155.81 94.41h.01M155.81 95.49h.01M163.02 96.1h.01M163.02 98.17h.01M155.81 91.29h.01"/>
<path class="m d" d="M163.02 90.51h.01"/>
<path class="b d" d="M163.02 95.47h.01M163.02 97.46h.01"/>
<path class="m d" d="M162.29 80.59h.01"/>
<path class="b d" d="M159.72 94.94h.01M163.02 96.26h.01M155.81 95.5h.01M155.81 91.99h.01M161.32 96.04h.01M155.81 93.21h.01M155.81 97.2h.01M163.02 97.25h.01M163.02 96.47h.01M155.81 95.88h.01M155.81 96.71h.01M155.81 94.69h.01"/>
<path class="m d" d="M160.83 91.71h.01"/>
<path class="b d" d="M155.81 95.56h.01"/>
<path class="m d" d="M158.96 83.86h.01M155.81 82.35h.01"/>
<path class="b d" d="M155.81 92.38h.01"/>
<path class="m d" d="M163.02 91.26h.01"/>
<path class="b d" d="M159.03 94.21h.01M163.02 92.71h.01M155.81 92.72h.01M155.81 93.45h.01M155.81 96.04h.01"/>
<path class="m d" d="M161.65 86.22h.01"/>
<path class="b d" d="M155.81 93.24h.01M163.02 97.37h.01"/>
<path class="m d" d="M156.64 86.13h.01"/>
<path class="b d" d="M155.81 95.58h.01"/>
<path class="m d" d="M155.81 84.37h.01"/>
<path class="b d" d="M155.81 91.75h.01M163.02 91.73h.01"/>
<path class="m d" d="M157.48 77.26h.01"/>
<path class="b d" d="M156.55 95.66h.01"/>
<path class="m d" d="M161.34 84.56h.01"/>
<path class="b d" d="M163.02 95.46h.01M155.81 92.71h.01M163.02 94.13h.01M155.81 93.25h.01M155.81 95.41h.01M163.02 94.13h.01M163.02 94.19h.01M155.81 97.57h.01"/>
<path class="m d" d="M155.81 81.8h.01"/>
<path class="m" d="M137.43 52.32h.01"/>
<path class="b d" d="M155.81 92.9h.01M155.81 95.81h.01M163.02 93.47h.01M155.81 92.91h.01M163.02 93.45h.01M155.81 97.2h.01"/>
<path class="m d" d="M163.02 84.37h.01"/>
<path class="b d" d="M163.02 95.41h.01M163.02 97.14h.01M155.81 94.93h.01M162.32 90.81h.01M161.56 95.03h.01M160.09 96.56h.01M163.02 94.46h.01M161.86 91.76h.01M156.21 93.09h.01M163.02 96.14h.01"/>
<path class="m d" d="M155.92 90.41h.01"/>
<path class="b d" d="M155.81 95.17h.01M163.02 91.73h.01M155.81 93.8h.01M163.02 93.48h.01M155.81 91.44h.01M163.02 94.77h.01M163.02 91.73h.01"/>
<path class="m d" d="M157.27 80.68h.01"/>
<path class="b d" d="M163.02 95.14h.01"/>
<path class="m d" d="M160.94 88.65h.01"/>
<path class="b d" d="M155.81 94.26h.01M158.82 87.12h.01"/>
<path class="m d" d="M155.81 84.5h.01"/>
<path class="b d" d="M163.02 95.34h.01M163.02 93.95h.01M155.81 92.3h.01M155.81 94.12h.01M163.02 94.44h.01"/>
<path class="m d" d="M163.02 82.39h.01M156.31 80.44h.01"/>
<path class="b d" d="M163.02 91.41h.01"/>
<path class="m d" d="M163.02 92.25h.01"/>
<path class="b d" d="M155.81 95.12h.01"/>
<path class="m" d="M137.43 70.98h.01"/>
<path class="b d" d="M155.81 98.18h.01M163.02 97.84h.01M155.81 95.56h.01M163.02 96.83h.01M157.66 90.55h.01"/>
<path class="m d" d="M160.39 90.77h.01"/>
<path class="b d" d="M155.81 96.07h.01M163.02 92.59h.01"/>
<path class="m d" d="M157.45 91.56h.01"/>
<path class="b d" d="M163.02 91.35h.01"/>
<path class="m d" d="M155.81 90.08h.01"/>
<path class="b d" d="M163.02 96.01h.01"/>
<path class="m d" d="M159.93 83.69h.01M161.11 81.83h.01"/>
<path class="b d" d="M163.02 93.63h.01M155.81 94.24h.01M157.19 97.85h.01"/>
<path class="m" d="M136.86 72.76h.01"/>
<path class="b d" d="M155.81 96.53h.01M163.02 93.3h.01M163.02 97.25h.01M159.32 98.47h.01M163.02 93.08h.01M155.81 94.96h.01M159.97 93.89h.01M155.81 95.14h.01M163.02 95.11h.01M163.02 95.13h.01M158.01 92.43h.01"/>
<path class="m d" d="M162.23 81.84h.01"/>
<path class="b d" d="M155.81 96.87h.01"/>
<path class="m d" d="M158.55 79.85h.01M155.81 92.97h.01"/>
<path class="b d" d="M159.34 95.9h.01M157.59 98.81h.01M158.53 99.11h.01M163.02 96.26h.01M155.81 92h.01M155.81 91.78h.01M155.81 94.17h.01M157.55 93.46h.01M163.02 92.96h.01M158.9 97.15h.01M155.81 97.48h.01M155.81 97.4h.01M163.02 95.68h.01M155.81 96.81h.01M163.02 96.52h.01M163.02 94.6h.01M155.81 98.23h.01M163.02 94.59h.01M163.02 97.48h.01M156.24 97.6h.01M155.81 97.81h.01M163.02 92.91h.01M163.02 96.06h.01M163.02 93.24h.01M163.02 96.48h.01"/>
<path class="m d" d="M163.02 90.71h.01M161.37 79.72h.01M162.78 77.2h.01M161.33 80.79h.01M162.85 88.17h.01M157.59 79.7h.01"/>
<path class="b d" d="M163.02 98.56h.01"/>
<path class="m d" d="M167.27 82.09h.01M170.05 93.72h.01M165.88 87.48h.01"/>
<path class="m" d="M145.2 70.61h.01"/>
<path class="m d" d="M171.09 89.6h.01"/>
<path class="m" d="M142.09 80.32h.01"/>
<path class="m d" d="M172.04 87.54h.01M166.91 81.12h.01M172.04 79.63h.01"/>
<path class="m" d="M146.36 78.36h.01"/>
<path class="m d" d="M164.83 95.45h.01M172.04 88.93h.01M164.83 99.81h.01M168.66 96.96h.01M164.83 81.21h.01M167.67 80.39h.01M164.83 86.87h.01"/>
<path class="m" d="M148.31 80.38h.01"/>
<path class="m d" d="M164.83 85.42h.01"/>
<path class="b d" d="M164.83 87.6h.01M172.04 91.48h.01M164.83 91.12h.01"/>
<path class="m d" d="M164.83 89.12h.01M172.04 88.78h.01"/>
<path class="m" d="M145.2 79.87h.01"/>
<path class="m d" d="M166.91 84.42h.01M171.96 85.03h.01M171.03 90.69h.01M164.83 81.51h.01M172.04 93.21h.01M167.61 86.06h.01M172.04 81.63h.01M165.34 81.72h.01M166.77 85.51h.01M172.04 87.42h.01M164.83 83.88h.01M164.83 87.42h.01"/>
<path class="b d" d="M169.61 101.84h.01"/>
<path class="m d" d="M164.83 102.79h.01M168.19 82.45h.01M164.83 98.08h.01"/>
<path class="m" d="M144.12 76.59h.01"/>
<path class="m d" d="M164.83 93.45h.01M172.04 84.88h.01M172.04 85.69h.01M169.88 80.36h.01"/>
<path class="b d" d="M172.04 91.93h.01"/>
<path class="m" d="M142.09 80.47h.01"/>
<path class="b d" d="M164.84 85.97h.01M164.83 96.02h.01M164.83 98.36h.01M168.43 98.23h.01M172.04 96.57h.01"/>
<path class="m d" d="M165.04 92.45h.01M172.04 89.15h.01"/>
<path class="b d" d="M172.04 93.39h.01"/>
<path class="m d" d="M166.28 82.03h.01M164.83 89.78h.01"/>
<path class="b d" d="M168.43 100.29h.01M170.15 78.73h.01M164.83 92.6h.01M169.92 81.57h.01"/>
<path class="m d" d="M164.83 81.54h.01"/>
<path class="b d" d="M165.95 101.43h.01"/>
<path class="m" d="M144.04 78.42h.01"/>
<path class="m d" d="M168.16 81.3h.01"/>
<path class="b d" d="M172.04 84.33h.01M164.83 92.15h.01M172.04 86.33h.01M172.04 91.96h.01"/>
<path class="m d" d="M172.04 95.08h.01"/>
<path class="b d" d="M164.83 94.66h.01"/>
<path class="m d" d="M171.29 83.21h.01M164.83 88.48h.01"/>
<path class="b d" d="M171.18 95.6h.01"/>
<path class="m d" d="M172.04 85.78h.01"/>
<path class="b d" d="M167.44 87.27h.01"/>
<path class="m d" d="M172.04 86.45h.01M164.83 81.57h.01"/>
<path class="b d" d="M164.83 92.18h.01M169.49 84.06h.01M172.04 84.69h.01"/>
<path class="m d" d="M170.36 83.57h.01M172.04 89.06h.01"/>
<path class="b d" d="M172.04 89.51h.01"/>
<path class="m d" d="M172.04 88.87h.01M165.86 91.66h.01M172.04 93.39h.01"/>
<path class="b d" d="M167.73 91.72h.01M164.83 92.54h.01M167.79 97.45h.01"/>
<path class="m d" d="M172.04 93.15h.01"/>
<path class="b d" d="M164.83 100.75h.01M165.58 90.66h.01"/>
<path class="m d" d="M164.83 84.24h.01M164.84 95.17h.01"/>
<path class="b d" d="M164.83 96.69h.01M172.04 91.36h.01M164.83 87.87h.01"/>
<path class="m d" d="M172.04 87.87h.01M172.04 92.9h.01"/>
<path class="b d" d="M167.08 83.24h.01M172.04 97.2h.01M172.04 84h.01M172.04 94.3h.01"/>
<path class="m" d="M147.47 78.07h.01"/>
<path class="b d" d="M166.76 80.09h.01M168.33 95.36h.01"/>
<path class="m d" d="M165.85 79.69h.01"/>
<path class="b d" d="M170.68 79.76h.01M172.04 86.78h.01M168.57 92.24h.01"/>
<path class="b" d="M142.86 108.64h.01"/>
<path class="b d" d="M169.48 91.84h.01M167.94 79h.01M172.04 85.78h.01M172.04 95.51h.01"/>
<path class="m" d="M148.31 77.56h.01M142.89 78.29h.01"/>
<path class="m d" d="M164.83 98.75h.01"/>
<path class="b d" d="M164.83 84.33h.01"/>
<path class="m d" d="M164.83 85.69h.01M168.51 79.85h.01"/>
<path class="b d" d="M171.84 91.45h.01M164.83 100.17h.01M164.83 96.17h.01"/>
<path class="m d" d="M166.64 86.66h.01M171.26 100.29h.01"/>
<path class="b d" d="M172.04 89.24h.01"/>
<path class="m d" d="M164.83 92.6h.01"/>
<path class="b d" d="M172.04 88h.01"/>
<path class="m d" d="M171.18 84.39h.01M164.83 88.96h.01"/>
<path class="b d" d="M164.83 94.18h.01"/>
<path class="m d" d="M172.04 86.84h.01M172.04 88.24h.01"/>
<path class="b d" d="M172.04 92.72h.01M164.83 95.17h.01"/>
<path class="m d" d="M172.04 88.48h.01"/>
<path class="b d" d="M172.04 89.81h.01M172.04 93.84h.01"/>
<path class="m d" d="M164.83 91.42h.01"/>
<path class="b d" d="M172.04 88.42h.01M164.83 91.48h.01M166.15 98.63h.01M164.83 88.09h.01"/>
<path class="m d" d="M164.83 89.27h.01"/>
<path class="b d" d="M172.04 101.02h.01M172.04 91.36h.01M166.87 101.81h.01M164.83 91.93h.01M169 81.85h.01M166.81 92.08h.01M172.04 90.6h.01M164.83 86.45h.01M171.33 94.36h.01"/>
<path class="m d" d="M164.83 88.27h.01"/>
<path class="b" d="M145.06 109.19h.01"/>
<path class="b d" d="M172.04 92.6h.01M164.83 95.75h.01M170.22 90.09h.01"/>
<path class="m d" d="M164.83 97.17h.01M172.04 87.66h.01"/>
<path class="b d" d="M164.83 87.24h.01"/>
<path class="m d" d="M172.04 94.02h.01"/>
<path class="b d" d="M166.57 99.57h.01M170.84 87.72h.01"/>
<path class="m d" d="M166.71 95.84h.01M172.04 89.54h.01"/>
<path class="b d" d="M164.83 94.39h.01M172.04 89.27h.01"/>
<path class="m d" d="M164.83 88.78h.01M172.04 84.84h.01"/>
<path class="b d" d="M172.04 94.39h.01M171.13 98.63h.01M169.09 96.02h.01M164.83 91.81h.01"/>
<path class="m d" d="M164.83 88.36h.01"/>
<path class="b" d="M145.2 111.25h.01"/>
<path class="b d" d="M172.04 96.02h.01"/>
<path class="m d" d="M164.83 86.63h.01M171.81 86.06h.01M164.83 88.39h.01"/>
<path class="b d" d="M172.04 97.26h.01"/>
<path class="m d" d="M172.04 91.81h.01"/>
<path class="b d" d="M164.83 85.15h.01"/>
<path class="m d" d="M164.83 93.84h.01"/>
<path class="b d" d="M172.04 91.15h.01M168.72 90.15h.01M172.04 98.02h.01"/>
<path class="m d" d="M164.83 84.78h.01"/>
<path class="b d" d="M172.04 102.78h.01"/>
<path class="b" d="M145.2 114.43h.01"/>
<path class="m" d="M148.31 80.5h.01"/>
<path class="m d" d="M164.83 91.36h.01"/>
<path class="b d" d="M172.04 97.99h.01"/>
<path class="m d" d="M166 78.6h.01"/>
<path class="m" d="M147.58 109.04h.01"/>
<path class="m d" d="M168.57 91.18h.01M164.83 84.21h.01"/>
<path class="b d" d="M172.04 87.93h.01"/>
<path class="m d" d="M164.83 89.39h.01M164.83 84.69h.01"/>
<path class="m" d="M145.2 66.56h.01"/>
<path class="b d" d="M172.04 88.03h.01"/>
<path class="m d" d="M172.04 86.06h.01"/>
<path class="b d" d="M172.04 88.36h.01"/>
<path class="m d" d="M172.04 97.57h.01"/>
<path class="b d" d="M172.04 90.36h.01M164.83 94.21h.01"/>
<path class="m d" d="M165.76 95.54h.01"/>
<path class="b d" d="M164.83 92.45h.01"/>
<path class="m d" d="M172.04 96.63h.01M164.83 93.57h.01M172.04 84h.01M164.83 87h.01"/>
<path class="b d" d="M172.04 88.66h.01M168.76 102.36h.01"/>
<path class="m d" d="M171.88 90.24h.01M167.56 88.57h.01"/>
<path class="b d" d="M164.83 91.51h.01M165.72 89.54h.01M164.83 88.63h.01"/>
<path class="m d" d="M172.04 84.21h.01"/>
<path class="b d" d="M170.36 92.57h.01M164.83 91.93h.01M164.83 90.6h.01M172.04 96.81h.01M172.04 94.05h.01"/>
<path class="m" d="M144.12 80.76h.01"/>
<path class="m d" d="M164.86 79.63h.01"/>
<path class="b d" d="M168.43 103.34h.01M172.04 100.95h.01"/>
<path class="m d" d="M172.04 94.18h.01"/>
<path class="b d" d="M172.04 85.66h.01M172.04 92.24h.01"/>
<path class="m d" d="M164.83 86.36h.01M172.04 94.02h.01"/>
<path class="b d" d="M172.04 98.48h.01"/>
<path class="m d" d="M164.83 89.87h.01"/>
<path class="b d" d="M172.04 92.51h.01M164.83 99.81h.01M164.83 90.42h.01M165.52 102.85h.01"/>
<path class="m d" d="M172.04 86.9h.01"/>
<path class="b d" d="M172.04 85.33h.01M170.29 97.87h.01M168.29 93.24h.01M164.83 85.81h.01M164.83 89.15h.01"/>
<path class="m d" d="M164.83 94.54h.01"/>
<path class="b d" d="M164.83 95.39h.01"/>
<path class="m d" d="M169.42 79.42h.01M164.83 88.33h.01M170.17 85.87h.01M171.03 85.42h.01M164.83 92.42h.01M168.43 77.76h.01M168.49 85.66h.01"/>
<path class="m" d="M144.88 77.41h.01"/>
<path class="m d" d="M164.83 85.12h.01M164.83 93.66h.01M169.73 96.87h.01M165.2 98.39h.01M172.04 84.03h.01M164.83 88.78h.01"/>
<path class="b d" d="M172.04 94.48h.01M169.34 100.78h.01M164.83 93.18h.01M169.49 90.78h.01"/>
<path class="b" d="M146.8 109.85h.01"/>
<path class="b d" d="M172.04 90.09h.01"/>
<path class="m d" d="M166 92.69h.01"/>
<path class="b d" d="M168.31 86.78h.01"/>
<path class="m d" d="M172.04 91.39h.01"/>
<path class="b d" d="M164.83 90.06h.01M171.91 93.08h.01"/>
<path class="m d" d="M164.83 93.57h.01"/>
<path class="b d" d="M171.79 99.42h.01M172.04 95.33h.01"/>
<path class="m" d="M142.97 80.6h.01"/>
<path class="b d" d="M172.04 99.84h.01"/>
<path class="m d" d="M169.39 85.24h.01M172.04 89.87h.01"/>
<path class="b d" d="M165 101.15h.01M169.61 99.78h.01M171.18 97.42h.01M167.82 102.09h.01M172.04 100.08h.01M172.04 97.36h.01M164.83 100.98h.01M164.83 91.45h.01M165.74 86.3h.01M172.04 89.75h.01M172.04 91.9h.01M172.04 95.78h.01M166.5 103.01h.01"/>
<path class="m d" d="M164.83 96.78h.01"/>
<path class="b d" d="M172.04 102.61h.01M172.04 96.6h.01"/>
<path class="m d" d="M164.83 85.94h.01"/>
<path class="b d" d="M165.44 99.42h.01"/>
<path class="m d" d="M172.04 90.42h.01"/>
<path class="b d" d="M164.83 88.42h.01M171.75 96.57h.01M164.83 102.31h.01M164.83 97.05h.01M168.51 101.35h.01"/>
<path class="b" d="M142.09 108.41h.01"/>
<path class="b d" d="M172.04 100.45h.01M164.83 94.18h.01M172.04 100.6h.01M172.04 95.05h.01M172.01 98.14h.01M164.83 90.42h.01M172.04 97.78h.01M164.83 100.9h.01"/>
<path class="m d" d="M164.83 87.78h.01"/>
<path class="b d" d="M172.04 94.24h.01"/>
<path class="b" d="M144.55 110.35h.01"/>
<path class="b d" d="M164.83 88.75h.01"/>
<path class="m d" d="M168.71 99.29h.01"/>
<path class="b d" d="M164.83 84.36h.01"/>
<path class="m d" d="M172.04 83h.01"/>
<path class="b d" d="M164.83 93.18h.01M172.04 89.3h.01M172.04 92.42h.01M170.3 100.54h.01"/>
<path class="m d" d="M166.1 83.06h.01M169.93 88.03h.01M172.04 87.75h.01"/>
<path class="b d" d="M164.83 92.21h.01M172.04 88.09h.01M164.83 95.9h.01M172.04 94.21h.01"/>
<path class="m d" d="M169.12 87.33h.01"/>
<path class="b d" d="M172.04 96.63h.01"/>
<path class="m d" d="M172.04 85.84h.01"/>
<path class="b d" d="M172.04 88.75h.01"/>
<path class="m d" d="M164.83 85.33h.01"/>
<path class="b d" d="M172.04 92.02h.01M169.07 93.87h.01M172.04 88.27h.01"/>
<path class="m d" d="M172.04 94.33h.01"/>
<path class="b d" d="M170.08 87h.01M172.04 90.02h.01M172.04 92.18h.01M164.83 94.27h.01M172.04 84.84h.01M172.04 92.05h.01M167.57 101.06h.01"/>
<path class="m d" d="M172.04 84.27h.01M164.83 84.88h.01M170.7 80.94h.01"/>
<path class="b" d="M146.17 108.91h.01"/>
<path class="b d" d="M164.83 98.02h.01M167.79 90.54h.01M165.09 96.3h.01M164.83 100.48h.01M172.04 90.84h.01M167.48 103.07h.01M172.04 96.69h.01M164.83 91.9h.01M172.04 90.69h.01M165.57 94.48h.01"/>
<path class="m d" d="M164.83 91.02h.01M172.04 92.51h.01"/>
<path class="b d" d="M164.83 89.78h.01"/>
<path class="m d" d="M164.83 89.93h.01M164.83 92.02h.01M172.04 88.36h.01"/>
<path class="b d" d="M172.04 97.11h.01"/>
<path class="m d" d="M167.41 95.11h.01M167.84 83.91h.01"/>
<path class="b d" d="M164.83 97.75h.01M164.83 93.81h.01M166.03 96.6h.01M164.83 97.66h.01M172.04 92.6h.01"/>
<path class="m" d="M145.2 67.89h.01"/>
<path class="b d" d="M170.45 82.45h.01M172.04 98.05h.01"/>
<path class="b" d="M143.9 109.12h.01"/>
<path class="b d" d="M166.73 88h.01M172.04 95.9h.01"/>
<path class="m d" d="M172.04 91.48h.01"/>
<path class="b d" d="M164.83 100.14h.01"/>
<path class="b" d="M145.68 110.11h.01"/>
<path class="b d" d="M164.83 97.84h.01"/>
<path class="m d" d="M172.04 93.33h.01"/>
<path class="b d" d="M164.83 90.54h.01M165 87h.01"/>
<path class="m d" d="M171.48 80.3h.01M164.83 85.72h.01"/>
<path class="b d" d="M168.26 87.84h.01M164.83 98.93h.01M172.04 87.96h.01M172.04 102.34h.01M164.83 97.3h.01M172.04 93.54h.01"/>
<path class="m" d="M142.09 77.72h.01"/>
<path class="b d" d="M167.36 89.6h.01M170.37 102.96h.01M172.04 95.72h.01M170.56 99.48h.01M164.83 89.93h.01M170.43 94.69h.01M164.83 102.74h.01"/>
<path class="m d" d="M172.04 86.33h.01"/>
<path class="b d" d="M166.37 93.66h.01M171.7 87.21h.01M164.83 89.75h.01M172.04 98.33h.01M164.83 98.6h.01"/>
<path class="m d" d="M164.83 96.45h.01"/>
<path class="b d" d="M164.83 88.03h.01M164.83 85h.01"/>
<path class="m d" d="M165.59 85.27h.01"/>
<path class="b d" d="M164.9 91.42h.01M164.83 92.39h.01M170.97 93.39h.01M164.83 91.48h.01M164.83 88.36h.01M170.65 96.48h.01M164.83 88.87h.01M164.83 97.11h.01M164.83 91.02h.01M172.04 91.75h.01M167.46 100.02h.01M172.04 98.87h.01"/>
<path class="m d" d="M164.83 88.24h.01"/>
<path class="b d" d="M172.04 87.3h.01"/>
<path class="m d" d="M169.01 80.79h.01M172.04 89.12h.01"/>
<path class="b d" d="M164.83 94.33h.01"/>
<path class="m d" d="M172.04 82.36h.01"/>
<path class="b d" d="M172.04 94.45h.01M164.83 95.02h.01M164.83 97.36h.01M164.83 99.9h.01M164.83 89.09h.01"/>
<path class="m d" d="M164.83 87.72h.01"/>
<path class="b d" d="M169.76 98.75h.01M170.56 101.55h.01"/>
<path class="m d" d="M167.34 92.96h.01"/>
<path class="b d" d="M170.42 91.51h.01"/>
<path class="m d" d="M164.83 88.78h.01"/>
<path class="b d" d="M167.27 94.08h.01M167.09 98.23h.01"/>
<path class="m d" d="M172.04 89.78h.01"/>
<path class="b d" d="M164.83 102.58h.01"/>
<path class="m d" d="M172.04 84.94h.01"/>
<path class="b d" d="M164.83 94.63h.01M164.83 90.42h.01M164.83 94.11h.01M164.83 95.72h.01M172.04 88.63h.01M172.04 92.18h.01M168.18 94.33h.01M166.31 97.6h.01"/>
<path class="m d" d="M164.83 82.75h.01M166.55 90.12h.01"/>
<path class="b d" d="M165.72 100.42h.01M164.83 90.57h.01M172.04 92.39h.01M172.04 94.84h.01M164.83 90.3h.01M168.36 89.18h.01"/>
<path class="m d" d="M164.83 94.66h.01"/>
<path class="b" d="M147.44 80.66h.01"/>
<path class="b d" d="M164.83 93.84h.01M172.04 99.69h.01M172.04 98.96h.01M172.04 102.68h.01M172.04 90.87h.01M166.97 91.05h.01M167.9 96.3h.01M171.35 102.8h.01M172.04 90.27h.01"/>
<path class="m d" d="M164.83 89.51h.01"/>
<path class="b d" d="M172.04 94.63h.01M167.77 98.99h.01M166.54 89.03h.01M172.04 94.9h.01M168.62 84.54h.01M170 95.63h.01M164.83 96.63h.01"/>
<path class="m d" d="M172.04 85.36h.01"/>
<path class="b d" d="M167.73 85h.01"/>
<path class="m d" d="M166.65 100.66h.01"/>
<path class="b d" d="M172.04 93.18h.01M171.53 101.35h.01"/>
<path class="m d" d="M172.04 91.57h.01"/>
<path class="b d" d="M164.83 102.63h.01M165.35 97.36h.01M164.83 94.39h.01M170.25 84.78h.01M164.83 92.57h.01"/>
<path class="m d" d="M169.07 88.45h.01M164.83 86.87h.01"/>
<path class="b d" d="M166.99 96.84h.01"/>
<path class="m" d="M148.31 80.22h.01"/>
<path class="b d" d="M168.68 83.36h.01"/>
<path class="m d" d="M172.04 94.9h.01"/>
<path class="b" d="M145.84 76.81h.01M145.2 73.52h.01"/>
<path class="b d" d="M172.04 88.75h.01M165.95 80.88h.01M164.83 90.21h.01"/>
<path class="m d" d="M166.98 78.76h.01"/>
<path class="b d" d="M164.83 98.72h.01M172.04 96.72h.01"/>
<path class="m d" d="M165.22 83.54h.01"/>
<path class="b d" d="M172.04 94.18h.01"/>
<path class="m d" d="M165.29 93.48h.01"/>
<path class="b d" d="M169.27 86.3h.01"/>
<path class="m d" d="M164.83 86.03h.01M172.04 88.3h.01"/>
<path class="b d" d="M172.04 87.12h.01M170.94 86.54h.01"/>
<path class="b" d="M145.2 78.45h.01"/>
<path class="m d" d="M172.04 90.57h.01"/>
<path class="b d" d="M172.04 97.66h.01M164.83 88.06h.01M164.83 88.24h.01M172.04 81.51h.01M171.35 82.03h.01M164.83 92.08h.01M170.29 88.99h.01M172.04 85.15h.01M172.04 90.36h.01M165.93 84.27h.01M164.83 92.93h.01"/>
<path class="m d" d="M164.83 97.99h.01"/>
<path class="b d" d="M164.83 87.96h.01"/>
<path class="m d" d="M164.83 92.81h.01M169.43 89.42h.01"/>
<path class="b" d="M146.36 81.04h.01"/>
<path class="b d" d="M164.83 93.18h.01M169.55 82.88h.01M172.04 90.48h.01M164.83 90.63h.01M164.83 99.11h.01M172.04 98.75h.01M164.83 92.93h.01M164.83 94.39h.01M171.27 92.3h.01M172.04 86.97h.01M169.22 94.9h.01M166.49 94.75h.01M172.04 100.9h.01M164.83 98.29h.01M164.83 93.84h.01M169.31 97.81h.01M172.04 94.05h.01M164.83 89.3h.01M169.43 92.9h.01M172.04 98.72h.01M172.04 100.14h.01M164.83 91.9h.01M172.04 93.63h.01M169.4 103.15h.01"/>
<path class="m d" d="M172.04 88.3h.01M171.37 88.6h.01M165.58 88.51h.01M172.04 95.9h.01M164.83 96.72h.01M172.04 81.24h.01"/>
<path class="b" d="M148.31 108.49h.01"/>
<path class="m" d="M150.71 76.22h.01"/>
<path class="m d" d="M173.84 94.1h.01M181.06 83.64h.01"/>
<path class="m" d="M152.97 67.01h.01"/>
<path class="m d" d="M173.84 93.29h.01M178.81 79.23h.01M181.06 90.98h.01M181.06 86.12h.01M177.2 78.56h.01"/>
<path class="m" d="M152.97 58.22h.01"/>
<path class="m d" d="M173.84 95.48h.01M178.88 77.65h.01M173.84 85.14h.01M173.84 93.84h.01"/>
<path class="m" d="M152.74 71.31h.01M152.97 76.58h.01"/>
<path class="m d" d="M173.84 94.08h.01M173.84 83.69h.01M181.06 88.46h.01"/>
<path class="b d" d="M173.84 94.51h.01M181.06 90.1h.01M181.06 97.26h.01"/>
<path class="m" d="M155.11 79.44h.01"/>
<path class="m d" d="M173.84 90.87h.01M181.06 86.57h.01M177.14 84.94h.01"/>
<path class="m" d="M154.09 76.28h.01"/>
<path class="m d" d="M181.06 93h.01"/>
<path class="m" d="M154.12 78.72h.01"/>
<path class="m d" d="M173.84 89.94h.01M181.06 83.59h.01M177.45 76.92h.01M173.84 86.66h.01"/>
<path class="m" d="M151.82 76.52h.01M156.08 80.13h.01"/>
<path class="m d" d="M180.52 85.44h.01M175.61 83.67h.01"/>
<path class="b d" d="M179.16 100.27h.01"/>
<path class="m d" d="M174.71 100.05h.01M180.75 83.73h.01M173.84 93.32h.01M181.06 90.44h.01"/>
<path class="m" d="M151.84 72.6h.01"/>
<path class="m d" d="M177.45 85.93h.01M181.06 85.14h.01M175.64 79.93h.01"/>
<path class="b d" d="M181.06 96.34h.01"/>
<path class="m d" d="M173.84 83.99h.01"/>
<path class="b d" d="M173.84 92.82h.01M173.84 94.78h.01M181.06 98.52h.01M173.84 95.35h.01M173.84 98.39h.01"/>
<path class="m d" d="M173.84 92.2h.01M173.84 93.26h.01"/>
<path class="b d" d="M176.17 98.47h.01"/>
<path class="m d" d="M177.93 86.87h.01M179.73 83.44h.01"/>
<path class="b d" d="M173.84 99.58h.01M181.06 96.86h.01M173.84 97.97h.01M181.06 94.84h.01"/>
<path class="m" d="M155.07 78.09h.01"/>
<path class="b d" d="M181.06 94.93h.01"/>
<path class="m d" d="M173.84 84.45h.01M177.04 87.29h.01"/>
<path class="b d" d="M175.06 94.99h.01M175.02 98.28h.01M177.86 83.11h.01M181.06 99.2h.01"/>
<path class="m d" d="M181.06 92.03h.01"/>
<path class="b d" d="M179.41 91.59h.01"/>
<path class="m" d="M152.97 72.83h.01"/>
<path class="m d" d="M173.84 86.73h.01"/>
<path class="b d" d="M173.84 94.2h.01"/>
<path class="m d" d="M181.06 93.31h.01"/>
<path class="b d" d="M181.06 96.24h.01"/>
<path class="m d" d="M175.69 77.54h.01"/>
<path class="m" d="M151.9 78.47h.01"/>
<path class="b d" d="M181.06 92.89h.01M179.03 94.93h.01M181.06 81.24h.01"/>
<path class="m" d="M152.97 78.88h.01"/>
<path class="m d" d="M173.84 89.92h.01"/>
<path class="b d" d="M178.69 93.5h.01"/>
<path class="m d" d="M177.81 93.12h.01M173.84 93.62h.01M177.5 88.21h.01"/>
<path class="b d" d="M174.62 91.48h.01M173.84 88.72h.01M173.84 94.54h.01"/>
<path class="m d" d="M180.7 93.52h.01"/>
<path class="b d" d="M181.06 96.86h.01M173.84 94.61h.01"/>
<path class="m d" d="M181.06 83.83h.01M180.48 86.74h.01"/>
<path class="b d" d="M180.85 98.19h.01M173.92 98.14h.01M181.06 94.17h.01"/>
<path class="m d" d="M180.91 89h.01M181.06 93.76h.01"/>
<path class="b d" d="M181.06 97.02h.01M181.06 98.41h.01M181.06 92.18h.01M181.06 95.77h.01"/>
<path class="m d" d="M181.06 84.28h.01"/>
<path class="b d" d="M175.17 90.61h.01M173.84 93.67h.01"/>
<path class="m" d="M152.97 74.65h.01"/>
<path class="b d" d="M176.97 92.65h.01M173.84 94.54h.01M173.84 92.41h.01M178.83 83.87h.01M181.06 93.3h.01M173.84 91.91h.01M181.06 91.76h.01M174.65 94.04h.01"/>
<path class="m d" d="M173.97 82.61h.01M177.45 80.65h.01M173.84 97.02h.01"/>
<path class="b d" d="M173.84 91.8h.01"/>
<path class="m d" d="M181.06 92.23h.01M173.84 83.65h.01"/>
<path class="b d" d="M173.84 94.44h.01M180.61 91.18h.01M179.5 96.37h.01"/>
<path class="m d" d="M181.06 89.62h.01M181.06 92.35h.01"/>
<path class="b d" d="M173.84 89.63h.01"/>
<path class="m d" d="M181.06 85.33h.01"/>
<path class="b d" d="M173.84 90.94h.01"/>
<path class="m d" d="M173.84 91.78h.01M175.52 88.87h.01"/>
<path class="b d" d="M181.06 93.73h.01"/>
<path class="m d" d="M181.06 92.3h.01M181.06 95.61h.01"/>
<path class="b d" d="M181.06 97.78h.01M181.06 95.06h.01"/>
<path class="m d" d="M173.84 92.79h.01"/>
<path class="b d" d="M173.84 94.29h.01M173.84 99.14h.01"/>
<path class="m d" d="M181.06 92.47h.01"/>
<path class="b d" d="M181.06 94.42h.01M173.84 91.1h.01M181.06 96.93h.01M181.06 91.24h.01"/>
<path class="m d" d="M181.06 84.31h.01"/>
<path class="b d" d="M173.84 91.22h.01M173.84 90.28h.01M181.06 94.28h.01M177.85 97.45h.01M181.06 83.36h.01M177.03 90.12h.01M181.06 98.36h.01M173.84 92.39h.01M173.84 94.44h.01"/>
<path class="m d" d="M174.83 86.93h.01"/>
<path class="b d" d="M181.06 94.79h.01M173.84 96.89h.01M181.06 98.66h.01M177.26 93.99h.01"/>
<path class="m d" d="M181.06 93.44h.01M181.06 85.4h.01"/>
<path class="b d" d="M181.06 92.02h.01"/>
<path class="m d" d="M181.06 86.55h.01"/>
<path class="b d" d="M181.06 97.91h.01M173.84 96.78h.01"/>
<path class="m d" d="M181.06 92.99h.01M178.33 85.47h.01"/>
<path class="b d" d="M181.06 95.11h.01M181.06 96.74h.01"/>
<path class="m d" d="M181.06 95.51h.01M173.84 86.55h.01"/>
<path class="b d" d="M173.84 98.68h.01M173.84 99.32h.01M175.49 99.2h.01M173.84 89.33h.01"/>
<path class="m d" d="M179.25 81.79h.01"/>
<path class="b d" d="M176.51 100.79h.01M173.84 99.91h.01"/>
<path class="m d" d="M173.84 84.57h.01"/>
<path class="m" d="M153.67 71.96h.01"/>
<path class="m d" d="M173.84 86.71h.01"/>
<path class="b d" d="M181.06 95.23h.01"/>
<path class="m d" d="M178.37 87.8h.01"/>
<path class="b d" d="M173.84 97.82h.01"/>
<path class="m d" d="M173.84 91.55h.01"/>
<path class="b d" d="M173.84 97.73h.01M173.84 97.91h.01M173.84 95.05h.01"/>
<path class="m" d="M152.97 63.97h.01"/>
<path class="b d" d="M173.84 98.36h.01"/>
<path class="b" d="M152.97 105.5h.01"/>
<path class="m d" d="M175.28 81.61h.01M177.45 81.87h.01"/>
<path class="b d" d="M173.84 95.68h.01"/>
<path class="m d" d="M181.06 88.58h.01M173.84 93.67h.01M176.67 77.68h.01M178.02 84.47h.01"/>
<path class="b d" d="M181.06 93.33h.01"/>
<path class="m d" d="M181.06 87.27h.01M181.06 83.98h.01M176.49 79.4h.01"/>
<path class="b d" d="M181.06 91.85h.01"/>
<path class="m d" d="M181.06 87.66h.01"/>
<path class="b d" d="M173.84 96.82h.01"/>
<path class="m d" d="M181.06 95.77h.01"/>
<path class="b d" d="M174.9 82.95h.01M181.06 92.69h.01"/>
<path class="m d" d="M173.84 89.47h.01"/>
<path class="b d" d="M179.53 94.04h.01"/>
<path class="m d" d="M173.84 95.64h.01M173.84 94.42h.01M180.05 84.46h.01M176.59 83.09h.01"/>
<path class="b d" d="M178.6 88.91h.01M173.84 96.16h.01"/>
<path class="m d" d="M176.34 88.08h.01M173.84 84.29h.01"/>
<path class="b d" d="M181.06 91.43h.01M181.06 90.44h.01M173.84 95.97h.01"/>
<path class="m d" d="M173.84 82.61h.01"/>
<path class="b d" d="M173.84 96.54h.01M173.84 95.6h.01M181.06 97.23h.01M181.06 86.36h.01M181.06 87.12h.01"/>
<path class="m d" d="M179.71 78.81h.01M174.09 85.01h.01"/>
<path class="b d" d="M181.06 96.01h.01M179.51 99.28h.01"/>
<path class="m d" d="M181.06 90.17h.01"/>
<path class="b d" d="M173.84 98.12h.01M181.06 95.65h.01"/>
<path class="m d" d="M181.06 84.16h.01M180.25 92.14h.01"/>
<path class="b d" d="M176.73 91.64h.01"/>
<path class="m d" d="M174.62 85.88h.01"/>
<path class="b d" d="M181.06 96.63h.01M181.06 98.88h.01M181.06 80.99h.01M181.06 95.96h.01"/>
<path class="m d" d="M173.84 89.26h.01"/>
<path class="b d" d="M181.06 97.79h.01M174.32 95.67h.01"/>
<path class="b" d="M154.08 79.92h.01"/>
<path class="b d" d="M173.84 96.16h.01M173.84 95.35h.01"/>
<path class="m d" d="M181.06 88.36h.01"/>
<path class="b d" d="M181.06 97.69h.01"/>
<path class="m" d="M149.87 79.43h.01"/>
<path class="m d" d="M173.84 91.73h.01M181.06 88.41h.01M175.04 87.96h.01M175.64 78.88h.01M175.79 82.51h.01M177.45 79.57h.01M177.91 77.84h.01M181.06 89.36h.01M173.84 95.77h.01M176.12 89.7h.01M181.06 94.36h.01M181.06 91.02h.01M173.84 90.68h.01"/>
<path class="b d" d="M181.06 91.25h.01M181.06 94.7h.01M181.06 94.35h.01M181.06 91.09h.01M177.23 100.09h.01M173.84 95.68h.01"/>
<path class="m d" d="M174.3 81.53h.01"/>
<path class="b d" d="M181.06 98.18h.01"/>
<path class="m d" d="M175.85 94.36h.01"/>
<path class="b d" d="M173.84 98.62h.01M177.45 99.07h.01"/>
<path class="m d" d="M173.84 97.2h.01"/>
<path class="b d" d="M181.06 98.95h.01M181.06 94.72h.01"/>
<path class="m d" d="M176.19 85.42h.01"/>
<path class="b d" d="M181.06 98.57h.01"/>
<path class="m d" d="M181.06 85.82h.01M180.6 81.61h.01"/>
<path class="b d" d="M181.06 92.12h.01M173.84 99.39h.01M181.06 89.94h.01M174.83 97.26h.01M173.84 94.2h.01M181.06 98.04h.01M181.06 91.44h.01M176.84 88.98h.01M173.84 93.21h.01M181.06 94.57h.01M178.53 95.83h.01M173.84 97.59h.01M173.84 99h.01"/>
<path class="m d" d="M173.84 98.8h.01"/>
<path class="b d" d="M181.06 92.78h.01M173.84 98.52h.01"/>
<path class="m d" d="M174.76 84.21h.01"/>
<path class="b d" d="M173.84 92.82h.01"/>
<path class="m d" d="M181.06 87.4h.01"/>
<path class="b d" d="M181.06 97.71h.01M173.84 94.44h.01M173.84 96.32h.01M177.69 96.39h.01M173.84 100h.01M173.84 99.74h.01M181.06 99.73h.01M175.75 97.52h.01M173.84 99.19h.01M181.06 92.6h.01M181.06 95.15h.01M181.06 98.89h.01M180.14 100.13h.01M181.06 99.96h.01"/>
<path class="m d" d="M173.84 90.16h.01"/>
<path class="b d" d="M173.84 85.83h.01M175.68 100.23h.01M173.84 91.93h.01"/>
<path class="m d" d="M173.84 95.55h.01"/>
<path class="b d" d="M176 92.5h.01"/>
<path class="m d" d="M181.06 82.56h.01"/>
<path class="b d" d="M181.06 93.83h.01M181.06 96.97h.01M173.84 97.43h.01M181.06 99.05h.01"/>
<path class="m d" d="M173.84 89.35h.01M181.06 93h.01M180.33 82.62h.01"/>
<path class="b d" d="M181.06 88h.01M173.84 98.05h.01M173.84 98h.01M179.89 98.32h.01"/>
<path class="m d" d="M181.06 93.28h.01"/>
<path class="b d" d="M173.84 93.62h.01"/>
<path class="m d" d="M173.84 81.08h.01"/>
<path class="b d" d="M181.06 96.14h.01"/>
<path class="m d" d="M181.06 90.53h.01"/>
<path class="b d" d="M173.84 87.48h.01M173.84 87.29h.01M173.84 92.59h.01"/>
<path class="m d" d="M173.84 87.1h.01"/>
<path class="b d" d="M181.06 97.4h.01M181.06 95.11h.01M173.84 96.36h.01M181.06 93.47h.01M173.84 97.38h.01M181.06 94.02h.01M173.84 99.46h.01"/>
<path class="m d" d="M178.3 80.12h.01"/>
<path class="m" d="M150.89 79.52h.01"/>
<path class="m d" d="M173.84 91.95h.01"/>
<path class="b d" d="M181.06 96.78h.01M176.41 93.5h.01M179.76 90.62h.01M181.06 97.87h.01M173.84 96.82h.01M173.84 97.69h.01M178.18 100.4h.01M181.06 94.97h.01M173.84 94.22h.01M173.84 94.92h.01M173.84 94.93h.01"/>
<path class="m d" d="M181.06 91.86h.01M181.06 87.29h.01"/>
<path class="b d" d="M173.84 92.76h.01"/>
<path class="m d" d="M181.06 95.15h.01M173.84 85.22h.01M176.51 81.79h.01"/>
<path class="b d" d="M181.06 94.67h.01"/>
<path class="m d" d="M179.09 89.82h.01M181.06 88.87h.01"/>
<path class="b d" d="M174.25 93.09h.01M173.84 91.09h.01M176.53 86.39h.01M176.86 95.9h.01M173.84 88.66h.01"/>
<path class="m" d="M151.84 63.73h.01"/>
<path class="b d" d="M181.06 91.62h.01M173.84 93.59h.01M179.3 88.17h.01M178.82 86.51h.01M173.84 90.5h.01"/>
<path class="m d" d="M173.84 95.35h.01"/>
<path class="b d" d="M181.06 91.62h.01M173.84 96.88h.01M180.52 89.95h.01"/>
<path class="m d" d="M181.06 91.69h.01"/>
<path class="b d" d="M181.06 95.05h.01M176.09 96.54h.01"/>
<path class="m d" d="M175.27 85.1h.01M174.77 77.17h.01"/>
<path class="b d" d="M180.37 94.51h.01M178.68 96.89h.01M181.06 91h.01M181.06 94.34h.01M173.84 94.04h.01M173.84 94.72h.01"/>
<path class="m" d="M152.05 79.61h.01"/>
<path class="b d" d="M181.06 95.38h.01M173.84 92.11h.01M173.84 93.7h.01M181.06 99.34h.01M173.84 95.08h.01M173.89 94.73h.01M173.84 93.79h.01"/>
<path class="m d" d="M173.84 85.88h.01"/>
<path class="b d" d="M181.06 94.41h.01M173.84 95.17h.01M173.84 95.79h.01M181.06 94.01h.01M173.84 87.6h.01"/>
<path class="m d" d="M181.06 97.97h.01"/>
<path class="b d" d="M181.06 92.69h.01M176.94 97.06h.01"/>
<path class="m d" d="M181.06 84.71h.01"/>
<path class="b d" d="M177.62 95.24h.01M173.84 97.43h.01M181.06 93.79h.01M173.84 86.32h.01M181.06 92.76h.01M173.84 88.38h.01M181.06 96.36h.01M181.06 99.18h.01M179.84 89.13h.01M176.71 94.85h.01M181.06 99.57h.01M181.06 98.08h.01"/>
<path class="m" d="M151.91 74.23h.01"/>
<path class="b d" d="M176.23 90.75h.01"/>
<path class="m d" d="M177.71 89.37h.01M181.06 87.08h.01"/>
<path class="b d" d="M181.06 95.49h.01"/>
<path class="m d" d="M173.84 86.62h.01"/>
<path class="b d" d="M173.84 95.04h.01M181.06 96.8h.01M179.99 97.29h.01M173.84 97.83h.01M176.32 84.36h.01"/>
<path class="m d" d="M173.84 84.18h.01"/>
<path class="b d" d="M181.06 97.59h.01M178.53 99.43h.01"/>
<path class="m d" d="M174.11 90.58h.01"/>
<path class="b d" d="M181.06 94.29h.01"/>
<path class="m d" d="M181.06 85.76h.01"/>
<path class="b d" d="M173.84 94.03h.01M181.06 90.66h.01"/>
<path class="m d" d="M181.06 88.67h.01"/>
<path class="b d" d="M173.84 87.36h.01"/>
<path class="m d" d="M181.06 94.19h.01"/>
<path class="b d" d="M181.06 94.14h.01M181.06 95.81h.01M181.06 95.63h.01M181.06 96.06h.01M175.43 93.37h.01M173.84 97.63h.01M181.06 97.5h.01M181.06 97.43h.01"/>
<path class="m d" d="M175.56 91.56h.01M173.84 83.59h.01"/>
<path class="b d" d="M173.84 95.88h.01M181.06 94.35h.01M181.06 93.66h.01M179.86 77.48h.01M181.06 86.7h.01M173.84 96.79h.01"/>
<path class="m d" d="M178.26 81.27h.01"/>
<path class="b d" d="M174.78 89.65h.01M175.88 95.52h.01M181.06 98.03h.01M181.06 90.03h.01M181.06 100.01h.01M181.06 85.17h.01M181.06 90.83h.01M175.78 87.23h.01M173.84 93.48h.01M181.06 93.47h.01"/>
<path class="m d" d="M178.76 82.69h.01"/>
<path class="b d" d="M173.84 92.28h.01M173.84 96.08h.01M178.46 91.32h.01M180.49 96.39h.01M181.06 89.21h.01M181.06 84.45h.01M173.84 93.2h.01"/>
<path class="m d" d="M179.64 85.93h.01"/>
<path class="b d" d="M181.06 95.81h.01"/>
<path class="m d" d="M181.06 89.47h.01"/>
<path class="b d" d="M178.17 94.37h.01M173.84 97.92h.01"/>
<path class="m d" d="M177.79 92.07h.01"/>
<path class="b d" d="M181.06 99.46h.01M173.84 95.07h.01M181.06 96.2h.01M173.84 85.41h.01M173.84 91.29h.01"/>
<path class="m d" d="M174.33 88.72h.01M173.84 86.49h.01"/>
<path class="b d" d="M173.84 92.74h.01"/>
<path class="m d" d="M179.14 84.87h.01"/>
<path class="b d" d="M181.06 94.61h.01"/>
<path class="m d" d="M181.06 86.37h.01"/>
<path class="b d" d="M179.58 87.18h.01M175.56 86.2h.01M173.87 92.13h.01M173.84 93.37h.01M173.84 96.32h.01"/>
<path class="m d" d="M176.48 80.47h.01"/>
<path class="b d" d="M173.84 90.02h.01M179.05 97.86h.01"/>
<path class="m d" d="M173.84 85.35h.01"/>
<path class="b d" d="M173.84 93.83h.01"/>
<path class="m d" d="M173.84 93.07h.01"/>
<path class="b d" d="M180.91 95.38h.01"/>
<path class="m d" d="M173.84 91.15h.01M173.96 87.76h.01"/>
<path class="b d" d="M181.06 89.29h.01M181.06 93.6h.01M173.84 93.08h.01"/>
<path class="m d" d="M173.84 83.89h.01"/>
<path class="b d" d="M173.84 98.91h.01M177.51 91.02h.01M181.06 92.44h.01M178.89 92.48h.01M181.06 88.57h.01M181.06 93.19h.01M181.06 96.31h.01M181.06 95.13h.01M181.06 94.15h.01M181.06 89.27h.01M179.92 95.43h.01"/>
<path class="m d" d="M181.06 91.16h.01"/>
<path class="b d" d="M173.84 91.27h.01"/>
<path class="m d" d="M173.84 88.52h.01M178.21 90.29h.01"/>
<path class="b d" d="M180.27 88.01h.01M173.84 98.64h.01M173.84 88.83h.01M181.06 92.99h.01M173.89 83.83h.01M175.14 96.25h.01M173.84 96.23h.01M181.06 93.35h.01M173.84 95.63h.01M178.22 98.42h.01M175.01 92.43h.01M177.09 98.11h.01M173.84 95.12h.01M174.36 99.07h.01M181.06 94.47h.01M173.84 97.63h.01M181.06 98.65h.01M173.84 95.18h.01M173.84 94.79h.01M173.86 97.03h.01M180.49 99.16h.01M173.84 88.36h.01M173.84 91.24h.01M173.84 92.35h.01M181.06 99.89h.01"/>
<path class="m" d="M153.42 70.43h.01"/>
<path class="m d" d="M177.21 83.9h.01M179.71 93.01h.01M181.06 93.85h.01M173.84 88.7h.01"/>
<path class="m" d="M151.82 66.93h.01"/>
<path class="b d" d="M176.44 99.47h.01"/>
<path class="m d" d="M190.08 76.55h.01M182.86 92.14h.01M186.47 85.22h.01M184.47 77.38h.01M190.08 86.89h.01M182.86 82.4h.01M182.86 87.6h.01M182.86 91.27h.01M185.09 82.28h.01"/>
<path class="m" d="M160.75 66.28h.01"/>
<path class="m d" d="M184.22 95.31h.01M190.08 87h.01M182.86 88.08h.01M190.08 92.45h.01M182.86 77.13h.01M187.03 76.86h.01M190.08 90.49h.01M182.86 84.29h.01M190.08 82.34h.01"/>
<path class="b d" d="M189.48 92.23h.01M182.86 93.88h.01M185.02 97.21h.01"/>
<path class="m d" d="M186.59 79.25h.01M182.86 89.69h.01M182.86 84.58h.01M182.86 87.37h.01M187.51 81.79h.01M190.08 88.72h.01M183.34 79.15h.01M187.79 91.9h.01M188.5 79.82h.01M190.08 77.09h.01M186.47 81.62h.01M185.15 79.96h.01M186.98 82.66h.01M182.86 82.22h.01M184.34 82.96h.01"/>
<path class="b d" d="M190.08 98.55h.01"/>
<path class="m d" d="M190.08 99.35h.01M182.86 83.47h.01M182.86 93.24h.01M185.8 86.81h.01"/>
<path class="m" d="M159.19 79.45h.01"/>
<path class="m d" d="M190.08 88h.01M190.08 87.79h.01"/>
<path class="m" d="M160.75 79.09h.01"/>
<path class="b d" d="M182.86 97.87h.01"/>
<path class="m d" d="M186.47 83.55h.01"/>
<path class="b d" d="M182.86 90.04h.01M182.86 92.58h.01M186.47 98.32h.01M190.08 96.67h.01M189.82 97.1h.01"/>
<path class="m d" d="M182.86 91.45h.01M182.86 91.16h.01"/>
<path class="b d" d="M188.83 97.14h.01"/>
<path class="m d" d="M189.01 87.29h.01M182.86 88.26h.01"/>
<path class="b d" d="M182.86 100.09h.01M182.86 96.28h.01M182.86 99.43h.01M187.84 97.16h.01"/>
<path class="m d" d="M190.08 77.2h.01"/>
<path class="b d" d="M182.86 95.52h.01"/>
<path class="m d" d="M190.08 86.81h.01M190.08 90.12h.01"/>
<path class="b d" d="M182.86 97.03h.01M190.08 95.36h.01"/>
<path class="b" d="M160.75 61.19h.01"/>
<path class="b d" d="M186.96 96.7h.01"/>
<path class="m d" d="M182.86 91.24h.01"/>
<path class="b d" d="M182.86 95.39h.01"/>
<path class="m d" d="M187.13 78.38h.01M187.35 90.94h.01"/>
<path class="b d" d="M190.08 94.5h.01"/>
<path class="m d" d="M190.08 90.77h.01"/>
<path class="b d" d="M186.19 97.32h.01"/>
<path class="m d" d="M190.08 87.6h.01"/>
<path class="m" d="M160.75 77.93h.01"/>
<path class="b d" d="M190.08 94.41h.01M189.09 94.33h.01M188.48 84.04h.01"/>
<path class="m d" d="M190.08 78.68h.01M190.08 92.09h.01"/>
<path class="b d" d="M185.89 92.63h.01"/>
<path class="m d" d="M190.08 89.68h.01M190.08 89.05h.01M183.56 81.07h.01"/>
<path class="b d" d="M182.86 92.08h.01M182.86 91.52h.01M184.04 97.1h.01"/>
<path class="m d" d="M182.86 90.71h.01"/>
<path class="b d" d="M190.08 95.67h.01M182.86 95.57h.01"/>
<path class="m d" d="M190.08 82.9h.01M183.23 86.56h.01"/>
<path class="b d" d="M190.08 98.5h.01M182.86 99.47h.01M182.86 93.78h.01"/>
<path class="m d" d="M190.08 89.56h.01M182.86 89.64h.01"/>
<path class="b d" d="M189.43 100.15h.01M190.08 96.35h.01M190.08 91.38h.01M190.08 97.5h.01"/>
<path class="m d" d="M185.63 79.01h.01"/>
<path class="b d" d="M188.25 90.62h.01M182.86 93.73h.01"/>
<path class="m" d="M159.92 71.26h.01"/>
<path class="b d" d="M190.08 89.81h.01M190.08 95.84h.01M182.86 92.8h.01M185.42 77.66h.01M182.86 95.86h.01M182.86 92.01h.01M183.25 95.17h.01M182.86 95.03h.01"/>
<path class="m d" d="M182.86 84.55h.01"/>
<path class="m" d="M161.91 79.06h.01"/>
<path class="m d" d="M182.86 92.69h.01"/>
<path class="b d" d="M190.08 93.18h.01"/>
<path class="m d" d="M183.96 89.3h.01M190.08 80.91h.01"/>
<path class="b d" d="M185.54 91.66h.01M182.98 89.18h.01M182.86 97.46h.01"/>
<path class="m d" d="M190.08 87.56h.01M182.86 89.52h.01"/>
<path class="b d" d="M182.86 93.65h.01"/>
<path class="m d" d="M185.52 81.34h.01"/>
<path class="b d" d="M190.08 96.86h.01"/>
<path class="m d" d="M190.08 87.58h.01M183.2 90.23h.01"/>
<path class="b d" d="M182.86 94.48h.01"/>
<path class="m d" d="M187.45 87h.01M187.67 92.93h.01"/>
<path class="b d" d="M182.86 96.68h.01M190.08 95.51h.01"/>
<path class="m d" d="M182.86 89.03h.01"/>
<path class="b d" d="M182.86 97.27h.01M190.08 100.15h.01"/>
<path class="m d" d="M182.86 90.86h.01"/>
<path class="b d" d="M190.08 97.59h.01M190.08 93.22h.01M190.08 96.91h.01M190.08 97.03h.01"/>
<path class="m d" d="M190.08 85.22h.01"/>
<path class="b d" d="M190.08 91.86h.01M190.08 89.86h.01M190.08 94.96h.01M182.86 97.46h.01M182.86 82.31h.01"/>
<path class="b" d="M160.75 76.08h.01"/>
<path class="b d" d="M182.86 97.79h.01M190.08 90.17h.01M190.08 93.71h.01"/>
<path class="m d" d="M185.95 88.27h.01"/>
<path class="b d" d="M182.86 93.91h.01M182.86 97.29h.01M182.86 99.53h.01M190.08 93.66h.01"/>
<path class="m d" d="M188.58 92.64h.01M187.76 77.57h.01"/>
<path class="b d" d="M185.91 94.55h.01"/>
<path class="m d" d="M182.86 87.06h.01"/>
<path class="b d" d="M182.86 97.58h.01M182.86 96.68h.01"/>
<path class="m d" d="M182.86 92.46h.01M184.67 83.94h.01"/>
<path class="b d" d="M182.86 97.94h.01M182.86 96.03h.01"/>
<path class="m d" d="M190.08 91.38h.01M190.08 80.82h.01"/>
<path class="b d" d="M182.86 98.84h.01M190.08 100.15h.01M182.86 100.15h.01M182.86 88.59h.01"/>
<path class="m d" d="M186.95 80.71h.01"/>
<path class="b d" d="M190.08 99.88h.01M186 99.23h.01"/>
<path class="m d" d="M189.28 82.44h.01M186.41 77.67h.01M189.22 90.53h.01"/>
<path class="b d" d="M182.86 94.69h.01"/>
<path class="m d" d="M183.2 88.11h.01"/>
<path class="b d" d="M190.08 99.92h.01"/>
<path class="m d" d="M190.08 88.42h.01"/>
<path class="b d" d="M182.86 95.11h.01M190.08 97.23h.01M190.08 95.43h.01"/>
<path class="m" d="M161.33 75.14h.01"/>
<path class="b d" d="M182.86 98.43h.01M182.86 100.15h.01"/>
<path class="m d" d="M183.21 85.48h.01M184.96 84.93h.01"/>
<path class="b d" d="M182.86 94.3h.01"/>
<path class="m d" d="M190.08 87.52h.01M182.86 91.74h.01M182.86 87.34h.01M190.08 83.68h.01"/>
<path class="b d" d="M190.08 95.58h.01"/>
<path class="m d" d="M182.86 88.52h.01"/>
<path class="m" d="M159.89 77.2h.01"/>
<path class="m d" d="M190.08 84.75h.01"/>
<path class="b d" d="M183.54 91.29h.01"/>
<path class="m d" d="M187.8 89.12h.01"/>
<path class="b d" d="M188.42 98.09h.01"/>
<path class="m d" d="M182.86 93.74h.01"/>
<path class="b d" d="M190.08 89.67h.01M186.25 90.33h.01"/>
<path class="m d" d="M182.86 87.35h.01"/>
<path class="b d" d="M188.67 95.27h.01"/>
<path class="m d" d="M182.86 89.54h.01M190.08 90.86h.01M188.16 87.74h.01M190.08 84.78h.01"/>
<path class="b d" d="M182.86 90.85h.01M190.08 93.77h.01"/>
<path class="m d" d="M189.55 88.16h.01M182.86 86.9h.01"/>
<path class="b d" d="M190.08 94.32h.01M190.08 91.61h.01M190.08 97.97h.01"/>
<path class="m d" d="M182.86 86.97h.01"/>
<path class="b d" d="M182.86 94.23h.01M190.08 94.74h.01M190.08 99.27h.01M182.86 88.87h.01M190.08 87.18h.01"/>
<path class="m d" d="M189.37 79.32h.01M187.6 83.51h.01"/>
<path class="b d" d="M190.08 96.54h.01M182.86 99.38h.01"/>
<path class="m d" d="M189.53 86.4h.01"/>
<path class="b d" d="M190.08 97.77h.01M183.58 98.08h.01"/>
<path class="m d" d="M187.96 80.85h.01M188.67 89.68h.01"/>
<path class="b d" d="M190.08 89.99h.01"/>
<path class="m d" d="M185.8 89.4h.01"/>
<path class="b d" d="M190.08 95.07h.01M190.08 98.08h.01"/>
<path class="b" d="M163.03 78.78h.01"/>
<path class="b d" d="M182.86 95.64h.01"/>
<path class="m d" d="M185.09 88.68h.01"/>
<path class="b d" d="M184.67 96.23h.01M182.86 92.53h.01"/>
<path class="b" d="M161.89 77.77h.01"/>
<path class="b d" d="M185.69 96.42h.01M182.86 94.17h.01"/>
<path class="m d" d="M182.86 76.97h.01"/>
<path class="b d" d="M190.08 97.46h.01"/>
<path class="m" d="M162.49 75.14h.01"/>
<path class="m d" d="M190.08 88.95h.01M187.53 85.84h.01M190.08 89.51h.01M182.86 86.06h.01M182.86 85.47h.01M184.2 79.66h.01M184.54 81.24h.01M182.86 87.59h.01M190.08 96.13h.01M184.91 92.53h.01M190.08 92.66h.01M183.97 87.26h.01M190.08 88.74h.01"/>
<path class="b d" d="M188.24 93.8h.01M190.08 95.33h.01M186.36 93.54h.01M190.08 91.75h.01M190.08 98.87h.01M182.86 95.92h.01"/>
<path class="m d" d="M182.86 80.9h.01"/>
<path class="b d" d="M182.86 98.81h.01"/>
<path class="m d" d="M190.08 93.25h.01"/>
<path class="b d" d="M182.86 97.78h.01M190.08 99.98h.01"/>
<path class="m d" d="M190.08 92.82h.01"/>
<path class="b d" d="M182.86 96.63h.01M182.86 95.32h.01"/>
<path class="m d" d="M189.26 81.07h.01"/>
<path class="b d" d="M190.08 97.92h.01"/>
<path class="m d" d="M185.44 85.84h.01M189.32 83.49h.01"/>
<path class="b d" d="M190.08 89.06h.01M182.86 99.96h.01M186.83 92.31h.01M188.25 96.22h.01M190.08 95.02h.01M190.08 97.65h.01M190.08 92.79h.01M190.08 94.17h.01M182.86 92.72h.01M186.47 95.79h.01M190.08 98.41h.01M182.86 98.91h.01M186.98 99.19h.01"/>
<path class="m d" d="M185.5 98.12h.01"/>
<path class="b d" d="M190.08 94.96h.01M182.86 98.77h.01"/>
<path class="m d" d="M187.51 79.86h.01"/>
<path class="b d" d="M182.86 93.84h.01"/>
<path class="m d" d="M183.67 83.8h.01"/>
<path class="b d" d="M182.86 97.36h.01M190.08 96.08h.01M182.86 97.75h.01M190.08 99.78h.01M182.86 99.66h.01M190.08 99.69h.01M182.86 99.54h.01M190.08 97.52h.01M190.08 98.58h.01M190.08 94.28h.01M190.08 97.39h.01M183.51 100.15h.01M190.08 99.51h.01M190.08 98.78h.01"/>
<path class="m d" d="M190.08 87.37h.01"/>
<path class="b d" d="M187.89 84.87h.01M190.08 99.41h.01M190.08 93.86h.01"/>
<path class="m d" d="M190.08 91.51h.01"/>
<path class="b d" d="M182.86 94.21h.01"/>
<path class="m d" d="M183.49 82.43h.01"/>
<path class="b d" d="M190.08 96.28h.01M190.08 96.77h.01M190.08 98.39h.01M182.86 99.89h.01"/>
<path class="m d" d="M187.3 88.22h.01M182.86 89.06h.01M190.08 83.72h.01"/>
<path class="b d" d="M182.86 88.75h.01M190.08 99.71h.01M182.86 99.97h.01M189.93 98.95h.01"/>
<path class="m d" d="M190.08 87.15h.01"/>
<path class="b d" d="M182.86 95.34h.01"/>
<path class="m d" d="M183.98 84.79h.01"/>
<path class="b d" d="M190.08 96.65h.01"/>
<path class="m d" d="M190.08 84.17h.01"/>
<path class="b d" d="M182.86 87.7h.01M190.08 85.76h.01M190.08 92.53h.01"/>
<path class="m d" d="M185.8 84.45h.01"/>
<path class="b d" d="M182.86 96.55h.01M182.86 97.77h.01M190.08 98.66h.01M182.86 93.02h.01M182.86 96.89h.01M187.97 99.11h.01M185.01 99.14h.01"/>
<path class="m d" d="M183.39 77.37h.01M184.71 78.76h.01M190.08 86.79h.01"/>
<path class="b d" d="M189.24 96.17h.01M183.97 92.23h.01M182.86 91.62h.01M182.86 98.4h.01M182.86 97.02h.01M182.86 96.36h.01M190.08 100.03h.01M182.86 96.13h.01M190.08 95.99h.01M190.08 94.64h.01M182.86 95.63h.01"/>
<path class="m d" d="M190.08 91.19h.01M182.86 87.87h.01"/>
<path class="b d" d="M190.08 92.15h.01"/>
<path class="m d" d="M185.26 90.66h.01M187.06 84.38h.01M188.22 76.65h.01"/>
<path class="b d" d="M190.08 95.63h.01"/>
<path class="m d" d="M190.08 86.81h.01M186.68 86.36h.01"/>
<path class="b d" d="M187.4 95.69h.01M190.08 93.14h.01M186.12 80.16h.01M182.86 97.52h.01M182.86 91.63h.01"/>
<path class="m" d="M159.81 75.44h.01"/>
<path class="b d" d="M190.08 92.7h.01M182.86 95h.01M190.08 90.49h.01M190.08 89.52h.01M190.08 90.65h.01"/>
<path class="m d" d="M189.9 91.28h.01"/>
<path class="b d" d="M182.86 89.95h.01M182.86 96.53h.01M182.86 90.13h.01"/>
<path class="m d" d="M186.56 87.45h.01"/>
<path class="b d" d="M190.08 97.29h.01M182.86 100.15h.01"/>
<path class="m d" d="M188.5 81.74h.01M185.93 76.77h.01"/>
<path class="b d" d="M182.86 94.83h.01M182.86 97.34h.01M190.08 88.75h.01M190.08 93.85h.01M183.42 93.26h.01M182.86 95.35h.01"/>
<path class="m" d="M159.59 73.25h.01"/>
<path class="b d" d="M190.08 95.13h.01M186.86 94.83h.01M190.08 94.15h.01M182.86 98.52h.01M182.86 95.47h.01M190.08 92.49h.01M190.08 94.06h.01"/>
<path class="m d" d="M189.54 89.21h.01"/>
<path class="b d" d="M182.86 95.58h.01M182.86 94.14h.01M190.08 96.61h.01M190.08 93.96h.01M182.86 89.82h.01"/>
<path class="m d" d="M190.08 95.02h.01"/>
<path class="b d" d="M182.86 96.29h.01M187.44 98.11h.01"/>
<path class="m d" d="M182.86 86.19h.01"/>
<path class="b d" d="M190.08 97.04h.01M183.05 98.96h.01M190.08 91.66h.01M182.86 89.48h.01M182.86 92.52h.01M190.08 88.01h.01M190.08 99.46h.01M182.86 99.74h.01M182.86 90.41h.01M190.08 93.76h.01M182.86 98.63h.01M184.03 99h.01"/>
<path class="m" d="M160.75 73.3h.01"/>
<path class="b d" d="M182.98 92.18h.01"/>
<path class="m d" d="M186.02 82.55h.01M182.86 87.18h.01"/>
<path class="b d" d="M190.08 96.1h.01"/>
<path class="m d" d="M184.8 86.66h.01"/>
<path class="b d" d="M190.08 97.79h.01M190.08 96.45h.01M182.86 98.57h.01M189.41 98.07h.01M190.08 84.3h.01"/>
<path class="m d" d="M185.52 83.45h.01"/>
<path class="b d" d="M188.94 98.98h.01M190.08 98.83h.01"/>
<path class="m d" d="M184.1 85.93h.01"/>
<path class="b d" d="M190.08 94.81h.01"/>
<path class="m d" d="M187.97 78.93h.01"/>
<path class="b d" d="M189.33 93.32h.01M185.18 87.62h.01"/>
<path class="m d" d="M188.7 85.56h.01"/>
<path class="b d" d="M190.08 89.48h.01"/>
<path class="m d" d="M190.08 86.96h.01"/>
<path class="b d" d="M190.08 94.14h.01M182.86 95.6h.01M187.29 93.89h.01M190.08 97.83h.01M184.16 90.46h.01M182.86 95.54h.01M182.86 98.67h.01M190.08 97.77h.01"/>
<path class="m d" d="M184.58 91.4h.01M189.29 77.5h.01"/>
<path class="b d" d="M190.08 95.27h.01M190.08 93.98h.01M182.86 93.93h.01M188.82 78.41h.01M182.86 85.22h.01M182.86 98.02h.01"/>
<path class="m d" d="M190.08 83.03h.01"/>
<path class="b d" d="M182.86 89.59h.01M190.08 95.92h.01M182.86 98.32h.01M184.88 89.7h.01M188.44 100.15h.01M186.66 88.99h.01M188.67 88.62h.01M182.86 91.82h.01M182.86 95.56h.01M188.72 91.54h.01"/>
<path class="m d" d="M182.86 80.6h.01"/>
<path class="b d" d="M182.86 94.78h.01M182.86 94.6h.01M182.86 94.02h.01M182.86 94.37h.01M182.86 86.87h.01M182.86 83.92h.01M190.08 92.07h.01"/>
<path class="m d" d="M182.86 80.47h.01"/>
<path class="b d" d="M189.63 95.21h.01"/>
<path class="m d" d="M190.08 91.94h.01"/>
<path class="b d" d="M190.08 96.07h.01M190.08 96.67h.01"/>
<path class="m d" d="M182.86 91.71h.01"/>
<path class="b d" d="M190.08 99.59h.01M182.86 97.6h.01M184.93 94.51h.01M184.18 88.27h.01M184.39 93.43h.01"/>
<path class="m d" d="M190.08 88.44h.01M188.45 82.98h.01"/>
<path class="b d" d="M182.86 94h.01"/>
<path class="m d" d="M182.86 88.94h.01"/>
<path class="b d" d="M190.08 93.89h.01"/>
<path class="m d" d="M182.86 87.57h.01"/>
<path class="b d" d="M182.86 93.19h.01M182.86 90.49h.01M182.86 88.43h.01M190.08 95.98h.01M190.08 93.69h.01"/>
<path class="m d" d="M190.08 80.55h.01"/>
<path class="b d" d="M182.86 91.23h.01M182.86 96.5h.01"/>
<path class="m d" d="M182.86 83.22h.01"/>
<path class="b d" d="M182.86 91.89h.01"/>
<path class="m d" d="M182.86 90.65h.01"/>
<path class="b d" d="M187.85 94.76h.01"/>
<path class="m d" d="M190.08 87.69h.01M190.08 86.27h.01"/>
<path class="b d" d="M182.86 96.02h.01M185.38 95.43h.01M182.86 96.84h.01"/>
<path class="m d" d="M189.24 84.71h.01"/>
<path class="b d" d="M182.86 99.31h.01M182.86 93.73h.01M190.08 97.35h.01M183.88 94.33h.01M186.45 91.35h.01M182.86 94.21h.01M190.08 94.98h.01M190.08 94.77h.01M190.08 95.62h.01M190.08 91.01h.01M183.64 96.15h.01"/>
<path class="m d" d="M187.15 89.9h.01"/>
<path class="b d" d="M182.86 93.11h.01"/>
<path class="m d" d="M189.93 85.45h.01M190.08 86.11h.01"/>
<path class="b d" d="M190.08 95.52h.01M190.08 100.15h.01M190.08 88.9h.01M190.08 94.19h.01M182.86 86.75h.01M182.86 94.81h.01M182.86 96.63h.01M190.08 95.58h.01M182.86 96.67h.01M190.08 98.7h.01M190.07 94.24h.01M183.05 97.05h.01M184.53 98.1h.01M187.46 100.15h.01M182.86 94.96h.01M190.08 97.28h.01M182.86 97.5h.01M190.08 92.06h.01M185.37 93.52h.01M182.86 99.82h.01M184.49 100.15h.01M182.86 88.01h.01M190.08 88.11h.01M182.86 95.75h.01M185.48 100.15h.01"/>
<path class="m" d="M160.75 64.03h.01"/>
<path class="m d" d="M183.88 78.27h.01M188.33 86.53h.01M182.86 89.49h.01M190.08 88.87h.01"/>
<path class="m" d="M160.75 72.03h.01"/>
<path class="b d" d="M186.47 100.15h.01"/>
<path class="m" d="M166.04 78.53h.01"/>
<path class="m d" d="M191.88 83.61h.01M192.66 77.61h.01M195.99 76.09h.01M191.88 86.09h.01M199.09 84.86h.01M197.9 82.85h.01M199.09 86.81h.01M194.76 81.51h.01M199.09 79.93h.01M196.03 92.69h.01M193.27 84.14h.01M197.11 84.59h.01M196.39 91.41h.01M193.76 79.95h.01M192.63 85.17h.01M198.36 86.25h.01M196.64 81.37h.01M197.4 78.06h.01"/>
<path class="b d" d="M191.88 89.63h.01M191.88 95.52h.01M191.88 96.63h.01"/>
<path class="m d" d="M193.58 78h.01M199.09 82.04h.01M199.09 81.14h.01M195.03 76.35h.01"/>
<path class="m" d="M169.35 78.01h.01"/>
<path class="m d" d="M191.88 87.51h.01M195.78 81.89h.01M191.88 87.86h.01M191.88 83.74h.01M191.88 86.92h.01M199.09 83.75h.01M191.88 84.4h.01M199.09 83.57h.01M197.98 84.11h.01M192.18 87.96h.01"/>
<path class="b d" d="M194.31 97.91h.01"/>
<path class="m d" d="M199.09 100.13h.01M199.09 79.42h.01M199.09 91.48h.01M191.88 88.2h.01M197.43 76.95h.01M199.09 87.48h.01M196.41 86.27h.01M194.55 78.16h.01"/>
<path class="b d" d="M199.09 100.49h.01"/>
<path class="m d" d="M199.09 81.21h.01"/>
<path class="b d" d="M191.88 96.29h.01M195.49 89.69h.01M191.88 99.28h.01M199.09 94.15h.01M199.09 96.56h.01"/>
<path class="m d" d="M193.56 89.24h.01M191.88 87.09h.01"/>
<path class="b d" d="M191.88 96.54h.01"/>
<path class="m d" d="M199.09 81.18h.01M191.88 83.89h.01"/>
<path class="b d" d="M196.98 102.02h.01M199.09 98.53h.01M199.09 100.47h.01M195.82 100.26h.01"/>
<path class="m d" d="M199.09 84.4h.01"/>
<path class="b d" d="M191.88 97.83h.01"/>
<path class="m d" d="M199.09 85.13h.01M191.88 86.2h.01"/>
<path class="b d" d="M191.88 96.33h.01M191.88 95.86h.01M191.88 84.77h.01M199.09 97h.01"/>
<path class="m d" d="M194.23 84.36h.01"/>
<path class="b d" d="M191.88 98.15h.01"/>
<path class="m d" d="M194.23 83.2h.01M195.18 88.63h.01"/>
<path class="b d" d="M191.88 94.07h.01"/>
<path class="m d" d="M191.88 87.19h.01"/>
<path class="b d" d="M191.88 95.39h.01"/>
<path class="m d" d="M193.86 81.07h.01M198.82 76.79h.01"/>
<path class="b d" d="M191.88 94.84h.01M191.88 96.74h.01M198.11 85.21h.01"/>
<path class="m" d="M168.52 76.19h.01"/>
<path class="m d" d="M191.88 83.81h.01"/>
<path class="b d" d="M199.09 95.15h.01"/>
<path class="m d" d="M199.09 85.91h.01M193.4 90.29h.01M191.88 82.6h.01"/>
<path class="b d" d="M199.09 90.5h.01M191.88 88.48h.01M199.09 95.88h.01"/>
<path class="m d" d="M199.09 87.65h.01"/>
<path class="b d" d="M191.88 92.65h.01M191.88 94.86h.01"/>
<path class="m d" d="M199.09 80.93h.01M191.88 86.63h.01"/>
<path class="b d" d="M191.88 97h.01M191.88 100.68h.01M191.88 94.29h.01"/>
<path class="m d" d="M191.88 86.72h.01M191.88 90.73h.01"/>
<path class="b d" d="M192.52 103.18h.01M191.88 95.37h.01M199.09 92.93h.01M199.01 99.81h.01"/>
<path class="m d" d="M199.09 82.29h.01"/>
<path class="b d" d="M191.88 90.37h.01M193.63 94.3h.01"/>
<path class="m" d="M169.57 75.72h.01"/>
<path class="b d" d="M199.09 94.47h.01M199.09 97.57h.01M191.88 91.56h.01M196.69 87.35h.01M199.09 96.73h.01M199.09 92.14h.01M191.88 95.56h.01M199.09 99.14h.01"/>
<path class="m d" d="M197.53 81.86h.01M193.12 81.78h.01M191.88 90.72h.01"/>
<path class="b d" d="M191.88 93.76h.01"/>
<path class="m d" d="M199.09 85.57h.01M192.86 79.53h.01"/>
<path class="b d" d="M199.09 90.34h.01M199.09 93.74h.01M191.88 97.81h.01"/>
<path class="m d" d="M199.09 89.2h.01M199.09 90.37h.01"/>
<path class="b d" d="M199.09 88.21h.01"/>
<path class="m d" d="M199.09 84.96h.01"/>
<path class="b d" d="M191.88 94.57h.01"/>
<path class="m d" d="M194.02 87.25h.01M191.88 89.38h.01"/>
<path class="b d" d="M191.88 88.73h.01"/>
<path class="m d" d="M191.88 88.67h.01M191.88 93.37h.01"/>
<path class="b d" d="M199.09 95.85h.01M199.09 94.27h.01"/>
<path class="m d" d="M191.88 85.64h.01"/>
<path class="b d" d="M191.88 94.12h.01M191.88 103.18h.01"/>
<path class="m d" d="M196.59 90.39h.01"/>
<path class="b d" d="M191.88 96.45h.01M191.88 92.54h.01M199.09 99.59h.01M199.09 96.83h.01"/>
<path class="m d" d="M191.88 83.56h.01"/>
<path class="b d" d="M191.88 94.34h.01M193.51 86.36h.01M191.88 96.85h.01M191.88 96.56h.01M199.09 94.89h.01M191.88 86.65h.01M195.81 97.39h.01M199.09 92.95h.01M191.88 94.54h.01"/>
<path class="m d" d="M199.09 87.24h.01"/>
<path class="b d" d="M199.09 94.31h.01M191.88 95.79h.01M194.56 99.02h.01M199.09 94.86h.01"/>
<path class="m d" d="M199.09 84.49h.01M197.03 79.54h.01"/>
<path class="b d" d="M191.88 94.56h.01"/>
<path class="m d" d="M195.49 78.5h.01"/>
<path class="b d" d="M199.09 97.13h.01M191.88 98.34h.01"/>
<path class="m d" d="M191.88 87.67h.01M191.88 85.08h.01"/>
<path class="b d" d="M191.88 94.26h.01M197.38 93.3h.01"/>
<path class="m d" d="M191.88 90.98h.01M199.09 83.96h.01"/>
<path class="b d" d="M192.38 98.65h.01M199.09 103.18h.01M198.45 103.18h.01M191.88 92.76h.01"/>
<path class="m d" d="M198.52 81.77h.01"/>
<path class="b d" d="M196.01 102.21h.01M191.88 98.99h.01"/>
<path class="m" d="M167.29 78.16h.01M167.44 75.8h.01"/>
<path class="m d" d="M199.09 86.97h.01"/>
<path class="b d" d="M191.88 96.56h.01"/>
<path class="m d" d="M197.78 90.28h.01"/>
<path class="b d" d="M194.05 102.09h.01"/>
<path class="m d" d="M199.09 86.65h.01"/>
<path class="b d" d="M191.88 91.62h.01M191.88 98.65h.01M199.09 98.12h.01"/>
<path class="m d" d="M191.88 84.54h.01"/>
<path class="b d" d="M199.09 98.16h.01M191.88 103.18h.01"/>
<path class="m d" d="M191.88 87.83h.01M199.09 85.01h.01"/>
<path class="b d" d="M199.09 94.52h.01"/>
<path class="m d" d="M191.88 85.58h.01M191.88 93.52h.01M196.31 85.21h.01M191.88 83.84h.01"/>
<path class="b d" d="M195.49 91.82h.01"/>
<path class="m d" d="M192.3 82.78h.01"/>
<path class="m" d="M165.41 77.66h.01"/>
<path class="m d" d="M191.88 82h.01"/>
<path class="b d" d="M199.09 92.5h.01"/>
<path class="m d" d="M199.09 90.01h.01"/>
<path class="b d" d="M199.09 97.3h.01"/>
<path class="m d" d="M199.09 91.65h.01"/>
<path class="b d" d="M191.88 91.34h.01M196.94 92.29h.01"/>
<path class="m d" d="M195.88 82.98h.01"/>
<path class="b d" d="M199.09 95.91h.01"/>
<path class="m d" d="M194.67 86.4h.01M191.88 91.62h.01M199.09 84.54h.01M195.49 85.78h.01"/>
<path class="b d" d="M198.31 91.21h.01M191.88 99.43h.01"/>
<path class="m d" d="M192.29 84.03h.01M199.09 86.09h.01"/>
<path class="b d" d="M191.88 94.71h.01M191.88 93.62h.01M199.09 97.32h.01"/>
<path class="m d" d="M194.94 87.62h.01"/>
<path class="b d" d="M199.09 93h.01M199.09 91.75h.01M196.22 98.49h.01M199.09 88.67h.01M195.49 90.77h.01"/>
<path class="m d" d="M199.09 82.38h.01M199.09 76.43h.01"/>
<path class="b d" d="M194.53 100.99h.01M194.89 100.03h.01"/>
<path class="m d" d="M199.09 86.74h.01"/>
<path class="b d" d="M199.09 95.59h.01M199.09 94.81h.01"/>
<path class="m d" d="M194.14 75.9h.01M193.31 87.98h.01"/>
<path class="b d" d="M199.09 94.54h.01"/>
<path class="m d" d="M191.88 81.44h.01"/>
<path class="b d" d="M191.88 93.48h.01M199.09 98.92h.01M191.88 90.37h.01M196.6 96.76h.01"/>
<path class="m d" d="M191.88 86.73h.01"/>
<path class="b d" d="M191.88 96.1h.01M198.75 97.95h.01M197.5 86.76h.01M191.88 96.73h.01M199.09 93.07h.01"/>
<path class="m d" d="M191.88 81.03h.01"/>
<path class="b d" d="M199.09 96.3h.01"/>
<path class="m d" d="M193.42 76.8h.01M195.12 83.64h.01M191.88 82.15h.01M199.09 88.73h.01M198.88 82.76h.01M195.49 79.73h.01M195.49 77.28h.01M199.09 81.99h.01M194.6 85.33h.01M191.88 94.52h.01M192.77 87.11h.01M197.95 94.17h.01M191.88 82.31h.01M197.25 85.73h.01"/>
<path class="b d" d="M199.09 94.84h.01M191.88 96.67h.01M191.88 97.1h.01M199.09 94.14h.01M191.88 99.68h.01M199.09 93.98h.01"/>
<path class="m d" d="M199.09 83.81h.01"/>
<path class="b d" d="M196.92 97.76h.01"/>
<path class="m d" d="M197.36 91.23h.01"/>
<path class="b d" d="M195.46 93.77h.01M193.07 102.02h.01"/>
<path class="m d" d="M191.88 89.57h.01"/>
<path class="b d" d="M191.93 97.73h.01M199.09 92.67h.01"/>
<path class="m d" d="M197.11 83.49h.01"/>
<path class="b d" d="M199.09 94.46h.01"/>
<path class="m d" d="M199.09 79.49h.01M191.88 84.96h.01"/>
<path class="b d" d="M199.09 92.48h.01M195.03 102.26h.01M199.09 91.03h.01M199.09 97.54h.01M199.09 93.38h.01M199.09 96.66h.01M191.88 92.44h.01M199.09 87.52h.01M191.88 92.07h.01M194.35 93.57h.01M199.09 96.51h.01M194.9 97.08h.01M193.92 99.82h.01"/>
<path class="m d" d="M191.88 95.65h.01"/>
<path class="b d" d="M199.09 95.26h.01M196.74 99.9h.01"/>
<path class="m d" d="M191.88 82.35h.01"/>
<path class="b d" d="M197.65 95.16h.01"/>
<path class="m d" d="M193.27 82.95h.01"/>
<path class="b d" d="M199.09 96.32h.01M191.88 97.39h.01M199.09 98.12h.01M198.34 100.55h.01M197.93 101.72h.01M193.55 100.86h.01M193 99.47h.01M197.93 97.14h.01M193.73 97.07h.01M191.88 94.33h.01M195.22 98.22h.01M197.46 103.18h.01M199.09 100.25h.01M195.49 101.24h.01"/>
<path class="m d" d="M191.88 84.5h.01"/>
<path class="b d" d="M199.09 91.14h.01M191.88 100.2h.01M191.88 92.93h.01"/>
<path class="m d" d="M199.09 88.19h.01"/>
<path class="b d" d="M192.68 91.03h.01"/>
<path class="m" d="M171.03 78.19h.01"/>
<path class="b d" d="M199.09 97.34h.01M199.09 97.29h.01M191.88 96.99h.01M191.88 100.24h.01"/>
<path class="m d" d="M199.09 86.53h.01M197.92 92.17h.01M199.09 82.34h.01"/>
<path class="b d" d="M191.88 92.81h.01M196.46 101.06h.01M198.88 101.43h.01M198.4 98.99h.01"/>
<path class="m d" d="M199.09 83.96h.01"/>
<path class="b d" d="M199.09 97.03h.01"/>
<path class="m d" d="M192.14 81.63h.01"/>
<path class="b d" d="M191.88 96.35h.01"/>
<path class="m d" d="M191.88 81.2h.01"/>
<path class="b d" d="M198.62 88.31h.01M199.09 94.64h.01M199.09 91.87h.01"/>
<path class="m d" d="M191.88 79.46h.01"/>
<path class="b d" d="M199.09 94.91h.01M199.09 98.9h.01M199.09 97.83h.01M192.45 90.02h.01M191.88 96.29h.01M199.09 98.17h.01M193.66 98.7h.01"/>
<path class="m d" d="M192.93 80.72h.01"/>
<path class="m" d="M168.39 77.41h.01"/>
<path class="m d" d="M199.09 87.13h.01"/>
<path class="b d" d="M191.88 99.06h.01M191.88 93.44h.01M199.09 89.95h.01M191.88 97.34h.01M197.79 98.17h.01M193.07 97.87h.01M192.23 101.46h.01M191.88 97.28h.01M199.09 94.44h.01M199.09 93.58h.01M191.88 95.83h.01"/>
<path class="m d" d="M195.49 84.61h.01M191.96 80.54h.01"/>
<path class="b d" d="M191.88 93.89h.01"/>
<path class="m d" d="M196.27 84.03h.01M191.88 77.59h.01M198.02 79.53h.01"/>
<path class="b d" d="M194.58 94.58h.01"/>
<path class="m d" d="M196.76 82.5h.01M199.09 80.96h.01"/>
<path class="b d" d="M199.09 95.83h.01M199.09 90.02h.01M197.76 87.77h.01M199.09 97.1h.01M191.88 92.09h.01"/>
<path class="m d" d="M192.35 76.63h.01"/>
<path class="b d" d="M191.88 89.32h.01M199.09 96.08h.01M191.88 91.69h.01M191.88 92.87h.01M199.09 93.53h.01"/>
<path class="m d" d="M192.63 88.88h.01"/>
<path class="b d" d="M191.88 93.57h.01M191.88 98.41h.01M191.88 94.48h.01"/>
<path class="m d" d="M198.96 83.98h.01"/>
<path class="b d" d="M193.28 96.14h.01M199.09 103.18h.01"/>
<path class="m d" d="M195.53 80.87h.01M198.33 77.7h.01"/>
<path class="b d" d="M199.09 96.59h.01M191.88 94.86h.01M199.09 87.9h.01M191.88 94.45h.01M191.88 97.34h.01M191.88 97.55h.01"/>
<path class="m d" d="M195 82.52h.01"/>
<path class="b d" d="M192.34 95.95h.01M194.33 96.23h.01M199.09 94.36h.01M191.88 98.14h.01M191.88 94.89h.01M193.64 91.3h.01M191.88 97.29h.01"/>
<path class="m d" d="M191.88 82.41h.01"/>
<path class="b d" d="M198.36 93.15h.01M192.6 94.03h.01M199.09 95.37h.01M192.63 100.49h.01M194.53 89.42h.01"/>
<path class="m d" d="M199.09 96.27h.01"/>
<path class="b d" d="M191.88 94.49h.01M195.52 99.22h.01"/>
<path class="m d" d="M197.42 80.73h.01"/>
<path class="b d" d="M191.88 94.53h.01M191.88 98.65h.01M197.42 96.17h.01M194.56 91.53h.01M199.09 91.56h.01M196.96 88.38h.01M199.09 98.36h.01M191.88 100.47h.01M199.09 93.39h.01M193.87 95.31h.01M197.11 98.93h.01M199.09 99.38h.01"/>
<path class="m d" d="M196.46 77.14h.01"/>
<path class="b d" d="M195.15 95.43h.01"/>
<path class="m d" d="M196.37 80.32h.01M193.62 85.21h.01"/>
<path class="b d" d="M199.09 94.8h.01"/>
<path class="m d" d="M191.88 83.96h.01"/>
<path class="b d" d="M199.09 96.47h.01M191.88 95.34h.01M199.09 96.99h.01M199.09 94.54h.01M199.09 86.82h.01"/>
<path class="m d" d="M191.88 84.89h.01"/>
<path class="b d" d="M191.98 99.7h.01M197.4 100.85h.01"/>
<path class="m d" d="M191.88 87.03h.01"/>
<path class="b d" d="M191.88 90.54h.01"/>
<path class="m d" d="M199.09 82.46h.01"/>
<path class="b d" d="M199.09 94.44h.01M199.09 93.09h.01"/>
<path class="m d" d="M191.96 79.19h.01"/>
<path class="b d" d="M191.88 93.98h.01"/>
<path class="m d" d="M199.09 87.76h.01"/>
<path class="b d" d="M196.38 95.7h.01M192.16 91.94h.01M195.06 92.82h.01M192.93 95.02h.01M198.35 95.99h.01M198.88 96.87h.01M192.6 96.95h.01M191.88 98.06h.01"/>
<path class="m d" d="M195.57 86.82h.01"/>
<path class="m" d="M170.11 78.85h.01"/>
<path class="b d" d="M191.88 97.33h.01M191.88 94.46h.01M193.11 92.19h.01M196.13 88.91h.01M199.09 90.76h.01M199.09 100.55h.01"/>
<path class="m d" d="M194.03 82.18h.01"/>
<path class="b d" d="M191.88 88.28h.01M199.09 96.28h.01M199.09 97.35h.01M199.09 91.12h.01M193.51 103.18h.01M191.88 94.8h.01M191.88 92.89h.01M199.09 89.09h.01M199.09 96.64h.01M191.88 95.37h.01"/>
<path class="m d" d="M199.09 84.51h.01"/>
<path class="b d" d="M191.88 97.2h.01M196.82 94.61h.01M191.88 89.14h.01M196.44 93.63h.01M195.85 87.91h.01M199.09 89.06h.01M198.62 94.95h.01"/>
<path class="m d" d="M199.09 81.51h.01"/>
<path class="b d" d="M199.09 92.86h.01"/>
<path class="m d" d="M199.09 93.99h.01"/>
<path class="b d" d="M199.09 96.52h.01M199.09 94.41h.01"/>
<path class="m d" d="M191.88 87.52h.01"/>
<path class="b d" d="M191.88 100.36h.01M199.09 98.77h.01M194.17 92.48h.01M194.22 88.38h.01M199.09 92.1h.01"/>
<path class="m d" d="M199.09 85.69h.01M191.88 80.95h.01"/>
<path class="b d" d="M199.09 92.47h.01"/>
<path class="m d" d="M191.88 87.18h.01"/>
<path class="b d" d="M199.09 94.33h.01"/>
<path class="m d" d="M194.58 79.36h.01"/>
<path class="b d" d="M191.88 92.4h.01M191.88 91.87h.01M199.09 94.67h.01M193.43 93.17h.01M197.81 88.91h.01"/>
<path class="m d" d="M194.64 80.42h.01"/>
<path class="b d" d="M198.88 92.07h.01M191.98 94.81h.01"/>
<path class="m d" d="M191.88 81.6h.01"/>
<path class="b d" d="M199.09 93.52h.01"/>
<path class="m d" d="M191.88 91.4h.01"/>
<path class="b d" d="M191.88 94.2h.01"/>
<path class="m d" d="M198.86 87.3h.01M192.26 86.21h.01"/>
<path class="b d" d="M191.88 91.65h.01M195.87 94.72h.01M199.09 95.54h.01"/>
<path class="m d" d="M194.35 77.14h.01"/>
<path class="b d" d="M199.09 100.2h.01M198.58 89.67h.01M191.88 96.32h.01M199.09 94.23h.01M199.09 88.17h.01M199.09 91.93h.01M191.88 92.5h.01M199.09 95.41h.01M191.88 92.56h.01M191.88 94.64h.01M199.08 94.03h.01"/>
<path class="m d" d="M199.09 86.21h.01"/>
<path class="b d" d="M199.09 92.81h.01"/>
<path class="m d" d="M198.4 80.58h.01M199.09 88.85h.01"/>
<path class="b d" d="M196.95 89.42h.01M191.88 103.18h.01M199.09 97.92h.01M191.88 95.9h.01M194.37 90.5h.01M191.88 91.66h.01M199.09 94.81h.01M199.09 95.98h.01M199.09 95.64h.01M199.09 100.68h.01M191.88 94.42h.01M199.09 99.14h.01M197.72 99.75h.01M199.09 103.18h.01M199.09 96.44h.01M191.88 96.35h.01M191.88 100.49h.01M195.61 96.35h.01M191.88 93.58h.01M191.88 100.84h.01M196.47 103.18h.01M199.09 91.56h.01M192.35 93.03h.01M199.09 92.16h.01M194.5 103.18h.01"/>
<path class="m d" d="M196.47 78.39h.01M191.88 76.44h.01M191.88 79.87h.01M191.88 86.05h.01M191.88 88.26h.01"/>
<path class="m" d="M168.36 78.57h.01"/>
<path class="b d" d="M195.49 103.18h.01"/>
<path class="m" d="M176.3 75.25h.01"/>
<path class="m d" d="M208.11 92.81h.01M203.75 83.16h.01"/>
<path class="m" d="M176.3 51.49h.01"/>
<path class="m d" d="M208.11 97.13h.01"/>
<path class="m" d="M176.77 82.44h.01"/>
<path class="m d" d="M208.11 89.31h.01M208.11 87.82h.01"/>
<path class="m" d="M175.15 77.85h.01M176.3 77.99h.01"/>
<path class="m d" d="M200.9 90.6h.01"/>
<path class="m" d="M177.25 84.69h.01"/>
<path class="m d" d="M200.9 88.05h.01M208.11 92.15h.01M200.9 83.35h.01"/>
<path class="m" d="M176.3 79.72h.01"/>
<path class="m d" d="M208.11 89.69h.01M201.47 82.12h.01M200.9 92.61h.01"/>
<path class="b d" d="M200.9 90.27h.01M200.9 87.96h.01M204.5 96.16h.01"/>
<path class="m" d="M175.48 74.48h.01"/>
<path class="m d" d="M208.11 92.01h.01M206.24 83.16h.01"/>
<path class="m" d="M173.57 81.49h.01M174.07 79.18h.01"/>
<path class="m d" d="M204.5 97.38h.01"/>
<path class="m" d="M174.62 81.95h.01"/>
<path class="m d" d="M203.16 92.74h.01M204.02 85.05h.01"/>
<path class="m" d="M177.45 73.39h.01"/>
<path class="m d" d="M206.69 84.09h.01M202.39 82.5h.01"/>
<path class="m" d="M178.52 79.11h.01M176.6 72.2h.01"/>
<path class="m d" d="M208.11 83.41h.01"/>
<path class="b d" d="M203.52 101.34h.01"/>
<path class="m" d="M176.3 110.67h.01"/>
<path class="m d" d="M200.9 92.17h.01M200.9 90.08h.01M203 90.42h.01"/>
<path class="m" d="M177.07 74.45h.01"/>
<path class="m d" d="M204.5 81.75h.01M200.9 82.27h.01"/>
<path class="m" d="M175.41 84.61h.01"/>
<path class="b d" d="M200.9 88.84h.01"/>
<path class="m" d="M176.3 83.43h.01"/>
<path class="b d" d="M208.02 92.84h.01M200.9 91.46h.01M208.11 96.35h.01M208.11 97.33h.01M204.3 92.42h.01"/>
<path class="m d" d="M208.11 89.78h.01M208.11 93.65h.01"/>
<path class="b d" d="M200.9 86.59h.01"/>
<path class="m d" d="M208.11 84.01h.01M203.35 82.21h.01"/>
<path class="b d" d="M200.9 96.29h.01M200.9 87.56h.01M205.45 83.79h.01M208.11 90.33h.01"/>
<path class="m d" d="M200.9 91.76h.01"/>
<path class="b d" d="M204.57 86.86h.01"/>
<path class="m d" d="M200.9 85.73h.01M200.9 86.43h.01"/>
<path class="b d" d="M202.62 91.38h.01M201.25 96.72h.01"/>
<path class="b" d="M175.14 79.6h.01"/>
<path class="b d" d="M208.11 96.91h.01"/>
<path class="m d" d="M200.9 95.04h.01"/>
<path class="b d" d="M200.9 98.36h.01"/>
<path class="m d" d="M207.61 86.52h.01M208.11 94.61h.01"/>
<path class="b d" d="M208.11 94.29h.01"/>
<path class="m d" d="M208.11 93.93h.01"/>
<path class="b d" d="M200.9 93.26h.01"/>
<path class="m d" d="M206.21 81.62h.01"/>
<path class="m" d="M176.3 65.46h.01"/>
<path class="b d" d="M208.11 92.49h.01M208.11 92.68h.01M200.9 84.12h.01"/>
<path class="m d" d="M206.17 97.23h.01M208.11 97.72h.01"/>
<path class="b d" d="M205.72 85.78h.01"/>
<path class="m d" d="M208.11 82.25h.01M208.11 89.79h.01"/>
<path class="m" d="M175.37 82.78h.01"/>
<path class="b d" d="M200.9 90.33h.01M208.11 88.33h.01M200.9 95.36h.01"/>
<path class="m d" d="M200.9 94.98h.01"/>
<path class="b d" d="M206.83 100.89h.01M200.9 93.62h.01"/>
<path class="m d" d="M208.11 91.87h.01M200.9 82.31h.01"/>
<path class="b d" d="M208.11 98.66h.01"/>
<path class="b" d="M179.4 106.37h.01"/>
<path class="b d" d="M208.11 92.56h.01"/>
<path class="m d" d="M208.11 93.17h.01M200.9 93.92h.01"/>
<path class="b d" d="M208.11 90.78h.01M208.11 93.44h.01M200.9 94.24h.01M201.33 91.96h.01"/>
<path class="m d" d="M200.9 88.37h.01"/>
<path class="b d" d="M205.44 92.18h.01M208.11 90.21h.01"/>
<path class="m" d="M178.79 81.62h.01"/>
<path class="b d" d="M200.9 91.93h.01M208.11 95.24h.01M200.9 98.67h.01M205.28 96.75h.01M208.11 96.91h.01M205.44 90.84h.01M208.11 96.3h.01"/>
<path class="b" d="M174.61 109.65h.01"/>
<path class="m d" d="M201.75 83.48h.01M200.9 86.95h.01"/>
<path class="m" d="M177.73 71.97h.01"/>
<path class="b d" d="M208.11 89.84h.01"/>
<path class="m d" d="M208.11 91.2h.01M208.11 87.53h.01"/>
<path class="b d" d="M200.9 91.26h.01M205.15 100.66h.01M200.9 97.13h.01"/>
<path class="m d" d="M205.93 84.76h.01M208.11 91.79h.01"/>
<path class="b d" d="M200.9 94.6h.01"/>
<path class="m d" d="M202.53 86.61h.01"/>
<path class="b d" d="M204.98 84.77h.01"/>
<path class="m d" d="M200.9 91.84h.01M202.49 84.65h.01"/>
<path class="b d" d="M200.9 93.11h.01"/>
<path class="m d" d="M200.9 88.8h.01M208.11 91.93h.01"/>
<path class="b" d="M176.61 108.95h.01"/>
<path class="b d" d="M200.9 93.64h.01"/>
<path class="m d" d="M200.9 85.39h.01"/>
<path class="b d" d="M205.96 100.05h.01M200.9 88.84h.01"/>
<path class="m d" d="M202.24 92.34h.01"/>
<path class="b d" d="M208.11 94.67h.01M204.47 83.88h.01M200.9 97.84h.01M200.9 93.07h.01"/>
<path class="m" d="M176.3 61.57h.01"/>
<path class="b d" d="M208.11 91.67h.01M200.9 93.47h.01M208.11 97.28h.01M208.11 87.82h.01M208.11 86.42h.01M202.03 88.81h.01M208.11 91.59h.01"/>
<path class="b" d="M178.16 84.02h.01"/>
<path class="b d" d="M208.11 88.75h.01"/>
<path class="m d" d="M208.11 96.02h.01"/>
<path class="b d" d="M200.9 95.3h.01M200.9 95.45h.01M200.9 92.94h.01M208.11 88.14h.01"/>
<path class="m d" d="M208.11 96.24h.01M204.69 82.83h.01"/>
<path class="b d" d="M200.9 98.2h.01"/>
<path class="m d" d="M207.45 83.43h.01"/>
<path class="b d" d="M208.11 93.97h.01M204.27 100.19h.01"/>
<path class="m d" d="M200.9 92.14h.01M208.11 99.41h.01"/>
<path class="b d" d="M208.11 96.68h.01M208.11 91.95h.01"/>
<path class="m d" d="M200.9 91.31h.01M200.9 87.6h.01"/>
<path class="b" d="M174.29 106.74h.01"/>
<path class="b d" d="M200.9 93.26h.01M208.11 94.58h.01M208.11 94.33h.01"/>
<path class="m d" d="M200.9 89.41h.01"/>
<path class="b d" d="M200.9 97.9h.01"/>
<path class="b" d="M175.86 108.13h.01"/>
<path class="m d" d="M200.9 91.63h.01"/>
<path class="m" d="M173.19 81.12h.01"/>
<path class="m d" d="M200.9 85.13h.01"/>
<path class="b" d="M174.76 107.8h.01"/>
<path class="m d" d="M205.07 88.06h.01"/>
<path class="b d" d="M208.11 90.76h.01"/>
<path class="m d" d="M208.11 87.71h.01"/>
<path class="b d" d="M208.11 94.8h.01M208.11 87.78h.01M200.9 95.81h.01"/>
<path class="m" d="M176.3 68.66h.01"/>
<path class="b d" d="M200.9 99.19h.01"/>
<path class="b" d="M178.72 106.66h.01"/>
<path class="m d" d="M207.54 87.61h.01M200.9 90.02h.01"/>
<path class="b d" d="M200.9 89.75h.01"/>
<path class="m d" d="M200.9 89.12h.01M200.9 97.07h.01M206.23 87.86h.01"/>
<path class="m" d="M176.3 73.48h.01"/>
<path class="b d" d="M208.11 93.73h.01"/>
<path class="m d" d="M203.91 90.82h.01M204.15 87.8h.01"/>
<path class="m" d="M177.11 77.22h.01"/>
<path class="b d" d="M200.9 89.86h.01"/>
<path class="m d" d="M208.11 85.38h.01"/>
<path class="b d" d="M204.66 90.14h.01"/>
<path class="m d" d="M208.11 86.94h.01"/>
<path class="b" d="M175.36 80.77h.01"/>
<path class="b d" d="M203 97.62h.01"/>
<path class="m d" d="M208.11 91.03h.01"/>
<path class="b d" d="M208.11 95.21h.01"/>
<path class="m" d="M175.77 109.7h.01M177.35 110.23h.01M174.56 73.82h.01"/>
<path class="m d" d="M200.9 82.97h.01"/>
<path class="b d" d="M200.9 85.58h.01M200.9 91.49h.01"/>
<path class="m d" d="M207.89 89.23h.01M207.1 93.22h.01"/>
<path class="b d" d="M208.11 96.95h.01M200.9 89.29h.01M208.11 89.4h.01"/>
<path class="m" d="M177.92 82.34h.01"/>
<path class="b d" d="M208.11 95.54h.01M208.11 89.32h.01M200.9 94.32h.01M200.9 90.53h.01M200.9 91.96h.01"/>
<path class="m d" d="M203.1 85.47h.01M208.11 88.8h.01"/>
<path class="b d" d="M208.11 91.7h.01M201.73 91.01h.01"/>
<path class="m d" d="M208.11 96.31h.01"/>
<path class="b d" d="M208.11 92.73h.01M208.11 98.67h.01"/>
<path class="m d" d="M200.9 88.86h.01M208.11 98.53h.01"/>
<path class="b" d="M175.44 106.88h.01"/>
<path class="m d" d="M200.9 91.66h.01"/>
<path class="b d" d="M200.9 95.27h.01M207.11 91.12h.01M208.11 86.57h.01M208.11 93.78h.01"/>
<path class="m d" d="M200.9 90.91h.01"/>
<path class="b d" d="M208.11 91.32h.01M206.33 92.62h.01M203.13 94.05h.01M208.11 85.44h.01M200.9 93.77h.01"/>
<path class="m d" d="M200.9 88.61h.01"/>
<path class="b d" d="M200.9 92.92h.01"/>
<path class="m d" d="M200.9 92.82h.01M208.11 88.47h.01M204.73 85.78h.01M200.9 89.26h.01M200.9 92.05h.01M208.11 87.13h.01M200.9 86.92h.01M208.07 84.29h.01M200.9 88.33h.01M200.9 96.14h.01M208.11 89.27h.01M208.11 93.56h.01M208.11 87.6h.01M208.11 91.49h.01"/>
<path class="b d" d="M208.11 90.69h.01M200.9 96.21h.01M208.11 83.26h.01M200.9 94.43h.01M208.11 96.07h.01M208.11 93h.01"/>
<path class="m d" d="M208.11 91.88h.01"/>
<path class="b d" d="M208.11 91.79h.01"/>
<path class="m d" d="M200.9 95.56h.01"/>
<path class="b d" d="M200.9 98.74h.01M200.9 92.72h.01"/>
<path class="m d" d="M207.52 94.86h.01"/>
<path class="b d" d="M200.9 97.45h.01M200.9 90.52h.01"/>
<path class="m d" d="M205.52 87.13h.01"/>
<path class="b d" d="M208.11 88.89h.01"/>
<path class="m d" d="M200.9 83.42h.01M200.9 92.59h.01"/>
<path class="b d" d="M202.54 101.21h.01M200.9 95.55h.01M200.9 96h.01M200.9 97.74h.01M208.11 90.52h.01M200.9 87.03h.01M203.81 98.15h.01M206.35 90.44h.01M206.71 85.77h.01M200.9 88.89h.01M208.11 97.07h.01M208.11 91.99h.01M205.07 99.6h.01"/>
<path class="m d" d="M204.5 101.44h.01"/>
<path class="b d" d="M204.64 94.08h.01M200.9 98.66h.01"/>
<path class="m d" d="M200.9 90.37h.01"/>
<path class="b d" d="M200.9 93.54h.01"/>
<path class="m d" d="M200.9 86.73h.01"/>
<path class="b d" d="M205.72 98.81h.01M203.01 98.87h.01M200.9 87.29h.01M208.11 93.92h.01M207.36 90.12h.01M206.53 98.21h.01M207.34 100h.01M201.51 84.57h.01M208.11 95.27h.01M200.9 94.89h.01M208.11 85.66h.01M208.11 88.43h.01"/>
<path class="b" d="M173.19 106.56h.01"/>
<path class="b d" d="M200.9 97.92h.01"/>
<path class="m d" d="M200.9 92.12h.01"/>
<path class="b d" d="M207.03 88.51h.01"/>
<path class="b" d="M177.57 106.75h.01"/>
<path class="b d" d="M208.11 94.4h.01"/>
<path class="m d" d="M200.9 89.4h.01"/>
<path class="b d" d="M200.9 96.92h.01"/>
<path class="m" d="M176.3 64.09h.01"/>
<path class="b d" d="M200.9 93.81h.01M208.11 93.5h.01M203.29 100.08h.01M206.62 99.28h.01"/>
<path class="m d" d="M208.11 88.86h.01M200.9 92.97h.01M205.57 89.8h.01"/>
<path class="b d" d="M208.11 83.35h.01M208.11 86.75h.01M208.11 92.08h.01M208.11 95h.01"/>
<path class="m d" d="M208.11 94.23h.01"/>
<path class="b d" d="M202.8 96.37h.01"/>
<path class="m d" d="M206.93 82.42h.01"/>
<path class="b d" d="M200.9 91.2h.01"/>
<path class="m d" d="M200.9 94.57h.01"/>
<path class="b d" d="M206.56 89.42h.01M208.11 90.22h.01M208.11 86.65h.01"/>
<path class="m" d="M175.88 81.74h.01"/>
<path class="b d" d="M208.11 92.64h.01M208.11 96.34h.01M200.9 91.36h.01M208.11 88.8h.01M200.9 91.68h.01M203.55 88.63h.01M201.46 93.02h.01"/>
<path class="m" d="M177.4 79.41h.01"/>
<path class="m d" d="M208.11 82.3h.01M207.87 93.88h.01"/>
<path class="b d" d="M200.9 94.76h.01M208.11 99.84h.01M200.9 88.75h.01M202.15 97.15h.01M200.9 96.34h.01M208.11 96.12h.01M204.71 98.59h.01M200.9 94.07h.01M208.11 92.88h.01M203.69 96.79h.01M200.9 92.91h.01"/>
<path class="m d" d="M200.9 94.39h.01M206.75 86.99h.01"/>
<path class="b d" d="M200.9 87.58h.01"/>
<path class="m d" d="M200.9 95.49h.01M208.11 92.91h.01"/>
<path class="m" d="M175.55 72.65h.01"/>
<path class="b d" d="M203.63 95.75h.01"/>
<path class="m d" d="M208.11 93.03h.01M200.9 93.49h.01"/>
<path class="b d" d="M200.9 86.4h.01M208.11 88.3h.01M205.54 94.52h.01M208.11 93.44h.01M202.09 85.69h.01"/>
<path class="m" d="M177.72 80.47h.01"/>
<path class="b d" d="M203.82 86.18h.01M200.9 87.76h.01M201.58 99.06h.01M200.9 92.04h.01M208.11 92.97h.01"/>
<path class="m d" d="M208.11 95.86h.01"/>
<path class="b d" d="M200.9 93.63h.01M206.34 95.14h.01M200.9 99.44h.01"/>
<path class="m d" d="M200.9 94.76h.01"/>
<path class="b d" d="M208.11 90.72h.01M200.9 96.22h.01"/>
<path class="m d" d="M208.11 87.92h.01"/>
<path class="m" d="M174.31 84.27h.01"/>
<path class="b d" d="M201.26 89.47h.01M208.11 95.35h.01M208.11 93.75h.01M205.94 101.33h.01M208.11 94.6h.01M200.9 92.49h.01"/>
<path class="m d" d="M208.11 87.28h.01"/>
<path class="b d" d="M200.9 96.05h.01M200.9 87.7h.01M200.9 86.7h.01M208.11 97.86h.01M200.9 98.39h.01M200.9 92.5h.01M205.54 95.74h.01"/>
<path class="m d" d="M200.9 89.34h.01"/>
<path class="b d" d="M207.29 84.93h.01M200.9 90.32h.01M202.09 90.04h.01M207.13 96.99h.01M201.24 88.19h.01"/>
<path class="m d" d="M200.9 87.41h.01"/>
<path class="b d" d="M200.9 89.18h.01M208.11 91.45h.01"/>
<path class="m d" d="M200.9 89.98h.01"/>
<path class="b d" d="M208.11 92.53h.01M208.11 90.28h.01M208.11 89.62h.01M200.9 91.95h.01M200.9 92.4h.01M200.9 92.88h.01M208.11 87.82h.01M200.9 97.29h.01M203.76 89.79h.01M200.9 90.41h.01M200.9 96.91h.01M208.11 99.35h.01"/>
<path class="m d" d="M206.19 91.51h.01"/>
<path class="b d" d="M208.11 94.98h.01"/>
<path class="m d" d="M200.9 89.66h.01M200.9 89.94h.01"/>
<path class="b d" d="M202.74 95.33h.01"/>
<path class="m d" d="M200.9 88.01h.01"/>
<path class="b d" d="M201.49 86.52h.01M208.11 93.09h.01M208.11 95.46h.01M202.38 99.67h.01M204.76 95.16h.01"/>
<path class="m d" d="M208.11 95.61h.01"/>
<path class="b" d="M176.53 107.24h.01"/>
<path class="b d" d="M202.37 93.38h.01"/>
<path class="m d" d="M203.53 91.78h.01"/>
<path class="b d" d="M200.9 94.5h.01"/>
<path class="m d" d="M208.11 90.33h.01"/>
<path class="b d" d="M200.9 83.31h.01M201.9 95.93h.01"/>
<path class="m d" d="M208.11 98.2h.01"/>
<path class="b d" d="M201.37 97.79h.01"/>
<path class="m d" d="M208.11 97.92h.01"/>
<path class="b d" d="M208.11 96.2h.01M208.11 94.42h.01M208.11 87h.01M207.63 99h.01M208.11 91.31h.01M206.45 96.23h.01M208.11 97.77h.01M208.11 97.61h.01"/>
<path class="m d" d="M208.11 89.9h.01M201.21 94.03h.01"/>
<path class="b d" d="M208.11 97.34h.01M208.11 87.67h.01M200.9 98.57h.01M208.11 91.75h.01M208.11 94.9h.01M202.85 89.38h.01"/>
<path class="m d" d="M208.11 97.83h.01"/>
<path class="b d" d="M200.9 93.82h.01M202.72 88.07h.01M200.9 96.68h.01M208.11 93.5h.01M200.9 96.62h.01M203.87 94.7h.01M208.11 89.95h.01M200.9 95.23h.01M208.11 93.6h.01M208.11 90.68h.01"/>
<path class="m d" d="M208.11 86.46h.01"/>
<path class="b d" d="M200.9 96.66h.01M200.9 97.22h.01M200.9 87.48h.01M208.11 95.4h.01M200.9 94.97h.01M208.11 87.43h.01M200.9 96.11h.01"/>
<path class="m d" d="M200.9 87.04h.01"/>
<path class="b d" d="M208.11 92.21h.01"/>
<path class="m" d="M178.23 74.37h.01"/>
<path class="b d" d="M204.5 88.9h.01"/>
<path class="b" d="M177.36 108.13h.01"/>
<path class="m d" d="M203.34 87.21h.01"/>
<path class="b d" d="M200.9 98.06h.01M200.9 93.51h.01M208.11 97.07h.01M201.93 87.44h.01M200.9 89.62h.01"/>
<path class="m d" d="M200.9 95.49h.01M208.11 95.83h.01"/>
<path class="b d" d="M203.92 99.22h.01"/>
<path class="m d" d="M208.11 82.74h.01"/>
<path class="b d" d="M208.11 88.28h.01"/>
<path class="m d" d="M200.9 91.04h.01"/>
<path class="b d" d="M208.11 89.59h.01M200.9 91.71h.01M200.9 93.27h.01M200.9 92.48h.01M205.37 97.84h.01"/>
<path class="m d" d="M200.9 89.87h.01"/>
<path class="b d" d="M202.21 94.44h.01M200.9 97.46h.01"/>
<path class="m d" d="M202.74 83.48h.01"/>
<path class="b d" d="M206.75 94.2h.01"/>
<path class="m d" d="M208.11 98.04h.01"/>
<path class="b d" d="M208.11 89.34h.01"/>
<path class="m d" d="M208.11 89.19h.01M201.36 95.06h.01"/>
<path class="b d" d="M208.11 94.69h.01M208.11 89.22h.01M205.56 82.4h.01"/>
<path class="m d" d="M200.9 88.26h.01"/>
<path class="b d" d="M208.11 94.97h.01M200.9 91.7h.01M208.11 95.58h.01M208.11 90.21h.01M203.42 84.22h.01M205.78 88.79h.01M200.9 99.41h.01M208.11 92.46h.01M200.9 95.85h.01M200.9 87.71h.01M207.23 92.18h.01"/>
<path class="m d" d="M208.11 87.56h.01"/>
<path class="b d" d="M207.49 97.96h.01"/>
<path class="m d" d="M200.9 89.15h.01M203.91 93.39h.01"/>
<path class="b d" d="M200.9 92.22h.01M200.9 89.37h.01M208.11 92.36h.01M200.9 97.52h.01M200.9 87.92h.01M205.02 93.12h.01M200.9 95.91h.01M200.9 98.41h.01M200.9 94.02h.01M205.95 93.58h.01M208.11 93.47h.01M200.9 95.02h.01M208.11 89.36h.01M208.11 96.07h.01M200.9 88.13h.01M208.03 96.65h.01M200.9 96.33h.01M200.9 97.04h.01M208.11 98.67h.01M202.22 98.27h.01M207.36 95.88h.01M208.11 98.31h.01M200.98 99.94h.01M208.11 98.4h.01"/>
<path class="b" d="M175.14 110.66h.01"/>
<path class="m" d="M179.4 81.23h.01"/>
<path class="m d" d="M200.9 90.81h.01M201.8 100.52h.01M200.9 94.8h.01M208.11 98.76h.01"/>
<path class="m" d="M176.92 81.25h.01"/>
<path class="b d" d="M204.67 91.46h.01"/>
<path class="m" d="M187.18 81.12h.01"/>
<path class="m d" d="M215.23 89.18h.01M209.91 89.73h.01"/>
<path class="m" d="M184.07 59.5h.01"/>
<path class="m d" d="M217.13 93.87h.01"/>
<path class="m" d="M181.92 78.92h.01"/>
<path class="m d" d="M217.13 91.23h.01M212.5 79.19h.01M212.14 82.22h.01"/>
<path class="m" d="M184.07 45.71h.01"/>
<path class="m d" d="M213.02 90.91h.01M215.86 83.14h.01M212.58 84.1h.01M217.13 99.2h.01"/>
<path class="m" d="M184.07 71.45h.01M182.91 75.05h.01"/>
<path class="m d" d="M209.91 91.81h.01M214.12 79.54h.01M211.15 94.11h.01"/>
<path class="b d" d="M209.91 95.47h.01M217.13 91.94h.01M217.13 93.51h.01"/>
<path class="m d" d="M216.5 85.18h.01M212.64 94.45h.01M213.93 86.65h.01M211.13 82.72h.01"/>
<path class="m" d="M184.58 77.68h.01"/>
<path class="m d" d="M217.13 94.85h.01M209.91 85.45h.01M217.13 92.95h.01M215.72 85.81h.01"/>
<path class="m" d="M184.07 72.61h.01"/>
<path class="m d" d="M209.91 90.79h.01M215.5 80.27h.01"/>
<path class="m" d="M182.98 79.36h.01"/>
<path class="m d" d="M209.91 90.21h.01M217.13 84.44h.01"/>
<path class="b d" d="M217.13 99.65h.01"/>
<path class="m" d="M184.07 106.64h.01"/>
<path class="m d" d="M213.35 82.26h.01M215.77 95.91h.01M212.28 86.49h.01M211.75 83.52h.01M217.13 83.94h.01M217.13 86.44h.01M217.13 88.1h.01"/>
<path class="b d" d="M217.13 94.9h.01"/>
<path class="m d" d="M215.45 78.12h.01"/>
<path class="b d" d="M209.91 91.48h.01M209.91 96.78h.01M209.91 98.14h.01M212.09 92.54h.01M209.91 94.9h.01"/>
<path class="m d" d="M216.51 92.69h.01M217.13 93.12h.01"/>
<path class="b d" d="M217.13 96.33h.01"/>
<path class="m d" d="M209.91 91.51h.01M212.82 81.38h.01"/>
<path class="b d" d="M217.13 99.19h.01M217.13 88.71h.01M217.13 92.56h.01M217.13 93.74h.01"/>
<path class="m d" d="M213.2 79.92h.01"/>
<path class="b d" d="M209.91 90.76h.01"/>
<path class="m d" d="M209.91 83.79h.01M217.13 89.15h.01"/>
<path class="b d" d="M217.13 88h.01M211.22 97.84h.01M214.32 78.28h.01M213.44 98.73h.01"/>
<path class="m d" d="M209.91 98.04h.01"/>
<path class="b d" d="M216.89 81.76h.01"/>
<path class="m" d="M184.07 75.12h.01"/>
<path class="m d" d="M209.91 83.83h.01"/>
<path class="b d" d="M217.13 94.13h.01"/>
<path class="m d" d="M217.13 98.81h.01"/>
<path class="b d" d="M209.91 95.73h.01"/>
<path class="m d" d="M213.67 80.84h.01M209.91 85.11h.01"/>
<path class="b d" d="M215.25 92.95h.01M209.91 89.38h.01M214.31 84.36h.01"/>
<path class="m d" d="M209.91 83.02h.01M217.13 88.03h.01"/>
<path class="b d" d="M209.91 92.93h.01"/>
<path class="m d" d="M209.91 90.42h.01M217.13 97.06h.01M209.91 87.7h.01"/>
<path class="b d" d="M217.13 87.81h.01M209.91 90.82h.01M209.91 95.52h.01"/>
<path class="m d" d="M217.13 97.12h.01"/>
<path class="b d" d="M209.91 99.51h.01M214.13 97.99h.01"/>
<path class="m d" d="M209.91 91.74h.01M209.91 91.23h.01"/>
<path class="b d" d="M211.62 95.03h.01M213.52 88.85h.01M217.13 89.74h.01"/>
<path class="m d" d="M209.91 87.45h.01M209.91 94.95h.01"/>
<path class="b d" d="M217.13 87.34h.01M217.13 96.93h.01M217.13 90.76h.01M209.91 94.35h.01"/>
<path class="m" d="M185.22 72.49h.01"/>
<path class="b d" d="M217.13 88.44h.01M209.91 95.76h.01"/>
<path class="m d" d="M209.91 85.78h.01"/>
<path class="b d" d="M209.91 89.45h.01M209.91 90.84h.01M211.09 90.77h.01M214.27 81.84h.01M209.91 88.71h.01M209.91 84.33h.01M214.11 90.56h.01M209.91 93.7h.01"/>
<path class="m d" d="M217.13 82.49h.01"/>
<path class="m" d="M180.96 78.6h.01"/>
<path class="m d" d="M209.91 99.87h.01"/>
<path class="b d" d="M216.88 90.63h.01"/>
<path class="m d" d="M215.92 90.89h.01M209.91 92.6h.01"/>
<path class="b d" d="M217.13 92.61h.01M217.13 94.06h.01M210.84 95.77h.01"/>
<path class="m d" d="M209.91 93.02h.01M217.13 98.22h.01"/>
<path class="b d" d="M214.4 93.48h.01"/>
<path class="m d" d="M217.13 90.86h.01"/>
<path class="b d" d="M209.91 87.88h.01"/>
<path class="m d" d="M209.91 92.56h.01M209.91 94.1h.01"/>
<path class="b d" d="M213.63 96.19h.01"/>
<path class="m d" d="M209.91 94.13h.01M209.91 92.38h.01"/>
<path class="b d" d="M209.91 95.15h.01M213.37 97.37h.01"/>
<path class="m d" d="M217.13 95.9h.01"/>
<path class="b d" d="M212.02 97.29h.01M210.85 92.06h.01"/>
<path class="m d" d="M215.72 92.03h.01"/>
<path class="b d" d="M217.13 92.27h.01M217.13 92.18h.01M209.91 97.35h.01M214.98 83.6h.01"/>
<path class="m d" d="M217.13 83.83h.01"/>
<path class="b d" d="M217.13 87.97h.01M209.91 93.85h.01M209.91 96.41h.01M209.91 98.63h.01"/>
<path class="b" d="M184.07 69.25h.01M187.18 78.32h.01"/>
<path class="b d" d="M209.91 97.34h.01M217.13 90.21h.01M217.13 92.13h.01"/>
<path class="m d" d="M209.91 93.64h.01"/>
<path class="b d" d="M216.9 100.4h.01M211.22 93.03h.01M217.13 93.84h.01M213.74 92.69h.01"/>
<path class="m d" d="M217.13 99.33h.01M217.13 87.95h.01"/>
<path class="b d" d="M217.13 88.49h.01"/>
<path class="m d" d="M209.91 88.09h.01"/>
<path class="b d" d="M215.25 99.97h.01M217.13 93.79h.01"/>
<path class="m d" d="M212.44 95.59h.01M210.19 87.66h.01"/>
<path class="b d" d="M215.7 98.66h.01M217.13 97.34h.01"/>
<path class="m d" d="M215.06 95.04h.01M217.13 84.59h.01"/>
<path class="b d" d="M217.13 95.27h.01M210.85 99.67h.01M209.91 93.22h.01M213.45 78.77h.01"/>
<path class="m d" d="M209.91 86.82h.01"/>
<path class="b d" d="M213.52 100.9h.01M217.13 95.24h.01"/>
<path class="m d" d="M217.13 92.32h.01"/>
<path class="m" d="M183.49 77.32h.01"/>
<path class="m d" d="M215.14 90.22h.01"/>
<path class="b d" d="M217.13 94.83h.01"/>
<path class="m d" d="M211.5 85.85h.01"/>
<path class="b d" d="M217.13 93.8h.01"/>
<path class="m d" d="M209.91 96.7h.01"/>
<path class="b d" d="M217.13 96.09h.01M212.66 98.09h.01M212.51 99.12h.01"/>
<path class="m" d="M183.1 70.85h.01"/>
<path class="b d" d="M214.3 96.96h.01M217.13 98.15h.01"/>
<path class="m" d="M187.18 80.48h.01"/>
<path class="m d" d="M209.91 89.95h.01"/>
<path class="b d" d="M209.91 96.66h.01"/>
<path class="m d" d="M217.13 87.53h.01M209.91 98.16h.01M209.91 87.96h.01M215.69 84.48h.01"/>
<path class="b d" d="M209.91 91.97h.01"/>
<path class="m d" d="M212.85 93.15h.01M209.91 89.72h.01M209.91 81.68h.01"/>
<path class="b d" d="M211.44 89.76h.01"/>
<path class="m d" d="M213.18 85.97h.01"/>
<path class="b d" d="M217.13 95.01h.01"/>
<path class="m d" d="M209.91 98.5h.01"/>
<path class="b d" d="M215.95 82.07h.01M217.13 94.65h.01"/>
<path class="m d" d="M212.55 100.81h.01"/>
<path class="b d" d="M209.96 92.66h.01"/>
<path class="m" d="M185.22 106.55h.01"/>
<path class="m d" d="M217.13 97.16h.01M216.52 83.98h.01M217.13 82.72h.01"/>
<path class="b d" d="M210.24 91.24h.01M209.91 93.37h.01"/>
<path class="m d" d="M217.13 91.66h.01M209.91 94.29h.01"/>
<path class="b d" d="M213.36 89.89h.01M209.91 91.96h.01M217 89.58h.01"/>
<path class="m d" d="M215.06 82.53h.01"/>
<path class="b d" d="M217.13 94.08h.01M211.93 100.02h.01M217.13 91.61h.01M215 91.25h.01M217.13 86.57h.01"/>
<path class="m" d="M186.16 78.96h.01"/>
<path class="m d" d="M217.13 88.57h.01"/>
<path class="b d" d="M209.91 96.13h.01M209.91 95.29h.01"/>
<path class="m d" d="M217.13 91.38h.01"/>
<path class="b d" d="M217.13 91.95h.01M217.13 94.1h.01"/>
<path class="m d" d="M217.13 90.04h.01M209.91 95.98h.01"/>
<path class="b d" d="M217.13 93.42h.01"/>
<path class="m d" d="M209.91 90.74h.01"/>
<path class="b d" d="M217.13 98.34h.01M217.13 97.3h.01"/>
<path class="b" d="M185.27 76.8h.01"/>
<path class="b d" d="M209.91 99.07h.01"/>
<path class="m d" d="M209.91 94.11h.01"/>
<path class="b d" d="M209.91 93.6h.01M217.13 95.71h.01M212.65 78.16h.01M212.97 92.07h.01M217.13 93.37h.01"/>
<path class="m d" d="M217.13 93.21h.01"/>
<path class="b d" d="M217.13 98.43h.01"/>
<path class="m" d="M182.47 76.8h.01"/>
<path class="m d" d="M209.91 92.2h.01M217.13 89h.01M209.91 92.8h.01M211.61 84.79h.01"/>
<path class="m" d="M184.07 81.04h.01"/>
<path class="m d" d="M209.91 84.25h.01"/>
<path class="m" d="M180.96 80.52h.01"/>
<path class="m d" d="M217.13 92.64h.01M209.91 98.32h.01M217.13 94.61h.01M209.91 97.12h.01M217.13 94.28h.01M209.91 91.8h.01"/>
<path class="b d" d="M217.13 94.22h.01M209.91 96.37h.01M209.91 96.23h.01M209.91 89.95h.01M217.13 99.84h.01M209.91 92.55h.01"/>
<path class="m d" d="M217.13 89.35h.01"/>
<path class="b d" d="M217.13 91.97h.01"/>
<path class="m d" d="M209.91 92.84h.01"/>
<path class="b d" d="M209.91 100.17h.01M214.72 98.82h.01"/>
<path class="m d" d="M215.12 101.3h.01"/>
<path class="b d" d="M209.91 99.29h.01M217.13 96.8h.01"/>
<path class="m d" d="M209.91 86.05h.01"/>
<path class="b d" d="M210.27 97.66h.01"/>
<path class="m d" d="M217.13 93.45h.01M209.91 82.56h.01"/>
<path class="b d" d="M217.13 95.98h.01M210.59 98.64h.01M217.13 85.05h.01M217.13 96.79h.01M209.91 96.43h.01M209.91 96.49h.01M209.91 89.58h.01M217.13 90.83h.01M216.42 86.57h.01M217.13 96.44h.01M217.13 96.76h.01M217.13 97.25h.01M217.13 97.83h.01"/>
<path class="m d" d="M209.91 96.79h.01"/>
<path class="b d" d="M209.91 93.88h.01M209.91 97.32h.01"/>
<path class="m d" d="M212.47 85.25h.01"/>
<path class="b d" d="M209.91 93.54h.01"/>
<path class="m d" d="M209.91 87.01h.01"/>
<path class="b d" d="M217.13 93.24h.01M215.25 94.02h.01M209.91 97.44h.01M217.13 91.16h.01M209.91 93.39h.01M214.03 99.56h.01M217.13 98.07h.01M217.13 96.63h.01"/>
<path class="b" d="M182.02 105.87h.01"/>
<path class="b d" d="M217.13 91.67h.01M209.91 94.8h.01M214.58 92.19h.01M209.91 99.63h.01M217.13 100.15h.01"/>
<path class="m d" d="M217.13 91.88h.01"/>
<path class="b d" d="M214.15 82.87h.01M214.43 100.56h.01M217.13 86.12h.01"/>
<path class="m d" d="M210.17 100.55h.01"/>
<path class="b d" d="M209.91 90.52h.01"/>
<path class="m d" d="M209.91 84.06h.01"/>
<path class="b d" d="M209.91 92.79h.01M209.91 96.89h.01M217.13 96.15h.01M209.91 96.32h.01"/>
<path class="m d" d="M209.91 91.87h.01M217.13 92.82h.01M212.67 88.33h.01"/>
<path class="b d" d="M215.47 88.17h.01M209.91 98.3h.01M209.91 94.86h.01M209.91 95.67h.01"/>
<path class="m d" d="M209.91 94.17h.01"/>
<path class="b d" d="M209.91 84.63h.01"/>
<path class="m d" d="M214.04 85.47h.01"/>
<path class="b d" d="M209.91 93.92h.01"/>
<path class="m d" d="M210.3 93.64h.01"/>
<path class="b d" d="M217.13 89.71h.01M217.13 85.65h.01M214.5 88.5h.01"/>
<path class="m d" d="M217.13 92.95h.01"/>
<path class="b d" d="M209.91 93.38h.01M209.91 90.77h.01M209.91 92.32h.01M209.91 91.92h.01M217.13 89.71h.01M209.91 94.21h.01M209.91 97.14h.01"/>
<path class="m d" d="M212.72 83.06h.01M214.28 89.51h.01M213.06 87.13h.01"/>
<path class="b d" d="M209.91 96.4h.01M217.13 95.75h.01M209.91 91.42h.01M217.13 96.03h.01M210.45 94.82h.01M209.91 92.12h.01"/>
<path class="b" d="M182.91 106.57h.01"/>
<path class="b d" d="M217.13 97.78h.01M209.91 95.55h.01M217.13 98.5h.01M209.91 94.24h.01"/>
<path class="m d" d="M217 97.48h.01M217.13 94.05h.01"/>
<path class="b d" d="M214.14 94.67h.01"/>
<path class="m d" d="M209.91 98.4h.01M217.13 90.44h.01M209.91 86.46h.01"/>
<path class="b d" d="M217.13 97.36h.01"/>
<path class="m d" d="M217.13 90.09h.01M209.91 96.26h.01"/>
<path class="b d" d="M209.91 93.78h.01M209.91 88.96h.01"/>
<path class="b" d="M185.46 80.68h.01"/>
<path class="b d" d="M217.13 96.23h.01M214.88 86.36h.01"/>
<path class="m" d="M182.91 72.57h.01"/>
<path class="b d" d="M209.91 87.98h.01M209.91 95.37h.01M214.65 87.47h.01M212.36 80.46h.01M209.91 95.24h.01"/>
<path class="m d" d="M209.91 97.09h.01"/>
<path class="b d" d="M212.45 89.48h.01M209.91 97.91h.01M210.21 83.33h.01"/>
<path class="m d" d="M217.13 94.16h.01"/>
<path class="b d" d="M217.13 93.7h.01M217.13 89.32h.01"/>
<path class="m d" d="M217.13 84.25h.01M213.38 84.71h.01"/>
<path class="b d" d="M217.13 96.16h.01M217.13 97.96h.01M209.91 93.84h.01M217.13 96.26h.01M209.91 88.2h.01M209.91 92.17h.01"/>
<path class="m" d="M182.27 80.76h.01"/>
<path class="b d" d="M217.13 95.46h.01M216.65 95.52h.01M209.91 93.27h.01M209.91 100.39h.01M212 93.66h.01M217.13 96.42h.01M217.13 92.06h.01"/>
<path class="m d" d="M217.13 90.71h.01"/>
<path class="b d" d="M210.88 96.86h.01M217.13 93.61h.01M217.13 93.09h.01M217.13 88.02h.01M213.77 87.85h.01"/>
<path class="m d" d="M216.19 99.66h.01"/>
<path class="b d" d="M217.13 95.12h.01M217.13 91.47h.01"/>
<path class="m d" d="M217.1 83.14h.01"/>
<path class="b d" d="M209.91 87.03h.01M214.65 95.99h.01M217.13 91.55h.01M211.08 88.01h.01M217.13 94.83h.01M209.91 89.42h.01M217.13 92.6h.01M217.13 92.4h.01M209.91 86.33h.01M209.91 93.93h.01M217.13 96.15h.01M217.13 100.2h.01"/>
<path class="m d" d="M214.99 79.04h.01"/>
<path class="b d" d="M217.13 87.43h.01"/>
<path class="m d" d="M209.91 92.35h.01M209.91 91.43h.01"/>
<path class="b d" d="M217.13 97.13h.01"/>
<path class="m d" d="M209.91 82.87h.01"/>
<path class="b d" d="M217.13 93.65h.01M209.91 95.57h.01M215.27 96.81h.01M216.03 97.58h.01M217.13 86.77h.01"/>
<path class="m d" d="M217.13 92.85h.01"/>
<path class="b d" d="M209.91 97.19h.01M209.91 97.48h.01"/>
<path class="m d" d="M209.91 91.77h.01"/>
<path class="b d" d="M216.75 91.67h.01"/>
<path class="m d" d="M209.91 88.52h.01"/>
<path class="b d" d="M217.13 95.37h.01M215.99 94.69h.01"/>
<path class="m d" d="M209.91 94.84h.01"/>
<path class="b d" d="M214.95 85.16h.01"/>
<path class="m d" d="M213.11 99.95h.01"/>
<path class="b d" d="M209.91 91.89h.01M209.91 93.36h.01M213.33 95.2h.01M213.52 93.88h.01M209.91 95.62h.01M209.91 97.28h.01M209.91 99.18h.01M217.13 95.66h.01"/>
<path class="m d" d="M217.13 88.58h.01M209.91 94.83h.01"/>
<path class="b d" d="M209.91 98.52h.01M209.91 93.16h.01M209.91 96.75h.01"/>
<path class="b" d="M187.18 78.72h.01"/>
<path class="b d" d="M209.91 91.97h.01M209.91 93.11h.01"/>
<path class="m" d="M184.07 79.72h.01"/>
<path class="b d" d="M216.37 87.77h.01M217.13 90.63h.01M215.08 97.85h.01M217.13 91.59h.01M217.13 97.45h.01M210.5 81.91h.01M209.91 93.39h.01M217.13 93.18h.01M209.91 93.79h.01M209.91 88.12h.01"/>
<path class="m d" d="M209.91 88.29h.01"/>
<path class="b d" d="M216.19 93.67h.01M209.91 94.16h.01M212 87.56h.01M209.91 96.62h.01M209.91 91.94h.01M213.52 83.67h.01M209.91 98.01h.01"/>
<path class="m d" d="M211.74 88.77h.01"/>
<path class="b d" d="M217.13 92.54h.01"/>
<path class="m d" d="M209.91 94.08h.01"/>
<path class="b d" d="M217.13 91.86h.01M215.98 100.79h.01"/>
<path class="m d" d="M217.13 94.07h.01"/>
<path class="b d" d="M217.13 96.36h.01M209.91 94.82h.01M217.13 98h.01M217.13 83.71h.01M217.13 93.93h.01"/>
<path class="m d" d="M215.57 87.1h.01M216.25 88.81h.01"/>
<path class="b d" d="M212.1 90.53h.01"/>
<path class="m" d="M181 81.36h.01"/>
<path class="b d" d="M216.94 94.41h.01"/>
<path class="m d" d="M209.91 95.4h.01"/>
<path class="b" d="M183.97 78.6h.01M183.61 74.13h.01"/>
<path class="b d" d="M217.13 89.42h.01M211.73 78.54h.01M217.13 95.58h.01"/>
<path class="m d" d="M217.13 82.41h.01"/>
<path class="b d" d="M209.91 85.44h.01M209.91 99.75h.01"/>
<path class="m d" d="M214.65 80.8h.01"/>
<path class="b d" d="M209.91 96.28h.01"/>
<path class="m d" d="M217.13 96.64h.01"/>
<path class="b d" d="M217.13 97.3h.01"/>
<path class="m d" d="M217.13 93.16h.01M217.13 88.29h.01"/>
<path class="b d" d="M209.91 89.22h.01M209.91 90.5h.01M209.91 88.88h.01"/>
<path class="m d" d="M210.49 86.24h.01"/>
<path class="b d" d="M217.13 94.12h.01M209.91 88.69h.01M209.91 88.01h.01M217.13 83.1h.01M210.35 90.09h.01M217.13 94.2h.01M217.13 95.5h.01M217.13 92.44h.01M217.13 93.57h.01M210.77 89h.01M217.13 93.47h.01"/>
<path class="m d" d="M211.57 98.82h.01"/>
<path class="b d" d="M211.73 91.57h.01"/>
<path class="m d" d="M209.91 94.29h.01M209.91 91.29h.01"/>
<path class="b d" d="M217.13 85.09h.01M210.72 85.21h.01M209.91 82.45h.01M217.13 92.12h.01M210.87 84.1h.01M216.45 96.63h.01M217.13 98.6h.01M217.13 90.75h.01M217.13 96.65h.01M217.13 94.94h.01M211.19 86.97h.01M209.91 92.94h.01M209.91 94.07h.01M217.13 98.03h.01M209.91 92.51h.01M216.62 98.44h.01M217.13 94.96h.01M217.13 95.54h.01M213.8 91.55h.01M209.91 97.45h.01M212.75 96.58h.01M217.13 92.62h.01M216.06 89.83h.01M217.13 91.41h.01M211.15 100.66h.01"/>
<path class="m" d="M181.78 72.33h.01"/>
<path class="m d" d="M217.13 85.46h.01M209.91 96.03h.01M209.91 97.86h.01M209.91 93.33h.01"/>
<path class="m" d="M185.01 79.08h.01"/>
<path class="b d" d="M211.68 96.32h.01"/>
</g>
<g transform="scale(0.61 0.5)">
<rect x="44.26" y="10.80" width="849.18" height="542.20" fill="none" stroke="#000" stroke-width="0.9"/>
<g stroke="#000" stroke-width="0.9">
<line x1="62.05" y1="553.00" x2="62.05" y2="556.50"/>
<line x1="99.01" y1="553.00" x2="99.01" y2="556.50"/>
<line x1="135.96" y1="553.00" x2="135.96" y2="556.50"/>
<line x1="172.92" y1="553.00" x2="172.92" y2="556.50"/>
<line x1="209.87" y1="553.00" x2="209.87" y2="556.50"/>
<line x1="246.83" y1="553.00" x2="246.83" y2="556.50"/>
<line x1="283.79" y1="553.00" x2="283.79" y2="556.50"/>
<line x1="320.74" y1="553.00" x2="320.74" y2="556.50"/>
<line x1="357.70" y1="553.00" x2="357.70" y2="556.50"/>
<line x1="394.65" y1="553.00" x2="394.65" y2="556.50"/>
<line x1="431.61" y1="553.00" x2="431.61" y2="556.50"/>
<line x1="468.57" y1="553.00" x2="468.57" y2="556.50"/>
<line x1="505.52" y1="553.00" x2="505.52" y2="556.50"/>
<line x1="542.48" y1="553.00" x2="542.48" y2="556.50"/>
<line x1="579.43" y1="553.00" x2="579.43" y2="556.50"/>
<line x1="616.39" y1="553.00" x2="616.39" y2="556.50"/>
<line x1="653.35" y1="553.00" x2="653.35" y2="556.50"/>
<line x1="690.30" y1="553.00" x2="690.30" y2="556.50"/>
<line x1="727.26" y1="553.00" x2="727.26" y2="556.50"/>
<line x1="764.21" y1="553.00" x2="764.21" y2="556.50"/>
<line x1="801.17" y1="553.00" x2="801.17" y2="556.50"/>
<line x1="838.13" y1="553.00" x2="838.13" y2="556.50"/>
<line x1="875.08" y1="553.00" x2="875.08" y2="556.50"/>
<line x1="40.76" y1="504.40" x2="44.26" y2="504.40"/>
<line x1="40.76" y1="438.00" x2="44.26" y2="438.00"/>
<line x1="40.76" y1="371.60" x2="44.26" y2="371.60"/>
<line x1="40.76" y1="305.20" x2="44.26" y2="305.20"/>
<line x1="40.76" y1="238.80" x2="44.26" y2="238.80"/>
<line x1="40.76" y1="172.40" x2="44.26" y2="172.40"/>
<line x1="40.76" y1="106.00" x2="44.26" y2="106.00"/>
<line x1="40.76" y1="39.60" x2="44.26" y2="39.60"/>
</g>
<g class="t" font-size="10.0">
<text transform="translate(34.75 508.00) scale(0.8 1)" text-anchor="end">−2</text>
<text transform="translate(34.75 441.60) scale(0.8 1)" text-anchor="end">0</text>
<text transform="translate(34.75 375.20) scale(0.8 1)" text-anchor="end">2</text>
<text transform="translate(34.75 308.80) scale(0.8 1)" text-anchor="end">4</text>
<text transform="translate(34.75 242.40) scale(0.8 1)" text-anchor="end">6</text>
<text transform="translate(34.75 176.00) scale(0.8 1)" text-anchor="end">8</text>
<text transform="translate(34.75 109.60) scale(0.8 1)" text-anchor="end">10</text>
<text transform="translate(34.75 43.20) scale(0.8 1)" text-anchor="end">12</text>
<text transform="translate(64.55 561.60) scale(0.9 1.02) rotate(-90)" text-anchor="end">radius_mean</text>
<text transform="translate(101.51 561.60) scale(0.9 1.02) rotate(-90)" text-anchor="end">texture_mean</text>
<text transform="translate(138.46 561.60) scale(0.9 1.02) rotate(-90)" text-anchor="end">perimeter_mean</text>
<text transform="translate(175.42 561.60) scale(0.9 1.02) rotate(-90)" text-anchor="end">area_mean</text>
<text transform="translate(212.37 561.60) scale(0.9 1.02) rotate(-90)" text-anchor="end">compactness_mean</text>
<text transform="translate(249.33 561.60) scale(0.9 1.02) rotate(-90)" text-anchor="end">concavity_mean</text>
<text transform="translate(286.29 561.60) scale(0.9 1.02) rotate(-90)" text-anchor="end">concave points_mean</text>
<text transform="translate(323.24 561.60) scale(0.9 1.02) rotate(-90)" text-anchor="end">radius_se</text>
<text transform="translate(360.20 561.60) scale(0.9 1.02) rotate(-90)" text-anchor="end">perimeter_se</text>
<text transform="translate(397.15 561.60) scale(0.9 1.02) rotate(-90)" text-anchor="end">area_se</text>
<text transform="translate(434.11 561.60) scale(0.9 1.02) rotate(-90)" text-anchor="end">compactness_se</text>
<text transform="translate(471.07 561.60) scale(0.9 1.02) rotate(-90)" text-anchor="end">concavity_se</text>
<text transform="translate(508.02 561.60) scale(0.9 1.02) rotate(-90)" text-anchor="end">concave points_se</text>
<text transform="translate(544.98 561.60) scale(0.9 1.02) rotate(-90)" text-anchor="end">radius_worst</text>
<text transform="translate(581.93 561.60) scale(0.9 1.02) rotate(-90)" text-anchor="end">texture_worst</text>
<text transform="translate(618.89 561.60) scale(0.9 1.02) rotate(-90)" text-anchor="end">perimeter_worst</text>
<text transform="translate(655.85 561.60) scale(0.9 1.02) rotate(-90)" text-anchor="end">area_worst</text>
<text transform="translate(692.80 561.60) scale(0.9 1.02) rotate(-90)" text-anchor="end">smoothness_worst</text>
<text transform="translate(729.76 561.60) scale(0.9 1.02) rotate(-90)" text-anchor="end">compactness_worst</text>
<text transform="translate(766.71 561.60) scale(0.9 1.02) rotate(-90)" text-anchor="end">concavity_worst</text>
<text transform="translate(803.67 561.60) scale(0.9 1.02) rotate(-90)" text-anchor="end">concave points_worst</text>
<text transform="translate(840.63 561.60) scale(0.9 1.02) rotate(-90)" text-anchor="end">symmetry_worst</text>
<text transform="translate(877.58 561.60) scale(0.9 1.02) rotate(-90)" text-anchor="end">fractal_dimension_worst</text>
<text x="468.52" y="694.00" text-anchor="middle">features</text>
<text transform="translate(13.77 282.60) rotate(-90)" text-anchor="middle">values</text>
</g>
<rect x="829.18" y="16.40" width="59.02" height="49.20" rx="2" fill="#fff" fill-opacity="0.8" stroke="#ccc" stroke-width="1"/>
<g class="t" font-size="10.0">
<text x="858.36" y="28.40" text-anchor="middle">diagnosis</text>
<text x="870.49" y="43.40">M</text>
<text x="870.49" y="59.80">B</text>
</g>
<circle cx="850.00" cy="40.80" r="4.2" fill="#4878d0"/>
<circle cx="850.00" cy="56.80" r="4.2" fill="#ee854a"/>
</g>
</svg>
</body></html>
